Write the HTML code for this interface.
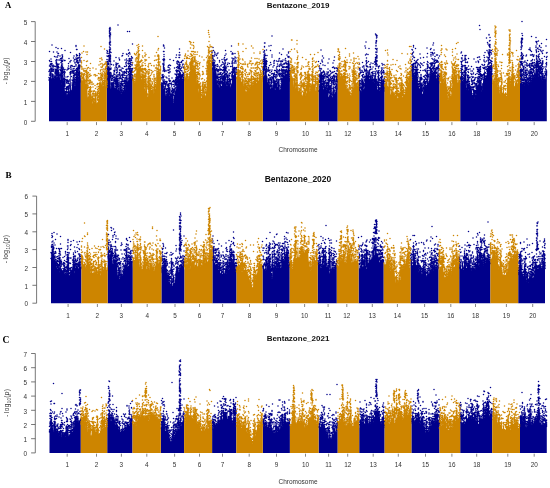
<!DOCTYPE html>
<html><head><meta charset="utf-8"><title>Manhattan plots</title>
<style>
html,body{margin:0;padding:0;background:#fff;}
body{width:550px;height:488px;overflow:hidden;}
svg{display:block;}
.tk{font-family:"Liberation Sans",Arial,sans-serif;font-size:6.4px;fill:#333;}
.yl{font-family:"Liberation Sans",Arial,sans-serif;fill:#333;}
.xl{font-family:"Liberation Sans",Arial,sans-serif;font-size:6.5px;fill:#333;}
.ti{font-family:"Liberation Sans",Arial,sans-serif;font-weight:bold;fill:#111;}
.pl{font-family:"Liberation Serif","Times New Roman",serif;font-weight:bold;fill:#000;}
.d{stroke-width:1.5;stroke-linecap:round;fill:none;}
</style></head><body>
<svg width="550" height="488" viewBox="0 0 550 488">
<rect width="550" height="488" fill="#fff"/>
<g class="dots">
<path fill="#00008B" d="M49 121.3L49 78.9L49.5 78.6L50 77.4L50.5 77.1L51 78.5L51.5 78.1L52 79.7L52.5 79.3L53 77.7L53.5 77.4L54 78.7L54.5 78.9L55 75.9L55.5 76L56 73.7L56.5 73.7L57 78.2L57.5 78.3L58 78.9L58.5 79L59 75.9L59.5 76.7L60 77.8L60.5 78.6L61 80.2L61.5 81L62 84.9L62.5 85.7L63 83.8L63.5 84.9L64 83.7L64.5 84.8L65 92L65.5 93L66 91.5L66.5 91.5L67 95.8L67.5 95.8L68 93.9L68.5 93.9L69 95.6L69.5 94.8L70 73.7L70.5 73.7L71 90.7L71.5 89.9L72 84.5L72.5 83.5L73 82.8L73.5 81.8L74 81.9L74.5 80.9L75 86.8L75.5 85.8L76 73.7L76.5 73.7L77 77.1L77.5 77L78 73.7L78.5 73.7L79 80.9L79.5 80.7L80 77.4L80.5 77.3L80.8 77.2L80.8 121.3ZM106.8 121.3L106.8 73.7L107.3 73.7L107.8 75.9L108.3 75.9L108.8 76L109.3 76L109.8 76.7L110.3 76.7L110.8 88.6L111.3 88.9L111.8 82.6L112.3 83.1L112.8 81.6L113.3 82.1L113.8 81.1L114.3 81.8L114.8 88L115.3 88.8L115.8 80.5L116.3 81.3L116.8 85.5L117.3 86.2L117.8 89.5L118.3 90.1L118.8 73.7L119.3 73.7L119.8 91.1L120.3 91.7L120.8 93.5L121.3 93.7L121.8 84.3L122.3 84.1L122.8 92.1L123.3 91.9L123.8 90L124.3 89.8L124.8 91.9L125.3 90.1L125.8 85.8L126.3 83L126.8 83.1L127.3 81.8L127.8 73.7L128.3 73.7L128.8 80.9L129.3 80.7L129.8 73.7L130.3 73.7L130.8 73.9L131.3 73.7L131.8 78.8L132.3 78.5L132.5 78.4L132.5 121.3ZM160.8 121.3L160.8 84.7L161.3 84.7L161.8 82.6L162.3 82.6L162.8 84.9L163.3 85.7L163.8 88.7L164.3 90L164.8 88.2L165.3 89.5L165.8 95.4L166.3 96.2L166.8 91.1L167.3 91.5L167.8 94.4L168.3 94.8L168.8 91.5L169.3 91.9L169.8 96.4L170.3 96.7L170.8 97.5L171.3 97.7L171.8 94.8L172.3 95L172.8 92.7L173.3 92.9L173.8 102.9L174.3 101.5L174.8 92.6L175.3 90.3L175.8 86.4L176.3 84.5L176.8 88.9L177.3 87.3L177.8 84.1L178.3 82.5L178.8 76.4L179.3 75.8L179.8 80.1L180.3 80.1L180.8 79.6L181.3 79.6L181.8 75.7L182.3 75.7L182.8 80.5L183.3 80.5L183.8 80.2L184.1 80.2L184.1 121.3ZM212.1 121.3L212.1 67.5L212.6 68L213.1 68.5L213.6 69.4L214.1 72.2L214.6 73.1L215.1 70.9L215.6 73.3L216.1 74.7L216.6 77.1L217.1 84L217.6 85L218.1 82.7L218.6 83.7L219.1 87.8L219.6 88.9L220.1 89.7L220.6 89.4L221.1 88.7L221.6 88.4L222.1 82.8L222.6 82.5L223.1 84.8L223.6 84.5L224.1 78.4L224.6 78.1L225.1 77.5L225.6 77.6L226.1 86.5L226.6 86.7L227.1 85.7L227.6 85.9L228.1 81L228.6 81.2L229.1 86.9L229.6 87.1L230.1 89.4L230.6 88.1L231.1 88.6L231.6 87.2L232.1 77.7L232.6 76.4L233.1 75.6L233.6 75.4L234.1 80.3L234.6 80L235.1 73.3L235.6 73.1L236.1 77.5L236.3 77.5L236.3 121.3ZM262.8 121.3L262.8 68.9L263.3 69.2L263.8 67.7L264.3 67.7L264.8 76.1L265.3 76.6L265.8 67.7L266.3 69.2L266.8 76.5L267.3 79.7L267.8 82.6L268.3 84.1L268.8 84.5L269.3 84.9L269.8 85.8L270.3 86.1L270.8 89L271.3 89.4L271.8 85.9L272.3 86.2L272.8 88.1L273.3 88.5L273.8 87.5L274.3 87.8L274.8 89.6L275.3 89.3L275.8 90.3L276.3 89.7L276.8 88.4L277.3 87.8L277.8 85.3L278.3 84.6L278.8 79.4L279.3 78.7L279.8 89.9L280.3 88.9L280.8 85.7L281.3 84.4L281.8 79.6L282.3 78.2L282.8 78.3L283.3 77.8L283.8 78.3L284.3 78.4L284.8 76.1L285.3 76.2L285.8 77.7L286.3 77.9L286.8 73.3L287.3 73.4L287.8 79.1L288.3 79.2L288.8 79.6L289.3 79.7L289.8 80.1L289.9 80.2L289.9 121.3ZM318.6 121.3L318.6 89.7L319.1 89.8L319.6 84.7L320.1 84.9L320.6 82.4L321.1 82.7L321.6 83.5L322.1 83.8L322.6 85.5L323.1 85.7L323.6 89.4L324.1 89.6L324.6 85.4L325.1 85.9L325.6 87.7L326.1 89.3L326.6 89.8L327.1 91.4L327.6 89.3L328.1 90.7L328.6 96.7L329.1 97.5L329.6 95.2L330.1 96L330.6 98.6L331.1 99.4L331.6 82.4L332.1 82.6L332.6 98.2L333.1 96.1L333.6 87.5L334.1 85.4L334.6 94.2L335.1 92.2L335.6 91.1L336.1 89.5L336.6 82.9L337.1 81.4L337.6 81.9L337.7 81.9L337.7 121.3ZM359.2 121.3L359.2 88.6L359.7 88.9L360.2 89.6L360.7 89.9L361.2 91.9L361.7 92.2L362.2 87.9L362.7 88.3L363.2 88.9L363.7 89.2L364.2 88.2L364.7 82.6L365.2 78L365.7 76.9L366.2 74.8L366.7 73.7L367.2 76.3L367.7 75.3L368.2 69.9L368.7 70.7L369.2 78.9L369.7 79.7L370.2 77.3L370.7 78.3L371.2 77L371.7 78.1L372.2 80.9L372.7 82L373.2 80.9L373.7 79.7L374.2 83.6L374.7 82.4L375.2 78.6L375.7 80.2L376.2 81.1L376.7 82.7L377.2 88.3L377.7 89.9L378.2 85L378.7 85.2L379.2 90.6L379.7 90.8L380.2 89.7L380.7 89.8L381.2 91.4L381.7 91.5L382.2 87.2L382.7 87.4L383.2 90.4L383.7 90.5L384.2 86.5L384.6 86.5L384.6 121.3ZM411.4 121.3L411.4 69.7L411.9 69.7L412.4 69.7L412.9 69.7L413.4 73.7L413.9 74L414.4 75.8L414.9 76.1L415.4 71.2L415.9 71.5L416.4 73.6L416.9 73.9L417.4 83.3L417.9 85.7L418.4 85.2L418.9 87.6L419.4 88.4L419.9 88.9L420.4 84.5L420.9 85.1L421.4 86.1L421.9 86.6L422.4 93.7L422.9 94.2L423.4 87.7L423.9 88.2L424.4 86.8L424.9 87.4L425.4 89.9L425.9 89.1L426.4 86.9L426.9 86.2L427.4 76L427.9 75.2L428.4 83.4L428.9 82.6L429.4 76L429.9 73.7L430.4 76.3L430.9 73.9L431.4 74.8L431.9 74.3L432.4 76.9L432.9 76.4L433.4 73.4L433.9 72.9L434.4 75.9L434.9 76.7L435.4 69.7L435.9 69.8L436.4 79.2L436.9 79.9L437.4 71.8L437.9 72.5L438.4 80.5L438.9 81.1L439.4 84L439.5 84L439.5 121.3ZM460.2 121.3L460.2 77.4L460.7 77.4L461.2 69.7L461.7 69.7L462.2 81.4L462.7 81.5L463.2 81.8L463.7 82L464.2 78.2L464.7 78.3L465.2 81.8L465.7 82L466.2 88.2L466.7 89.5L467.2 84.6L467.7 85.9L468.2 86.4L468.7 87.8L469.2 93L469.7 93.2L470.2 85.8L470.7 86.1L471.2 86.7L471.7 86.9L472.2 94.8L472.7 95L473.2 90.9L473.7 91.1L474.2 98.9L474.7 99.2L475.2 94.7L475.7 94.9L476.2 96.2L476.7 96.1L477.2 92.7L477.7 92.5L478.2 91.3L478.7 91.2L479.2 91L479.7 90.8L480.2 92.9L480.7 92.8L481.2 92.7L481.7 92.5L482.2 88.6L482.7 86.4L483.2 79.3L483.7 77.1L484.2 69.7L484.7 69.7L485.2 78L485.7 76.9L486.2 76L486.7 74.9L487.2 71.5L487.7 70.4L488.2 71.9L488.7 72.3L489.2 69.7L489.7 70L490.2 70.9L490.7 71.2L491.2 73.3L491.7 73.7L492.2 78.4L492.2 121.3ZM520 121.3L520 75.4L520.5 76.1L521 78L521.5 78.8L522 83.1L522.5 84L523 81.6L523.5 82.4L524 82.7L524.5 82.9L525 85.8L525.5 86L526 84.5L526.5 84.7L527 85L527.5 85.2L528 85.6L528.5 85L529 82.9L529.5 82.3L530 79.7L530.5 79.1L531 83.2L531.5 82.6L532 76.7L532.5 75.9L533 78.2L533.5 77.4L534 73.7L534.5 73.7L535 77.4L535.5 76.6L536 73.7L536.5 73.7L537 73.7L537.5 73.7L538 73.7L538.5 73.7L539 77.2L539.5 77.4L540 78.1L540.5 78.2L541 73.7L541.5 73.7L542 80.7L542.5 80.8L543 80L543.5 80.2L544 76.1L544.5 76.2L545 80.4L545.5 80.5L546 73.7L546.5 73.7L546.8 73.7L546.8 121.3Z"/>
<path class="d" stroke="#00008B" d="M49 71.5h0m0 6h0m0 2.5h0m.5-28.5h0m0 9h0m0 5.5h0m0 4h0m0 5h0m0 3.5h0m0 .5h0m0 1h0m.5-18.5h0m0 3.5h0m0 4.5h0m0 1.5h0m0 2h0m0 .5h0m0 2h0m.5-11.5h0m0 2.5h0m0 2.5h0m0 2h0m0 1.5h0m0 1.5h0m0 1h0m0 .5h0m0 .5h0m0 1.5h0m0 .5h0m.5-19h0m0 4.5h0m0 3.5h0m0 1h0m0 .5h0m0 2.5h0m0 .5h0m0 1.5h0m0 4h0m.5-15.5h0m0 3.5h0m0 3.5h0m0 1h0m0 2h0m0 2.5h0m0 5.5h0m.5-34.5h0m0 18.5h0m0 5.5h0m0 1.5h0m0 .5h0m0 4.5h0m0 1h0m0 2h0m0 .5h0m0 .5h0m.5-13.5h0m0 3h0m0 2h0m0 3h0m0 .5h0m0 .5h0m0 .5h0m0 .5h0m0 1h0m0 1h0m0 .5h0m0 1h0m0 .5h0m0 .5h0m.5-15.5h0m0 1.5h0m0 1h0m0 2h0m0 2h0m0 3h0m0 1h0m0 1.5h0m0 .5h0m0 .5h0m0 2h0m.5-28h0m0 17.5h0m0 1.5h0m0 7.5h0m.5-12.5h0m0 3h0m0 7h0m.5-19.5h0m0 19.5h0m0 1.5h0m0 .5h0m0 1.5h0m.5-13h0m0 4.5h0m0 1.5h0m0 1h0m0 .5h0m0 3h0m.5-10.5h0m0 3h0m0 1h0m0 2.5h0m.5-25.5h0m0 9.5h0m0 3.5h0m0 .5h0m0 2h0m0 6h0m0 .5h0m0 .5h0m0 .5h0m0 1h0m0 1h0m0 .5h0m0 1h0m0 1.5h0m.5-16h0m0 1.5h0m0 1.5h0m0 1h0m0 1h0m0 .5h0m0 2h0m0 2.5h0m0 1h0m0 1h0m0 .5h0m0 1h0m0 .5h0m0 .5h0m0 .5h0m0 .5h0m.5-23h0m0 11.5h0m0 2.5h0m0 3h0m0 1h0m0 1h0m0 1h0m0 1h0m0 .5h0m0 2h0m0 2.5h0m0 1h0m0 .5h0m.5-22.5h0m0 7.5h0m0 1.5h0m0 1.5h0m0 1h0m0 1.5h0m0 3.5h0m0 1h0m0 1.5h0m0 1.5h0m0 1h0m0 1h0m.5-31h0m0 5h0m0 2h0m0 4.5h0m0 4.5h0m0 1h0m0 .5h0m0 4h0m0 .5h0m0 1h0m0 1h0m0 .5h0m0 1h0m0 1h0m0 .5h0m0 1h0m0 .5h0m0 .5h0m0 1h0m0 .5h0m0 .5h0m0 .5h0m.5-26.5h0m0 13h0m0 1.5h0m0 2h0m0 .5h0m0 1h0m0 1h0m0 1h0m0 .5h0m0 3h0m0 .5h0m0 1h0m0 1h0m0 .5h0m0 .5h0m.5-16.5h0m0 3.5h0m0 5h0m0 1.5h0m0 .5h0m0 .5h0m0 1h0m0 .5h0m0 1.5h0m0 1.5h0m0 .5h0m.5-20h0m0 15.5h0m.5-19.5h0m0 13.5h0m0 4.5h0m.5-15.5h0m0 11.5h0m0 .5h0m0 4h0m0 .5h0m0 .5h0m0 1.5h0m.5-17h0m0 .5h0m0 2h0m0 4.5h0m0 .5h0m0 .5h0m0 2h0m0 1h0m0 1h0m0 .5h0m0 .5h0m0 3h0m0 .5h0m0 1.5h0m0 .5h0m0 2h0m0 .5h0m0 .5h0m0 .5h0m0 .5h0m.5-34h0m0 10h0m0 3.5h0m0 2h0m0 1.5h0m0 2.5h0m0 .5h0m0 2h0m0 2h0m0 .5h0m0 1h0m0 1h0m0 .5h0m0 1.5h0m0 1h0m0 .5h0m0 .5h0m0 .5h0m0 .5h0m0 .5h0m0 .5h0m0 .5h0m0 .5h0m.5-27h0m0 2.5h0m0 .5h0m0 2.5h0m0 5.5h0m0 .5h0m0 1h0m0 .5h0m0 1h0m0 2h0m0 .5h0m0 .5h0m0 1h0m0 1h0m0 .5h0m0 .5h0m0 1h0m0 1.5h0m0 1h0m0 1h0m0 .5h0m0 1h0m0 .5h0m0 .5h0m0 .5h0m0 1h0m0 .5h0m0 .5h0m0 .5h0m0 .5h0m0 .5h0m0 .5h0m0 .5h0m.5-32h0m0 1.5h0m0 1.5h0m0 3.5h0m0 2.5h0m0 2h0m0 1h0m0 3h0m0 .5h0m0 .5h0m0 1.5h0m0 1.5h0m0 1.5h0m0 .5h0m0 .5h0m0 1.5h0m0 2h0m0 1h0m0 1h0m0 .5h0m0 .5h0m0 .5h0m0 .5h0m0 .5h0m0 .5h0m0 .5h0m0 .5h0m0 .5h0m0 .5h0m.5-27h0m0 9h0m0 .5h0m0 2h0m0 1.5h0m0 5h0m0 1.5h0m0 .5h0m0 .5h0m0 1.5h0m0 1h0m0 .5h0m0 .5h0m0 .5h0m0 .5h0m0 .5h0m0 .5h0m0 .5h0m.5-18.5h0m0 4h0m0 6h0m0 1h0m0 2h0m0 3h0m0 .5h0m0 .5h0m0 .5h0m0 .5h0m.5-16h0m0 4.5h0m0 1.5h0m0 2.5h0m0 1h0m0 2h0m0 .5h0m0 .5h0m0 .5h0m0 1h0m0 1h0m0 1h0m.5-25.5h0m0 11h0m0 1.5h0m0 .5h0m0 1.5h0m0 3.5h0m0 .5h0m0 .5h0m0 .5h0m0 1.5h0m0 1.5h0m0 .5h0m0 1h0m0 .5h0m0 1.5h0m.5-36h0m0 10h0m0 9h0m0 2.5h0m0 .5h0m0 4.5h0m0 4h0m0 .5h0m0 1.5h0m0 .5h0m0 1h0m0 .5h0m0 1h0m0 2.5h0m.5-9h0m0 12h0m0 1h0m0 1.5h0m.5-5h0m0 3h0m0 .5h0m.5-12h0m0 .5h0m0 1.5h0m0 4.5h0m0 .5h0m0 .5h0m0 1h0m0 .5h0m0 1.5h0m0 1h0m.5-22h0m0 7h0m0 2.5h0m0 1.5h0m0 1h0m0 1.5h0m0 3.5h0m0 1h0m0 3.5h0m0 1h0m0 2.5h0m.5-8.5h0m0 .5h0m0 8h0m0 1h0m0 .5h0m0 .5h0m.5-29h0m0 1h0m0 7.5h0m0 4h0m0 .5h0m0 1h0m0 5h0m0 1h0m0 1.5h0m0 3h0m0 .5h0m0 1h0m0 1h0m0 .5h0m0 1h0m0 .5h0m0 .5h0m.5-34h0m0 2.5h0m0 3h0m0 13h0m0 1.5h0m0 2.5h0m0 .5h0m0 1h0m0 1.5h0m0 .5h0m0 1.5h0m0 .5h0m0 1h0m0 .5h0m0 .5h0m.5-35h0m0 10h0m0 13h0m0 6.5h0m0 3h0m0 .5h0m0 .5h0m0 .5h0m0 .5h0m0 1.5h0m0 .5h0m0 .5h0m.5-15.5h0m0 4h0m0 1.5h0m0 2.5h0m0 4h0m0 1h0m0 1.5h0m0 .5h0m0 1h0m.5-34.5h0m0 .5h0m0 10.5h0m0 1.5h0m0 12.5h0m0 6.5h0m0 .5h0m0 .5h0m0 1h0m.5-42.5h0m0 14.5h0m0 4.5h0m0 1.5h0m0 1h0m.5-13.5h0m0 5h0m0 .5h0m0 2h0m0 1.5h0m0 2.5h0m0 1.5h0m.5-1.5h0m0 4.5h0m.5-11h0m0 5.5h0m0 9h0m0 3h0m0 2h0m0 5.5h0m0 .5h0m.5-19h0m0 8.5h0m.5-14h0m0 2.5h0m0 1.5h0m0 1h0m0 1.5h0m0 .5h0m0 4.5h0m0 2h0m0 .5h0m0 .5h0m0 .5h0m0 1h0m0 .5h0m.5-25h0m0 13h0m0 2.5h0m0 2h0m0 1.5h0m0 .5h0m0 .5h0m0 1.5h0m0 .5h0m0 1h0m0 1h0m0 .5h0m0 .5h0m.5-27h0m0 5h0m0 7.5h0m0 3h0m0 1h0m0 4h0m0 .5h0m0 1h0m0 .5h0m0 1.5h0m0 1h0m0 1.5h0m0 1h0m.5-24h0m0 7h0m0 4h0m0 4h0m0 .5h0m0 .5h0m0 3.5h0m0 .5h0m0 1.5h0m0 .5h0m0 .5h0m0 .5h0m.5-20h0m0 .5h0m0 10.5h0m0 .5h0m0 1h0m0 .5h0m0 3.5h0m0 2h0m0 .5h0m0 .5h0m0 .5h0m0 2h0m0 2.5h0m.5-17h0m0 7.5h0m0 2.5h0m0 3h0m0 1h0m0 1h0m0 1.5h0m0 .5h0m.5-41.5h0m0 1h0m0 11.5h0m0 1.5h0m0 5h0m0 1h0m0 .5h0m0 4.5h0m0 2h0m0 2h0m0 5h0m0 2.5h0m0 .5h0m0 1h0m0 2.5h0m.5-36.5h0m0 5h0m0 1.5h0m0 5h0m0 1h0m0 6.5h0m0 1.5h0m0 1h0m0 .5h0m0 .5h0m0 .5h0m0 .5h0m0 .5h0m0 .5h0m0 .5h0m0 .5h0m.5-25.5h0m0 9.5h0m0 3h0m0 7h0m0 3.5h0m0 .5h0m0 1h0m0 .5h0m0 1.5h0m0 .5h0m0 .5h0m0 1h0m.5-22.5h0m0 2.5h0m0 2.5h0m0 2h0m0 5.5h0m0 .5h0m0 .5h0m0 1h0m0 1.5h0m0 .5h0m0 2.5h0m0 2h0m0 .5h0m0 .5h0m.5-19.5h0m0 .5h0m0 2.5h0m0 2.5h0m0 3.5h0m0 1h0m0 .5h0m0 1.5h0m0 2h0m0 .5h0m0 1.5h0m0 .5h0m0 1h0m0 2h0m0 .5h0m.5-15.5h0m0 3h0m0 1.5h0m0 .5h0m0 5h0m0 .5h0m.5-15.5h0m0 7h0m0 1h0m0 1.5h0m0 1.5h0m0 .5h0m0 1.5h0m0 .5h0m0 2h0m0 .5h0m0 1h0m0 .5h0m0 .5h0m0 .5h0m0 1.5h0m0 .5h0m0 1h0m0 .5h0m0 .5h0m0 1h0m0 .5h0m0 .5h0m.5-28.5h0m0 .5h0m0 1.5h0m0 .5h0m0 4h0m0 7.5h0m0 .5h0m0 .5h0m0 .5h0m0 2h0m0 .5h0m0 .5h0m0 .5h0m0 .5h0m0 1h0m0 .5h0m0 .5h0m0 .5h0m0 1h0m0 .5h0m0 .5h0m0 .5h0m0 .5h0m0 .5h0m0 .5h0m0 .5h0m0 .5h0m0 .5h0m0 .5h0m0 .5h0m.5-27.5h0m0 3.5h0m0 1h0m0 1.5h0m0 .5h0m0 1h0m0 3.5h0m0 1h0m0 7h0m0 2h0m0 1h0m0 .5h0m0 2.5h0m0 .5h0m0 .5h0m0 .5h0m0 .5h0m0 .5h0m.5-5.5h0m.5 0h0m26-26h0m0 2.5h0m0 3h0m0 3.5h0m0 2h0m0 .5h0m0 2h0m0 1h0m0 1h0m0 2.5h0m0 2h0m0 .5h0m0 .5h0m0 1h0m0 .5h0m0 .5h0m0 .5h0m0 .5h0m0 .5h0m.5-23.5h0m0 14.5h0m0 .5h0m0 1.5h0m0 .5h0m0 1h0m0 1h0m0 .5h0m0 .5h0m0 .5h0m0 1.5h0m0 1h0m0 .5h0m.5-21.5h0m0 3h0m0 5h0m0 1.5h0m0 1h0m0 .5h0m0 2h0m0 5h0m0 .5h0m0 1h0m0 .5h0m0 1.5h0m0 1h0m0 1h0m.5-21.5h0m0 .5h0m0 4h0m0 3h0m0 1.5h0m0 2.5h0m0 1h0m0 1.5h0m0 1h0m0 .5h0m0 .5h0m0 .5h0m0 1h0m0 1h0m0 .5h0m0 .5h0m0 .5h0m.5-17.5h0m0 6h0m0 5h0m0 1.5h0m0 1.5h0m0 1.5h0m0 1h0m0 .5h0m0 2h0m.5-48.5h0m0 1.5h0m0 1h0m0 .5h0m0 1h0m0 1h0m0 2h0m0 1h0m0 6h0m0 1h0m0 .5h0m0 3h0m0 2.5h0m0 .5h0m0 .5h0m0 .5h0m0 .5h0m0 1h0m0 1h0m0 2h0m0 1.5h0m0 .5h0m0 .5h0m0 .5h0m0 .5h0m0 .5h0m0 .5h0m0 .5h0m0 .5h0m0 .5h0m0 6.5h0m0 .5h0m0 .5h0m0 .5h0m0 .5h0m0 2h0m0 .5h0m0 .5h0m0 2.5h0m0 .5h0m.5-48.5h0m0 1h0m0 .5h0m0 1.5h0m0 2.5h0m0 1h0m0 .5h0m0 2h0m0 1h0m0 1h0m0 1.5h0m0 1.5h0m0 .5h0m0 1h0m0 2h0m0 2.5h0m0 1h0m0 1.5h0m0 4.5h0m0 .5h0m0 .5h0m0 .5h0m0 2.5h0m0 .5h0m0 .5h0m0 .5h0m0 .5h0m0 .5h0m0 5h0m0 2.5h0m0 5.5h0m0 .5h0m0 .5h0m0 1h0m.5-47h0m0 4h0m0 1.5h0m0 .5h0m0 7h0m0 3h0m0 4h0m0 3h0m0 3.5h0m0 .5h0m0 .5h0m0 1.5h0m0 1h0m0 2h0m0 .5h0m0 .5h0m0 2h0m0 5.5h0m0 3h0m0 2.5h0m0 .5h0m0 .5h0m0 1h0m0 .5h0m.5-25h0m0 15.5h0m0 1h0m0 4h0m0 .5h0m0 3.5h0m0 .5h0m0 .5h0m0 1h0m0 4h0m0 1h0m0 3h0m0 2h0m0 .5h0m0 1h0m.5-26h0m0 10.5h0m0 4h0m0 1.5h0m0 2.5h0m0 .5h0m0 1.5h0m0 1h0m0 2h0m0 .5h0m0 .5h0m0 .5h0m0 .5h0m0 .5h0m.5-14.5h0m0 4h0m0 .5h0m0 2.5h0m0 1.5h0m0 1h0m0 2.5h0m.5-11.5h0m0 2h0m0 4.5h0m0 1.5h0m.5-9h0m0 2h0m.5-12.5h0m0 15h0m0 3.5h0m.5-22.5h0m0 9.5h0m0 .5h0m0 2h0m0 1h0m0 .5h0m0 2.5h0m0 .5h0m0 2h0m0 1h0m0 1.5h0m.5-11.5h0m0 .5h0m0 .5h0m0 3h0m0 4.5h0m0 1h0m0 1h0m.5-13h0m0 2h0m0 7h0m0 4h0m0 2.5h0m0 5h0m0 .5h0m.5-11h0m0 .5h0m0 1.5h0m0 1h0m0 .5h0m0 1h0m0 1h0m0 3h0m0 2.5h0m0 1h0m.5-32.5h0m0 5.5h0m0 1.5h0m0 1.5h0m0 .5h0m0 8.5h0m0 4h0m0 2.5h0m0 1h0m0 1h0m0 1h0m0 2h0m0 3h0m0 1h0m.5-26.5h0m0 1h0m0 2.5h0m0 2.5h0m0 2.5h0m0 .5h0m0 3h0m0 .5h0m0 1.5h0m0 1h0m0 .5h0m0 1h0m0 .5h0m0 .5h0m0 1h0m.5-18.5h0m0 4h0m0 2.5h0m0 6h0m0 1.5h0m0 3.5h0m0 1.5h0m0 .5h0m0 .5h0m0 1h0m0 .5h0m0 1.5h0m0 .5h0m.5-18.5h0m0 3h0m0 4h0m0 2.5h0m0 1h0m0 1.5h0m0 .5h0m0 .5h0m0 1h0m0 1h0m0 .5h0m0 1h0m0 1.5h0m.5-62h0m0 38.5h0m0 11h0m0 1.5h0m0 4.5h0m0 4h0m0 2h0m0 4h0m.5-23.5h0m0 16h0m0 3.5h0m0 2h0m0 1.5h0m0 1.5h0m.5-33.5h0m0 7.5h0m0 13h0m0 6.5h0m0 1h0m0 5.5h0m.5-32h0m0 .5h0m0 6h0m0 4h0m0 2.5h0m0 1.5h0m0 1h0m.5-8h0m0 3.5h0m0 3.5h0m0 3.5h0m0 5.5h0m0 5h0m0 2h0m0 3h0m0 .5h0m.5-17.5h0m0 1h0m0 1.5h0m0 5h0m0 .5h0m0 1.5h0m0 .5h0m0 .5h0m0 2h0m0 .5h0m0 .5h0m0 .5h0m0 .5h0m0 1h0m0 .5h0m0 1h0m.5-23.5h0m0 12h0m0 2h0m0 1h0m0 3h0m0 2h0m0 1h0m0 1.5h0m0 .5h0m0 2.5h0m.5-24h0m0 4h0m0 4h0m0 3h0m0 1h0m0 .5h0m0 1.5h0m0 2h0m0 1h0m0 3h0m0 1.5h0m0 2h0m.5-38.5h0m0 12h0m0 10h0m0 3h0m0 2.5h0m0 1h0m0 .5h0m0 5h0m0 2.5h0m0 2h0m.5-39h0m0 16.5h0m0 2h0m0 1.5h0m0 1h0m0 .5h0m0 2.5h0m0 1.5h0m0 .5h0m0 2.5h0m0 1.5h0m.5-32h0m0 15h0m0 13h0m0 2.5h0m0 1.5h0m0 5.5h0m.5-19h0m0 3h0m0 2.5h0m0 11h0m0 3h0m0 .5h0m0 1h0m.5-19.5h0m0 1.5h0m0 5.5h0m0 1h0m0 2h0m0 3h0m0 1.5h0m0 2h0m0 .5h0m0 .5h0m0 .5h0m.5-25h0m0 5h0m0 1.5h0m0 8.5h0m0 1.5h0m0 .5h0m0 2h0m0 1h0m0 .5h0m0 .5h0m0 1h0m0 .5h0m0 .5h0m0 .5h0m0 .5h0m0 .5h0m.5-31h0m0 12.5h0m0 3h0m0 2.5h0m0 .5h0m0 1h0m0 .5h0m0 .5h0m0 1.5h0m0 .5h0m0 3.5h0m0 .5h0m0 1h0m0 .5h0m0 .5h0m0 1h0m0 1.5h0m.5-9.5h0m0 2h0m0 .5h0m0 .5h0m0 1h0m0 1h0m0 2.5h0m0 1.5h0m.5-28h0m0 1h0m0 .5h0m0 2.5h0m0 3h0m0 2.5h0m0 .5h0m0 5h0m0 3h0m0 .5h0m0 .5h0m0 1.5h0m0 .5h0m0 2h0m0 1h0m0 .5h0m0 2h0m.5-35h0m0 5h0m0 3h0m0 3.5h0m0 5.5h0m0 1h0m0 1.5h0m0 2.5h0m0 1.5h0m0 .5h0m0 1h0m0 2h0m0 .5h0m0 .5h0m0 .5h0m.5-28h0m0 6h0m0 8.5h0m0 .5h0m0 2h0m0 4h0m0 3h0m0 1h0m0 2h0m0 .5h0m0 1h0m0 .5h0m.5-52h0m0 51h0m.5-19h0m.5-13.5h0m0 3.5h0m0 2.5h0m0 5h0m0 2h0m0 1h0m0 2.5h0m0 .5h0m0 1.5h0m0 3.5h0m0 .5h0m0 2h0m.5-15.5h0m0 2h0m0 7.5h0m0 1h0m0 2h0m0 2.5h0m0 4.5h0m0 2h0m0 .5h0m0 .5h0m.5-50h0m0 21h0m0 6h0m0 1.5h0m0 3.5h0m0 2h0m0 1h0m0 2.5h0m0 1.5h0m0 1h0m0 2h0m0 1.5h0m0 .5h0m0 .5h0m0 1h0m0 .5h0m0 1h0m0 1.5h0m0 1h0m0 .5h0m.5-27.5h0m0 7.5h0m0 5.5h0m0 1.5h0m0 1h0m0 .5h0m0 5h0m0 3h0m0 1.5h0m0 .5h0m0 2h0m.5-22h0m0 3h0m0 1.5h0m0 2h0m0 5h0m0 1h0m0 1.5h0m0 .5h0m.5-16h0m0 1h0m0 3h0m0 6h0m0 2h0m0 2h0m0 1h0m0 1.5h0m.5-18.5h0m0 3.5h0m0 .5h0m0 8.5h0m0 2.5h0m0 3h0m.5-17h0m0 7h0m0 1h0m0 5h0m0 1.5h0m0 .5h0m0 2h0m0 2h0m0 .5h0m0 .5h0m0 .5h0m0 1.5h0m0 .5h0m.5-36h0m0 14h0m0 4.5h0m0 6h0m0 .5h0m0 3h0m0 3.5h0m0 2.5h0m0 .5h0m0 1.5h0m28.5-2h0m0 1h0m0 5.5h0m.5-1.5h0m0 3h0m.5-11h0m0 2.5h0m0 6h0m.5-7.5h0m0 1h0m0 .5h0m0 6.5h0m.5-24.5h0m0 4h0m0 1h0m0 6.5h0m0 3.5h0m0 2h0m0 1.5h0m0 1h0m0 1h0m0 .5h0m0 1.5h0m0 1h0m0 1.5h0m0 1.5h0m0 1h0m.5-42h0m0 1h0m0 5.5h0m0 8.5h0m0 .5h0m0 4.5h0m0 1h0m0 .5h0m0 1h0m0 1h0m0 .5h0m0 8h0m0 .5h0m0 4h0m0 .5h0m0 2h0m0 2h0m0 1h0m.5-41h0m0 5.5h0m0 3h0m0 2h0m0 2h0m0 3.5h0m0 2h0m0 1h0m0 2.5h0m0 1h0m0 .5h0m0 1h0m0 6h0m0 5.5h0m0 1.5h0m0 6h0m0 1h0m.5-42h0m0 11.5h0m0 .5h0m0 9h0m0 1h0m0 1h0m0 .5h0m0 8.5h0m0 2h0m0 .5h0m0 1.5h0m0 4h0m0 1.5h0m0 2.5h0m.5-8.5h0m0 .5h0m0 2.5h0m0 2.5h0m.5-7.5h0m0 3h0m0 .5h0m0 1h0m0 1h0m.5-16.5h0m0 .5h0m0 6h0m0 5h0m0 1.5h0m0 1h0m0 4h0m0 3.5h0m0 3h0m.5-13.5h0m0 8h0m0 2h0m0 1h0m0 2.5h0m0 1.5h0m0 1h0m.5-19.5h0m0 3.5h0m0 1.5h0m0 2h0m0 5.5h0m0 1h0m0 1h0m0 .5h0m0 1.5h0m.5-6h0m.5-21.5h0m0 3h0m0 .5h0m0 14h0m0 1h0m0 .5h0m0 .5h0m0 2.5h0m0 1h0m0 1h0m0 3h0m0 2h0m.5-30.5h0m0 7h0m0 11.5h0m0 3h0m0 1h0m0 1.5h0m0 2.5h0m0 .5h0m0 1.5h0m0 .5h0m0 .5h0m0 1.5h0m.5-29h0m0 2.5h0m0 3h0m0 3h0m0 2.5h0m0 1h0m0 1h0m0 3.5h0m0 1.5h0m0 1.5h0m0 2h0m0 .5h0m0 1.5h0m0 1.5h0m0 1.5h0m0 2h0m.5-31h0m0 15.5h0m0 .5h0m0 .5h0m0 2h0m0 5h0m0 1h0m0 1.5h0m0 .5h0m0 .5h0m0 .5h0m0 1h0m.5-34h0m0 9.5h0m0 2.5h0m0 .5h0m0 8.5h0m0 3h0m0 4.5h0m0 1.5h0m0 1h0m0 1.5h0m0 .5h0m0 .5h0m0 .5h0m0 1h0m0 2h0m.5-31h0m0 15.5h0m0 2.5h0m0 12h0m0 .5h0m0 .5h0m0 .5h0m0 .5h0m0 .5h0m.5-14h0m0 10h0m0 .5h0m0 .5h0m0 1h0m0 1h0m.5-14h0m0 1h0m0 2h0m0 5h0m0 .5h0m0 3h0m0 .5h0m0 1.5h0m0 1.5h0m0 1.5h0m.5-21.5h0m0 6.5h0m0 3.5h0m0 2h0m0 .5h0m0 1.5h0m0 1h0m0 2.5h0m0 .5h0m.5-14.5h0m0 7h0m0 2h0m0 2h0m0 2h0m0 1h0m.5-6.5h0m0 .5h0m0 1.5h0m0 1.5h0m0 .5h0m0 1h0m0 1.5h0m.5-35h0m0 20h0m0 .5h0m0 .5h0m0 3h0m0 6.5h0m0 .5h0m0 1h0m.5-10.5h0m0 4.5h0m0 3h0m0 .5h0m0 2h0m0 3h0m0 4.5h0m0 .5h0m0 1h0m0 .5h0m.5-33.5h0m0 13h0m0 5h0m0 3h0m0 .5h0m0 1h0m0 1h0m0 .5h0m0 3.5h0m0 .5h0m0 1h0m0 .5h0m0 .5h0m0 .5h0m0 .5h0m0 .5h0m0 1h0m0 .5h0m0 .5h0m0 .5h0m.5-28h0m0 8h0m0 1.5h0m0 1h0m0 3.5h0m0 5.5h0m0 3.5h0m0 3h0m0 .5h0m0 1h0m.5-22h0m0 .5h0m0 3h0m0 2h0m0 3h0m.5-30.5h0m0 13h0m0 4h0m0 3h0m0 1h0m0 .5h0m0 .5h0m0 1.5h0m0 .5h0m0 .5h0m0 2h0m0 .5h0m0 3.5h0m.5-33h0m0 12.5h0m0 2.5h0m0 1.5h0m0 3h0m0 .5h0m0 .5h0m0 1.5h0m0 2h0m0 .5h0m0 1.5h0m0 .5h0m0 .5h0m0 .5h0m0 .5h0m0 1h0m0 1h0m.5-23.5h0m0 1h0m0 .5h0m0 .5h0m0 8h0m0 1h0m0 1.5h0m0 2h0m0 1.5h0m0 1.5h0m0 1.5h0m0 .5h0m0 .5h0m0 1h0m0 .5h0m0 .5h0m0 .5h0m0 .5h0m0 .5h0m0 1h0m0 .5h0m0 .5h0m0 .5h0m.5-26.5h0m0 3h0m0 2.5h0m0 .5h0m0 3.5h0m0 .5h0m0 7.5h0m0 3.5h0m0 1h0m0 1.5h0m0 1h0m0 1h0m0 .5h0m0 .5h0m0 .5h0m.5-19.5h0m0 5.5h0m0 2.5h0m0 .5h0m0 .5h0m0 .5h0m0 1.5h0m0 .5h0m0 .5h0m0 .5h0m0 1h0m0 .5h0m0 .5h0m0 5h0m.5-26.5h0m0 1h0m0 2.5h0m0 2.5h0m0 3.5h0m0 3h0m0 .5h0m0 1.5h0m0 .5h0m0 .5h0m0 .5h0m0 1h0m0 1h0m0 1h0m0 .5h0m0 1h0m0 .5h0m.5-27.5h0m0 2.5h0m0 7.5h0m0 1.5h0m0 1.5h0m0 2h0m0 4.5h0m0 1.5h0m0 1h0m0 3h0m0 2h0m0 1h0m.5-34h0m0 3.5h0m0 5h0m0 6.5h0m0 1.5h0m0 .5h0m0 .5h0m0 1.5h0m0 .5h0m0 3h0m0 1h0m0 1h0m0 .5h0m0 1h0m0 .5h0m0 1h0m.5-21.5h0m0 7.5h0m0 2h0m0 .5h0m0 1.5h0m0 2h0m0 4h0m0 4.5h0m0 1h0m0 1.5h0m.5-10.5h0m0 1h0m0 3h0m0 1h0m0 1.5h0m0 1.5h0m0 .5h0m0 1.5h0m0 .5h0m0 .5h0m0 .5h0m0 .5h0m.5-10.5h0m0 5h0m0 1h0m0 1h0m0 .5h0m0 2h0m.5-18.5h0m0 .5h0m0 .5h0m0 5.5h0m0 7h0m0 .5h0m0 1.5h0m0 1h0m0 1h0m0 2h0m.5-14h0m0 4h0m0 4.5h0m0 .5h0m0 1h0m0 2.5h0m0 .5h0m.5-19.5h0m0 4.5h0m0 9.5h0m0 .5h0m.5-14.5h0m0 3.5h0m0 .5h0m0 8h0m0 1.5h0m0 1.5h0m0 1h0m0 3h0m.5-12.5h0m0 6.5h0m0 3.5h0m0 .5h0m0 1h0m0 1h0m0 1h0m.5-12.5h0m0 7h0m0 4.5h0m0 1h0m28-29.5h0m0 1.5h0m0 3h0m0 2.5h0m0 3.5h0m0 1.5h0m0 1.5h0m0 4.5h0m.5-12.5h0m0 .5h0m0 4h0m0 1h0m0 .5h0m0 1.5h0m0 .5h0m0 .5h0m0 .5h0m0 2.5h0m0 .5h0m0 .5h0m.5-21.5h0m0 8h0m0 1h0m0 1.5h0m0 1h0m0 1h0m0 1.5h0m0 2h0m0 1h0m0 .5h0m0 1h0m0 1h0m0 1h0m0 1.5h0m.5-19h0m0 12h0m0 2h0m0 .5h0m0 1h0m0 .5h0m0 1.5h0m0 1h0m0 1h0m.5-10h0m0 3h0m0 1h0m0 1.5h0m0 .5h0m0 1.5h0m0 .5h0m0 .5h0m0 1h0m0 .5h0m0 .5h0m0 2.5h0m0 1h0m0 .5h0m.5-22.5h0m0 4h0m0 6.5h0m0 1.5h0m0 2h0m0 1.5h0m0 1.5h0m0 .5h0m0 .5h0m0 1.5h0m0 1h0m0 .5h0m0 .5h0m0 .5h0m.5-21h0m0 1.5h0m0 6.5h0m0 4.5h0m0 2h0m0 1.5h0m0 1h0m0 .5h0m0 2h0m0 1h0m0 .5h0m.5-4h0m0 .5h0m0 1h0m0 1.5h0m.5-8h0m0 1h0m0 3.5h0m0 2.5h0m0 2h0m0 1.5h0m0 1.5h0m0 .5h0m.5-22h0m0 13h0m0 8.5h0m0 1h0m.5-24h0m0 15h0m0 1.5h0m0 3.5h0m0 2h0m0 .5h0m0 .5h0m0 1.5h0m0 2h0m0 .5h0m0 .5h0m0 .5h0m.5-24h0m0 6.5h0m0 2h0m0 3.5h0m0 1h0m0 5.5h0m0 1h0m0 .5h0m0 3.5h0m0 .5h0m0 1h0m0 2h0m.5-32h0m0 13h0m0 6h0m0 3h0m0 2h0m0 1h0m0 1h0m0 2.5h0m0 1.5h0m0 .5h0m0 2h0m.5-16h0m0 1.5h0m0 3h0m0 .5h0m0 5h0m0 1h0m0 2.5h0m0 .5h0m.5-6.5h0m0 .5h0m0 3.5h0m0 1h0m0 1.5h0m0 .5h0m0 4.5h0m0 1h0m0 .5h0m.5-29.5h0m0 1.5h0m0 5h0m0 3h0m0 4.5h0m0 7h0m0 2.5h0m0 1h0m0 2h0m0 1.5h0m0 .5h0m0 .5h0m0 .5h0m.5-21.5h0m0 4.5h0m0 .5h0m0 4h0m0 2h0m0 1.5h0m0 1h0m0 1h0m0 2h0m0 .5h0m0 .5h0m0 .5h0m0 .5h0m0 .5h0m0 .5h0m0 3h0m.5-21.5h0m0 .5h0m0 3.5h0m0 .5h0m0 2.5h0m0 2h0m0 1.5h0m0 1.5h0m0 1h0m0 1h0m0 .5h0m0 1.5h0m0 1h0m0 .5h0m0 .5h0m0 1h0m0 .5h0m0 .5h0m0 .5h0m0 .5h0m.5-25h0m0 .5h0m0 6.5h0m0 2h0m0 2h0m0 2h0m0 3.5h0m0 1h0m0 3.5h0m0 .5h0m0 1h0m0 .5h0m0 1h0m.5-20h0m0 5.5h0m0 3h0m0 3.5h0m0 1h0m0 4.5h0m0 .5h0m0 1h0m0 .5h0m0 .5h0m.5-30h0m0 5h0m0 5.5h0m0 7h0m0 3h0m0 2.5h0m0 1h0m0 .5h0m0 2.5h0m0 .5h0m.5-25h0m0 8.5h0m0 3h0m0 .5h0m0 2h0m0 2.5h0m0 .5h0m0 .5h0m0 2h0m0 2h0m.5-21h0m0 5h0m0 10h0m0 .5h0m0 2.5h0m0 1h0m0 1h0m0 .5h0m0 1h0m.5-20h0m0 5.5h0m0 3.5h0m0 3h0m0 .5h0m0 .5h0m0 1.5h0m0 1h0m0 .5h0m0 .5h0m0 2h0m0 1h0m0 1.5h0m0 1h0m.5-27h0m0 7.5h0m0 .5h0m0 .5h0m0 1.5h0m0 1.5h0m0 1h0m0 .5h0m0 .5h0m0 3h0m0 .5h0m0 .5h0m0 1.5h0m0 1.5h0m0 1h0m0 3h0m0 1.5h0m.5-27.5h0m0 2.5h0m0 4h0m0 1.5h0m0 2h0m0 .5h0m0 1.5h0m0 1.5h0m0 1h0m0 2.5h0m0 1h0m0 .5h0m0 .5h0m0 .5h0m0 1h0m0 1h0m.5-23.5h0m0 5.5h0m0 1h0m0 1.5h0m0 .5h0m0 3h0m0 .5h0m0 1h0m0 .5h0m0 1h0m0 .5h0m0 .5h0m0 .5h0m0 .5h0m0 1h0m0 3h0m0 .5h0m0 .5h0m0 .5h0m0 .5h0m0 .5h0m0 .5h0m0 .5h0m.5-29h0m0 9.5h0m0 3h0m0 5.5h0m0 .5h0m0 .5h0m0 .5h0m0 .5h0m0 3.5h0m0 .5h0m0 3h0m0 .5h0m0 .5h0m0 .5h0m.5-25h0m0 6h0m0 6h0m0 1h0m0 3h0m0 .5h0m0 3.5h0m0 2h0m0 6h0m.5-22.5h0m0 8.5h0m0 5.5h0m0 8.5h0m0 1h0m0 .5h0m0 1h0m0 .5h0m0 1.5h0m0 1h0m.5-28.5h0m0 12.5h0m0 1.5h0m0 1.5h0m0 .5h0m0 .5h0m0 1h0m0 1h0m0 2h0m0 .5h0m0 .5h0m0 1h0m0 1h0m0 .5h0m0 .5h0m0 1h0m0 1h0m0 1h0m0 .5h0m0 1h0m.5-23.5h0m0 7.5h0m0 3.5h0m0 2h0m0 1.5h0m0 1.5h0m0 2.5h0m0 2h0m0 2h0m.5-24h0m0 3.5h0m0 10h0m0 1h0m0 2h0m0 2h0m0 1.5h0m0 1h0m1-14h0m0 4h0m0 1h0m0 .5h0m0 2.5h0m0 1.5h0m0 .5h0m0 1.5h0m0 2.5h0m0 1.5h0m0 .5h0m0 .5h0m0 1h0m.5-24h0m0 12h0m0 .5h0m0 2.5h0m0 1.5h0m0 .5h0m0 1h0m0 .5h0m0 2h0m0 1h0m0 1h0m0 .5h0m0 .5h0m0 .5h0m0 1h0m.5-15.5h0m0 6h0m0 .5h0m0 2h0m0 1.5h0m0 2h0m.5-18.5h0m0 7h0m0 6h0m0 1h0m0 1h0m0 1.5h0m0 .5h0m0 3.5h0m0 1.5h0m0 1h0m.5-38h0m0 32.5h0m0 4.5h0m0 .5h0m0 .5h0m0 .5h0m.5-44h0m0 26h0m0 4h0m0 3.5h0m0 6h0m0 .5h0m0 .5h0m0 .5h0m0 .5h0m0 1.5h0m.5-35h0m0 4h0m0 4h0m0 1.5h0m0 3h0m0 6h0m0 2h0m0 .5h0m0 1.5h0m0 .5h0m0 1h0m0 6.5h0m.5-31.5h0m0 8h0m0 2h0m0 2h0m0 1h0m0 3h0m0 .5h0m0 .5h0m0 1.5h0m0 .5h0m0 1.5h0m0 .5h0m0 .5h0m0 .5h0m0 .5h0m0 1.5h0m0 .5h0m.5-24h0m0 .5h0m0 5h0m0 1h0m0 3h0m0 4.5h0m0 1.5h0m0 3h0m0 1h0m0 3h0m0 .5h0m0 .5h0m0 .5h0m0 .5h0m.5-8.5h0m0 1.5h0m.5-12.5h0m0 10h0m0 1h0m0 1.5h0m0 1.5h0m0 3h0m0 .5h0m0 1h0m0 .5h0m0 1.5h0m0 1.5h0m0 1h0m.5-18.5h0m0 4.5h0m0 1h0m0 1h0m0 1.5h0m0 .5h0m0 1.5h0m0 1h0m0 .5h0m0 1h0m0 .5h0m0 .5h0m0 .5h0m0 .5h0m0 .5h0m0 .5h0m0 1h0m0 .5h0m0 .5h0m0 .5h0m0 .5h0m.5-28h0m0 3.5h0m0 3h0m0 1.5h0m0 6.5h0m0 .5h0m0 4.5h0m0 1.5h0m0 2h0m0 1h0m0 .5h0m0 1.5h0m0 .5h0m0 .5h0m0 1h0m.5-20.5h0m0 7h0m.5-10h0m0 3h0m0 2h0m0 5.5h0m0 1.5h0m0 1h0m0 1h0m0 1h0m0 1.5h0m0 3.5h0m0 .5h0m.5-11h0m0 2h0m0 3h0m0 1h0m26.5-12.5h0m0 6h0m0 2h0m.5-17h0m0 7.5h0m0 2h0m0 2h0m0 3h0m0 .5h0m0 1h0m0 .5h0m0 1h0m0 .5h0m0 .5h0m.5-15.5h0m0 2h0m0 .5h0m0 .5h0m0 5h0m0 1.5h0m0 .5h0m0 1h0m0 .5h0m0 .5h0m0 .5h0m0 .5h0m0 .5h0m0 .5h0m0 1h0m.5-27h0m0 3.5h0m0 .5h0m0 3.5h0m0 1.5h0m0 2h0m0 2h0m0 .5h0m0 .5h0m0 .5h0m0 1h0m0 .5h0m0 1h0m0 .5h0m0 .5h0m0 1h0m0 .5h0m0 .5h0m0 .5h0m0 1h0m0 .5h0m0 .5h0m0 1.5h0m0 .5h0m0 .5h0m0 .5h0m0 .5h0m.5-26h0m0 11h0m0 5.5h0m0 .5h0m0 .5h0m0 .5h0m0 .5h0m0 .5h0m0 2h0m0 1.5h0m0 .5h0m0 .5h0m0 .5h0m0 .5h0m0 1h0m0 .5h0m0 1h0m0 3h0m0 2.5h0m0 .5h0m0 .5h0m0 .5h0m.5-21.5h0m0 6.5h0m0 1.5h0m0 1.5h0m0 .5h0m0 6h0m0 .5h0m0 .5h0m0 .5h0m0 .5h0m0 1h0m0 .5h0m0 .5h0m0 .5h0m0 .5h0m0 .5h0m0 1h0m.5-19.5h0m0 2.5h0m0 2.5h0m0 1h0m0 1.5h0m0 .5h0m0 3h0m0 .5h0m0 1h0m0 5h0m0 1h0m0 1h0m.5-28h0m0 10.5h0m0 .5h0m0 1h0m0 1.5h0m0 1h0m0 2h0m0 1.5h0m0 .5h0m0 1h0m0 2h0m0 .5h0m.5-16.5h0m0 6h0m0 9.5h0m0 6h0m.5-6h0m.5-1.5h0m0 1.5h0m0 7.5h0m0 1h0m0 1h0m0 2h0m.5-15h0m0 1.5h0m0 1.5h0m0 4h0m0 1h0m0 5h0m0 .5h0m0 .5h0m0 1h0m0 1.5h0m0 1h0m0 .5h0m.5-39.5h0m0 25h0m0 4.5h0m0 4h0m0 3.5h0m0 .5h0m0 1h0m.5-19h0m0 5h0m0 8.5h0m0 .5h0m0 .5h0m0 2h0m0 1h0m0 3h0m.5-16h0m0 2.5h0m0 3h0m0 2h0m0 7.5h0m0 1.5h0m.5-36h0m0 12h0m0 15.5h0m0 1h0m0 1h0m0 5.5h0m0 .5h0m.5-40.5h0m0 19h0m0 17.5h0m0 .5h0m0 .5h0m0 1h0m0 .5h0m0 2h0m0 3h0m0 1h0m.5-19h0m0 2.5h0m0 3h0m0 2.5h0m0 1.5h0m0 1h0m0 .5h0m0 1h0m0 2h0m0 1h0m0 .5h0m0 1.5h0m0 .5h0m0 .5h0m0 1h0m0 .5h0m.5-55h0m0 19h0m0 2h0m0 13h0m0 3.5h0m0 3.5h0m0 1.5h0m0 1h0m0 1.5h0m0 1h0m0 .5h0m0 7h0m0 1h0m.5-12.5h0m.5-11h0m0 6.5h0m0 3.5h0m0 8h0m0 .5h0m0 .5h0m0 .5h0m0 .5h0m0 1h0m0 .5h0m0 1h0m.5-15.5h0m0 1h0m0 .5h0m0 .5h0m0 1.5h0m0 .5h0m0 .5h0m0 .5h0m0 .5h0m0 .5h0m0 .5h0m0 1h0m0 .5h0m0 .5h0m0 .5h0m0 3h0m0 1h0m0 .5h0m0 .5h0m0 1h0m0 .5h0m0 .5h0m.5-29h0m0 1h0m0 1.5h0m0 2h0m0 9h0m0 5.5h0m0 .5h0m0 .5h0m0 .5h0m0 1h0m0 .5h0m0 1h0m0 .5h0m0 1h0m0 1h0m0 .5h0m0 .5h0m0 1.5h0m0 .5h0m0 .5h0m.5-29.5h0m0 10h0m0 2.5h0m0 1.5h0m0 2h0m0 4.5h0m0 1h0m0 .5h0m0 1h0m0 1h0m0 1h0m0 .5h0m0 .5h0m0 .5h0m0 .5h0m0 .5h0m.5-17.5h0m0 6h0m0 4.5h0m0 4h0m0 .5h0m0 1.5h0m0 .5h0m0 .5h0m.5-13h0m0 3h0m0 4h0m0 1.5h0m0 1.5h0m0 1h0m0 1.5h0m0 2.5h0m0 .5h0m.5-20h0m0 6.5h0m0 .5h0m0 3.5h0m0 3.5h0m0 1h0m0 .5h0m0 .5h0m0 .5h0m0 .5h0m0 .5h0m0 .5h0m0 1h0m.5-28.5h0m0 7h0m0 3.5h0m0 1h0m0 2h0m0 5h0m0 1h0m0 1h0m0 2h0m0 .5h0m0 1h0m0 .5h0m0 .5h0m0 .5h0m0 .5h0m0 .5h0m0 .5h0m0 1h0m0 .5h0m0 .5h0m0 .5h0m.5-24h0m0 3h0m0 3h0m0 3h0m0 1h0m0 2.5h0m0 4h0m0 1.5h0m0 1h0m0 1.5h0m0 1h0m0 .5h0m0 .5h0m0 .5h0m.5-25.5h0m0 8h0m0 10h0m0 .5h0m0 5h0m0 1h0m.5-27h0m0 4.5h0m0 4.5h0m0 3h0m0 .5h0m0 6h0m0 .5h0m0 3h0m0 5h0m.5-27.5h0m0 18.5h0m0 2h0m0 1h0m0 1h0m0 .5h0m0 1h0m0 1h0m.5-27h0m0 12h0m0 1h0m0 2.5h0m0 .5h0m0 5h0m0 6h0m.5-33h0m0 5.5h0m0 6.5h0m0 1.5h0m0 3h0m0 .5h0m0 3.5h0m0 2h0m0 1h0m.5-15.5h0m0 9.5h0m0 3.5h0m0 1h0m0 4.5h0m0 6h0m.5-21.5h0m0 15h0m0 8h0m.5-25.5h0m0 .5h0m0 3.5h0m0 7.5h0m0 1h0m0 .5h0m0 2h0m0 1h0m0 1.5h0m0 2h0m0 2.5h0m0 4h0m.5-33h0m0 6.5h0m0 3h0m0 5h0m0 1h0m0 1h0m0 4.5h0m0 3h0m0 1h0m0 2h0m0 .5h0m0 2.5h0m.5-18.5h0m0 3.5h0m0 1h0m0 3h0m0 6.5h0m0 1.5h0m0 .5h0m0 2.5h0m0 .5h0m.5-23.5h0m0 6h0m0 3h0m0 1.5h0m0 2.5h0m0 .5h0m0 .5h0m0 1h0m0 2.5h0m.5-30h0m0 11h0m0 4.5h0m0 2h0m0 .5h0m0 3h0m0 3h0m0 1.5h0m0 1h0m0 .5h0m0 .5h0m0 1h0m0 .5h0m0 .5h0m0 .5h0m.5-12h0m0 .5h0m0 3h0m0 .5h0m0 2.5h0m0 2h0m0 1.5h0m.5-13.5h0m0 6h0m0 3h0m0 1h0m0 2.5h0m0 .5h0m0 .5h0m0 .5h0m0 1.5h0m.5-15.5h0m0 .5h0m0 3h0m0 4h0m0 5.5h0m0 1h0m0 .5h0m0 1h0m.5-19h0m0 7h0m0 3.5h0m0 .5h0m0 2h0m0 1.5h0m0 1h0m0 .5h0m0 .5h0m0 1h0m.5-19h0m0 4.5h0m0 7h0m0 1h0m0 1h0m0 2h0m0 1h0m0 .5h0m0 1h0m0 .5h0m0 .5h0m.5-16.5h0m0 1.5h0m0 .5h0m0 4.5h0m0 4.5h0m0 .5h0m0 4.5h0m0 1h0m.5-14.5h0m0 .5h0m0 2.5h0m0 3h0m0 1.5h0m0 3.5h0m0 1h0m0 1.5h0m.5-22h0m0 8.5h0m0 4h0m0 3h0m0 1h0m0 3h0m0 1.5h0m0 1.5h0m0 1.5h0m.5-12.5h0m0 5.5h0m0 .5h0m0 1h0m.5-17h0m0 .5h0m0 4.5h0m0 2.5h0m0 .5h0m0 1h0m0 .5h0m0 1h0m0 .5h0m0 1.5h0m0 2h0m0 1.5h0m0 1h0m0 .5h0m0 .5h0m0 1h0m0 .5h0m0 .5h0m0 .5h0m0 .5h0m0 1h0m0 .5h0m0 .5h0m0 .5h0m0 .5h0m.5-28.5h0m0 1h0m0 4h0m0 4h0m0 .5h0m0 1h0m0 .5h0m0 2h0m0 1h0m0 .5h0m0 1h0m0 .5h0m0 .5h0m0 .5h0m0 .5h0m0 .5h0m0 .5h0m0 .5h0m0 .5h0m0 .5h0m0 .5h0m0 .5h0m0 .5h0m0 .5h0m0 .5h0m0 .5h0m0 .5h0m0 .5h0m0 .5h0m0 .5h0m0 .5h0m0 .5h0m0 .5h0m0 .5h0m0 .5h0m0 .5h0m0 .5h0m.5-24h0m0 1h0m0 5.5h0m0 1h0m0 2.5h0m0 1.5h0m0 1h0m0 1.5h0m0 .5h0m0 .5h0m0 1h0m0 1h0m0 1.5h0m0 .5h0m0 .5h0m0 1h0m0 .5h0m0 .5h0m0 .5h0m0 .5h0m0 .5h0m0 .5h0m0 .5h0m.5-15.5h0m0 3h0m0 2.5h0m0 2h0m0 2h0m0 1.5h0m0 .5h0m0 2h0m0 .5h0m0 .5h0m0 .5h0m0 .5h0m0 .5h0m.5-12.5h0m0 2h0m0 1.5h0m0 1.5h0m0 3h0m0 2h0m0 2h0m28.5-19h0m0 29.5h0m.5-16h0m0 5h0m0 1.5h0m0 3h0m0 1.5h0m0 2h0m0 3h0m.5-25h0m0 2h0m0 8h0m0 1h0m0 3.5h0m0 1h0m0 1h0m0 7h0m0 1h0m.5-21.5h0m0 1.5h0m0 3.5h0m0 2h0m0 1h0m0 1.5h0m0 1.5h0m0 .5h0m0 1h0m0 4.5h0m0 1h0m.5-23.5h0m0 7.5h0m0 3h0m0 1.5h0m0 1.5h0m0 3.5h0m0 2h0m0 .5h0m0 1h0m0 1h0m0 1.5h0m.5-36.5h0m0 18.5h0m0 4h0m0 1.5h0m0 .5h0m0 .5h0m0 1h0m0 1.5h0m0 .5h0m0 .5h0m0 .5h0m0 1h0m0 .5h0m0 1.5h0m0 .5h0m0 .5h0m0 .5h0m0 .5h0m0 .5h0m0 2h0m.5-17.5h0m0 5h0m0 .5h0m0 1h0m0 1.5h0m0 1h0m0 1.5h0m0 .5h0m0 .5h0m0 1.5h0m0 1.5h0m.5-23.5h0m0 1h0m0 11.5h0m0 .5h0m0 3h0m0 2h0m0 1h0m0 .5h0m0 1h0m0 .5h0m0 .5h0m0 .5h0m0 2.5h0m.5-28.5h0m0 6h0m0 13.5h0m0 1h0m0 7h0m0 .5h0m.5-19h0m0 7h0m0 .5h0m0 3h0m0 1.5h0m0 1h0m0 1h0m0 2h0m0 2.5h0m0 .5h0m0 .5h0m0 2.5h0m.5-29h0m0 13h0m0 5h0m0 2.5h0m0 1h0m0 1h0m0 1h0m0 .5h0m0 1.5h0m0 .5h0m0 .5h0m0 1h0m0 1h0m.5-12h0m0 2.5h0m0 1h0m0 5h0m0 1.5h0m0 .5h0m0 .5h0m0 2h0m0 1.5h0m0 .5h0m0 .5h0m.5-18h0m0 1h0m0 3.5h0m0 1.5h0m0 3.5h0m0 1h0m0 1.5h0m0 3h0m0 1h0m0 1h0m0 .5h0m0 .5h0m0 .5h0m.5-25h0m0 8.5h0m0 1h0m0 8h0m0 3h0m0 1.5h0m0 1.5h0m0 1.5h0m.5-10h0m0 2.5h0m.5-7h0m0 .5h0m0 1.5h0m0 2h0m0 2h0m0 3h0m0 1h0m0 1.5h0m0 .5h0m0 3h0m.5-17h0m0 9h0m0 .5h0m0 1h0m0 .5h0m0 .5h0m0 1h0m0 1h0m0 .5h0m0 .5h0m0 1.5h0m0 1.5h0m0 .5h0m.5-20h0m0 2h0m0 2.5h0m0 7.5h0m0 1.5h0m0 .5h0m0 3h0m0 1.5h0m0 1h0m.5-14h0m0 2.5h0m0 2.5h0m0 .5h0m0 5h0m0 2h0m0 .5h0m0 .5h0m0 .5h0m0 1.5h0m0 .5h0m0 .5h0m.5-31h0m0 6h0m0 4h0m0 2h0m0 1.5h0m0 .5h0m0 5h0m0 1h0m0 1h0m0 1.5h0m0 .5h0m0 1.5h0m0 1h0m0 1h0m0 .5h0m0 .5h0m0 2h0m0 .5h0m0 1h0m.5-22h0m0 6h0m0 1.5h0m0 1h0m0 2h0m0 1.5h0m0 .5h0m0 .5h0m0 1h0m0 1h0m0 1.5h0m0 1.5h0m0 1h0m0 .5h0m0 .5h0m0 .5h0m.5-33.5h0m0 16.5h0m0 3.5h0m0 2h0m0 1h0m0 .5h0m0 1h0m0 1.5h0m0 1.5h0m0 .5h0m0 1h0m0 .5h0m0 1.5h0m0 .5h0m0 .5h0m0 .5h0m0 1h0m.5-12h0m0 11.5h0m0 1h0m0 3h0m0 1h0m0 .5h0m0 2h0m.5-29h0m0 4h0m0 1.5h0m0 3h0m0 2h0m0 5h0m0 1h0m0 1h0m0 .5h0m0 1h0m0 4h0m0 .5h0m0 1h0m0 2h0m0 .5h0m0 1.5h0m.5-27.5h0m0 6h0m0 2.5h0m0 7h0m0 .5h0m0 .5h0m0 2h0m0 1h0m0 .5h0m0 1h0m0 .5h0m0 .5h0m0 .5h0m0 .5h0m0 .5h0m0 .5h0m0 .5h0m0 .5h0m0 .5h0m0 .5h0m0 .5h0m.5-24.5h0m0 10h0m0 2h0m0 1h0m0 .5h0m0 2h0m0 1.5h0m0 .5h0m0 2h0m0 .5h0m0 .5h0m0 2.5h0m0 .5h0m0 .5h0m0 .5h0m0 .5h0m0 1h0m0 2h0m.5-23h0m0 .5h0m0 2h0m0 .5h0m0 1h0m0 2.5h0m0 8h0m0 3.5h0m0 .5h0m0 1.5h0m0 .5h0m0 .5h0m0 1h0m0 .5h0m0 .5h0m.5-29h0m0 4h0m0 4h0m0 .5h0m0 .5h0m0 7h0m0 6h0m0 3h0m0 2h0m0 1.5h0m.5-33.5h0m0 5h0m0 4.5h0m0 .5h0m0 1h0m.5-15.5h0m0 9h0m0 .5h0m0 5.5h0m0 2.5h0m0 2h0m0 1h0m0 .5h0m0 8h0m0 .5h0m0 1h0m0 .5h0m0 1.5h0m.5-28.5h0m0 8.5h0m0 1h0m0 3h0m0 1h0m0 .5h0m0 6h0m0 1.5h0m0 1h0m0 1h0m0 .5h0m0 1.5h0m0 1h0m0 .5h0m0 .5h0m0 1h0m0 .5h0m.5-35.5h0m0 14.5h0m0 1h0m0 3h0m0 .5h0m0 2h0m0 .5h0m0 .5h0m0 .5h0m0 1h0m0 1h0m0 2.5h0m0 2.5h0m0 1.5h0m0 1h0m.5-35.5h0m0 11h0m0 .5h0m0 3h0m0 4.5h0m0 1h0m0 1h0m0 1.5h0m0 .5h0m0 .5h0m0 4h0m.5-7.5h0m0 3h0m0 .5h0m0 .5h0m0 9.5h0m.5-17h0m0 9.5h0m0 3.5h0m0 .5h0m0 .5h0m0 .5h0m.5-20h0m0 8h0m0 5.5h0m0 2.5h0m0 1h0m0 1.5h0m0 2.5h0m.5-21h0m0 5.5h0m0 3h0m0 1h0m0 .5h0m0 .5h0m0 .5h0m0 .5h0m0 1h0m0 3.5h0m0 .5h0m0 .5h0m0 .5h0m0 4h0m.5-19h0m0 .5h0m0 3.5h0m0 4h0m0 3h0m0 .5h0m0 3h0m0 2h0m0 1.5h0m0 .5h0m.5-20.5h0m0 1h0m0 1.5h0m0 4h0m0 .5h0m0 .5h0m0 1h0m0 1h0m0 1.5h0m0 .5h0m0 1.5h0m21.5 8h0m.5-25.5h0m0 4.5h0m0 1.5h0m0 3.5h0m0 1h0m0 .5h0m0 1.5h0m0 4h0m0 .5h0m0 .5h0m0 .5h0m0 1h0m0 1h0m0 .5h0m0 .5h0m0 .5h0m0 1.5h0m0 .5h0m0 .5h0m0 1h0m0 .5h0m0 1h0m.5-22.5h0m0 5h0m0 .5h0m0 7h0m0 3.5h0m0 1.5h0m0 .5h0m0 .5h0m0 1h0m.5-17.5h0m0 2h0m0 11.5h0m0 .5h0m0 3.5h0m0 .5h0m.5-15.5h0m0 8.5h0m0 2h0m0 .5h0m.5-4.5h0m0 2h0m0 3h0m0 3h0m0 1h0m0 1h0m0 .5h0m0 1.5h0m0 1h0m0 1.5h0m.5-23h0m0 1.5h0m0 3.5h0m0 4h0m0 2.5h0m0 2h0m0 1h0m0 1h0m0 .5h0m0 .5h0m0 .5h0m0 .5h0m0 1h0m0 2.5h0m.5-29h0m0 4.5h0m0 5h0m0 3h0m0 .5h0m0 .5h0m0 .5h0m0 3.5h0m0 .5h0m0 .5h0m0 .5h0m0 1h0m0 .5h0m0 .5h0m0 .5h0m0 .5h0m0 .5h0m0 1h0m0 .5h0m0 .5h0m0 .5h0m0 .5h0m0 .5h0m0 .5h0m0 .5h0m.5-12h0m0 .5h0m0 4h0m0 1h0m0 1h0m0 .5h0m0 .5h0m0 .5h0m0 .5h0m0 1h0m.5-21h0m0 6.5h0m0 2h0m0 7.5h0m0 2h0m0 1.5h0m0 1h0m0 1.5h0m0 2.5h0m.5-24.5h0m0 2h0m0 9h0m0 3h0m0 3.5h0m0 .5h0m0 .5h0m0 2h0m.5-17h0m0 1.5h0m0 9h0m0 4h0m0 1.5h0m.5-39.5h0m0 25h0m0 5h0m0 1h0m0 .5h0m0 .5h0m0 1.5h0m0 1h0m0 1h0m0 2.5h0m.5-36h0m0 7h0m0 15.5h0m0 .5h0m0 5.5h0m.5-34.5h0m0 19h0m0 4h0m0 5h0m0 .5h0m0 2.5h0m0 1h0m.5-20h0m0 4h0m0 2.5h0m0 1.5h0m0 1.5h0m0 3h0m0 2.5h0m0 1h0m0 1h0m0 2h0m0 1h0m0 1h0m0 .5h0m.5-13h0m0 3.5h0m0 4.5h0m0 2.5h0m0 .5h0m0 1h0m0 2h0m.5-10h0m0 5.5h0m.5-17.5h0m0 12.5h0m0 8.5h0m.5-14h0m.5-13h0m0 24.5h0m.5-2.5h0m0 1h0m0 1h0m0 1.5h0m0 2.5h0m0 .5h0m0 2.5h0m0 1h0m.5-16h0m0 2h0m0 .5h0m0 2.5h0m0 4.5h0m0 1h0m0 1h0m0 1.5h0m0 1.5h0m0 .5h0m.5-13h0m0 1h0m0 2h0m0 6.5h0m0 .5h0m0 .5h0m0 .5h0m.5-14.5h0m0 14h0m0 .5h0m0 1.5h0m.5-6.5h0m0 3.5h0m.5-7h0m0 4h0m0 2h0m0 5h0m0 .5h0m0 1h0m.5-9h0m0 1h0m0 2h0m0 .5h0m0 1.5h0m0 1h0m0 .5h0m0 1h0m0 .5h0m0 1h0m0 .5h0m.5-18.5h0m0 3.5h0m0 4.5h0m0 3.5h0m0 4h0m0 .5h0m0 .5h0m1-6.5h0m0 2.5h0m0 3.5h0m0 .5h0m0 1h0m.5-19h0m0 14h0m0 2h0m0 1.5h0m0 .5h0m0 .5h0m0 1h0m0 1h0m0 1h0m.5-22h0m0 3h0m0 7h0m0 6h0m0 3.5h0m0 3.5h0m.5-50.5h0m0 14.5h0m0 9h0m0 1.5h0m0 .5h0m0 .5h0m0 3h0m0 5.5h0m0 .5h0m0 4h0m0 2h0m0 1h0m0 .5h0m0 1.5h0m0 1.5h0m0 1h0m.5-46h0m0 .5h0m0 6h0m0 1.5h0m0 1h0m0 2h0m0 .5h0m0 6h0m0 .5h0m0 2h0m0 3.5h0m0 2h0m0 1h0m0 1h0m0 .5h0m0 .5h0m0 1h0m0 2h0m0 8h0m0 5.5h0m0 1.5h0m0 .5h0m.5-45.5h0m0 2h0m0 2.5h0m0 1h0m0 8h0m0 7h0m0 4.5h0m0 2.5h0m0 .5h0m0 2h0m0 5h0m0 8.5h0m0 1h0m0 2.5h0m0 .5h0m.5-48h0m0 1.5h0m0 11.5h0m0 1.5h0m0 2h0m0 3.5h0m0 1h0m0 1h0m0 .5h0m0 2.5h0m0 1h0m0 3h0m0 1h0m0 .5h0m0 15.5h0m0 3h0m0 3h0m.5-15h0m0 10h0m0 1.5h0m0 1.5h0m.5-14.5h0m0 1.5h0m0 1h0m0 3h0m0 1.5h0m0 2h0m0 2h0m0 .5h0m0 2h0m0 1.5h0m.5-19.5h0m0 1.5h0m0 3h0m0 1h0m0 2.5h0m0 .5h0m0 1h0m0 1h0m0 .5h0m0 1h0m0 .5h0m0 .5h0m0 2.5h0m0 1h0m0 .5h0m0 .5h0m0 .5h0m0 .5h0m0 .5h0m0 .5h0m0 .5h0m.5-20h0m0 4h0m0 2h0m0 .5h0m0 2.5h0m0 3h0m0 1h0m0 .5h0m0 .5h0m0 1.5h0m0 .5h0m0 .5h0m0 1.5h0m0 1h0m0 2h0m0 3.5h0m.5-25h0m0 13h0m0 6h0m0 3.5h0m0 .5h0m0 .5h0m0 2h0m0 .5h0m.5-12h0m0 2.5h0m0 5.5h0m0 1h0m.5-11.5h0m0 3h0m0 2.5h0m0 2h0m0 3.5h0m0 2h0m.5-19h0m0 1h0m0 .5h0m0 5h0m0 2.5h0m0 2h0m0 1h0m0 1.5h0m0 .5h0m0 .5h0m0 1h0m0 2.5h0m0 .5h0m0 .5h0m0 1h0m.5-23.5h0m0 2.5h0m0 3h0m0 1h0m0 2h0m0 1h0m0 .5h0m0 1h0m0 1h0m0 .5h0m0 1h0m0 1h0m0 1h0m0 .5h0m0 .5h0m0 .5h0m0 1h0m0 .5h0m0 .5h0m0 1h0m0 1.5h0m0 .5h0m0 .5h0m0 1h0m0 .5h0m0 .5h0m0 .5h0m.5-29.5h0m0 6h0m0 3.5h0m0 3h0m0 .5h0m0 .5h0m0 2h0m0 .5h0m0 .5h0m0 1h0m0 .5h0m0 .5h0m0 1.5h0m0 1h0m0 1h0m0 1h0m0 .5h0m0 .5h0m0 .5h0m0 1.5h0m0 1.5h0m0 1h0m0 .5h0m.5-27.5h0m0 7h0m0 4h0m0 1h0m0 4.5h0m0 2h0m0 .5h0m0 .5h0m0 .5h0m0 .5h0m0 1.5h0m0 .5h0m0 .5h0m.5-20h0m0 13h0m0 1.5h0m0 1h0m0 .5h0m0 .5h0m0 .5h0m0 .5h0m0 1h0m0 1h0m0 .5h0m0 .5h0m0 .5h0m0 .5h0m0 .5h0m.5-19.5h0m0 1.5h0m0 .5h0m0 7.5h0m0 1h0m0 1h0m0 .5h0m0 2h0m0 .5h0m0 .5h0m0 1h0m0 .5h0m0 .5h0m0 .5h0m0 .5h0m0 1h0m0 1h0m0 1h0m.5-27h0m0 7.5h0m0 .5h0m0 1.5h0m0 5h0m0 1h0m0 .5h0m0 1h0m0 .5h0m0 1.5h0m0 1h0m0 .5h0m0 1h0m0 .5h0m0 .5h0m0 .5h0m0 .5h0m0 .5h0m0 1.5h0m0 1h0m.5-14h0m0 1h0m0 3.5h0m0 3.5h0m27-23.5h0m0 3.5h0m0 5h0m0 .5h0m.5-21h0m0 5h0m0 12.5h0m0 .5h0m0 .5h0m0 2h0m0 .5h0m.5-20.5h0m0 3.5h0m0 5.5h0m0 5.5h0m0 1h0m0 .5h0m0 .5h0m0 1h0m0 .5h0m0 1.5h0m.5-17h0m0 3.5h0m0 .5h0m0 7.5h0m0 3h0m0 .5h0m0 .5h0m0 1.5h0m0 1.5h0m.5-25.5h0m0 1.5h0m0 5h0m0 11.5h0m0 1.5h0m0 1.5h0m0 1.5h0m0 1h0m0 4.5h0m0 .5h0m0 .5h0m0 .5h0m.5-17.5h0m0 6.5h0m0 6h0m0 2h0m0 .5h0m0 2.5h0m0 .5h0m.5-18h0m0 3h0m0 3h0m0 6h0m0 4h0m.5-10.5h0m0 .5h0m0 2.5h0m0 1.5h0m0 6h0m0 1.5h0m0 1h0m0 .5h0m.5-28h0m0 15.5h0m0 2h0m0 1h0m0 .5h0m0 2h0m0 1.5h0m0 1.5h0m.5-11h0m0 .5h0m0 1h0m0 4h0m0 .5h0m0 2h0m0 1h0m0 2.5h0m0 .5h0m.5-12.5h0m0 1.5h0m0 5h0m0 2h0m0 .5h0m0 .5h0m0 1h0m0 .5h0m0 .5h0m0 .5h0m0 .5h0m0 .5h0m0 .5h0m.5-12h0m0 5h0m0 1.5h0m0 .5h0m0 .5h0m0 .5h0m0 .5h0m0 2h0m0 1.5h0m0 .5h0m0 2.5h0m0 1h0m0 .5h0m0 5h0m.5-24h0m0 5h0m0 1h0m0 4h0m0 2.5h0m0 .5h0m0 .5h0m0 6h0m0 .5h0m0 .5h0m0 .5h0m0 1h0m0 1.5h0m0 .5h0m0 1h0m.5-25.5h0m0 4h0m0 6h0m0 3h0m0 2.5h0m0 1.5h0m0 1.5h0m0 3.5h0m0 2h0m0 1h0m0 .5h0m0 1h0m.5-4.5h0m0 2.5h0m0 3h0m.5-22.5h0m0 20h0m0 2h0m.5-14h0m0 9h0m0 2h0m0 5.5h0m.5-35h0m0 11.5h0m0 12h0m0 1h0m0 1h0m0 .5h0m0 .5h0m0 .5h0m0 1h0m0 .5h0m0 3h0m0 .5h0m0 1h0m0 3h0m.5-32h0m0 5h0m0 4h0m0 .5h0m0 3h0m0 7h0m0 1h0m0 1h0m0 2.5h0m0 1.5h0m0 1h0m.5-10h0m0 1h0m0 1.5h0m0 2.5h0m0 .5h0m0 4h0m0 1.5h0m0 2h0m.5-23.5h0m0 13.5h0m0 1h0m0 1h0m0 4.5h0m0 .5h0m0 1h0m0 .5h0m0 1h0m.5-23h0m0 14.5h0m0 1h0m0 3.5h0m0 .5h0m0 1h0m0 2h0m0 4.5h0m0 4h0m.5-9.5h0m0 2.5h0m0 1h0m0 1h0m0 .5h0m0 .5h0m.5-25.5h0m0 5h0m0 14.5h0m0 3.5h0m0 2.5h0m.5-33.5h0m0 19h0m0 5h0m0 1h0m0 4.5h0m0 .5h0m0 1.5h0m.5-26.5h0m0 14h0m0 3h0m0 .5h0m0 1h0m0 2.5h0m0 .5h0m0 .5h0m0 3h0m0 .5h0m.5-18h0m0 10h0m0 .5h0m0 2h0m0 1h0m0 2h0m0 1h0m.5-11h0m0 2h0m0 4h0m0 2h0m0 3.5h0m0 1.5h0m.5-18h0m0 1h0m0 3.5h0m0 4h0m0 4h0m0 1h0m0 1h0m0 1.5h0m0 1.5h0m0 .5h0m0 1h0m0 1h0m.5-21.5h0m0 9.5h0m0 3h0m0 2h0m0 3h0m0 .5h0m0 .5h0m0 2h0m0 .5h0m0 1h0m.5-18h0m0 2.5h0m0 .5h0m0 3.5h0m0 2.5h0m0 3.5h0m0 1h0m0 .5h0m0 1h0m.5-40h0m0 9h0m0 7h0m0 7h0m0 1h0m0 .5h0m0 2.5h0m0 .5h0m0 .5h0m0 1h0m0 3h0m0 .5h0m0 1.5h0m0 5.5h0m.5-34h0m0 8h0m0 3h0m0 1.5h0m0 1h0m0 1h0m0 .5h0m0 2h0m0 1.5h0m0 1h0m0 1h0m0 1.5h0m.5-13h0m0 2.5h0m0 1h0m0 .5h0m0 7.5h0m0 .5h0m0 1h0m0 .5h0m0 .5h0m0 1h0m0 1.5h0m0 4h0m.5-6.5h0m0 7h0m.5-16h0m0 3h0m0 4.5h0m0 6.5h0m0 1.5h0m0 1.5h0m.5-16.5h0m.5-4.5h0m0 4h0m0 1h0m0 4.5h0m0 .5h0m0 1h0m0 2.5h0m.5-27.5h0m0 18.5h0m0 1h0m0 .5h0m0 1h0m0 .5h0m0 1h0m0 2h0m0 .5h0m0 1.5h0m0 1h0m.5-28.5h0m0 4h0m0 2h0m0 1.5h0m0 7h0m0 1h0m0 .5h0m0 .5h0m0 1.5h0m0 2h0m0 2h0m0 .5h0m0 .5h0m0 1h0m0 1.5h0m0 1.5h0m.5-12.5h0m0 1h0m0 .5h0m0 5h0m0 .5h0m0 1h0m0 1h0m0 1h0m0 1h0m.5-15.5h0m0 5h0m0 1h0m0 1h0m0 3.5h0m0 1.5h0m0 4h0m0 .5h0m0 .5h0m0 1h0m0 1h0m0 .5h0m.5-25.5h0m0 1h0m0 9.5h0m0 .5h0m0 .5h0m0 4h0m0 .5h0m0 3h0m0 2h0m0 1.5h0m0 .5h0m0 1h0m0 1h0m.5-32.5h0m0 8.5h0m0 .5h0m0 1h0m0 4.5h0m0 3h0m0 .5h0m0 3h0m0 1.5h0m0 5h0m0 2h0m0 .5h0m0 .5h0m0 2h0m0 .5h0m.5-35h0m0 24h0m0 2h0m0 3.5h0m0 .5h0m0 .5h0m0 1h0m.5-24.5h0m0 11h0m0 2.5h0m0 4.5h0m0 2h0m0 .5h0m0 2h0m0 .5h0m0 .5h0m0 .5h0m0 .5h0m0 .5h0m0 1.5h0m0 .5h0m.5-24h0m0 6h0m0 2.5h0m0 2.5h0m0 1.5h0m0 1h0m0 2h0m0 3h0m0 2h0m0 1h0m0 .5h0m0 .5h0m0 .5h0m0 1h0m0 .5h0m.5-21h0m0 4h0m0 2.5h0m0 .5h0m0 8.5h0m0 .5h0m0 3h0m0 .5h0m0 1h0m.5-8h0m0 1h0m0 .5h0m.5-10.5h0m0 2.5h0m0 5.5h0m0 1.5h0m0 1h0m0 .5h0m0 2h0m0 5.5h0m0 2h0m.5-25.5h0m0 6h0m0 6.5h0m0 5h0m0 1h0m0 2.5h0m0 3h0m0 .5h0m0 1h0m.5-18.5h0m0 7h0m0 7.5h0m0 .5h0m0 3.5h0m.5-25.5h0m0 5.5h0m0 1h0m0 6h0m0 1.5h0m.5-7h0m0 4h0m0 5h0m0 1h0m0 3h0m0 1h0m0 1h0m0 2h0m.5-21h0m0 4h0m0 3h0m0 1.5h0m0 1.5h0m0 .5h0m0 7h0m0 2h0m0 .5h0m0 1h0m0 .5h0m0 1h0m0 1h0m.5-13h0m0 1.5h0m0 3.5h0m0 .5h0m0 1.5h0m0 2h0m0 .5h0m0 .5h0m0 1h0m0 .5h0m0 1h0m0 .5h0m0 .5h0m0 1h0m.5-27h0m0 20.5h0m0 3.5h0m21-3h0m0 .5h0m0 1h0m.5-25.5h0m0 8.5h0m0 7h0m0 2h0m0 2h0m.5-20.5h0m0 6h0m0 4.5h0m0 .5h0m0 1.5h0m0 2h0m0 3h0m0 .5h0m0 1h0m.5-13h0m0 1h0m0 2.5h0m0 3.5h0m0 3h0m0 6h0m0 3h0m.5-21.5h0m0 11h0m0 3h0m0 3h0m0 4h0m0 2h0m0 1h0m0 2h0m0 .5h0m.5-21.5h0m0 5h0m0 1h0m0 6.5h0m0 1.5h0m0 3h0m0 .5h0m0 .5h0m0 2h0m0 .5h0m0 1.5h0m.5-7h0m0 4.5h0m.5-9h0m0 1.5h0m0 5.5h0m0 2h0m0 1h0m0 .5h0m.5-21.5h0m0 5.5h0m0 5.5h0m0 4h0m0 1.5h0m0 2.5h0m.5-23.5h0m0 1.5h0m0 1.5h0m0 8h0m0 1h0m0 1h0m0 .5h0m0 2h0m0 1h0m0 1h0m0 1h0m0 1h0m0 .5h0m0 .5h0m0 1h0m0 .5h0m0 1h0m0 .5h0m0 .5h0m0 1.5h0m0 .5h0m0 1.5h0m0 .5h0m.5-25h0m0 1.5h0m0 2h0m0 .5h0m0 3h0m0 2h0m0 3h0m0 1.5h0m0 .5h0m0 .5h0m0 2h0m0 1.5h0m0 .5h0m0 .5h0m0 .5h0m0 .5h0m0 .5h0m0 1h0m0 .5h0m0 .5h0m0 .5h0m0 .5h0m0 .5h0m0 .5h0m.5-27.5h0m0 4h0m0 8.5h0m0 .5h0m0 1h0m0 1h0m0 2h0m0 1h0m0 1h0m0 1h0m0 3.5h0m0 2.5h0m0 1h0m0 .5h0m0 2h0m0 2.5h0m0 3h0m.5-8.5h0m0 6.5h0m0 2h0m.5-28h0m0 5h0m0 .5h0m0 1.5h0m0 11.5h0m0 1h0m0 .5h0m0 1.5h0m0 2h0m0 .5h0m.5-24.5h0m0 .5h0m0 12.5h0m0 1h0m0 1h0m0 .5h0m0 2.5h0m0 1h0m0 .5h0m0 .5h0m0 .5h0m0 2.5h0m0 1.5h0m.5-15h0m0 4h0m0 .5h0m0 .5h0m0 2.5h0m0 .5h0m0 1.5h0m0 .5h0m0 .5h0m0 2h0m0 .5h0m0 1.5h0m0 .5h0m0 2h0m.5-30h0m0 7.5h0m0 3.5h0m0 3h0m0 3h0m0 2.5h0m0 1.5h0m0 1.5h0m0 .5h0m0 2.5h0m0 .5h0m0 1h0m0 1h0m0 .5h0m0 .5h0m0 .5h0m0 .5h0m.5-11h0m0 .5h0m0 4h0m0 2h0m0 3h0m0 .5h0m0 .5h0m0 .5h0m0 2.5h0m0 .5h0m.5-14h0m0 4h0m0 2h0m0 .5h0m0 1.5h0m0 1.5h0m0 1h0m0 1.5h0m0 .5h0m0 .5h0m0 .5h0m0 .5h0m0 1h0m0 .5h0m0 .5h0m0 .5h0m.5-25h0m0 8h0m0 .5h0m0 8.5h0m0 2.5h0m0 2.5h0m0 .5h0m0 1h0m0 1h0m0 .5h0m.5-7h0m.5-16h0m0 2.5h0m.5-7h0m0 8h0m0 4.5h0m0 1h0m0 1h0m0 3.5h0m0 2.5h0m.5-10.5h0m0 4h0m0 1.5h0m0 2.5h0m0 3h0m0 2h0m0 4h0m0 3h0m.5-25.5h0m0 6.5h0m0 5.5h0m0 .5h0m0 1h0m0 2.5h0m0 9.5h0m.5-22.5h0m0 7h0m0 6h0m0 1h0m0 1h0m0 1h0m.5-21h0m0 4h0m0 4h0m0 3.5h0m0 6.5h0m0 2.5h0m0 1h0m0 .5h0m0 .5h0m.5-32.5h0m0 23.5h0m0 1h0m0 3h0m0 1h0m0 4h0m0 .5h0m0 1.5h0m0 1h0m0 1h0m0 .5h0m0 1.5h0m0 1.5h0m0 .5h0m.5-20h0m0 1h0m0 2.5h0m0 7.5h0m0 1.5h0m0 1.5h0m0 1.5h0m0 1h0m0 1h0m0 1h0m0 2h0m.5-22h0m0 1h0m0 5h0m0 2h0m0 4.5h0m0 .5h0m0 3.5h0m0 1.5h0m0 3.5h0m0 .5h0m.5-25.5h0m0 17.5h0m0 1h0m0 2.5h0m.5-33.5h0m0 15.5h0m0 6h0m0 1h0m0 .5h0m0 2h0m0 1h0m0 2.5h0m0 1h0m0 1h0m0 1h0m0 2h0m0 .5h0m0 .5h0m.5-29h0m0 17.5h0m0 .5h0m0 1h0m0 1.5h0m0 1h0m0 1.5h0m0 1h0m0 1h0m0 1h0m0 .5h0m0 1.5h0m0 .5h0m0 .5h0m0 .5h0m0 .5h0m.5-30h0m0 6h0m0 8h0m0 2h0m0 1.5h0m0 1h0m0 .5h0m0 .5h0m0 1h0m0 .5h0m0 .5h0m0 .5h0m0 .5h0m0 .5h0m0 2h0m0 .5h0m0 .5h0m0 1.5h0m0 1h0m0 .5h0m.5-39h0m0 12h0m0 2h0m0 6.5h0m0 2h0m0 .5h0m0 1.5h0m0 4h0m0 .5h0m0 .5h0m0 .5h0m0 2h0m0 .5h0m0 .5h0m0 1h0m0 .5h0m0 .5h0m0 1h0m0 .5h0m.5-33h0m0 6.5h0m0 1.5h0m0 1h0m0 7h0m0 1.5h0m0 3.5h0m0 4.5h0m0 .5h0m0 .5h0m0 .5h0m0 .5h0m0 .5h0m0 2h0m0 .5h0m0 1.5h0m0 .5h0m0 .5h0m.5-32.5h0m0 1h0m0 8h0m0 1.5h0m0 2.5h0m0 6.5h0m0 .5h0m0 .5h0m0 .5h0m0 2.5h0m0 4h0m0 .5h0m0 .5h0m0 2h0m0 .5h0m.5-35.5h0m0 12.5h0m0 2h0m0 2.5h0m0 2.5h0m0 .5h0m0 1.5h0m0 1h0m0 .5h0m0 .5h0m0 1h0m0 1h0m0 .5h0m0 .5h0m0 .5h0m0 .5h0m0 1.5h0m0 .5h0m0 .5h0m0 .5h0m0 1h0m0 .5h0m0 .5h0m0 .5h0m0 .5h0m0 .5h0m0 1h0m.5-66.5h0m0 31.5h0m0 10.5h0m0 .5h0m0 2h0m0 .5h0m0 2h0m0 2h0m0 2.5h0m0 .5h0m0 2.5h0m0 1h0m0 .5h0m0 1h0m0 .5h0m0 1h0m0 .5h0m0 .5h0m0 .5h0m0 .5h0m0 .5h0m0 .5h0m0 .5h0m0 .5h0m0 .5h0m0 .5h0m0 .5h0m0 1h0m0 .5h0m0 .5h0m0 .5h0m0 .5h0m.5-63h0m0 30h0m0 11h0m0 3.5h0m0 2.5h0m0 3.5h0m0 1h0m0 1.5h0m0 .5h0m0 .5h0m0 1.5h0m0 .5h0m0 1h0m0 .5h0m0 1h0m0 1h0m0 .5h0m0 .5h0m0 .5h0m0 .5h0m0 .5h0m0 1h0m0 1h0m.5-27h0m0 1.5h0m0 1.5h0m0 2h0m0 2h0m0 1h0m0 1h0m0 2.5h0m0 3.5h0m0 2h0m0 3h0m0 .5h0m0 .5h0m0 .5h0m0 1h0m0 .5h0m0 .5h0m0 .5h0m0 .5h0m0 .5h0m0 .5h0m0 .5h0m0 1.5h0m.5-15.5h0m0 2h0m0 1.5h0m0 .5h0m0 1h0m0 1h0m0 .5h0m0 1.5h0m0 .5h0m0 .5h0m0 1h0m0 .5h0m0 .5h0m0 .5h0m0 1.5h0m0 .5h0m0 .5h0m0 1h0m0 .5h0m.5-19.5h0m0 1.5h0m0 .5h0m0 2h0m0 1.5h0m0 6.5h0m0 1h0m0 .5h0m0 1h0m0 .5h0m0 1h0m0 .5h0m0 1h0m0 .5h0m0 1h0m.5-29h0m0 11h0m0 1h0m0 2h0m0 1h0m0 7h0m0 6.5h0m.5-28h0m0 10h0m0 .5h0m0 8.5h0m0 2h0m0 1h0m0 1h0m.5-20.5h0m0 10h0m0 6.5h0m0 1h0m.5-16.5h0m0 6h0m0 5h0m.5-24h0m0 4.5h0m0 1h0m0 4.5h0m0 8h0m0 2.5h0m.5-18.5h0m0 7h0m0 3h0m0 .5h0m.5-15.5h0m0 9.5h0m0 7h0m.5-2h0m0 5.5h0m0 3.5h0m0 .5h0m.5-7.5h0m0 4.5h0m.5-35.5h0m0 23h0m0 6h0m0 2.5h0m0 6.5h0m0 .5h0m.5-26h0m0 6.5h0m0 13h0m0 .5h0m0 1h0m.5-29h0m0 23.5h0m0 2.5h0m0 2.5h0m0 .5h0m0 .5h0m.5-28h0m0 8h0m0 6h0m0 2h0m0 4.5h0m0 2h0m0 2h0m0 .5h0m0 1h0m0 1h0m0 .5h0m0 .5h0m0 .5h0m.5-19h0m0 4h0m0 3h0m0 1.5h0m0 1.5h0m0 3h0m0 1h0m0 .5h0m0 3h0m0 .5h0m0 1.5h0m0 .5h0m.5-39h0m0 .5h0m0 10.5h0m0 4.5h0m0 2h0m0 1.5h0m0 .5h0m0 .5h0m0 .5h0m0 2.5h0m0 1h0m0 1h0m0 4h0m0 .5h0m0 2.5h0m0 1h0m0 .5h0m0 .5h0m0 .5h0m0 .5h0m0 1h0m0 .5h0m0 1h0m0 .5h0m0 .5h0m.5-32h0m0 3.5h0m0 2h0m0 3.5h0m0 2h0m0 .5h0m0 .5h0m0 1h0m0 2h0m0 1h0m0 2.5h0m0 3h0m0 .5h0m0 3.5h0m0 .5h0m0 .5h0m0 2h0m0 1.5h0m0 .5h0m.5-34h0m0 3h0m0 4h0m0 1.5h0m0 1.5h0m0 2.5h0m0 .5h0m0 .5h0m0 1h0m0 .5h0m0 2.5h0m0 8h0m0 3h0m0 .5h0m0 1h0m0 1h0m0 1.5h0m0 .5h0m.5-10h0m0 2h0m0 3.5h0m0 1.5h0m0 .5h0m0 .5h0m0 3h0m0 .5h0m.5-19.5h0m0 8h0m0 .5h0m0 4.5h0m0 2h0m0 .5h0m0 .5h0m0 1h0m0 2h0m0 .5h0m0 .5h0m0 .5h0m0 2h0m.5-24.5h0m0 3.5h0m0 7.5h0m0 2h0m0 1h0m0 2h0m0 2.5h0m0 1h0m0 1.5h0m0 1h0m0 .5h0m0 1h0m.5-16h0m0 3.5h0m0 4.5h0m0 1.5h0m0 .5h0m0 1h0m0 2h0m0 2.5h0m0 1h0m28-13h0m0 3.5h0m0 1.5h0m0 4h0m0 .5h0m0 1h0m0 1.5h0m0 .5h0m0 .5h0m0 .5h0m0 1h0m.5-14.5h0m0 1h0m0 2.5h0m0 2.5h0m0 2h0m0 2h0m0 1.5h0m0 1h0m0 .5h0m0 .5h0m0 1h0m0 .5h0m0 1h0m.5-35.5h0m0 5h0m0 2.5h0m0 6h0m0 .5h0m0 3h0m0 3h0m0 1h0m0 1h0m0 6.5h0m0 .5h0m0 1.5h0m0 2h0m0 .5h0m.5-36.5h0m0 1.5h0m0 1h0m0 1h0m0 1h0m0 .5h0m0 1.5h0m0 3h0m0 4.5h0m0 1h0m0 1.5h0m0 .5h0m0 2.5h0m0 1h0m0 2.5h0m0 2h0m0 .5h0m0 .5h0m0 4.5h0m0 2.5h0m0 4.5h0m0 1h0m0 .5h0m0 .5h0m0 1.5h0m0 .5h0m.5-58.5h0m0 12h0m0 4.5h0m0 .5h0m0 .5h0m0 1h0m0 2h0m0 .5h0m0 3h0m0 1h0m0 7.5h0m0 3.5h0m0 .5h0m0 1h0m0 2.5h0m0 1.5h0m0 .5h0m0 1h0m0 .5h0m0 5h0m0 1h0m0 2.5h0m0 1.5h0m0 1h0m0 2h0m0 1.5h0m.5-44h0m0 3h0m0 1h0m0 14.5h0m0 2.5h0m0 .5h0m0 1h0m0 .5h0m0 .5h0m0 4.5h0m0 1.5h0m0 .5h0m0 9.5h0m0 .5h0m0 3.5h0m0 1.5h0m0 2h0m0 3h0m.5-27.5h0m0 9h0m0 2.5h0m0 1h0m0 .5h0m0 9h0m0 .5h0m0 2h0m0 .5h0m0 1.5h0m0 .5h0m.5-29.5h0m0 11h0m0 1.5h0m0 .5h0m0 .5h0m0 .5h0m0 2.5h0m0 .5h0m0 .5h0m0 1.5h0m0 2.5h0m0 2h0m0 .5h0m0 1h0m0 2h0m0 .5h0m0 1h0m.5-22h0m0 .5h0m0 4h0m0 7.5h0m0 2h0m0 1h0m0 2h0m0 3.5h0m0 .5h0m.5-5h0m0 1.5h0m0 3.5h0m0 1h0m.5-23h0m0 4h0m0 3h0m0 2h0m0 1h0m0 1.5h0m0 2.5h0m0 5h0m0 .5h0m0 1h0m0 2h0m0 1h0m0 1.5h0m0 .5h0m.5-19h0m0 6h0m0 2h0m0 2h0m0 2h0m0 3.5h0m0 1h0m0 .5h0m0 1h0m0 .5h0m0 1h0m.5-31h0m0 6.5h0m0 8h0m0 .5h0m0 1.5h0m0 5h0m0 2.5h0m0 .5h0m0 .5h0m0 .5h0m0 2h0m0 .5h0m0 1h0m.5-30h0m0 10h0m0 9.5h0m0 1.5h0m0 .5h0m0 .5h0m0 4h0m0 .5h0m0 1h0m0 1h0m0 .5h0m0 .5h0m0 .5h0m0 1h0m.5-22.5h0m0 2.5h0m0 3h0m0 1h0m0 3h0m0 2h0m0 3.5h0m0 .5h0m0 1.5h0m0 1.5h0m0 .5h0m0 .5h0m0 .5h0m0 .5h0m0 1h0m.5-24.5h0m0 5.5h0m0 8.5h0m0 3.5h0m0 1h0m0 3h0m0 2.5h0m0 1h0m0 .5h0m0 .5h0m.5-21.5h0m0 6h0m0 9h0m0 3h0m0 2h0m.5-12h0m0 5h0m0 1.5h0m0 2h0m0 1h0m0 1.5h0m.5-34.5h0m0 16h0m0 6.5h0m0 1.5h0m0 2h0m0 1h0m0 1h0m0 1.5h0m0 1h0m0 .5h0m0 .5h0m0 2.5h0m0 2h0m.5-21.5h0m0 3h0m0 6h0m0 5.5h0m0 1.5h0m0 3h0m0 .5h0m.5-35.5h0m0 1.5h0m0 14h0m0 .5h0m0 1h0m0 1h0m0 4h0m0 .5h0m0 1h0m0 3h0m0 .5h0m0 2.5h0m0 .5h0m0 2.5h0m0 2h0m0 .5h0m.5-32.5h0m0 4.5h0m0 12.5h0m0 2h0m0 2h0m0 .5h0m0 1h0m0 3h0m0 1h0m0 2h0m0 .5h0m.5-18.5h0m0 7.5h0m0 1h0m0 2.5h0m0 1h0m0 .5h0m0 2.5h0m0 1h0m0 .5h0m0 1.5h0m0 .5h0m0 1h0m0 1h0m0 .5h0m.5-45.5h0m0 15h0m0 3.5h0m0 8.5h0m0 1.5h0m0 .5h0m0 .5h0m0 2.5h0m0 3h0m0 .5h0m0 1h0m0 7.5h0m0 .5h0m0 1h0m0 .5h0m0 .5h0m0 .5h0m.5-23h0m0 3.5h0m0 6h0m0 3.5h0m0 .5h0m0 1.5h0m0 .5h0m0 2.5h0m0 2h0m0 2h0m0 1.5h0m.5-29.5h0m0 5h0m0 3h0m0 1h0m0 2h0m0 .5h0m0 3h0m0 .5h0m0 3h0m0 1.5h0m0 .5h0m0 .5h0m0 .5h0m.5-19.5h0m0 6.5h0m0 6.5h0m0 3.5h0m0 4h0m0 .5h0m0 .5h0m0 .5h0m.5-21.5h0m0 9.5h0m0 .5h0m0 1h0m0 2h0m0 .5h0m0 .5h0m0 .5h0m0 4.5h0m0 1h0m0 .5h0m0 1.5h0m.5-23.5h0m0 9h0m0 2h0m0 .5h0m0 1.5h0m0 2.5h0m0 .5h0m0 .5h0m0 4h0m0 3h0m.5-18.5h0m0 2.5h0m0 5h0m0 5.5h0m0 1h0m.5-9h0m0 3h0m0 6h0m0 1h0m0 .5h0m0 1.5h0m.5-12h0m0 .5h0m0 1.5h0m0 7h0m0 .5h0m0 .5h0m0 .5h0m0 .5h0m0 .5h0m0 .5h0m.5-39.5h0m0 4h0m0 4.5h0m0 1.5h0m0 2.5h0m0 13.5h0m0 1h0m0 .5h0m0 4.5h0m0 .5h0m0 1h0m0 .5h0m0 .5h0m0 .5h0m0 .5h0m0 2h0m.5-32.5h0m0 7.5h0m0 1.5h0m0 1h0m0 3h0m0 1h0m0 1.5h0m0 1h0m0 2.5h0m0 1h0m0 2h0m0 1.5h0m0 1.5h0m0 1h0m0 1h0m0 .5h0m0 2h0m0 .5h0m0 .5h0m0 1h0m0 .5h0m.5-33h0m0 2.5h0m0 15h0m0 1h0m0 1.5h0m0 .5h0m0 1h0m0 1h0m0 .5h0m0 1h0m0 1.5h0m0 2.5h0m0 .5h0m0 1h0m0 1h0m0 1h0m0 .5h0m0 .5h0m0 .5h0m0 .5h0m.5-26.5h0m0 14h0m0 2h0m0 1h0m0 1.5h0m0 2.5h0m0 .5h0m0 4.5h0m0 .5h0m.5-27h0m0 8.5h0m0 4.5h0m0 2.5h0m0 2h0m0 1.5h0m0 .5h0m0 1.5h0m0 1h0m0 1.5h0m0 .5h0m0 1.5h0m0 1h0m.5-33.5h0m0 10.5h0m0 3.5h0m0 2.5h0m0 4h0m0 .5h0m0 2h0m0 1h0m0 .5h0m0 1h0m0 1.5h0m0 1.5h0m0 .5h0m0 .5h0m0 .5h0m0 4h0m.5-25.5h0m0 7h0m0 2.5h0m0 2.5h0m0 4.5h0m0 1h0m0 2h0m0 1h0m0 .5h0m0 1.5h0m0 2h0m0 3h0m0 1h0m0 .5h0m.5-33h0m0 1h0m0 7.5h0m0 5h0m0 2.5h0m0 2h0m0 4h0m0 .5h0m0 1h0m0 .5h0m0 2h0m0 .5h0m0 .5h0m0 1.5h0m0 1h0m0 .5h0m0 .5h0m0 .5h0m0 1.5h0m0 .5h0m.5-18.5h0m0 3.5h0m0 2.5h0m0 4h0m0 2.5h0m0 4.5h0m0 1h0m.5-28h0m0 10.5h0m0 2h0m0 3.5h0m0 1h0m0 1.5h0m0 1h0m0 .5h0m0 .5h0m0 3h0m0 3h0m0 1h0m0 1.5h0m.5-31.5h0m0 3.5h0m0 18h0m0 2.5h0m0 1h0m.5-29h0m0 20.5h0m0 1.5h0m0 2h0m0 1h0m0 4.5h0m0 .5h0m0 .5h0m.5-22h0m0 6.5h0m0 4.5h0m0 2h0m0 .5h0m0 4h0m0 .5h0m0 1.5h0m0 1.5h0m0 1h0m0 2.5h0m0 1.5h0m0 1h0m0 3h0m0 .5h0m.5-29h0m0 7.5h0m0 .5h0m0 .5h0m0 1.5h0m0 1h0m0 2h0m0 3h0m0 1.5h0m0 .5h0m0 4h0m0 1h0m0 .5h0m0 .5h0m0 .5h0m0 1h0m0 .5h0m0 1h0m0 1h0m0 .5h0m.5-31.5h0m0 10.5h0m0 2h0m0 5.5h0m0 5h0m0 .5h0m0 .5h0m0 1h0m0 2.5h0m0 1h0m0 .5h0m0 .5h0m0 .5h0m0 1.5h0m.5-5h0m0 1h0m0 1.5h0m0 1.5h0m.5-14h0m0 10h0m0 3.5h0m0 .5h0m.5-24.5h0m0 19h0m.5-4h0m0 1.5h0m0 4h0m0 .5h0m0 2h0m.5-10.5h0m0 5h0m0 .5h0m0 .5h0m0 4h0m0 1h0m0 .5h0m0 .5h0m.5-35h0m0 17.5h0m0 3h0m0 .5h0m0 2.5h0m0 .5h0m0 3h0m0 1h0m.5-34.5h0m0 13.5h0m0 4.5h0m0 2h0m0 3h0m0 1h0m0 .5h0m0 .5h0m0 .5h0m0 6h0m0 .5h0m0 .5h0m0 .5h0m0 1h0m0 1h0m0 .5h0m.5-22.5h0m0 4h0"/>
<path fill="#CD8500" d="M80.8 121.3L80.8 76.2L81.3 76.3L81.8 80.3L82.3 80.5L82.8 75.8L83.3 76.1L83.8 75.8L84.3 76.9L84.8 79.1L85.3 80.7L85.8 83.5L86.3 84.8L86.8 85.5L87.3 86.6L87.8 97.6L88.3 98.7L88.8 89.2L89.3 90.2L89.8 94.6L90.3 95.7L90.8 95.6L91.3 96.7L91.8 98.9L92.3 99.7L92.8 103.6L93.3 104.2L93.8 102.2L94.3 102.8L94.8 93.5L95.3 94.1L95.8 96.3L96.3 95.9L96.8 103.4L97.3 102.3L97.8 102.1L98.3 101.1L98.8 92.9L99.3 91.2L99.8 80.1L100.3 78L100.8 83L101.3 80.9L101.8 84.8L102.3 83.8L102.8 86.3L103.3 86.1L103.8 80.3L104.3 80L104.8 77.6L105.3 77.4L105.8 86.5L106.3 86.2L106.8 77L106.8 121.3ZM132.5 121.3L132.5 78.8L133 78.8L133.5 80.6L134 80.4L134.5 83.3L135 83L135.5 75.1L136 74.8L136.5 67.9L137 64.7L137.5 68.4L138 68.4L138.5 64.3L139 64.3L139.5 66.9L140 66.9L140.5 70.6L141 76.2L141.5 79.5L142 80.5L142.5 80.6L143 81.6L143.5 82.3L144 83.3L144.5 90.8L145 91.8L145.5 85.1L146 85.9L146.5 87.7L147 88.5L147.5 96.1L148 96.9L148.5 88L149 88.2L149.5 90.3L150 90.5L150.5 89.9L151 90.1L151.5 89.8L152 90L152.5 89.7L153 89.8L153.5 93.6L154 92.8L154.5 90.2L155 89.4L155.5 88.6L156 87.8L156.5 66.9L157 64.9L157.5 75.2L158 73.3L158.5 64L159 64L159.5 79.8L160 79.8L160.5 77.7L160.8 77.7L160.8 121.3ZM184.1 121.3L184.1 72.6L184.6 72.6L185.1 77.8L185.6 78L186.1 75.2L186.6 75.4L187.1 78.9L187.6 79.1L188.1 78.6L188.6 78.8L189.1 76.1L189.6 72.4L190.1 70.8L190.6 67.9L191.1 66.2L191.6 66.2L192.1 66.7L192.6 66.7L193.1 69.8L193.6 69.8L194.1 66.4L194.6 66.4L195.1 70.8L195.6 74.8L196.1 72.6L196.6 76.6L197.1 85.6L197.6 87.2L198.1 86.8L198.6 88.4L199.1 94.7L199.6 96.3L200.1 93.6L200.6 94.4L201.1 97.6L201.6 98.4L202.1 91L202.6 91.8L203.1 97L203.6 95.7L204.1 91.7L204.6 90.4L205.1 96.5L205.6 95.2L206.1 91.3L206.6 85L207.1 76L207.6 72.4L208.1 59.8L208.6 59.8L209.1 59.8L209.6 59.8L210.1 63L210.6 63L211.1 62.2L211.6 66.2L212.1 68.9L212.1 121.3ZM236.3 121.3L236.3 77.3L236.8 77.4L237.3 75.7L237.8 75.7L238.3 78.4L238.8 78.6L239.3 77L239.8 77.2L240.3 78.6L240.8 79.7L241.3 83.8L241.8 84.9L242.3 75.7L242.8 75.7L243.3 84.9L243.8 85.4L244.3 84.5L244.8 85L245.3 91.1L245.8 91.6L246.3 92.1L246.8 92.6L247.3 90.4L247.8 90.9L248.3 92.8L248.8 92.6L249.3 88.2L249.8 88L250.3 88.4L250.8 88.2L251.3 78.9L251.8 78.7L252.3 86L252.8 84L253.3 87.1L253.8 85.1L254.3 78.1L254.8 78.1L255.3 82.9L255.8 82.9L256.3 83.2L256.8 83.2L257.3 80.8L257.8 80.8L258.3 81L258.8 81L259.3 77.9L259.8 77.9L260.3 75.7L260.8 75.7L261.3 79.7L261.8 79.7L262.3 76.6L262.8 76.6L262.8 121.3ZM289.9 121.3L289.9 74L290.4 74.2L290.9 71.7L291.4 71.7L291.9 76L292.4 76.3L292.9 78.6L293.4 80.6L293.9 87L294.4 89.4L294.9 84.3L295.4 85.2L295.9 88.5L296.4 89.1L296.9 71.7L297.4 71.8L297.9 91.3L298.4 91.8L298.9 90.6L299.4 91.1L299.9 91.5L300.4 92.1L300.9 85.6L301.4 86.1L301.9 95.3L302.4 95.4L302.9 96.3L303.4 96.3L303.9 92.5L304.4 92.5L304.9 90.4L305.4 90.4L305.9 95.5L306.4 94.9L306.9 89.9L307.4 89.1L307.9 89.8L308.4 89L308.9 86.7L309.4 85.9L309.9 92.1L310.4 91.3L310.9 84.7L311.4 84.6L311.9 85.6L312.4 85.6L312.9 84.3L313.4 84.3L313.9 86.9L314.4 86.9L314.9 85.2L315.4 85.2L315.9 91L316.4 91L316.9 84.9L317.4 84.9L317.9 80.9L318.4 80.9L318.6 80.9L318.6 121.3ZM337.7 121.3L337.7 78L338.2 78L338.7 75.8L339.2 75.8L339.7 77.1L340.2 77.1L340.7 77.1L341.2 77.1L341.7 76.4L342.2 76.9L342.7 75.7L343.2 75.9L343.7 78.1L344.2 79.4L344.7 80.5L345.2 81.5L345.7 84.9L346.2 85.2L346.7 89L347.2 89.3L347.7 90.8L348.2 91.2L348.7 87.6L349.2 88L349.7 91.7L350.2 92L350.7 95.1L351.2 95.5L351.7 91L352.2 91L352.7 82.9L353.2 82.3L353.7 88.2L354.2 87.6L354.7 86.6L355.2 86L355.7 86.1L356.2 85.4L356.7 83.9L357.2 83.1L357.7 86.7L358.2 85.9L358.7 80.4L359.2 79.9L359.2 121.3ZM384.6 121.3L384.6 85.1L385.1 85.2L385.6 81.8L386.1 82L386.6 79.7L387.1 79.7L387.6 86.1L388.1 86.3L388.6 86.8L389.1 87.2L389.6 81L390.1 82.3L390.6 94L391.1 95.3L391.6 91.3L392.1 92.5L392.6 88L393.1 88.4L393.6 93.1L394.1 93.5L394.6 95.3L395.1 95.7L395.6 94.2L396.1 94.6L396.6 93.1L397.1 93.5L397.6 98.1L398.1 98.4L398.6 96.2L399.1 96.1L399.6 97.4L400.1 97.2L400.6 94.3L401.1 94.2L401.6 94.6L402.1 94.4L402.6 97.2L403.1 97.1L403.6 95.2L404.1 95.1L404.6 94.1L405.1 93.6L405.6 88L406.1 85.9L406.6 87.9L407.1 85.8L407.6 85.9L408.1 84.2L408.6 79.7L409.1 79.7L409.6 79.7L410.1 79.7L410.6 79.7L411.1 79.7L411.4 79.7L411.4 121.3ZM439.5 121.3L439.5 79.7L440 79.9L440.5 83.1L441 83.5L441.5 80.5L442 80.8L442.5 78.9L443 79.3L443.5 82L444 82.4L444.5 79.5L445 80.8L445.5 73.7L446 73.7L446.5 88.6L447 89.9L447.5 100L448 100.2L448.5 94L449 94.2L449.5 89.8L450 90L450.5 96.9L451 97.1L451.5 90.8L452 87.7L452.5 81.3L453 78.1L453.5 76.6L454 76.1L454.5 78.3L455 77.7L455.5 77.6L456 77L456.5 75.2L457 74.6L457.5 82.5L458 83L458.5 76.7L459 77.2L459.5 81L460 81.5L460.2 81.6L460.2 121.3ZM492.2 121.3L492.2 77.7L492.7 77.7L493.2 81.4L493.7 82.4L494.2 82.7L494.7 83.2L495.2 82.4L495.7 83L496.2 86.9L496.7 87.4L497.2 86.3L497.7 87.1L498.2 88.6L498.7 89.4L499.2 92L499.7 92.8L500.2 94.3L500.7 94.3L501.2 83.6L501.7 83.6L502.2 92.8L502.7 92.8L503.2 89.6L503.7 89.6L504.2 93.7L504.7 93.7L505.2 94.5L505.7 93.7L506.2 96.5L506.7 95.7L507.2 79L507.7 77.7L508.2 77.7L508.7 77.7L509.2 78.7L509.7 78.4L510.2 83.5L510.7 83.2L511.2 77.7L511.7 77.7L512.2 78.2L512.7 78.7L513.2 77.7L513.7 77.7L514.2 86L514.7 86.6L515.2 83.4L515.7 83.7L516.2 80L516.7 80.4L517.2 84.5L517.7 84.8L518.2 79.7L518.7 80L519.2 81.4L519.7 81.8L520 81.9L520 121.3Z"/>
<path class="d" stroke="#CD8500" d="M81 65h0m0 2h0m0 5.5h0m0 1.5h0m0 1.5h0m0 1h0m.5-19h0m0 3.5h0m0 1.5h0m0 .5h0m0 3.5h0m0 2.5h0m0 5.5h0m0 1h0m0 .5h0m.5-23h0m0 14h0m0 6h0m0 4h0m0 1.5h0m.5-4.5h0m0 3.5h0m0 .5h0m0 4h0m.5-13.5h0m0 1h0m0 5.5h0m0 3h0m.5-26.5h0m0 18.5h0m0 4h0m0 1h0m0 1h0m0 .5h0m.5-30.5h0m0 14.5h0m0 10.5h0m0 .5h0m0 3h0m0 .5h0m.5-1.5h0m0 1.5h0m.5-6.5h0m0 2h0m0 10.5h0m0 1.5h0m.5-10.5h0m0 8.5h0m0 .5h0m.5-29h0m0 19h0m0 3.5h0m0 2h0m0 .5h0m0 2h0m0 1.5h0m0 5h0m0 .5h0m0 .5h0m.5-25h0m0 4h0m0 5h0m0 2h0m0 1.5h0m0 1.5h0m0 .5h0m0 2h0m0 1h0m0 1.5h0m0 1h0m0 1.5h0m0 1.5h0m0 .5h0m0 .5h0m0 .5h0m0 .5h0m.5-32h0m0 14.5h0m0 2.5h0m0 1h0m0 1.5h0m0 2h0m0 2.5h0m0 .5h0m0 1.5h0m0 .5h0m0 1.5h0m0 .5h0m0 2.5h0m0 .5h0m0 1.5h0m0 .5h0m0 .5h0m.5-36.5h0m0 9h0m0 7h0m0 5h0m0 4h0m0 3h0m0 1h0m0 4h0m0 .5h0m0 .5h0m0 2h0m0 .5h0m.5-14.5h0m0 1.5h0m0 .5h0m0 1.5h0m0 3h0m0 3.5h0m0 1.5h0m0 .5h0m0 .5h0m0 1h0m0 10h0m.5-30h0m0 5h0m0 5.5h0m0 13.5h0m0 2h0m0 1h0m0 2.5h0m0 1.5h0m0 2h0m.5-20.5h0m0 .5h0m0 1.5h0m0 1.5h0m0 4h0m0 4h0m0 6h0m0 3h0m.5-26h0m0 2h0m0 5.5h0m0 5.5h0m0 2h0m0 .5h0m0 2h0m.5-23.5h0m0 2h0m0 3.5h0m0 2h0m0 4h0m0 3h0m0 1h0m0 7h0m0 .5h0m0 .5h0m0 1h0m0 1.5h0m0 .5h0m0 .5h0m0 .5h0m0 .5h0m0 .5h0m.5-33.5h0m0 17h0m0 1.5h0m0 4.5h0m0 .5h0m0 1.5h0m0 .5h0m0 .5h0m0 .5h0m0 2h0m0 .5h0m0 1.5h0m0 .5h0m0 1h0m0 .5h0m0 .5h0m0 .5h0m.5-21.5h0m0 6.5h0m0 5.5h0m0 4h0m0 3.5h0m0 1h0m0 1.5h0m.5-6h0m0 5.5h0m0 .5h0m.5-15.5h0m0 .5h0m0 1.5h0m0 .5h0m0 6.5h0m0 6.5h0m0 .5h0m0 .5h0m0 .5h0m0 1h0m.5-6.5h0m0 .5h0m0 2h0m0 .5h0m0 1.5h0m0 1h0m0 .5h0m0 1h0m0 .5h0m.5-33h0m0 19h0m0 6h0m0 .5h0m0 3h0m0 1.5h0m0 .5h0m0 .5h0m0 .5h0m0 .5h0m0 1h0m0 .5h0m0 .5h0m0 2h0m0 .5h0m0 .5h0m0 .5h0m.5-21.5h0m0 7.5h0m0 2h0m0 1.5h0m0 3.5h0m0 3h0m0 .5h0m0 .5h0m0 .5h0m0 .5h0m0 1h0m0 .5h0m0 .5h0m.5-30.5h0m0 15.5h0m0 9h0m0 1.5h0m0 .5h0m0 2h0m0 1h0m0 1h0m.5-14.5h0m0 5h0m0 3h0m0 1h0m0 2.5h0m.5-28h0m0 11h0m0 8h0m0 .5h0m0 .5h0m0 9h0m.5-28.5h0m0 1h0m0 12.5h0m0 3.5h0m0 1.5h0m0 .5h0m0 1.5h0m.5-26.5h0m0 27h0m.5-1h0m.5-19.5h0m0 9h0m0 2.5h0m0 5h0m0 1.5h0m0 .5h0m0 .5h0m0 4.5h0m.5-15.5h0m0 1h0m0 5h0m0 5h0m0 1h0m0 1.5h0m0 .5h0m0 1.5h0m0 1h0m0 3.5h0m.5-24.5h0m0 12h0m0 1.5h0m0 1h0m0 2.5h0m0 1h0m0 .5h0m0 2.5h0m0 .5h0m.5-27h0m0 4h0m0 9h0m0 2h0m0 3h0m0 8h0m0 .5h0m0 1h0m0 .5h0m.5-36.5h0m0 13.5h0m0 2h0m0 3h0m0 3.5h0m0 2h0m0 1.5h0m0 3h0m0 2h0m0 .5h0m0 1h0m.5-14h0m0 1h0m0 1h0m0 1h0m0 .5h0m0 1h0m0 1h0m0 .5h0m.5-30.5h0m0 3h0m0 12.5h0m0 3.5h0m0 2.5h0m0 4h0m0 2.5h0m0 .5h0m.5-23h0m0 6h0m0 1h0m0 2.5h0m0 3.5h0m0 .5h0m0 .5h0m.5-31.5h0m0 20.5h0m0 6h0m0 2.5h0m0 2h0m0 2h0m.5-21.5h0m0 16.5h0m0 1h0m0 2h0m0 .5h0m0 .5h0m0 .5h0m.5-19.5h0m0 .5h0m0 3.5h0m0 4h0m0 2h0m0 6h0m0 1h0m0 1.5h0m0 1.5h0m0 1h0m0 2.5h0m0 2h0m.5-20h0m0 1.5h0m0 6.5h0m0 2h0m0 1.5h0m0 2.5h0m0 2h0m0 .5h0m0 1h0m0 1.5h0m0 .5h0m.5-13.5h0m0 3h0m0 .5h0m0 1.5h0m0 6.5h0m0 .5h0m0 .5h0m0 1h0m0 .5h0m.5-20h0m0 4h0m0 11.5h0m0 2h0m0 2h0m0 2.5h0m.5-22.5h0m0 7h0m0 6h0m0 .5h0m0 .5h0m0 4.5h0m.5-34h0m0 15.5h0m0 8h0m0 1.5h0m0 1.5h0m0 .5h0m0 2.5h0m0 .5h0m0 2h0m.5-17.5h0m0 5.5h0m0 .5h0m0 .5h0m0 4.5h0m0 .5h0m0 1.5h0m0 4.5h0m.5-19h0m0 5h0m0 1h0m0 5.5h0m0 .5h0m0 2h0m0 .5h0m0 .5h0m0 .5h0m0 .5h0m.5-14h0m0 5h0m0 .5h0m0 2h0m0 .5h0m0 3h0m0 .5h0m0 .5h0m0 1.5h0m0 1h0m0 1h0m0 .5h0m0 .5h0m0 .5h0m0 .5h0m0 .5h0m0 .5h0m0 .5h0m0 .5h0m0 .5h0m0 .5h0m0 .5h0m0 .5h0m0 1h0m0 .5h0m0 .5h0m.5-25h0m0 2h0m0 1h0m0 .5h0m0 .5h0m0 .5h0m0 3.5h0m0 .5h0m0 .5h0m0 .5h0m0 .5h0m0 1h0m0 .5h0m0 1h0m0 1.5h0m0 .5h0m0 .5h0m0 .5h0m0 1h0m0 .5h0m0 .5h0m0 1h0m0 .5h0m0 .5h0m0 .5h0m0 .5h0m0 .5h0m0 .5h0m0 .5h0m0 .5h0m0 .5h0m0 .5h0m0 .5h0m0 .5h0m0 .5h0m.5-21.5h0m0 5h0m0 4.5h0m0 1.5h0m0 4h0m0 1h0m0 .5h0m0 .5h0m0 1.5h0m0 2.5h0m25.5-24h0m0 9h0m.5 4h0m0 3h0m0 1.5h0m.5-8.5h0m0 6h0m0 2h0m.5-12h0m0 8h0m0 3h0m0 1h0m0 1.5h0m0 .5h0m0 2.5h0m.5-31h0m0 17.5h0m0 3.5h0m0 1h0m0 8h0m0 .5h0m.5-29.5h0m0 10.5h0m0 3.5h0m0 5.5h0m0 2.5h0m0 .5h0m0 2.5h0m0 2h0m0 .5h0m0 2h0m0 .5h0m.5-25.5h0m0 2h0m0 6.5h0m0 1h0m0 .5h0m0 1h0m.5-15h0m0 10.5h0m0 .5h0m0 1h0m0 .5h0m0 7h0m0 1.5h0m.5-22.5h0m0 4h0m0 1.5h0m0 5.5h0m0 .5h0m0 3.5h0m0 1h0m.5-24h0m0 6.5h0m0 9h0m0 1h0m0 .5h0m0 1h0m0 1h0m0 2h0m0 1h0m0 .5h0m0 .5h0m0 .5h0m0 .5h0m.5-11.5h0m0 3.5h0m0 2.5h0m0 1.5h0m0 .5h0m0 .5h0m0 3h0m.5-22h0m0 2.5h0m0 2.5h0m0 2.5h0m0 1.5h0m0 2h0m0 .5h0m0 3h0m0 2h0m0 1h0m0 .5h0m0 4.5h0m.5-25.5h0m0 4h0m0 3h0m0 2.5h0m0 1h0m0 3h0m0 1.5h0m0 .5h0m0 1h0m0 1h0m0 .5h0m0 1h0m0 1h0m0 .5h0m.5-18.5h0m0 4h0m0 3.5h0m0 1h0m0 .5h0m0 1h0m0 1.5h0m0 3.5h0m0 1.5h0m0 1h0m0 1.5h0m0 .5h0m.5-11.5h0m0 8h0m0 2.5h0m0 2.5h0m.5-5.5h0m0 6.5h0m0 1.5h0m0 .5h0m.5-9.5h0m0 1h0m0 4.5h0m0 1h0m0 1h0m0 .5h0m0 2h0m.5-2h0m0 1h0m0 1h0m0 6h0m.5-17h0m0 1h0m0 5h0m0 3h0m0 .5h0m0 4.5h0m0 2h0m0 1.5h0m0 2.5h0m.5-19.5h0m0 3.5h0m0 4.5h0m0 2.5h0m0 1h0m0 2.5h0m0 1h0m0 1.5h0m0 .5h0m0 .5h0m0 1.5h0m0 .5h0m0 1h0m.5-35h0m0 4.5h0m0 5.5h0m0 9.5h0m0 .5h0m0 2.5h0m0 1h0m0 5.5h0m0 1h0m0 1h0m0 .5h0m0 .5h0m0 .5h0m0 1h0m0 .5h0m0 .5h0m0 .5h0m0 .5h0m0 .5h0m.5-24.5h0m0 5h0m0 3h0m0 5.5h0m0 .5h0m0 1h0m0 .5h0m0 1h0m0 2.5h0m0 .5h0m0 1h0m0 1.5h0m0 1h0m0 1h0m0 1h0m.5-13.5h0m0 3h0m0 3h0m0 1h0m0 2h0m0 1.5h0m0 1h0m0 1.5h0m0 .5h0m.5-13h0m0 3h0m0 3h0m0 1h0m0 .5h0m0 .5h0m0 2h0m0 2h0m0 .5h0m0 .5h0m0 2h0m0 1.5h0m0 3h0m0 .5h0m0 .5h0m0 .5h0m0 .5h0m0 1h0m.5-23.5h0m0 7h0m0 2h0m0 3.5h0m0 2h0m0 1.5h0m0 .5h0m0 1.5h0m0 3h0m0 .5h0m0 .5h0m0 .5h0m.5-38h0m0 2.5h0m0 1h0m0 3h0m0 1.5h0m0 2.5h0m0 6.5h0m0 3.5h0m0 .5h0m0 1h0m0 .5h0m0 .5h0m0 .5h0m0 1h0m0 .5h0m0 1.5h0m0 .5h0m0 .5h0m0 .5h0m0 .5h0m0 .5h0m0 .5h0m0 .5h0m0 .5h0m0 .5h0m0 2.5h0m0 1h0m0 1.5h0m.5-29h0m0 5.5h0m0 3h0m0 1h0m0 1h0m0 3h0m0 1.5h0m0 1.5h0m0 .5h0m0 2h0m0 2h0m0 .5h0m0 .5h0m0 1h0m0 .5h0m0 .5h0m0 .5h0m0 .5h0m0 .5h0m0 .5h0m0 .5h0m.5-32h0m0 15h0m0 2.5h0m0 3h0m0 1.5h0m0 2.5h0m0 1.5h0m0 .5h0m0 .5h0m0 1h0m0 .5h0m0 .5h0m0 .5h0m0 2h0m0 .5h0m.5-26.5h0m0 11.5h0m0 1.5h0m0 6h0m0 5h0m0 1h0m0 1h0m0 2h0m.5-3.5h0m0 2h0m.5-15.5h0m0 11h0m0 12h0m0 1h0m.5-28.5h0m0 6h0m0 1h0m0 .5h0m0 3h0m0 1.5h0m0 1.5h0m0 1h0m0 .5h0m0 1.5h0m0 2.5h0m0 .5h0m0 1h0m0 .5h0m0 .5h0m0 .5h0m0 .5h0m0 5.5h0m.5-29.5h0m0 2h0m0 2.5h0m0 4h0m0 1h0m0 4.5h0m0 1h0m0 1.5h0m0 1h0m0 .5h0m0 1h0m0 1.5h0m0 .5h0m0 .5h0m0 .5h0m0 1.5h0m0 .5h0m0 .5h0m.5-32h0m0 6h0m0 8h0m0 4.5h0m0 .5h0m0 .5h0m0 1.5h0m0 3h0m0 1h0m0 .5h0m0 .5h0m0 1h0m0 1.5h0m0 1h0m0 1h0m0 1h0m0 1h0m0 1.5h0m.5-22h0m0 3.5h0m0 4h0m0 3.5h0m0 1.5h0m0 1.5h0m0 1h0m0 1.5h0m0 3h0m0 .5h0m0 1.5h0m.5-21h0m0 8.5h0m0 1.5h0m0 4.5h0m0 3h0m0 1h0m0 .5h0m0 .5h0m0 1h0m.5-27h0m0 12h0m0 3h0m0 1.5h0m0 4h0m0 2h0m0 .5h0m0 1.5h0m0 1.5h0m0 1h0m.5-9.5h0m0 .5h0m0 .5h0m0 3.5h0m0 2.5h0m0 .5h0m.5-23h0m0 5h0m0 3.5h0m0 11.5h0m0 1h0m0 4.5h0m.5-18.5h0m0 11.5h0m0 .5h0m0 2h0m0 2h0m.5-9.5h0m0 3h0m0 1.5h0m0 3.5h0m0 3h0m0 .5h0m0 .5h0m.5-19.5h0m0 16h0m0 2.5h0m.5 2h0m0 1h0m.5-27.5h0m0 .5h0m0 8.5h0m0 1.5h0m0 .5h0m0 .5h0m0 2h0m0 1.5h0m0 1h0m0 3.5h0m0 1h0m0 1h0m0 1.5h0m0 .5h0m0 1.5h0m0 .5h0m0 .5h0m.5-31h0m0 18h0m0 2.5h0m0 2h0m0 1h0m0 6.5h0m0 .5h0m.5-35h0m0 14.5h0m0 8.5h0m0 7h0m0 1h0m0 1h0m0 1.5h0m.5-21.5h0m0 11h0m0 3.5h0m0 2h0m0 2.5h0m0 2.5h0m.5-29.5h0m0 8h0m0 10h0m0 2.5h0m0 5h0m0 .5h0m.5-33.5h0m0 7.5h0m0 5h0m.5 3h0m0 6h0m.5-18h0m0 12.5h0m0 1h0m0 2h0m0 1.5h0m.5-36.5h0m0 13.5h0m0 5h0m0 .5h0m0 .5h0m0 3.5h0m0 3h0m0 3h0m0 4h0m0 4h0m.5-25h0m0 6.5h0m0 .5h0m0 1.5h0m0 1.5h0m0 1.5h0m0 1.5h0m0 1h0m0 1.5h0m0 1h0m.5-9h0m0 2h0m0 1h0m0 .5h0m0 2.5h0m0 3h0m0 4.5h0m0 1.5h0m0 1h0m0 .5h0m0 1h0m0 1.5h0m0 .5h0m0 2.5h0m0 .5h0m0 .5h0m0 1h0m0 .5h0m.5-16.5h0m0 9h0m0 .5h0m0 .5h0m0 .5h0m0 .5h0m0 .5h0m0 .5h0m0 1h0m0 .5h0m0 .5h0m0 .5h0m0 1.5h0m0 .5h0m0 .5h0m.5-19h0m0 4h0m0 4h0m0 2.5h0m0 .5h0m0 .5h0m0 1h0m0 1h0m0 1h0m0 .5h0m0 .5h0m0 2.5h0m0 .5h0m.5-14h0m0 1.5h0m0 1.5h0m0 1h0m0 .5h0m0 2h0m0 .5h0m0 3.5h0m0 .5h0m0 .5h0m0 .5h0m0 .5h0m0 .5h0m0 .5h0m23.5-13.5h0m0 2h0m.5-10h0m0 7.5h0m0 2.5h0m0 .5h0m0 1h0m0 1h0m0 1.5h0m.5-17h0m0 1h0m0 8h0m0 3h0m0 .5h0m0 3.5h0m0 5.5h0m.5-23h0m0 1h0m0 8h0m0 6.5h0m0 3h0m0 6.5h0m.5-9.5h0m0 2.5h0m0 2.5h0m0 .5h0m0 2h0m.5-20h0m0 1.5h0m0 2.5h0m0 1h0m0 1.5h0m0 1h0m0 2h0m0 8h0m0 1.5h0m0 .5h0m.5-12h0m0 1h0m0 3.5h0m0 .5h0m0 4h0m0 .5h0m0 .5h0m0 .5h0m0 1h0m0 .5h0m0 1.5h0m0 .5h0m0 2h0m.5-23h0m0 9h0m0 1.5h0m0 3.5h0m0 3h0m0 1h0m0 1.5h0m0 3h0m.5-29h0m0 4.5h0m0 3h0m0 10h0m0 5.5h0m0 .5h0m0 2h0m0 1h0m0 .5h0m0 2.5h0m.5-14.5h0m0 1.5h0m0 3h0m0 6.5h0m0 3h0m.5-10h0m0 9h0m.5-37.5h0m0 17h0m0 5.5h0m0 8.5h0m0 1.5h0m.5-17.5h0m0 6h0m0 1.5h0m0 1h0m0 2h0m0 1.5h0m0 6h0m.5-32.5h0m0 2h0m0 4h0m0 6h0m0 8h0m0 1h0m0 1.5h0m0 .5h0m0 1h0m0 .5h0m0 .5h0m0 2h0m0 .5h0m.5-27h0m0 11.5h0m0 5.5h0m0 1.5h0m0 1h0m0 .5h0m0 1h0m0 .5h0m0 .5h0m0 .5h0m0 .5h0m0 1h0m0 .5h0m0 .5h0m0 1h0m.5-17h0m0 3h0m0 .5h0m0 1h0m0 2.5h0m0 2h0m0 1.5h0m0 2h0m0 1h0m0 .5h0m0 .5h0m.5-21h0m0 15.5h0m0 1.5h0m0 .5h0m0 1.5h0m0 1h0m0 2.5h0m0 .5h0m.5-16.5h0m0 4h0m0 2h0m0 1h0m0 1h0m0 1h0m0 1.5h0m0 .5h0m0 2.5h0m0 1h0m0 .5h0m0 .5h0m.5-6h0m0 2.5h0m0 2.5h0m0 1h0m0 3.5h0m.5-28h0m0 3h0m0 3h0m0 3h0m0 2.5h0m0 3h0m0 4h0m0 1h0m0 4.5h0m0 .5h0m0 1h0m0 .5h0m0 .5h0m0 1h0m0 1h0m.5-24h0m0 12h0m0 1.5h0m0 1.5h0m0 3h0m0 5h0m.5-18h0m0 6h0m0 2h0m0 1h0m0 .5h0m0 5h0m.5-12h0m0 2h0m0 .5h0m0 1h0m0 1h0m0 .5h0m0 7h0m0 1h0m0 2h0m0 6h0m.5-23.5h0m0 10h0m0 1h0m0 2h0m0 1.5h0m0 .5h0m0 1.5h0m0 2h0m0 1h0m0 .5h0m0 .5h0m0 .5h0m0 .5h0m0 .5h0m0 .5h0m0 .5h0m.5-14.5h0m0 1.5h0m0 2h0m0 4.5h0m0 6h0m0 .5h0m.5-12.5h0m0 3h0m0 7h0m0 2.5h0m0 1h0m0 1h0m.5-22.5h0m0 8.5h0m0 2.5h0m0 3.5h0m0 6h0m0 1h0m0 2h0m0 .5h0m0 .5h0m0 .5h0m0 1.5h0m0 1h0m0 1.5h0m0 .5h0m0 .5h0m0 1.5h0m0 1h0m0 .5h0m.5-35.5h0m0 11.5h0m0 1.5h0m0 2h0m0 2h0m0 3h0m0 1h0m0 1.5h0m0 2h0m0 1.5h0m0 .5h0m0 2h0m0 1.5h0m0 1h0m0 .5h0m0 .5h0m0 .5h0m0 .5h0m0 .5h0m0 .5h0m0 .5h0m0 1h0m0 .5h0m0 .5h0m.5-27h0m0 2h0m0 3h0m0 3h0m0 3.5h0m0 .5h0m0 .5h0m0 7.5h0m0 .5h0m0 1h0m0 .5h0m0 .5h0m0 .5h0m0 .5h0m0 2.5h0m0 .5h0m.5-19h0m0 3.5h0m0 2h0m0 7h0m0 3h0m0 1.5h0m0 1h0m0 .5h0m0 .5h0m.5-17h0m0 3h0m0 4h0m0 1.5h0m0 2h0m0 4h0m0 1.5h0m0 .5h0m0 .5h0m0 .5h0m0 3.5h0m0 .5h0m0 .5h0m0 1h0m0 .5h0m0 .5h0m0 .5h0m0 .5h0m0 .5h0m0 .5h0m0 .5h0m.5-41.5h0m0 7.5h0m0 1.5h0m0 3h0m0 5.5h0m0 1h0m0 3.5h0m0 6h0m0 .5h0m0 1.5h0m0 1h0m0 1h0m0 .5h0m0 .5h0m0 .5h0m0 .5h0m0 .5h0m0 .5h0m0 1h0m0 .5h0m0 .5h0m0 .5h0m0 .5h0m0 .5h0m0 .5h0m0 1h0m0 .5h0m0 .5h0m.5-34.5h0m0 12.5h0m0 1h0m0 7.5h0m0 1h0m0 1h0m0 2.5h0m0 .5h0m0 1h0m0 1h0m0 3.5h0m0 .5h0m0 .5h0m0 .5h0m0 1h0m.5-13.5h0m0 3.5h0m0 1h0m0 1h0m0 1h0m0 1.5h0m0 1h0m0 .5h0m0 .5h0m0 1h0m0 .5h0m0 1h0m.5-5h0m0 2.5h0m0 1h0m0 .5h0m0 .5h0m0 .5h0m0 3h0m.5-19.5h0m0 15.5h0m0 1h0m0 .5h0m0 3h0m.5-42h0m0 29h0m0 4h0m0 2.5h0m0 6h0m.5-27h0m0 3h0m0 4h0m0 4.5h0m0 1.5h0m0 .5h0m0 .5h0m0 .5h0m0 1h0m0 1.5h0m0 .5h0m0 .5h0m0 1h0m0 2h0m.5-26h0m0 5.5h0m0 1h0m0 1h0m0 8h0m0 6h0m0 .5h0m0 .5h0m0 .5h0m0 .5h0m0 .5h0m0 1h0m0 .5h0m0 .5h0m0 .5h0m0 3h0m0 .5h0m0 1h0m.5-23.5h0m0 9h0m0 4h0m0 1h0m0 4h0m0 .5h0m0 1.5h0m0 1h0m0 2h0m.5-37h0m0 24.5h0m0 1h0m0 .5h0m0 .5h0m0 1h0m0 .5h0m0 1h0m0 1.5h0m0 1h0m0 .5h0m0 4.5h0m.5-16.5h0m0 2.5h0m0 2.5h0m0 1.5h0m0 .5h0m.5-2h0m0 1.5h0m0 1.5h0m0 5h0m0 3h0m.5-13.5h0m0 2.5h0m0 1.5h0m0 3h0m0 1.5h0m0 1h0m.5-23.5h0m0 15.5h0m0 3h0m0 .5h0m0 5.5h0m.5-35.5h0m0 13.5h0m0 3h0m0 7.5h0m0 6h0m.5-25.5h0m0 .5h0m0 1h0m0 .5h0m0 1.5h0m0 .5h0m0 4h0m0 1.5h0m0 .5h0m0 .5h0m0 2h0m0 3.5h0m0 .5h0m0 2h0m.5-34h0m0 9.5h0m0 5h0m0 2h0m0 2.5h0m0 .5h0m0 .5h0m0 .5h0m0 .5h0m0 .5h0m0 .5h0m0 1.5h0m0 .5h0m0 .5h0m0 1h0m0 1.5h0m0 .5h0m0 .5h0m.5-15.5h0m0 1h0m0 .5h0m0 .5h0m0 1h0m0 9.5h0m.5-41h0m0 2h0m0 15h0m0 2.5h0m0 1h0m0 1.5h0m0 .5h0m0 2h0m0 2h0m0 1h0m0 2.5h0m0 .5h0m.5-26.5h0m0 7h0m0 6.5h0m0 1h0m0 2h0m0 .5h0m0 .5h0m0 1h0m.5-16h0m0 14.5h0m0 1.5h0m0 3.5h0m0 .5h0m0 .5h0m0 1h0m0 .5h0m0 1.5h0m0 .5h0m.5-16h0m0 2h0m0 4h0m0 6.5h0m0 2.5h0m.5-5h0m0 6h0m0 3h0m0 .5h0m.5-18h0m0 5h0m0 3h0m0 2h0m0 1.5h0m0 .5h0m0 2h0m0 1.5h0m0 4h0m.5-15h0m0 3.5h0m0 1h0m0 1.5h0m0 .5h0m0 1h0m0 3.5h0m0 .5h0m0 .5h0m0 1h0m0 .5h0m0 1h0m0 1h0m0 .5h0m.5-20h0m0 3.5h0m0 3h0m0 3.5h0m0 2.5h0m0 2h0m24.5 12h0m0 4.5h0m.5-8h0m0 3h0m0 .5h0m0 1h0m0 2.5h0m.5-12h0m0 7h0m0 1.5h0m.5-22h0m0 6h0m0 2.5h0m0 .5h0m0 1h0m0 3.5h0m0 1.5h0m0 .5h0m0 .5h0m0 2.5h0m0 1.5h0m0 .5h0m0 .5h0m0 .5h0m0 2h0m0 .5h0m0 .5h0m0 .5h0m0 .5h0m0 2h0m0 .5h0m0 .5h0m.5-36.5h0m0 1.5h0m0 8h0m0 .5h0m0 .5h0m0 4.5h0m0 2h0m0 .5h0m0 .5h0m0 1.5h0m0 1h0m0 1h0m0 .5h0m0 1.5h0m0 .5h0m0 2h0m0 1.5h0m0 .5h0m0 1.5h0m0 1h0m0 .5h0m0 .5h0m0 1h0m0 .5h0m0 .5h0m0 .5h0m0 .5h0m0 .5h0m0 .5h0m0 .5h0m0 .5h0m.5-24.5h0m0 1.5h0m0 3h0m0 2.5h0m0 2h0m0 1h0m0 5h0m0 .5h0m0 1.5h0m0 1h0m0 .5h0m0 .5h0m0 .5h0m0 .5h0m0 .5h0m0 .5h0m0 .5h0m0 .5h0m0 1.5h0m0 .5h0m0 .5h0m.5-9h0m0 4h0m0 2.5h0m.5-18.5h0m0 12h0m0 1h0m0 .5h0m0 2.5h0m0 2.5h0m0 .5h0m.5-14.5h0m0 4h0m0 3.5h0m0 3.5h0m0 4h0m0 .5h0m0 .5h0m0 .5h0m.5-11.5h0m0 6h0m0 4.5h0m0 .5h0m0 .5h0m0 3h0m0 1.5h0m0 .5h0m.5-18.5h0m0 6h0m0 1h0m0 3h0m0 .5h0m0 5h0m0 2h0m0 .5h0m0 1h0m.5-21.5h0m0 4.5h0m0 4h0m0 1h0m0 1.5h0m0 1h0m0 1h0m0 6h0m0 .5h0m0 1h0m0 .5h0m.5-26h0m0 8h0m0 4.5h0m0 1h0m0 2h0m0 1h0m0 .5h0m0 1h0m.5-33h0m0 7.5h0m0 8.5h0m0 4.5h0m0 4h0m0 1h0m0 3h0m0 2h0m0 .5h0m0 2h0m0 3h0m.5-16h0m0 16h0m0 2h0m0 2h0m0 2.5h0m.5-6h0m0 .5h0m0 1h0m0 2h0m0 1h0m.5-14h0m0 7h0m.5-16h0m0 2h0m0 .5h0m0 9h0m0 5.5h0m0 3h0m0 1.5h0m0 1h0m0 1h0m0 1h0m0 1h0m0 .5h0m0 1.5h0m0 .5h0m0 1h0m0 .5h0m.5-27.5h0m0 5.5h0m0 1h0m0 .5h0m0 3.5h0m0 1h0m0 4.5h0m0 1h0m0 3.5h0m0 3h0m0 .5h0m0 .5h0m.5-40h0m0 30h0m0 2.5h0m0 .5h0m0 2h0m0 1.5h0m0 1h0m0 1.5h0m0 .5h0m0 .5h0m0 4.5h0m.5-20.5h0m0 4.5h0m0 3.5h0m0 3h0m0 4h0m0 1.5h0m0 .5h0m0 2.5h0m0 .5h0m0 1h0m.5-11.5h0m0 .5h0m0 3.5h0m0 .5h0m0 1h0m0 2.5h0m0 1h0m0 2h0m.5-28.5h0m0 1.5h0m0 8.5h0m0 4.5h0m0 2.5h0m0 .5h0m0 .5h0m0 1h0m0 2h0m0 2h0m0 .5h0m0 1h0m0 .5h0m0 1h0m0 .5h0m0 .5h0m0 .5h0m.5-28h0m0 3h0m0 7.5h0m0 2h0m0 2.5h0m0 2.5h0m0 .5h0m0 1.5h0m0 .5h0m0 .5h0m0 1.5h0m0 2h0m0 .5h0m0 .5h0m0 .5h0m0 .5h0m0 .5h0m0 .5h0m0 .5h0m0 2h0m.5-13h0m0 1h0m0 1.5h0m0 .5h0m0 1h0m0 1h0m0 3h0m0 3h0m0 .5h0m0 .5h0m0 .5h0m0 .5h0m.5-20.5h0m0 5.5h0m0 .5h0m0 1h0m0 7h0m0 .5h0m0 .5h0m0 1h0m0 .5h0m0 .5h0m0 1h0m0 .5h0m.5-28.5h0m0 11.5h0m0 7h0m0 3.5h0m0 .5h0m0 1.5h0m0 2h0m.5-28h0m0 2.5h0m0 6.5h0m0 3h0m0 6.5h0m0 1.5h0m0 2h0m0 3h0m0 .5h0m0 .5h0m0 2.5h0m.5-28h0m0 9.5h0m0 9.5h0m0 4.5h0m0 .5h0m0 2h0m0 1h0m0 .5h0m0 .5h0m.5-28.5h0m0 7h0m0 2.5h0m0 6.5h0m0 1.5h0m0 .5h0m0 1.5h0m0 2h0m0 3.5h0m0 2h0m.5-42h0m0 12h0m0 7h0m0 7h0m0 1h0m0 2h0m0 1h0m0 .5h0m0 .5h0m0 .5h0m0 .5h0m0 1h0m0 .5h0m.5-16h0m0 4.5h0m0 3.5h0m0 5h0m0 2.5h0m0 .5h0m0 .5h0m0 3h0m0 3.5h0m.5-7.5h0m0 4h0m0 .5h0m0 1.5h0m.5-37h0m0 15.5h0m0 13h0m0 2.5h0m0 2.5h0m0 .5h0m0 1.5h0m0 .5h0m0 2.5h0m0 .5h0m.5-19h0m0 9.5h0m0 2h0m0 3.5h0m0 .5h0m0 1.5h0m0 .5h0m0 1.5h0m0 .5h0m.5-34.5h0m0 19.5h0m0 .5h0m0 1.5h0m0 4h0m0 3h0m0 3.5h0m0 1h0m0 1h0m.5-7.5h0m.5-21h0m0 6.5h0m0 3h0m0 2.5h0m0 3.5h0m0 1.5h0m0 2.5h0m0 .5h0m0 1h0m0 .5h0m0 2.5h0m0 1h0m.5-19.5h0m0 4h0m0 3.5h0m0 4h0m0 4.5h0m0 .5h0m0 1h0m0 1.5h0m0 1.5h0m.5-21.5h0m0 1h0m0 4h0m0 3h0m0 2h0m0 3h0m0 2.5h0m0 1h0m0 .5h0m0 1h0m0 .5h0m0 1.5h0m0 .5h0m.5-10.5h0m0 1h0m0 7h0m0 3h0m.5-25.5h0m0 3.5h0m0 1h0m0 4.5h0m0 2h0m0 4.5h0m0 2h0m0 2h0m0 2h0m0 .5h0m0 .5h0m.5-16h0m0 1h0m0 .5h0m0 2.5h0m0 4h0m0 2.5h0m0 2h0m0 1.5h0m0 1h0m0 1h0m0 1h0m.5-19.5h0m0 11h0m0 4.5h0m0 .5h0m0 2h0m0 1.5h0m.5-14.5h0m0 5h0m.5-13.5h0m0 5.5h0m0 10h0m0 1.5h0m0 3h0m.5-16.5h0m0 6h0m0 8.5h0m0 1h0m0 1h0m.5-27h0m0 1.5h0m0 10h0m0 5.5h0m0 1h0m0 4h0m0 1h0m0 3h0m.5-17h0m0 10.5h0m0 1h0m0 2h0m0 .5h0m0 1h0m.5-5.5h0m0 2h0m0 2h0m0 5.5h0m.5-16.5h0m0 3h0m0 10h0m0 1.5h0m0 1h0m.5-19h0m0 3h0m0 1h0m0 2.5h0m0 7h0m0 .5h0m0 .5h0m0 4h0m0 .5h0m0 2h0m.5-19h0m0 5.5h0m0 .5h0m0 3.5h0m0 1.5h0m0 2.5h0m0 1h0m0 .5h0m.5-27.5h0m0 26h0m27-24h0m0 9.5h0m0 8h0m0 3h0m0 1h0m.5-15h0m0 4h0m0 2.5h0m0 7h0m0 2h0m0 1.5h0m0 .5h0m.5-13h0m0 2h0m0 2.5h0m0 1.5h0m0 2h0m0 2h0m.5-32.5h0m0 9.5h0m0 9.5h0m0 1h0m0 2h0m0 6h0m.5-28h0m0 25.5h0m0 1.5h0m0 2.5h0m0 2h0m.5-6h0m0 1.5h0m0 3.5h0m0 2.5h0m.5-5.5h0m0 .5h0m0 4.5h0m0 6h0m.5-9h0m0 1h0m0 2.5h0m0 7h0m.5-13.5h0m0 2.5h0m0 2.5h0m0 1h0m0 3.5h0m0 3h0m0 .5h0m0 1h0m0 1.5h0m0 2h0m0 1.5h0m0 1h0m0 2h0m0 1h0m0 1h0m.5-41.5h0m0 21h0m0 1.5h0m0 4h0m0 .5h0m0 4h0m0 1h0m0 .5h0m0 .5h0m0 1h0m0 .5h0m0 .5h0m0 1h0m0 1h0m0 .5h0m0 .5h0m0 .5h0m0 .5h0m0 1h0m0 .5h0m0 .5h0m0 .5h0m0 .5h0m.5-28h0m0 5h0m0 1h0m0 4.5h0m0 .5h0m0 1h0m0 1.5h0m0 1.5h0m0 1h0m0 1h0m0 1.5h0m0 1h0m0 .5h0m0 1h0m0 1h0m0 1h0m0 .5h0m0 .5h0m0 3h0m0 .5h0m0 .5h0m0 .5h0m.5-8.5h0m0 .5h0m0 .5h0m0 1h0m.5-10h0m0 1.5h0m0 1h0m0 2.5h0m0 3h0m0 1h0m0 5h0m0 .5h0m0 .5h0m0 .5h0m.5-23.5h0m0 3h0m0 4h0m0 1.5h0m0 1.5h0m0 .5h0m0 1h0m0 2.5h0m0 4.5h0m0 1.5h0m0 1h0m0 .5h0m0 .5h0m0 .5h0m0 .5h0m.5-49.5h0m0 3.5h0m0 7h0m0 8.5h0m0 4.5h0m0 2.5h0m0 2h0m0 3h0m0 6.5h0m0 2h0m0 .5h0m0 2h0m0 1h0m0 .5h0m0 1h0m0 2h0m0 .5h0m0 .5h0m0 1h0m0 .5h0m0 .5h0m.5-37.5h0m0 5h0m0 1.5h0m0 3.5h0m0 .5h0m0 3.5h0m0 .5h0m0 .5h0m0 3h0m0 .5h0m0 1h0m0 .5h0m.5-16.5h0m0 8h0m0 2h0m0 1.5h0m0 3.5h0m0 1h0m0 .5h0m0 13h0m0 4h0m0 1.5h0m.5-28.5h0m0 22.5h0m0 3h0m.5-2.5h0m0 6h0m0 1.5h0m0 .5h0m.5-18.5h0m0 10.5h0m0 3h0m0 1.5h0m0 1h0m0 .5h0m0 1h0m.5-18h0m0 9h0m0 1.5h0m.5-11.5h0m0 3.5h0m0 1.5h0m0 1h0m0 2.5h0m0 5h0m0 2.5h0m0 1h0m0 2h0m0 1h0m.5-24h0m0 3h0m0 2h0m0 3.5h0m0 7.5h0m0 1.5h0m0 .5h0m0 .5h0m0 2h0m0 2.5h0m0 .5h0m.5-25h0m0 .5h0m0 4.5h0m0 1.5h0m0 1h0m0 1.5h0m0 4h0m0 1.5h0m0 1.5h0m0 2.5h0m.5-20.5h0m0 10h0m0 7h0m0 1h0m0 1.5h0m0 .5h0m.5-28.5h0m0 34h0m.5-16h0m0 4.5h0m0 4h0m0 1h0m0 1.5h0m0 1h0m0 3.5h0m0 1h0m0 3h0m0 .5h0m0 1h0m.5-29.5h0m0 13h0m0 3h0m0 3h0m0 1.5h0m0 .5h0m0 .5h0m0 4.5h0m0 1h0m0 1h0m0 1h0m0 .5h0m0 1.5h0m.5-16h0m0 .5h0m0 2h0m0 1.5h0m0 1h0m0 2h0m0 3.5h0m0 3h0m0 2.5h0m.5-25.5h0m0 6h0m0 4.5h0m0 1h0m0 2.5h0m0 2h0m0 .5h0m0 .5h0m0 .5h0m0 .5h0m0 1.5h0m0 .5h0m0 1h0m0 .5h0m.5-20h0m0 2.5h0m0 3h0m0 5.5h0m0 4h0m0 1h0m0 1h0m0 .5h0m0 .5h0m0 .5h0m0 .5h0m.5-20.5h0m0 1h0m0 1.5h0m0 2.5h0m0 1h0m0 2.5h0m0 4.5h0m0 3.5h0m0 1h0m0 1h0m0 1h0m.5-32.5h0m0 7h0m0 11h0m0 1.5h0m0 2h0m0 2.5h0m0 2.5h0m0 .5h0m0 1h0m0 1h0m0 1.5h0m0 .5h0m0 1.5h0m0 1.5h0m0 .5h0m0 .5h0m.5-9h0m0 2.5h0m0 1.5h0m0 .5h0m0 4h0m0 .5h0m0 1.5h0m.5-21.5h0m0 .5h0m0 2h0m0 1h0m0 4h0m0 2h0m0 1h0m0 .5h0m0 1.5h0m0 1h0m0 1h0m0 .5h0m0 1h0m0 3.5h0m0 1h0m.5-29h0m0 6h0m0 3.5h0m0 1h0m0 3h0m0 3h0m0 1.5h0m0 .5h0m0 .5h0m0 3h0m0 1h0m0 .5h0m0 .5h0m.5-27h0m0 9.5h0m0 1h0m0 2h0m0 2h0m0 .5h0m0 3h0m0 .5h0m0 .5h0m0 2h0m0 1.5h0m0 .5h0m0 .5h0m0 .5h0m0 .5h0m0 .5h0m0 .5h0m0 .5h0m0 .5h0m0 .5h0m0 .5h0m.5-28.5h0m0 2.5h0m0 6.5h0m0 .5h0m0 3h0m0 1h0m0 1h0m0 1h0m0 .5h0m0 1h0m0 .5h0m0 .5h0m0 1h0m0 .5h0m0 .5h0m0 .5h0m0 .5h0m0 .5h0m0 .5h0m0 .5h0m0 .5h0m0 .5h0m0 .5h0m0 1h0m0 .5h0m0 .5h0m0 .5h0m0 .5h0m0 .5h0m0 .5h0m.5-28h0m0 4.5h0m0 2h0m0 .5h0m0 5h0m0 1h0m0 1h0m0 1h0m0 2.5h0m0 .5h0m0 .5h0m0 1h0m0 .5h0m0 .5h0m0 1h0m0 1h0m0 1.5h0m0 .5h0m0 .5h0m0 .5h0m0 1h0m0 .5h0m0 1h0m.5-21.5h0m0 .5h0m0 6.5h0m0 .5h0m0 1.5h0m0 .5h0m0 2h0m0 1h0m0 .5h0m0 2h0m0 2h0m0 .5h0m0 .5h0m.5-18h0m0 1h0m0 5.5h0m0 3.5h0m0 1.5h0m0 1h0m0 4h0m0 .5h0m0 6h0m.5-37h0m0 29.5h0m0 1h0m0 1.5h0m0 1.5h0m0 1.5h0m0 1.5h0m0 1h0m.5-17h0m0 12h0m0 1.5h0m0 2h0m.5-14.5h0m0 3.5h0m.5-12.5h0m0 4.5h0m0 2.5h0m0 3h0m0 1.5h0m0 1h0m0 .5h0m0 .5h0m0 3.5h0m0 .5h0m0 .5h0m0 .5h0m0 .5h0m0 .5h0m0 .5h0m.5-28.5h0m0 1h0m0 2h0m0 2h0m0 1h0m0 2h0m0 3h0m0 2.5h0m0 .5h0m0 .5h0m0 1.5h0m0 .5h0m0 .5h0m0 .5h0m0 .5h0m0 1h0m0 1.5h0m0 .5h0m0 .5h0m0 .5h0m0 .5h0m0 .5h0m0 .5h0m0 .5h0m0 .5h0m0 .5h0m0 .5h0m0 .5h0m0 .5h0m0 .5h0m0 .5h0m0 .5h0m0 .5h0m.5-29h0m0 7.5h0m0 3h0m0 1.5h0m0 1h0m0 1.5h0m0 2.5h0m0 1h0m0 1.5h0m0 1h0m0 .5h0m0 .5h0m0 .5h0m0 1.5h0m0 2.5h0m0 1h0m0 .5h0m0 1h0m.5-9.5h0m0 3h0m0 5h0m0 .5h0m.5-24.5h0m0 15.5h0m0 2.5h0m0 .5h0m0 5.5h0m0 1.5h0m.5-32h0m0 13h0m0 14h0m0 3.5h0m0 .5h0m.5-10h0m0 2h0m0 4h0m0 2.5h0m0 1h0m0 .5h0m0 1h0m0 .5h0m.5-24.5h0m0 4h0m0 .5h0m0 6.5h0m0 2.5h0m0 1h0m0 2h0m0 1h0m0 .5h0m0 1.5h0m0 .5h0m0 1.5h0m0 .5h0m0 .5h0m.5-23h0m0 10h0m0 5.5h0m0 3.5h0m0 2h0m.5-21.5h0m0 5h0m0 12.5h0m0 8.5h0m0 1h0m0 1.5h0m0 1.5h0m.5-19h0m0 2.5h0m0 6.5h0m0 1h0m0 1h0m0 1h0m0 .5h0m0 5.5h0m0 .5h0m.5-26h0m0 7.5h0m0 5.5h0m0 .5h0m0 1h0m0 2h0m0 1h0m0 2h0m0 .5h0m0 .5h0m.5-33h0m0 12.5h0m0 10h0m0 1h0m0 2.5h0m0 4.5h0m0 1h0m.5-17.5h0m0 4.5h0m0 5.5h0m0 4h0m0 1.5h0m19.5-33h0m0 2.5h0m0 14.5h0m0 1.5h0m0 2.5h0m0 3.5h0m0 .5h0m0 1.5h0m0 .5h0m0 .5h0m0 .5h0m0 .5h0m0 1h0m.5-29.5h0m0 1h0m0 5.5h0m0 2.5h0m0 1.5h0m0 10h0m0 1.5h0m0 .5h0m0 1h0m0 1h0m0 1h0m0 2.5h0m0 .5h0m0 1h0m0 1h0m.5-15.5h0m0 3.5h0m0 .5h0m0 .5h0m0 2h0m0 1h0m0 .5h0m0 2h0m0 .5h0m0 1h0m0 .5h0m0 .5h0m0 .5h0m0 1.5h0m0 .5h0m.5-27h0m0 .5h0m0 2h0m0 2h0m0 2h0m0 1.5h0m0 3.5h0m0 1.5h0m0 1h0m0 4.5h0m0 .5h0m0 1.5h0m0 1.5h0m0 1.5h0m0 .5h0m0 .5h0m0 .5h0m.5-20h0m0 1.5h0m0 4.5h0m0 .5h0m0 2h0m0 1.5h0m0 4.5h0m0 .5h0m0 1.5h0m0 1h0m0 2.5h0m0 1h0m.5-9.5h0m.5-4.5h0m0 10h0m0 1h0m0 1.5h0m0 1.5h0m.5-7h0m0 3h0m0 2h0m0 .5h0m0 .5h0m0 1h0m0 .5h0m.5-17h0m0 5h0m0 .5h0m0 4h0m0 3.5h0m0 .5h0m0 1.5h0m0 1h0m.5 .5h0m.5-1.5h0m.5-11.5h0m0 1.5h0m0 3h0m0 4h0m0 2h0m0 1h0m0 .5h0m.5-15.5h0m0 8.5h0m0 .5h0m0 2.5h0m0 2h0m0 1h0m0 .5h0m0 .5h0m0 .5h0m0 2h0m0 .5h0m0 1h0m0 .5h0m.5-21h0m0 3.5h0m0 1h0m0 2h0m0 3h0m0 3.5h0m0 1.5h0m0 1h0m0 .5h0m0 .5h0m0 .5h0m0 .5h0m0 1.5h0m0 1h0m0 .5h0m.5-18.5h0m0 6.5h0m0 1h0m0 2.5h0m0 5h0m0 1h0m0 .5h0m0 .5h0m0 1.5h0m0 .5h0m0 1h0m.5-34h0m0 9h0m0 4h0m0 1.5h0m0 1.5h0m0 1h0m0 .5h0m0 1.5h0m0 1h0m0 .5h0m0 1h0m0 1h0m0 3h0m0 .5h0m0 2h0m0 1.5h0m0 2h0m0 .5h0m0 .5h0m0 .5h0m0 .5h0m0 .5h0m0 .5h0m.5-20.5h0m0 2.5h0m0 1h0m0 8h0m0 3h0m0 .5h0m0 1h0m0 3h0m0 .5h0m0 .5h0m0 2.5h0m.5-14.5h0m0 1h0m0 11h0m0 4.5h0m.5-27h0m0 2.5h0m0 14h0m0 5h0m0 .5h0m0 1.5h0m0 2h0m0 2.5h0m0 .5h0m0 1.5h0m.5-27.5h0m0 11.5h0m0 3.5h0m0 .5h0m0 3h0m0 .5h0m0 4.5h0m0 3h0m0 .5h0m0 1h0m.5-15h0m0 14h0m0 3h0m.5-2.5h0m.5-23.5h0m0 2.5h0m0 8.5h0m0 2.5h0m0 2h0m0 2.5h0m0 3.5h0m.5-34h0m0 2h0m0 18h0m0 4.5h0m0 .5h0m0 2h0m0 1.5h0m0 2.5h0m0 .5h0m0 1.5h0m0 .5h0m.5-25h0m0 4.5h0m0 1h0m0 8h0m0 4.5h0m0 7h0m0 1h0m0 1h0m0 2.5h0m0 1h0m.5-12.5h0m0 5.5h0m0 2h0m.5-28h0m0 29h0m0 4.5h0m0 2.5h0m0 .5h0m.5-15h0m0 6h0m0 3.5h0m0 2.5h0m0 3h0m.5-26.5h0m0 2h0m0 12h0m0 1h0m0 2h0m0 3.5h0m0 4h0m.5-31.5h0m0 11.5h0m0 2h0m0 11h0m0 1h0m.5-17.5h0m0 1h0m0 .5h0m0 .5h0m0 1h0m0 .5h0m0 .5h0m0 .5h0m0 .5h0m0 .5h0m0 2h0m0 .5h0m0 .5h0m0 1h0m0 .5h0m0 .5h0m0 .5h0m0 1h0m0 7h0m0 .5h0m.5-37.5h0m0 10.5h0m0 2.5h0m0 2h0m0 .5h0m0 2h0m0 .5h0m0 .5h0m0 .5h0m0 1.5h0m0 1.5h0m0 .5h0m0 .5h0m0 .5h0m0 .5h0m0 1h0m0 1h0m0 .5h0m0 1.5h0m0 .5h0m0 .5h0m0 .5h0m0 .5h0m.5-25h0m0 .5h0m0 1.5h0m0 1.5h0m0 4.5h0m0 .5h0m0 1h0m0 2h0m0 1h0m0 1h0m0 1h0m0 1h0m0 .5h0m0 1h0m0 1h0m0 .5h0m0 .5h0m0 .5h0m0 .5h0m0 .5h0m0 1h0m0 .5h0m0 .5h0m0 .5h0m0 .5h0m0 .5h0m0 .5h0m0 .5h0m0 .5h0m0 1h0m0 .5h0m0 1h0m0 .5h0m0 1h0m0 .5h0m.5-23h0m0 4h0m0 2h0m0 3h0m0 .5h0m0 2h0m0 .5h0m0 2.5h0m0 .5h0m0 .5h0m0 1h0m0 .5h0m0 .5h0m0 1h0m0 1h0m0 2.5h0m0 .5h0m0 .5h0m0 .5h0m.5-16.5h0m0 1h0m0 4h0m0 2.5h0m0 .5h0m0 1.5h0m0 1.5h0m0 1h0m0 .5h0m0 .5h0m0 .5h0m0 1.5h0m0 .5h0m0 1h0m.5-25h0m0 7.5h0m0 3.5h0m0 3.5h0m0 2.5h0m0 1.5h0m0 1.5h0m0 1h0m0 1h0m0 .5h0m0 .5h0m0 .5h0m.5-28.5h0m0 9.5h0m0 5.5h0m0 1h0m0 2.5h0m0 .5h0m0 1.5h0m0 5h0m0 .5h0m0 1.5h0m.5-10.5h0m0 8h0m0 .5h0m.5-21.5h0m0 9.5h0m0 6.5h0m0 1.5h0m0 3.5h0m0 1h0m0 .5h0m0 1h0m.5-22.5h0m0 19h0m.5-26h0m0 10.5h0m0 2h0m0 7h0m0 2h0m0 5h0m0 .5h0m0 3h0m.5-12.5h0m0 1h0m0 3h0m0 3h0m0 .5h0m0 3h0m0 .5h0m0 1.5h0m.5-27.5h0m0 3.5h0m0 2h0m0 3h0m0 6h0m0 2h0m0 .5h0m0 1h0m0 .5h0m0 .5h0m25.5-10h0m0 9.5h0m0 7.5h0m.5-19.5h0m0 8.5h0m0 2.5h0m0 3.5h0m0 .5h0m0 5.5h0m.5-35.5h0m0 17h0m0 6h0m0 6.5h0m0 1.5h0m0 2h0m0 .5h0m0 2h0m0 .5h0m.5-10h0m0 3h0m.5-6.5h0m0 1.5h0m0 3h0m0 5h0m0 .5h0m.5-18.5h0m0 2h0m0 .5h0m0 1.5h0m0 2.5h0m0 4h0m0 5.5h0m.5-30.5h0m0 3h0m0 7.5h0m0 .5h0m0 3.5h0m0 7.5h0m0 1.5h0m0 .5h0m0 .5h0m0 1.5h0m0 2h0m0 .5h0m0 .5h0m0 .5h0m0 .5h0m0 1h0m.5-26h0m0 9.5h0m0 4h0m0 5h0m0 2.5h0m0 2h0m0 .5h0m0 .5h0m0 2h0m.5 3h0m0 3.5h0m.5-16h0m0 3.5h0m0 2h0m0 3h0m0 .5h0m0 1h0m0 .5h0m0 .5h0m0 1h0m0 .5h0m0 1.5h0m0 .5h0m0 .5h0m0 1.5h0m0 .5h0m0 .5h0m0 1h0m.5-22.5h0m0 1.5h0m0 .5h0m0 1.5h0m0 1h0m0 1.5h0m0 1.5h0m0 .5h0m0 1h0m0 2.5h0m0 2h0m0 3h0m0 1h0m0 1h0m0 .5h0m0 .5h0m0 1h0m0 .5h0m0 .5h0m0 .5h0m.5-17.5h0m0 6h0m0 .5h0m0 1.5h0m0 1.5h0m0 2h0m0 .5h0m0 .5h0m0 2.5h0m0 2h0m.5-17.5h0m0 1h0m0 1.5h0m0 3.5h0m0 4.5h0m0 .5h0m0 .5h0m0 1h0m0 .5h0m.5-19.5h0m0 13.5h0m0 5h0m0 .5h0m0 3h0m0 .5h0m0 2.5h0m0 5h0m0 .5h0m0 1.5h0m.5-23h0m0 1.5h0m0 8h0m0 7h0m0 1.5h0m0 1.5h0m0 1h0m0 1h0m0 1h0m.5-27h0m0 8h0m0 3h0m0 7.5h0m0 1h0m0 .5h0m0 2h0m0 1h0m0 4h0m0 .5h0m0 .5h0m.5-10h0m0 5h0m.5-33h0m0 5h0m0 17h0m0 3.5h0m0 8h0m.5-12h0m0 .5h0m0 2.5h0m0 2.5h0m0 .5h0m0 1h0m0 .5h0m0 1h0m.5-14h0m0 1.5h0m0 10.5h0m0 5.5h0m.5-9h0m0 9h0m0 1.5h0m0 .5h0m.5-17.5h0m0 1h0m0 1h0m0 6.5h0m0 .5h0m0 1h0m0 .5h0m0 5.5h0m.5-29h0m0 14h0m0 6h0m0 7h0m0 1.5h0m0 .5h0m0 3h0m0 .5h0m.5-22h0m0 3.5h0m0 1.5h0m0 1h0m0 1h0m0 4h0m0 2h0m0 .5h0m0 5h0m0 2h0m.5-25h0m0 7.5h0m0 .5h0m0 1.5h0m0 1h0m0 1.5h0m0 4h0m0 3.5h0m0 1.5h0m0 1h0m0 .5h0m0 1h0m0 1h0m0 .5h0m0 .5h0m0 .5h0m.5-36h0m0 20.5h0m0 1.5h0m0 1h0m0 .5h0m0 1h0m0 1.5h0m0 1h0m0 .5h0m0 1h0m0 1h0m0 .5h0m0 1h0m0 .5h0m0 2h0m0 .5h0m0 1h0m0 .5h0m.5-24.5h0m0 21.5h0m0 .5h0m0 2h0m.5-15h0m0 8h0m0 2h0m0 3h0m0 .5h0m0 1h0m0 4h0m0 .5h0m.5-32.5h0m0 11.5h0m0 5.5h0m0 7h0m0 .5h0m0 2h0m0 1.5h0m0 1.5h0m0 2h0m0 .5h0m0 .5h0m.5-21h0m0 5.5h0m0 4h0m0 5.5h0m0 .5h0m0 2.5h0m0 .5h0m0 1h0m.5-20.5h0m0 8.5h0m0 7.5h0m0 1h0m0 .5h0m0 1h0m0 .5h0m0 .5h0m.5-31h0m0 2.5h0m0 14.5h0m0 2h0m0 .5h0m0 6.5h0m0 1h0m0 .5h0m0 .5h0m0 .5h0m0 .5h0m0 1.5h0m0 .5h0m0 1h0m.5-19.5h0m0 6.5h0m0 .5h0m0 2.5h0m0 1.5h0m0 1h0m0 2.5h0m0 .5h0m0 2.5h0m0 1.5h0m0 .5h0m0 .5h0m.5-29.5h0m0 4.5h0m0 2h0m0 2.5h0m0 2h0m0 3h0m0 2h0m0 1.5h0m0 .5h0m0 .5h0m0 .5h0m0 .5h0m0 1h0m0 .5h0m0 .5h0m0 2h0m0 .5h0m0 .5h0m0 .5h0m0 .5h0m0 .5h0m0 .5h0m0 1h0m.5-22.5h0m0 .5h0m0 3.5h0m0 2h0m0 3.5h0m0 .5h0m0 1h0m0 .5h0m0 1h0m0 .5h0m0 1.5h0m0 1h0m0 .5h0m0 1h0m0 .5h0m0 .5h0m0 .5h0m0 .5h0m0 .5h0m0 .5h0m0 .5h0m0 .5h0m0 .5h0m.5-42h0m0 26.5h0m0 1h0m0 1h0m0 1h0m0 1.5h0m0 2.5h0m0 1h0m0 .5h0m0 2h0m0 .5h0m0 1.5h0m0 .5h0m0 .5h0m0 1h0m0 .5h0m0 .5h0m.5-12h0m0 2.5h0m0 1.5h0m0 1h0m0 2h0m0 1.5h0m0 2.5h0m0 1h0m.5-10h0m0 5.5h0m0 2h0m0 1.5h0m.5-18.5h0m0 8.5h0m0 1h0m0 2.5h0m0 1.5h0m0 .5h0m0 .5h0m0 1h0m0 1.5h0m0 3h0m0 1h0m0 .5h0m0 .5h0m.5-5.5h0m0 2h0m0 1h0m0 1.5h0m0 .5h0m.5-11.5h0m.5-14h0m0 10.5h0m0 7.5h0m0 .5h0m0 .5h0m0 1.5h0m.5-28h0m0 13h0m0 4.5h0m0 5.5h0m.5-19.5h0m0 2.5h0m0 12h0m0 1.5h0m0 4.5h0m0 1.5h0m0 2.5h0m.5-17h0m0 .5h0m0 1.5h0m0 2h0m0 1h0m0 .5h0m0 .5h0m0 .5h0m0 2h0m0 .5h0m0 .5h0m0 .5h0m.5-13.5h0m0 2h0m0 1h0m0 3h0m0 .5h0m0 2h0m0 1h0m0 1h0m0 1.5h0m0 .5h0m0 .5h0m0 .5h0m.5-31.5h0m0 15.5h0m0 7.5h0m0 1.5h0m0 3h0m0 1h0m0 .5h0m0 .5h0m0 .5h0m.5-15h0m0 3.5h0m0 2h0m0 4.5h0m0 1h0m0 .5h0m0 1h0m0 1.5h0m0 2.5h0m.5-23.5h0m0 1h0m0 10.5h0m0 4.5h0m0 1.5h0m0 3.5h0m0 .5h0m0 1h0m0 .5h0m.5-11.5h0m0 3h0m0 1h0m0 .5h0m0 .5h0m0 1h0m0 4h0m0 1.5h0m.5-38.5h0m0 21.5h0m0 3.5h0m0 1h0m0 2h0m0 2.5h0m0 1h0m0 1h0m0 .5h0m0 .5h0m0 1h0m.5-22h0m0 1.5h0m0 3h0m0 8h0m0 1h0m0 2.5h0m0 1.5h0m0 .5h0m0 1.5h0m0 2.5h0m.5-17.5h0m0 3h0m0 7.5h0m0 3.5h0m0 .5h0m0 1.5h0m0 1.5h0m.5-34.5h0m0 7h0m0 3.5h0m0 3h0m0 2h0m0 4h0m0 2.5h0m0 1.5h0m0 1h0m0 1.5h0m0 .5h0m0 1h0m0 .5h0m0 1h0m0 1.5h0m0 .5h0m0 1.5h0m0 .5h0m0 .5h0m0 1h0m.5-14.5h0m0 11h0m0 2h0m28-16h0m0 5.5h0m0 5h0m0 3.5h0m0 2.5h0m.5-15.5h0m0 1h0m0 4.5h0m0 5.5h0m0 2.5h0m0 1h0m0 .5h0m0 1h0m.5-7h0m0 .5h0m0 2.5h0m0 7.5h0m0 .5h0m.5-34h0m0 4h0m0 8h0m0 3.5h0m0 .5h0m0 1h0m0 2.5h0m0 .5h0m0 1h0m0 .5h0m0 .5h0m0 .5h0m0 2h0m0 1h0m0 .5h0m0 .5h0m0 .5h0m0 .5h0m0 .5h0m0 .5h0m0 1h0m0 .5h0m0 .5h0m0 .5h0m0 2h0m.5-38h0m0 3.5h0m0 3.5h0m0 9h0m0 3h0m0 3.5h0m0 3h0m0 1h0m0 .5h0m0 .5h0m0 .5h0m0 .5h0m0 .5h0m0 .5h0m0 .5h0m0 1h0m0 .5h0m0 .5h0m0 .5h0m0 .5h0m0 .5h0m0 .5h0m0 .5h0m0 .5h0m0 .5h0m0 .5h0m0 .5h0m.5-33h0m0 13h0m0 3h0m0 1.5h0m0 1h0m0 4.5h0m0 2h0m0 1.5h0m0 1.5h0m0 .5h0m0 .5h0m0 .5h0m0 .5h0m0 .5h0m0 .5h0m0 1h0m0 .5h0m.5-17h0m0 4h0m0 3.5h0m0 7h0m0 1h0m.5-11h0m0 8h0m0 3h0m0 1h0m.5-11.5h0m0 5h0m0 2h0m0 3h0m0 4h0m.5-11.5h0m0 1h0m0 5.5h0m0 1h0m0 .5h0m0 1.5h0m.5-26.5h0m0 8h0m0 10h0m0 2.5h0m0 1h0m0 2h0m0 1.5h0m.5-13h0m0 .5h0m0 4.5h0m0 2h0m0 3h0m.5-20.5h0m0 8h0m0 3.5h0m0 4.5h0m0 .5h0m0 1h0m0 .5h0m.5-25.5h0m0 14h0m0 4h0m0 2.5h0m0 4h0m0 1.5h0m0 12h0m0 1.5h0m.5-27.5h0m0 12h0m0 1h0m0 11h0m0 2h0m0 1.5h0m0 1h0m.5-39.5h0m0 13h0m0 15.5h0m0 9h0m0 .5h0m0 1.5h0m0 .5h0m0 3h0m0 .5h0m0 2.5h0m0 2h0m0 .5h0m0 1h0m.5-36h0m0 19.5h0m0 7.5h0m0 1.5h0m0 1h0m0 .5h0m0 .5h0m0 2h0m0 1h0m0 1h0m0 .5h0m0 1.5h0m0 1h0m0 .5h0m.5-21.5h0m0 6.5h0m0 6.5h0m0 .5h0m0 .5h0m0 1.5h0m0 3h0m0 2h0m.5-22.5h0m0 .5h0m0 10h0m0 1h0m0 2.5h0m0 .5h0m0 2h0m0 .5h0m0 .5h0m.5-8h0m0 .5h0m0 4h0m0 1h0m.5-2.5h0m.5-13.5h0m0 4.5h0m0 5h0m0 .5h0m0 1.5h0m0 .5h0m0 1h0m0 .5h0m0 3.5h0m0 2.5h0m0 1.5h0m.5-17h0m0 1.5h0m0 1h0m0 1.5h0m0 2.5h0m0 .5h0m0 8.5h0m0 .5h0m0 .5h0m0 .5h0m.5-13.5h0m0 1.5h0m0 2h0m0 .5h0m0 .5h0m0 .5h0m0 .5h0m0 1h0m0 1h0m0 3h0m0 1h0m0 .5h0m.5-34.5h0m0 16.5h0m0 7.5h0m0 2.5h0m0 1.5h0m.5-26.5h0m0 3.5h0m0 8h0m0 1h0m0 .5h0m0 1h0m0 3h0m0 1h0m0 2h0m0 8h0m.5-42h0m0 2.5h0m0 3.5h0m0 9.5h0m0 2h0m0 1.5h0m0 .5h0m0 2h0m0 1h0m0 2.5h0m0 1h0m0 .5h0m0 1h0m0 .5h0m0 .5h0m0 .5h0m0 .5h0m0 .5h0m0 1h0m0 .5h0m0 .5h0m0 .5h0m0 .5h0m.5-18.5h0m0 4.5h0m0 1.5h0m0 .5h0m0 .5h0m0 2h0m0 1h0m0 3.5h0m0 1h0m0 2.5h0m0 .5h0m.5-21.5h0m0 5.5h0m0 4h0m0 3h0m0 1h0m0 3.5h0m.5-19h0m0 6h0m0 .5h0m0 6h0m0 1.5h0m0 3h0m0 .5h0m0 1h0m0 1.5h0m0 .5h0m0 1h0m.5-16h0m0 1h0m0 3h0m0 3.5h0m0 2h0m0 1h0m0 .5h0m0 4h0m0 .5h0m0 .5h0m.5-17h0m0 .5h0m0 2.5h0m0 1.5h0m0 .5h0m0 2h0m0 1h0m0 2h0m0 1h0m0 2h0m0 .5h0m0 .5h0m0 .5h0m0 1.5h0m0 .5h0m.5-30.5h0m0 8.5h0m0 4.5h0m0 6.5h0m0 1h0m0 1.5h0m0 2h0m0 2.5h0m0 1.5h0m0 1.5h0m.5-19h0m0 12.5h0m0 .5h0m0 .5h0m0 3h0m0 .5h0m0 .5h0m0 .5h0m0 2h0m.5-35.5h0m0 22h0m0 1h0m0 2h0m0 2.5h0m0 .5h0m0 1.5h0m0 3h0m.5-22h0m0 10.5h0m0 2h0m0 8h0m0 6h0m0 1.5h0m0 1h0m1-40.5h0m0 17h0m0 6h0m0 3h0m0 .5h0m0 2h0m0 3.5h0m0 .5h0m0 .5h0m0 1h0m0 1h0m0 .5h0m0 6h0m.5-24.5h0m0 5.5h0m0 .5h0m0 3h0m0 2.5h0m0 .5h0m0 1h0m0 2h0m0 .5h0m0 1.5h0m0 .5h0m0 .5h0m.5-4.5h0m0 1h0m0 1h0m0 .5h0m0 .5h0m0 1h0m0 .5h0m0 1h0m.5-7h0m0 5h0m0 1h0m0 .5h0m0 2.5h0m0 1h0m0 .5h0m.5-11.5h0m0 6h0m0 4h0m0 1.5h0m32-23.5h0m.5-9h0m0 17.5h0m0 9.5h0m0 .5h0m.5-25.5h0m0 24h0m0 8h0m.5-18.5h0m0 1.5h0m0 9.5h0m0 4h0m0 1.5h0m0 .5h0m0 1.5h0m.5-15h0m0 5.5h0m0 4h0m0 2.5h0m0 .5h0m0 1h0m0 1.5h0m.5-37.5h0m0 7h0m0 1h0m0 25.5h0m0 3h0m.5-56.5h0m0 3h0m0 2h0m0 1.5h0m0 3.5h0m0 .5h0m0 7.5h0m0 5h0m0 .5h0m0 1h0m0 3.5h0m0 1h0m0 1.5h0m0 2h0m0 1h0m0 .5h0m0 1h0m0 .5h0m0 1h0m0 1h0m0 .5h0m0 1h0m0 1h0m0 2h0m0 .5h0m0 .5h0m0 2.5h0m0 2h0m0 2h0m0 .5h0m0 2h0m0 3.5h0m0 .5h0m0 2h0m.5-56.5h0m0 4h0m0 1h0m0 1h0m0 .5h0m0 1h0m0 2h0m0 4.5h0m0 1.5h0m0 4h0m0 .5h0m0 .5h0m0 .5h0m0 1.5h0m0 1.5h0m0 2h0m0 1.5h0m0 .5h0m0 4h0m0 .5h0m0 1h0m0 1h0m0 .5h0m0 .5h0m0 .5h0m0 2h0m0 .5h0m0 .5h0m0 .5h0m0 4h0m0 .5h0m0 .5h0m0 .5h0m0 3h0m0 1h0m0 .5h0m0 .5h0m0 .5h0m0 1h0m0 .5h0m0 .5h0m0 2h0m.5-55h0m0 4h0m0 2h0m0 .5h0m0 6h0m0 3h0m0 1.5h0m0 4h0m0 6h0m0 4h0m0 1.5h0m0 2h0m0 2h0m0 1h0m0 1h0m0 .5h0m0 2.5h0m0 .5h0m0 .5h0m0 1h0m0 .5h0m0 2h0m0 .5h0m0 .5h0m0 .5h0m0 .5h0m0 .5h0m0 1.5h0m0 1h0m0 2h0m0 .5h0m0 .5h0m0 .5h0m0 .5h0m0 .5h0m0 .5h0m0 .5h0m0 .5h0m0 1h0m0 1.5h0m0 1h0m0 .5h0m0 .5h0m.5-26h0m0 2h0m0 2h0m0 1h0m0 1h0m0 1.5h0m0 4h0m0 1.5h0m0 .5h0m0 .5h0m0 .5h0m0 .5h0m0 .5h0m0 .5h0m0 .5h0m0 .5h0m0 1h0m0 .5h0m0 .5h0m0 .5h0m0 .5h0m0 .5h0m0 .5h0m0 .5h0m0 .5h0m0 .5h0m0 .5h0m0 .5h0m0 .5h0m0 .5h0m0 .5h0m0 .5h0m0 .5h0m.5-39.5h0m0 3h0m0 1.5h0m0 1.5h0m0 .5h0m0 13h0m0 .5h0m0 1h0m0 2h0m0 2.5h0m0 2h0m0 .5h0m0 2h0m0 1h0m0 .5h0m0 .5h0m0 .5h0m0 .5h0m0 .5h0m0 1h0m0 1.5h0m0 .5h0m0 2h0m0 .5h0m0 .5h0m.5-18h0m0 1h0m0 1h0m0 2h0m0 1h0m0 1h0m0 3h0m0 .5h0m0 .5h0m0 1h0m0 .5h0m0 2h0m0 1h0m.5-34.5h0m0 14.5h0m0 13.5h0m0 .5h0m0 .5h0m0 1h0m0 1h0m0 2h0m0 1h0m0 2h0m0 .5h0m0 .5h0m0 1h0m0 1h0m.5-23h0m0 11.5h0m0 2h0m0 .5h0m0 2h0m0 .5h0m0 1h0m0 1.5h0m0 1h0m0 .5h0m0 2.5h0m0 .5h0m0 .5h0m.5-19.5h0m0 8h0m0 8h0m0 .5h0m0 .5h0m0 .5h0m0 1.5h0m.5-12h0m0 2.5h0m0 1h0m0 10.5h0m.5-30h0m0 11.5h0m0 6.5h0m0 10h0m0 1h0m0 3h0m.5-23h0m0 6.5h0m0 8.5h0m0 1h0m0 1h0m0 .5h0m0 1h0m0 3h0m0 1h0m0 2h0m.5-21h0m0 .5h0m0 2.5h0m0 1.5h0m0 2.5h0m0 8h0m0 1.5h0m0 .5h0m0 1h0m0 2.5h0m.5-32.5h0m0 3h0m0 3h0m0 4.5h0m0 3h0m0 1.5h0m0 1.5h0m0 3h0m0 .5h0m0 1.5h0m0 1h0m.5-22.5h0m0 16.5h0m0 1h0m0 1h0m0 1.5h0m0 1h0m0 .5h0m.5-29.5h0m.5 33h0m0 1.5h0m0 .5h0m.5-16.5h0m0 14h0m0 1.5h0m0 2.5h0m.5-9h0m0 3.5h0m0 3h0m.5-2h0m0 8h0m.5-18.5h0m0 6h0m0 7h0m0 5h0m.5-13.5h0m0 5h0m0 4.5h0m0 3h0m0 1.5h0m.5-8.5h0m0 2.5h0m0 5h0m.5-20h0m0 10h0m0 11h0m0 2h0m.5-22h0m0 1h0m0 3.5h0m.5-25h0m0 1h0m0 11.5h0m0 7h0m0 .5h0m0 5h0m.5-9h0m0 1.5h0m0 3.5h0m.5-1.5h0m0 4h0m.5-47.5h0m0 15.5h0m0 3h0m0 .5h0m0 .5h0m0 3h0m0 1.5h0m0 .5h0m0 1h0m0 2h0m0 2h0m0 .5h0m0 .5h0m0 2h0m0 1h0m0 2h0m0 4.5h0m0 6h0m0 2.5h0m.5-43.5h0m0 .5h0m0 1.5h0m0 2h0m0 1.5h0m0 2.5h0m0 2h0m0 3.5h0m0 .5h0m0 4h0m0 1.5h0m0 2h0m0 .5h0m0 .5h0m0 .5h0m0 .5h0m0 .5h0m0 .5h0m0 1h0m0 1h0m0 .5h0m0 1h0m0 10h0m0 1h0m0 3h0m0 1.5h0m0 .5h0m0 .5h0m.5-49.5h0m0 1h0m0 .5h0m0 2.5h0m0 .5h0m0 3h0m0 1h0m0 .5h0m0 1.5h0m0 2h0m0 .5h0m0 .5h0m0 1h0m0 1.5h0m0 2h0m0 1.5h0m0 1.5h0m0 .5h0m0 2h0m0 .5h0m0 1.5h0m0 .5h0m0 .5h0m0 .5h0m0 3h0m0 .5h0m0 .5h0m0 1h0m0 .5h0m0 5h0m0 .5h0m0 2.5h0m0 6.5h0m0 2.5h0m0 2h0m0 2h0m.5-42.5h0m0 21.5h0m0 8h0m0 6.5h0m0 5h0m0 .5h0m0 2.5h0m.5-14h0m0 7.5h0m0 .5h0m0 .5h0m0 .5h0m0 1h0m.5-28.5h0m0 22.5h0m0 3h0m.5-25.5h0m0 8h0m0 6.5h0m0 2h0m0 3.5h0m0 1.5h0m0 1h0m0 .5h0m0 .5h0m0 .5h0m0 .5h0m0 2h0m0 .5h0m.5-25.5h0m0 8.5h0m0 1.5h0m0 1h0m0 1.5h0m0 1.5h0m0 1h0m0 .5h0m0 1.5h0m0 2h0m0 .5h0m0 1.5h0m0 1h0m0 1h0m0 .5h0m0 .5h0m0 .5h0m0 .5h0m0 .5h0m0 .5h0m.5-27h0m0 3h0m0 9h0m0 2.5h0m0 2.5h0m0 .5h0m0 .5h0m0 .5h0m0 3h0m0 1h0m0 .5h0m0 .5h0m0 1h0m0 1.5h0m.5-11.5h0m0 7h0m0 3.5h0m0 .5h0m.5-5h0m0 2.5h0m0 1.5h0m0 .5h0m0 1h0m0 2.5h0m0 1h0m.5-5.5h0m0 1h0m.5-2.5h0m0 1h0m0 1.5h0m0 9h0m.5-17h0m0 9.5h0m0 1.5h0m0 2.5h0m0 .5h0m0 .5h0m0 .5h0m.5-19h0m0 16.5h0m0 .5h0m.5-32.5h0m0 23.5h0m0 3.5h0m.5-18h0m0 12.5h0m0 2.5h0m0 1h0m0 5h0m0 1h0m0 1.5h0m.5-12h0m0 4.5h0m0 1.5h0m0 3h0m0 4h0m0 1h0m0 .5h0m.5-29h0m0 3.5h0m0 4.5h0m0 4h0m0 1h0m0 2h0m0 1.5h0m0 2h0m0 1.5h0m0 .5h0m0 2.5h0m0 .5h0m0 1h0m.5-17h0m0 2h0m0 2h0m0 2.5h0m0 2h0m0 3.5h0m0 .5h0m0 1h0m0 1h0m0 .5h0m0 .5h0m0 1h0m.5-17.5h0m0 4h0m0 2h0m0 2.5h0m0 .5h0m0 1.5h0m0 .5h0m0 1h0m0 .5h0m0 2h0m0 .5h0m0 1h0m0 .5h0m0 .5h0m0 .5h0m0 2h0m.5-22.5h0m0 5h0m0 8h0m0 1h0m0 3.5h0m0 1.5h0m0 .5h0m0 1h0m0 1h0m0 .5h0m0 1h0m.5-24.5h0m0 9h0m0 10h0m0 3h0m0 2h0"/>
<path fill="#00008B" d="M51 303.2L51 258.5L51.5 258.3L52 257L52.5 257L53 258.7L53.5 258.5L54 261L54.5 260.8L55 258L55.5 259.1L56 263.1L56.5 264.2L57 267.9L57.5 269.1L58 264.3L58.5 264.8L59 269L59.5 269.5L60 272.7L60.5 273.2L61 268.2L61.5 268.7L62 270.3L62.5 270.8L63 270.8L63.5 271.3L64 270.2L64.5 270.7L65 274.4L65.5 274.9L66 273.8L66.5 273.8L67 273.2L67.5 273.2L68 272.3L68.5 272.3L69 275.3L69.5 275.3L70 276.3L70.5 275.8L71 270.7L71.5 270.1L72 267.3L72.5 266.8L73 270.5L73.5 269.9L74 269.5L74.5 269.1L75 273.8L75.5 273.3L76 265L76.5 264.5L77 266.6L77.5 266.2L78 268.3L78.5 268.2L79 264.7L79.5 264.6L80 267.3L80.5 267.2L81 266.4L81.4 266.4L81.4 303.2ZM107.7 303.2L107.7 258.8L108.2 258.8L108.7 258.9L109.2 258.7L109.7 256.2L110.2 256L110.7 255.4L111.2 255.3L111.7 255.3L112.2 255.3L112.7 263.2L113.2 263.7L113.7 261.1L114.2 261.6L114.7 260.5L115.2 261.6L115.7 262.1L116.2 264.3L116.7 264.3L117.2 266L117.7 275L118.2 275.9L118.7 271.3L119.2 272.3L119.7 279L120.2 279.6L120.7 264.2L121.2 264.2L121.7 273.7L122.2 273.7L122.7 275.4L123.2 274.8L123.7 274.6L124.2 273.1L124.7 270.9L125.2 269.4L125.7 258L126.2 257L126.7 265.2L127.2 264.8L127.7 266.7L128.2 266.4L128.7 266L129.2 264.2L129.7 263.9L130.2 259.7L130.7 260.2L131.2 261L131.7 261.5L132.2 260.3L132.7 260.8L132.8 268.2L132.8 303.2ZM161.4 303.2L161.4 267.5L161.9 267.7L162.4 271.6L162.9 271.9L163.4 266L163.9 266.3L164.4 269.9L164.9 271.1L165.4 267.7L165.9 268.9L166.4 276.6L166.9 277.8L167.4 275L167.9 275.9L168.4 281.1L168.9 282L169.4 281.8L169.9 282.8L170.4 285.7L170.9 286L171.4 272.4L171.9 272.6L172.4 285.7L172.9 285.9L173.4 281L173.9 279.9L174.4 283.2L174.9 282L175.4 274.2L175.9 273L176.4 274.5L176.9 273L177.4 273.3L177.9 271.9L178.4 272.9L178.9 272.4L179.4 270.1L179.9 269.6L180.4 264.2L180.9 264.2L181.4 264.2L181.9 264.2L182.4 265.6L182.9 265.9L183.4 264.2L183.9 264.2L184.4 269.7L184.5 269.7L184.5 303.2ZM212.4 303.2L212.4 259.6L212.9 259.7L213.4 258.8L213.9 258.8L214.4 263.9L214.9 264.1L215.4 265.7L215.9 265.9L216.4 268.9L216.9 269.1L217.4 260.9L217.9 261.8L218.4 270.2L218.9 271.2L219.4 267L219.9 268L220.4 272.9L220.9 273.2L221.4 269.1L221.9 269.4L222.4 274.5L222.9 274.7L223.4 268.1L223.9 268.4L224.4 274.4L224.9 274.6L225.4 270.5L225.9 270.3L226.4 274.1L226.9 273.9L227.4 272.8L227.9 272.6L228.4 270.9L228.9 270.8L229.4 266.2L229.9 265.2L230.4 262.6L230.9 261.7L231.4 263.3L231.9 262.3L232.4 262.9L232.9 261.5L233.4 258.8L233.9 258.8L234.4 262.2L234.9 264.1L235.4 269.4L235.9 270L236.4 266L236.5 266L236.5 303.2ZM262.5 303.2L262.5 265.5L263 265.6L263.5 267.6L264 267.7L264.5 269.4L265 269.6L265.5 270.4L266 270.5L266.5 264.3L267 264.5L267.5 266.9L268 267L268.5 266.8L269 267.1L269.5 266L270 266.4L270.5 268.8L271 269.1L271.5 279.3L272 279.7L272.5 268.5L273 268.5L273.5 269.4L274 269.4L274.5 255.7L275 255.7L275.5 270.3L276 270.3L276.5 263.5L277 263.5L277.5 268.3L278 268.3L278.5 271.4L279 270.7L279.5 270.4L280 269.7L280.5 269L281 268.3L281.5 261.7L282 260.9L282.5 261.4L283 260.5L283.5 261.9L284 261L284.5 257.2L285 256.3L285.5 255.5L286 255.3L286.5 258.3L287 258.9L287.5 259.8L288 260.4L288.5 264.3L289 264.9L289.5 261.9L289.7 262L289.7 303.2ZM317.7 303.2L317.7 263.2L318.2 263.1L318.7 260.6L319.2 260.6L319.7 264.8L320.2 264.7L320.7 267.5L321.2 267.3L321.7 267.5L322.2 267.5L322.7 260.6L323.2 260.8L323.7 264.7L324.2 265L324.7 263.4L325.2 263.8L325.7 266.2L326.2 266.9L326.7 267L327.2 268.2L327.7 267L328.2 268.2L328.7 264.5L329.2 265.3L329.7 273.4L330.2 273.7L330.7 260.6L331.2 260.6L331.7 270.3L332.2 269.8L332.7 265.2L333.2 263.4L333.7 270.2L334.2 268.9L334.7 266.7L335.2 266.2L335.7 266.9L336.2 266.4L336.7 264.5L336.8 264.5L336.8 303.2ZM358.6 303.2L358.6 263L359.1 263.1L359.6 268.4L360.1 268.6L360.6 261.3L361.1 261.5L361.6 263.4L362.1 263.5L362.6 266.4L363.1 266.5L363.6 262.5L364.1 262.6L364.6 261.1L365.1 260.9L365.6 265.8L366.1 265.6L366.6 269L367.1 268.8L367.6 263L368.1 262.7L368.6 263.1L369.1 262.4L369.6 258.2L370.1 257.5L370.6 260L371.1 259.3L371.6 256.7L372.1 256L372.6 258.2L373.1 257.5L373.6 251.9L374.1 251L374.6 255.4L375.1 253.5L375.6 248.1L376.1 248.1L376.6 252.7L377.1 253.4L377.6 252.4L378.1 254.8L378.6 257.1L379.1 259L379.6 262.3L380.1 262.5L380.6 260.9L381.1 261.1L381.6 259.4L382.1 259.6L382.6 261.1L383.1 261.3L383.6 262L383.7 262L383.7 303.2ZM410.5 303.2L410.5 258.8L411 258.8L411.5 262.2L412 262L412.5 265.4L413 265.1L413.5 258.8L414 258.8L414.5 263.8L415 264.7L415.5 264.2L416 265.2L416.5 264.6L417 265.6L417.5 266.8L418 267.7L418.5 271.8L419 272.7L419.5 265.6L420 266.5L420.5 272.9L421 273.8L421.5 274.2L422 274.3L422.5 272.1L423 272.2L423.5 269.1L424 269.2L424.5 271.9L425 272.1L425.5 271.2L426 271.4L426.5 276.4L427 275.7L427.5 270L428 269.3L428.5 275.5L429 274.8L429.5 269.4L430 268.7L430.5 273.5L431 272.8L431.5 266.5L432 265.8L432.5 271.1L433 271.1L433.5 268.4L434 268.4L434.5 269L435 269L435.5 265.3L436 265.3L436.5 269.2L437 269.5L437.5 266.5L438 266.8L438.5 266.9L438.6 266.9L438.6 303.2ZM459.2 303.2L459.2 267L459.7 267L460.2 264.6L460.7 264.6L461.2 268.7L461.7 268.7L462.2 265L462.7 265L463.2 270.8L463.7 270.8L464.2 261.8L464.7 262.4L465.2 262.4L465.7 262.9L466.2 268.9L466.7 269.5L467.2 264.8L467.7 265.3L468.2 268.1L468.7 268.1L469.2 264.1L469.7 264.1L470.2 267L470.7 267L471.2 270.7L471.7 270.7L472.2 267.9L472.7 267.9L473.2 268.9L473.7 268.5L474.2 271L474.7 270.6L475.2 269L475.7 268.6L476.2 265L476.7 264.6L477.2 260.5L477.7 259.9L478.2 263.7L478.7 263.1L479.2 268.6L479.7 268L480.2 257L480.7 257L481.2 261.1L481.7 260.9L482.2 257.8L482.7 257.6L483.2 265.4L483.7 265.2L484.2 261.6L484.7 261.4L485.2 263.7L485.7 263.5L486.2 259.8L486.7 259.5L487.2 259.1L487.7 258.8L488.2 258.2L488.7 258.8L489.2 261.1L489.7 261.8L490.2 262.6L490.4 262.7L490.4 303.2ZM518.2 303.2L518.2 272.8L518.7 273.1L519.2 267.8L519.7 268.2L520.2 269.9L520.7 270.3L521.2 271L521.7 271.4L522.2 272.9L522.7 274.1L523.2 275.4L523.7 276.6L524.2 272.8L524.7 274L525.2 271.9L525.7 272.4L526.2 281.4L526.7 282L527.2 278.6L527.7 279.2L528.2 282.6L528.7 283.2L529.2 272.8L529.7 273.3L530.2 281.4L530.7 280.7L531.2 275.6L531.7 274.9L532.2 279.8L532.7 279.1L533.2 279.1L533.7 278.3L534.2 273.5L534.7 271L535.2 268.9L535.7 266.4L536.2 266.2L536.7 266.2L537.2 269.1L537.7 269.1L538.2 268.7L538.7 268.7L539.2 266L539.7 266L540.2 266L540.7 266L541.2 267.7L541.7 267.9L542.2 268.6L542.7 268.8L543.2 266.9L543.7 267.1L544.2 267.7L544.7 267.9L545 267.9L545 303.2Z"/>
<path class="d" stroke="#00008B" d="M51 252.5h0m0 6h0m.5-12.5h0m0 .5h0m0 1h0m0 5h0m0 1h0m0 1.5h0m0 2h0m0 2h0m.5-25.5h0m0 2h0m0 2h0m0 4.5h0m0 2.5h0m0 5.5h0m0 4h0m0 1h0m0 1h0m0 1h0m0 .5h0m0 1h0m.5-22h0m0 8h0m0 2h0m0 2.5h0m0 1.5h0m0 .5h0m0 .5h0m0 1h0m0 1h0m0 1h0m0 .5h0m0 .5h0m0 .5h0m0 .5h0m0 .5h0m0 .5h0m0 1h0m.5-17.5h0m0 4h0m0 1h0m0 1.5h0m0 .5h0m0 1.5h0m0 1h0m0 .5h0m0 1h0m0 2h0m0 2h0m0 .5h0m0 .5h0m0 1h0m0 .5h0m0 1h0m.5-12.5h0m0 1.5h0m0 1h0m0 2.5h0m0 3h0m0 .5h0m0 1.5h0m0 .5h0m0 .5h0m0 .5h0m0 .5h0m0 1h0m.5-27.5h0m0 10.5h0m0 5h0m0 4h0m0 1.5h0m0 .5h0m0 2h0m0 1h0m0 .5h0m0 .5h0m0 .5h0m0 1h0m0 .5h0m0 .5h0m0 .5h0m0 1.5h0m.5-5.5h0m0 1h0m0 2h0m0 .5h0m0 .5h0m.5-16h0m0 8.5h0m0 2.5h0m0 1h0m0 .5h0m0 4h0m.5-22h0m0 12h0m0 .5h0m0 7.5h0m.5-6.5h0m0 6.5h0m0 3h0m0 2.5h0m.5-16.5h0m0 8.5h0m0 4h0m0 1.5h0m0 .5h0m0 .5h0m0 1.5h0m0 .5h0m.5-31.5h0m0 30h0m0 .5h0m0 .5h0m0 4.5h0m0 .5h0m.5-13.5h0m0 2h0m0 2h0m0 .5h0m0 .5h0m0 2h0m0 .5h0m0 2h0m0 .5h0m0 .5h0m0 .5h0m0 2h0m0 .5h0m.5-8.5h0m0 3h0m0 1.5h0m0 4h0m.5-21.5h0m0 10h0m0 3h0m0 4.5h0m.5-12.5h0m0 2h0m0 1.5h0m0 1.5h0m0 .5h0m0 1h0m0 4.5h0m0 .5h0m0 2.5h0m0 1h0m0 .5h0m0 .5h0m0 .5h0m.5-20.5h0m0 .5h0m0 1h0m0 .5h0m0 6h0m0 1.5h0m0 .5h0m0 2h0m0 1h0m0 .5h0m0 .5h0m0 1h0m0 .5h0m0 .5h0m0 .5h0m0 2h0m0 .5h0m0 1.5h0m0 .5h0m.5-22h0m0 3h0m0 1.5h0m0 1h0m0 3.5h0m0 1h0m0 1.5h0m0 .5h0m0 .5h0m0 1h0m0 1.5h0m0 2.5h0m0 2h0m0 .5h0m0 .5h0m0 .5h0m0 1h0m0 .5h0m0 .5h0m0 .5h0m0 2h0m.5-37.5h0m0 7.5h0m0 11h0m0 5.5h0m0 5.5h0m0 .5h0m0 .5h0m0 1h0m0 .5h0m0 .5h0m0 1h0m0 .5h0m0 .5h0m0 .5h0m0 1h0m0 .5h0m0 .5h0m0 .5h0m0 .5h0m.5-14.5h0m0 1.5h0m0 1h0m0 1.5h0m0 .5h0m0 1.5h0m0 3h0m0 .5h0m0 1h0m0 1.5h0m0 .5h0m0 1h0m0 .5h0m0 .5h0m.5-26h0m0 13h0m0 1h0m0 1.5h0m0 2h0m1-2h0m0 7h0m.5-13.5h0m0 11h0m.5-6h0m0 1h0m0 1.5h0m0 4h0m0 1.5h0m0 2h0m.5-9.5h0m0 .5h0m0 2.5h0m0 .5h0m0 2.5h0m0 .5h0m0 1h0m0 1.5h0m.5-15.5h0m0 4h0m0 2.5h0m0 2.5h0m0 1h0m0 1.5h0m0 .5h0m0 1h0m0 .5h0m0 .5h0m0 .5h0m.5-7h0m0 3.5h0m0 1.5h0m0 .5h0m0 1.5h0m0 .5h0m0 4.5h0m.5-24.5h0m0 1.5h0m0 16.5h0m0 2h0m0 2h0m0 1h0m0 .5h0m0 1h0m.5-21h0m0 6.5h0m0 5.5h0m0 .5h0m0 3h0m0 1h0m0 1h0m0 2h0m0 1h0m.5-2.5h0m.5-15h0m0 1.5h0m0 2h0m0 .5h0m0 .5h0m0 2.5h0m0 1.5h0m0 .5h0m0 .5h0m0 1h0m0 1.5h0m0 1h0m0 .5h0m0 2h0m0 1h0m.5-28.5h0m0 3.5h0m0 3h0m0 2h0m0 1.5h0m0 1h0m0 1.5h0m0 .5h0m0 3.5h0m0 .5h0m0 2.5h0m0 1h0m0 1h0m0 .5h0m0 .5h0m0 .5h0m0 .5h0m0 .5h0m0 1h0m0 .5h0m0 1.5h0m0 .5h0m0 .5h0m0 .5h0m.5-35h0m0 1h0m0 2h0m0 3.5h0m0 2h0m0 8.5h0m0 2.5h0m0 1h0m0 .5h0m0 1h0m0 .5h0m0 2.5h0m0 .5h0m0 .5h0m0 1h0m0 1h0m0 .5h0m0 .5h0m0 1h0m0 .5h0m0 .5h0m0 .5h0m0 .5h0m0 .5h0m0 .5h0m0 .5h0m0 .5h0m0 .5h0m0 .5h0m.5-19.5h0m0 2.5h0m0 1h0m0 .5h0m0 1h0m0 .5h0m0 1.5h0m0 .5h0m0 .5h0m0 1h0m0 .5h0m0 .5h0m0 .5h0m0 1h0m0 .5h0m0 .5h0m0 1.5h0m0 1h0m0 .5h0m0 .5h0m0 .5h0m0 1h0m0 1h0m.5-21h0m0 1h0m0 9.5h0m0 5h0m0 1h0m0 .5h0m0 3.5h0m0 .5h0m0 2h0m1-17.5h0m0 5h0m0 5.5h0m0 2h0m0 2h0m0 .5h0m0 1h0m0 3h0m.5-31.5h0m0 4h0m0 14h0m0 4.5h0m0 .5h0m0 .5h0m0 1h0m0 2h0m0 1h0m0 1h0m0 .5h0m0 .5h0m0 .5h0m0 .5h0m0 1h0m.5-35.5h0m0 3h0m0 13.5h0m0 12.5h0m0 .5h0m0 .5h0m0 1h0m0 3h0m0 .5h0m0 .5h0m.5-9h0m0 4h0m.5-.5h0m.5-11h0m.5 .5h0m0 1.5h0m0 .5h0m0 2h0m0 1.5h0m0 1h0m0 1.5h0m0 1h0m0 .5h0m0 .5h0m.5-30h0m0 12.5h0m0 1.5h0m0 2h0m0 1h0m0 .5h0m0 1h0m0 1h0m0 1h0m0 1h0m0 .5h0m0 1h0m0 1h0m0 1h0m0 .5h0m0 .5h0m0 .5h0m0 .5h0m0 1h0m0 .5h0m0 .5h0m0 .5h0m0 .5h0m0 .5h0m.5-12.5h0m0 2.5h0m0 .5h0m0 2.5h0m0 1h0m0 .5h0m0 .5h0m0 1.5h0m0 1h0m0 .5h0m0 1h0m0 .5h0m.5-23.5h0m0 9h0m0 6h0m0 4.5h0m0 1.5h0m0 1h0m0 .5h0m0 .5h0m.5-19h0m0 6h0m0 3h0m0 3h0m0 1h0m0 1h0m0 .5h0m0 .5h0m0 1h0m0 .5h0m0 2h0m0 1.5h0m0 2.5h0m0 .5h0m0 .5h0m.5-22h0m0 3.5h0m0 3h0m0 .5h0m0 1.5h0m0 2h0m0 2h0m0 1h0m0 2.5h0m0 .5h0m0 1.5h0m0 1.5h0m0 .5h0m0 1h0m0 .5h0m0 .5h0m.5-14.5h0m0 3.5h0m0 .5h0m0 4.5h0m0 .5h0m0 1.5h0m0 .5h0m0 .5h0m0 1.5h0m0 .5h0m0 .5h0m.5-12.5h0m0 2h0m.5-21.5h0m0 5.5h0m0 16.5h0m0 1h0m0 2h0m.5-15.5h0m0 7.5h0m0 1.5h0m0 7h0m.5-23h0m0 13.5h0m0 5h0m0 .5h0m0 .5h0m0 .5h0m0 1.5h0m.5-12h0m0 10h0m0 2h0m0 .5h0m.5-18h0m0 13.5h0m0 .5h0m0 1.5h0m0 1.5h0m0 .5h0m.5-24.5h0m0 8h0m0 4.5h0m0 1.5h0m0 1.5h0m0 2h0m0 .5h0m0 .5h0m0 2h0m0 1h0m0 1h0m0 1.5h0m0 .5h0m.5-11.5h0m0 2h0m0 2.5h0m0 1h0m0 1.5h0m0 .5h0m0 2.5h0m0 1h0m0 2h0m0 .5h0m.5-6h0m0 .5h0m0 5h0m0 .5h0m.5-12h0m0 .5h0m0 2h0m0 4h0m0 1.5h0m0 2h0m0 1.5h0m0 1h0m27-34h0m0 9h0m0 .5h0m0 5h0m0 4h0m0 1.5h0m0 1.5h0m0 .5h0m0 .5h0m0 1h0m.5-23.5h0m0 8h0m0 4.5h0m0 1h0m0 .5h0m0 1h0m0 .5h0m0 1.5h0m0 .5h0m0 .5h0m0 .5h0m0 .5h0m0 .5h0m0 .5h0m0 .5h0m0 1h0m0 .5h0m0 .5h0m0 2h0m.5-19h0m0 .5h0m0 2h0m0 2h0m0 .5h0m0 5.5h0m0 2h0m0 2h0m0 1.5h0m0 1.5h0m0 1h0m0 1h0m0 .5h0m.5-9.5h0m0 1.5h0m0 .5h0m0 3.5h0m0 3.5h0m.5-4h0m0 .5h0m0 .5h0m0 2h0m.5-16.5h0m0 4h0m0 2h0m0 1.5h0m0 2h0m0 2.5h0m0 1h0m0 1h0m0 .5h0m0 .5h0m.5-29.5h0m0 17h0m0 .5h0m0 .5h0m0 1h0m0 2h0m0 2.5h0m0 .5h0m0 1h0m0 2h0m0 1.5h0m.5-28h0m0 2.5h0m0 15.5h0m0 .5h0m0 4.5h0m0 .5h0m0 1h0m0 1h0m0 1.5h0m.5-8.5h0m0 2h0m0 3h0m0 1h0m0 .5h0m0 1.5h0m0 .5h0m.5-15.5h0m0 9.5h0m0 1h0m0 2h0m0 1h0m0 .5h0m0 2h0m0 .5h0m.5-20.5h0m0 1.5h0m0 17h0m0 3h0m0 1.5h0m0 2.5h0m0 1h0m.5-33h0m0 24.5h0m0 6.5h0m.5-13.5h0m0 9h0m0 2h0m0 2h0m0 1.5h0m0 1.5h0m0 .5h0m.5-30.5h0m0 2h0m0 17.5h0m0 3h0m0 1.5h0m0 3.5h0m0 .5h0m0 1h0m0 1.5h0m.5-31h0m0 17.5h0m0 1h0m0 5h0m0 .5h0m0 .5h0m0 1.5h0m0 3.5h0m0 .5h0m0 1h0m0 .5h0m0 .5h0m.5-22.5h0m0 1h0m0 4h0m0 3.5h0m0 2h0m0 1.5h0m0 1h0m0 1.5h0m0 1h0m0 .5h0m0 .5h0m0 2h0m0 1h0m0 2h0m0 .5h0m0 .5h0m0 .5h0m.5-28.5h0m0 2.5h0m0 9.5h0m0 6h0m0 .5h0m0 1h0m0 .5h0m0 2.5h0m0 1h0m0 2h0m0 .5h0m0 2.5h0m0 .5h0m0 .5h0m.5-15.5h0m0 10h0m0 .5h0m0 .5h0m0 .5h0m0 1.5h0m0 .5h0m0 .5h0m0 1.5h0m0 .5h0m.5-10h0m0 1h0m0 1h0m0 3h0m0 5.5h0m0 .5h0m.5-17h0m0 6.5h0m0 3h0m0 1h0m0 2.5h0m0 1.5h0m.5-25.5h0m0 16h0m0 .5h0m0 7.5h0m0 2.5h0m0 .5h0m0 .5h0m0 4h0m0 2h0m0 .5h0m0 2h0m.5-19.5h0m0 2.5h0m0 4.5h0m0 1h0m0 3.5h0m0 1.5h0m0 1h0m0 .5h0m0 5h0m0 .5h0m0 2h0m.5-18h0m0 .5h0m0 7.5h0m0 1.5h0m0 1.5h0m0 1.5h0m0 2h0m0 1.5h0m0 2h0m.5-19h0m0 1.5h0m0 2.5h0m0 1.5h0m0 .5h0m0 5.5h0m0 .5h0m0 .5h0m0 .5h0m0 1.5h0m0 .5h0m0 1h0m.5-9.5h0m0 3.5h0m0 2h0m0 2h0m0 1h0m0 .5h0m0 2h0m0 3.5h0m.5-17.5h0m0 1.5h0m0 4h0m0 3.5h0m0 3.5h0m0 2.5h0m0 1h0m0 .5h0m0 .5h0m0 .5h0m0 1h0m.5-35h0m0 4.5h0m0 11.5h0m0 13.5h0m0 2.5h0m0 1h0m.5-35.5h0m.5 1.5h0m0 9.5h0m0 5h0m0 16h0m.5-11h0m0 7h0m.5-13.5h0m0 6h0m0 3h0m0 1.5h0m0 3h0m0 .5h0m0 .5h0m0 1h0m0 1.5h0m.5-9.5h0m0 4.5h0m0 2h0m0 1.5h0m0 .5h0m0 1.5h0m.5-25h0m0 9h0m0 2.5h0m0 4h0m0 4h0m0 .5h0m0 1.5h0m0 1h0m0 .5h0m.5-19h0m0 4.5h0m0 2h0m0 6h0m0 1h0m0 1h0m0 1h0m0 .5h0m0 1h0m0 1.5h0m0 .5h0m0 .5h0m.5-24h0m0 1h0m0 14.5h0m0 2h0m0 1h0m0 .5h0m0 .5h0m0 .5h0m0 1.5h0m0 .5h0m0 .5h0m0 1h0m.5-17.5h0m0 5h0m0 2.5h0m0 .5h0m0 2h0m0 1.5h0m0 .5h0m0 .5h0m0 1h0m0 .5h0m.5-23h0m0 3.5h0m0 2h0m0 5h0m0 .5h0m0 1.5h0m0 2.5h0m0 4h0m0 2.5h0m0 1.5h0m0 .5h0m.5-31.5h0m0 1h0m0 4.5h0m0 .5h0m0 4h0m0 2.5h0m0 1h0m0 1h0m0 .5h0m0 .5h0m0 .5h0m0 .5h0m0 1h0m0 .5h0m0 .5h0m.5-8h0m0 2h0m0 5h0m0 .5h0m0 .5h0m0 1h0m0 2h0m0 4.5h0m0 1.5h0m.5-25.5h0m0 17.5h0m0 2h0m0 1.5h0m0 .5h0m0 1h0m0 .5h0m0 1h0m0 .5h0m.5-20.5h0m0 1h0m0 2h0m0 5h0m0 2.5h0m0 2.5h0m0 1.5h0m0 .5h0m0 2h0m0 1h0m0 2h0m0 3h0m.5-18.5h0m0 3.5h0m0 4h0m0 4.5h0m0 .5h0m0 2h0m0 3h0m0 1h0m.5-15h0m0 3h0m0 6h0m0 2h0m0 3.5h0m0 .5h0m.5-30h0m0 11.5h0m0 8.5h0m0 2h0m0 1.5h0m0 1.5h0m0 3h0m.5-12h0m0 2.5h0m0 .5h0m0 1.5h0m0 .5h0m0 1h0m0 .5h0m0 .5h0m0 .5h0m0 2.5h0m0 1h0m.5-23h0m0 10h0m0 .5h0m0 2h0m0 3h0m0 .5h0m0 1h0m0 3h0m.5-11h0m0 1.5h0m0 1.5h0m0 4h0m0 .5h0m0 .5h0m0 .5h0m0 .5h0m0 2h0m0 1h0m.5-6.5h0m0 3.5h0m0 2h0m.5-5.5h0m0 6h0m.5-11.5h0m0 7h0m.5-6.5h0m28.5 17h0m0 .5h0m.5-15.5h0m0 4h0m0 1.5h0m0 1h0m0 .5h0m0 .5h0m0 .5h0m0 5h0m0 1h0m0 .5h0m0 1.5h0m0 1h0m0 .5h0m0 .5h0m0 .5h0m0 1h0m.5-24h0m0 1h0m0 2.5h0m0 3h0m0 5.5h0m0 3h0m0 3.5h0m0 1h0m0 1.5h0m0 .5h0m0 .5h0m0 1h0m0 .5h0m0 .5h0m.5-29h0m0 5h0m0 8h0m0 2.5h0m0 3.5h0m0 .5h0m0 1h0m0 1.5h0m0 2h0m0 .5h0m0 2h0m0 .5h0m.5-25.5h0m0 1.5h0m0 12.5h0m0 2.5h0m0 4h0m0 1.5h0m.5-11h0m0 3h0m0 .5h0m0 1h0m0 1h0m0 1h0m0 4h0m0 .5h0m0 .5h0m0 .5h0m0 .5h0m0 1h0m0 .5h0m0 .5h0m0 .5h0m0 .5h0m.5-13h0m0 5h0m0 .5h0m0 .5h0m0 .5h0m0 1h0m0 .5h0m0 .5h0m0 .5h0m0 .5h0m0 .5h0m0 .5h0m0 .5h0m0 .5h0m0 .5h0m0 .5h0m0 .5h0m.5-18h0m0 3h0m0 2.5h0m0 1h0m0 1.5h0m0 .5h0m0 4h0m0 .5h0m0 1h0m0 .5h0m0 .5h0m0 .5h0m0 1h0m0 .5h0m0 1h0m.5-23.5h0m0 13h0m0 2.5h0m0 1.5h0m0 3h0m0 1h0m.5-8.5h0m0 1.5h0m0 3h0m0 1h0m0 .5h0m0 1h0m0 .5h0m0 .5h0m0 3h0m0 2.5h0m0 .5h0m0 .5h0m0 1h0m0 1h0m.5-23.5h0m0 3.5h0m0 2.5h0m0 5.5h0m0 1h0m0 3.5h0m0 .5h0m0 1h0m0 2h0m0 .5h0m0 .5h0m0 .5h0m0 .5h0m0 1h0m0 .5h0m0 .5h0m0 1h0m.5-25.5h0m0 9h0m0 .5h0m0 1.5h0m0 6.5h0m0 .5h0m0 1.5h0m0 .5h0m0 1.5h0m0 1h0m0 1h0m0 .5h0m0 .5h0m0 .5h0m0 .5h0m.5-14.5h0m0 1.5h0m0 5.5h0m0 4.5h0m0 1h0m.5-2.5h0m0 2h0m0 .5h0m0 1.5h0m0 2h0m0 1.5h0m0 1.5h0m.5-7h0m0 .5h0m0 .5h0m0 1h0m0 1h0m0 .5h0m0 1.5h0m0 .5h0m.5-14h0m0 4.5h0m0 1.5h0m0 1.5h0m0 2h0m0 .5h0m0 1.5h0m0 .5h0m.5-16h0m0 11.5h0m0 2.5h0m0 1h0m0 1h0m0 1.5h0m0 2.5h0m.5-28h0m0 15.5h0m0 6h0m0 1h0m0 3.5h0m0 .5h0m0 .5h0m0 1h0m.5-10h0m0 3.5h0m0 1.5h0m0 .5h0m0 2.5h0m0 3.5h0m0 1h0m0 .5h0m0 .5h0m.5-34h0m0 9h0m0 1.5h0m0 5h0m0 1h0m0 .5h0m0 1h0m0 1h0m0 .5h0m0 .5h0m0 .5h0m0 .5h0m0 5h0m0 6h0m.5-29.5h0m0 3.5h0m0 1.5h0m0 3.5h0m0 .5h0m0 .5h0m0 .5h0m0 .5h0m0 .5h0m0 .5h0m0 1h0m0 1.5h0m0 1h0m0 1h0m0 .5h0m0 1h0m0 .5h0m0 .5h0m.5-19h0m0 7.5h0m0 1h0m0 .5h0m0 2.5h0m0 1.5h0m0 3h0m0 .5h0m0 2h0m0 1.5h0m.5-4.5h0m0 2h0m0 7h0m0 2h0m0 .5h0m0 1h0m.5-29h0m0 9h0m0 .5h0m0 1.5h0m0 5h0m0 2h0m0 2.5h0m0 1.5h0m0 .5h0m0 2.5h0m0 1h0m0 .5h0m0 5h0m.5-55h0m0 46h0m0 1h0m0 .5h0m0 .5h0m0 1.5h0m0 .5h0m0 1h0m0 .5h0m.5-16h0m0 1h0m0 2.5h0m0 8.5h0m0 1.5h0m0 1.5h0m0 1h0m0 2.5h0m1-9h0m.5-17h0m0 6h0m.5-18.5h0m0 5.5h0m0 10.5h0m0 1.5h0m0 4.5h0m0 4.5h0m0 1.5h0m0 .5h0m0 1h0m.5-26h0m0 10h0m0 8h0m0 .5h0m0 1.5h0m0 1h0m0 1h0m0 1h0m0 .5h0m0 .5h0m0 .5h0m0 1.5h0m.5-16.5h0m0 2h0m0 2.5h0m0 5h0m0 .5h0m0 1.5h0m0 1h0m0 1h0m0 .5h0m0 .5h0m0 .5h0m0 .5h0m.5-11.5h0m0 4h0m0 .5h0m0 .5h0m0 2h0m0 .5h0m0 2h0m0 .5h0m0 .5h0m0 1h0m0 .5h0m.5-17.5h0m0 .5h0m0 5.5h0m0 1.5h0m0 3.5h0m0 1h0m0 1h0m0 .5h0m0 .5h0m0 1h0m0 .5h0m.5-11h0m0 6.5h0m0 4h0m0 1h0m0 1h0m.5-25h0m0 19.5h0m.5-52h0m0 3.5h0m0 3h0m0 3h0m0 1h0m0 2h0m0 5h0m0 .5h0m0 3h0m0 1.5h0m0 1h0m0 5h0m0 .5h0m0 2.5h0m0 1h0m0 .5h0m0 .5h0m0 1h0m0 2h0m0 5.5h0m0 7h0m0 1h0m0 1.5h0m0 1h0m0 1.5h0m.5-53h0m0 1.5h0m0 .5h0m0 1h0m0 3h0m0 2h0m0 .5h0m0 3.5h0m0 3.5h0m0 1h0m0 2h0m0 1.5h0m0 .5h0m0 .5h0m0 .5h0m0 .5h0m0 1h0m0 .5h0m0 1h0m0 1.5h0m0 .5h0m0 2h0m0 1h0m0 .5h0m0 1h0m0 .5h0m0 .5h0m0 4.5h0m0 7h0m0 4.5h0m0 4h0m.5-56.5h0m0 1.5h0m0 8h0m0 1h0m0 3h0m0 2h0m0 .5h0m0 1h0m0 1.5h0m0 2.5h0m0 1.5h0m0 .5h0m0 .5h0m0 .5h0m0 2h0m0 6h0m0 1h0m0 .5h0m0 .5h0m0 1.5h0m0 .5h0m0 .5h0m0 .5h0m0 6h0m0 .5h0m0 .5h0m0 .5h0m0 3.5h0m0 .5h0m0 4h0m.5-49.5h0m0 4.5h0m0 6.5h0m0 9h0m0 2.5h0m0 3.5h0m0 1h0m0 2h0m0 4.5h0m0 1.5h0m0 7h0m0 3h0m0 3.5h0m.5-22h0m0 2h0m0 12.5h0m0 5h0m.5-21.5h0m0 20h0m0 2.5h0m0 4h0m.5-3h0m0 2.5h0m.5-11h0m0 1h0m0 1.5h0m0 1.5h0m0 1h0m0 .5h0m0 1h0m0 3.5h0m0 1h0m0 .5h0m.5-5h0m0 1h0m0 1h0m0 1h0m.5-29h0m0 10h0m0 5h0m0 8h0m0 2.5h0m0 3h0m.5-8h0m0 5h0m0 1h0m0 2h0m0 .5h0m28-26h0m0 3.5h0m0 5h0m0 8.5h0m0 1.5h0m0 1.5h0m0 1h0m.5-24h0m0 5h0m0 8.5h0m0 1h0m0 1h0m0 1.5h0m0 1h0m0 1h0m0 .5h0m0 .5h0m0 .5h0m0 1.5h0m0 .5h0m0 .5h0m0 .5h0m0 .5h0m.5-13h0m0 1.5h0m0 1h0m0 1h0m0 1.5h0m0 1h0m0 2h0m0 2h0m0 2h0m0 .5h0m0 .5h0m0 .5h0m.5-17h0m0 3h0m0 .5h0m0 3.5h0m0 1.5h0m0 1h0m0 2.5h0m0 .5h0m0 .5h0m0 1.5h0m0 .5h0m0 1h0m0 .5h0m0 3h0m0 1h0m.5-4.5h0m0 4.5h0m0 .5h0m.5-15.5h0m0 1h0m0 7.5h0m0 .5h0m0 3h0m0 2h0m0 2h0m0 .5h0m0 .5h0m0 1h0m.5-16.5h0m0 2h0m0 1h0m0 2.5h0m0 2h0m0 2h0m0 2.5h0m0 2.5h0m0 1.5h0m.5-17.5h0m0 1h0m0 10.5h0m0 1h0m0 .5h0m0 .5h0m0 2.5h0m0 1h0m0 .5h0m0 .5h0m0 .5h0m0 1h0m0 .5h0m0 .5h0m.5-17.5h0m0 3h0m0 3.5h0m0 1h0m0 1h0m0 2h0m0 2h0m0 2h0m0 1h0m0 .5h0m0 1h0m0 .5h0m0 .5h0m0 .5h0m.5-20.5h0m0 5h0m0 .5h0m0 5.5h0m0 .5h0m0 1h0m0 2h0m0 1h0m0 1h0m0 2h0m0 1.5h0m0 .5h0m.5-30h0m0 8.5h0m0 7h0m0 2h0m0 2.5h0m0 .5h0m0 1h0m0 .5h0m.5-13.5h0m0 6h0m0 .5h0m0 7h0m0 2.5h0m0 .5h0m0 4.5h0m0 .5h0m.5-22h0m0 4h0m0 3.5h0m0 3.5h0m0 4h0m0 1h0m0 2h0m0 1h0m0 .5h0m0 .5h0m0 2h0m0 1h0m.5-27.5h0m0 7h0m0 3h0m0 1.5h0m0 1h0m0 6.5h0m0 1.5h0m0 3.5h0m0 .5h0m0 2h0m.5-17.5h0m0 5h0m0 4.5h0m0 .5h0m0 2h0m0 .5h0m0 1.5h0m0 .5h0m.5-7.5h0m0 2.5h0m0 1.5h0m0 1.5h0m0 1.5h0m0 .5h0m0 1h0m.5-8h0m0 4h0m0 4h0m0 1.5h0m0 .5h0m.5-15.5h0m0 2h0m0 6h0m0 4.5h0m.5-21.5h0m0 10h0m0 7h0m0 4.5h0m.5-1.5h0m0 3h0m0 1h0m0 .5h0m0 4.5h0m.5-9h0m0 5.5h0m0 1h0m0 2h0m.5-22.5h0m0 3h0m0 3.5h0m0 2.5h0m0 1.5h0m0 1h0m0 .5h0m0 3h0m0 .5h0m0 1.5h0m.5-13.5h0m0 6h0m0 2h0m0 .5h0m0 2h0m0 .5h0m0 2h0m0 1h0m.5-13h0m0 12h0m0 .5h0m0 .5h0m0 6.5h0m.5-18.5h0m0 8h0m0 8.5h0m0 .5h0m0 1h0m.5-16.5h0m0 .5h0m0 3h0m0 1h0m0 1.5h0m0 4h0m0 3h0m0 1.5h0m0 .5h0m.5-15h0m0 5.5h0m0 5.5h0m0 1h0m.5-28h0m0 5.5h0m0 6h0m0 .5h0m0 1.5h0m0 7.5h0m0 2.5h0m0 1h0m0 1h0m0 .5h0m0 2h0m0 1h0m0 1h0m0 1h0m0 .5h0m.5-27h0m0 3.5h0m0 8h0m0 3.5h0m0 6h0m0 .5h0m0 .5h0m0 1h0m0 .5h0m0 .5h0m0 .5h0m0 .5h0m0 1.5h0m0 .5h0m0 .5h0m.5-25.5h0m0 14h0m0 1h0m0 1h0m0 1.5h0m0 1.5h0m0 .5h0m0 1h0m0 .5h0m0 1h0m0 1h0m0 1.5h0m.5-22.5h0m0 8.5h0m0 1h0m0 .5h0m0 .5h0m0 2.5h0m0 1h0m0 1.5h0m0 1h0m0 2h0m0 1h0m0 .5h0m0 1h0m0 .5h0m0 .5h0m0 .5h0m.5-18.5h0m0 1.5h0m0 6h0m0 4h0m0 2.5h0m0 1.5h0m0 2h0m0 1h0m.5-8.5h0m0 .5h0m0 .5h0m0 2h0m0 1.5h0m0 .5h0m0 .5h0m0 .5h0m.5-31h0m0 17h0m0 .5h0m0 1.5h0m0 1h0m0 .5h0m0 1.5h0m0 1.5h0m0 1.5h0m0 1h0m0 .5h0m0 .5h0m0 3.5h0m0 .5h0m.5-20h0m0 8h0m0 .5h0m0 2.5h0m0 1.5h0m0 1h0m0 1h0m0 1h0m.5-20.5h0m0 .5h0m0 2h0m0 1.5h0m0 2.5h0m0 1.5h0m0 1.5h0m0 1h0m0 2.5h0m0 1h0m0 2h0m0 1h0m0 .5h0m0 2h0m0 .5h0m0 .5h0m.5-21h0m0 4h0m0 2.5h0m0 2.5h0m0 .5h0m0 1h0m0 1h0m0 .5h0m0 1h0m0 1.5h0m0 3h0m0 .5h0m.5-19.5h0m0 4.5h0m0 5.5h0m0 .5h0m0 1.5h0m0 1.5h0m0 .5h0m0 .5h0m0 1h0m0 .5h0m0 .5h0m0 .5h0m0 1.5h0m0 .5h0m0 .5h0m0 .5h0m.5-23h0m0 7.5h0m0 .5h0m0 1.5h0m0 1.5h0m0 .5h0m0 .5h0m0 3h0m0 2h0m0 1h0m0 .5h0m0 1h0m0 .5h0m0 1.5h0m0 .5h0m0 .5h0m.5-10h0m0 1h0m0 4.5h0m0 .5h0m0 2.5h0m0 .5h0m0 .5h0m0 .5h0m.5-11.5h0m0 7.5h0m0 1h0m0 1.5h0m0 .5h0m.5-19.5h0m0 7.5h0m0 3.5h0m0 1h0m0 .5h0m0 1h0m0 4.5h0m.5-29.5h0m0 5.5h0m0 5h0m0 1h0m0 .5h0m0 8h0m0 2.5h0m0 .5h0m0 1h0m0 2h0m0 1h0m.5-20.5h0m0 13.5h0m0 .5h0m0 2.5h0m0 .5h0m0 3.5h0m0 1h0m0 1h0m.5-15.5h0m0 11.5h0m0 2h0m0 .5h0m0 4.5h0m.5-4.5h0m0 3.5h0m0 6h0m0 .5h0m.5-6h0m0 2h0m0 .5h0m.5-3.5h0m0 .5h0m0 2.5h0m0 1h0m0 .5h0m0 .5h0m0 1.5h0m0 .5h0m0 .5h0m.5-10.5h0m0 4h0m0 2h0m0 1h0m0 1.5h0m0 .5h0m0 .5h0m0 1h0m0 1h0m26-29.5h0m0 25h0m.5-18.5h0m0 2.5h0m0 5.5h0m0 3.5h0m0 6h0m0 1.5h0m0 1h0m.5-11h0m0 2h0m0 6h0m0 1.5h0m0 1.5h0m.5-20h0m0 11.5h0m0 4.5h0m.5-11h0m0 10h0m0 2h0m.5-.5h0m0 5h0m.5-9h0m0 4.5h0m0 .5h0m0 1h0m0 1.5h0m0 1h0m0 .5h0m0 1.5h0m.5-25h0m0 4.5h0m0 2h0m0 7h0m0 2h0m0 .5h0m0 .5h0m0 .5h0m0 .5h0m0 .5h0m0 1h0m0 .5h0m.5-27h0m0 6h0m0 .5h0m0 3.5h0m0 4h0m0 5h0m0 1h0m0 1.5h0m0 1h0m0 .5h0m0 .5h0m0 .5h0m0 .5h0m0 1h0m0 1h0m0 .5h0m.5-12.5h0m0 1h0m0 4.5h0m0 3h0m0 .5h0m0 .5h0m0 1h0m0 1.5h0m.5-6.5h0m0 1h0m0 4.5h0m0 1h0m0 1.5h0m.5-19.5h0m0 4h0m0 6h0m0 .5h0m0 2.5h0m0 3.5h0m0 .5h0m0 .5h0m0 1h0m0 .5h0m0 1h0m0 .5h0m0 .5h0m.5-20h0m0 2h0m0 2h0m0 1h0m0 .5h0m0 3h0m0 1.5h0m0 2.5h0m0 1h0m0 .5h0m0 1.5h0m0 .5h0m0 2.5h0m0 .5h0m0 .5h0m0 .5h0m.5-22.5h0m0 1.5h0m0 10h0m0 1h0m0 .5h0m0 1h0m0 1.5h0m0 .5h0m0 .5h0m0 .5h0m0 .5h0m0 .5h0m0 2h0m0 .5h0m0 .5h0m0 .5h0m0 .5h0m0 .5h0m.5-25h0m0 2.5h0m0 3h0m0 .5h0m0 .5h0m0 1h0m0 4h0m0 1.5h0m0 2.5h0m0 .5h0m0 .5h0m0 1.5h0m0 .5h0m0 .5h0m0 .5h0m0 .5h0m0 .5h0m0 1h0m0 1h0m0 .5h0m0 .5h0m0 .5h0m0 .5h0m.5-35h0m0 12h0m0 2.5h0m0 8h0m0 1h0m0 2.5h0m0 1.5h0m0 1.5h0m0 .5h0m0 2h0m0 .5h0m0 .5h0m0 1.5h0m0 .5h0m0 .5h0m0 1h0m.5-24.5h0m0 10.5h0m0 3.5h0m0 .5h0m0 3h0m0 .5h0m0 4.5h0m0 1h0m0 2.5h0m.5-21.5h0m0 10.5h0m0 10.5h0m0 1h0m0 3h0m0 1h0m0 1.5h0m0 .5h0m0 2h0m0 1.5h0m0 .5h0m.5-15.5h0m0 3.5h0m0 2.5h0m0 2.5h0m0 .5h0m0 .5h0m0 1h0m0 1.5h0m0 .5h0m0 1.5h0m0 1.5h0m.5-27.5h0m0 4h0m0 6h0m0 1.5h0m0 .5h0m0 .5h0m0 1h0m0 1h0m0 1h0m0 1h0m0 .5h0m0 1h0m0 .5h0m0 2.5h0m0 1.5h0m0 2h0m0 2h0m0 .5h0m0 .5h0m.5-36.5h0m0 3.5h0m0 4h0m0 3h0m0 1h0m0 2.5h0m0 2.5h0m0 1h0m0 .5h0m0 2.5h0m0 .5h0m0 .5h0m0 1h0m0 .5h0m0 .5h0m0 .5h0m0 .5h0m0 .5h0m0 .5h0m.5-28.5h0m0 7.5h0m0 8h0m0 1h0m0 2h0m0 1h0m0 3.5h0m0 1h0m0 .5h0m0 .5h0m0 .5h0m0 .5h0m0 .5h0m0 1h0m0 .5h0m0 .5h0m0 .5h0m.5-7.5h0m0 6h0m0 1h0m.5-27.5h0m0 6h0m0 2.5h0m0 1h0m0 1.5h0m0 1.5h0m0 11h0m0 2.5h0m.5-31h0m0 6.5h0m0 2.5h0m0 .5h0m0 1.5h0m0 2.5h0m0 3h0m0 1h0m0 1.5h0m.5-8.5h0m0 7h0m0 2.5h0m0 5h0m0 1.5h0m0 2.5h0m0 2h0m.5-23.5h0m0 1h0m0 13.5h0m0 8h0m0 .5h0m0 .5h0m0 .5h0m0 1h0m0 1h0m0 .5h0m.5-17h0m0 3.5h0m0 2h0m0 2h0m0 1.5h0m0 1h0m0 2h0m0 2h0m0 .5h0m0 1h0m0 2h0m.5-37h0m0 10h0m0 7.5h0m0 6h0m0 3h0m0 1.5h0m0 .5h0m0 1h0m0 .5h0m.5-30.5h0m0 23h0m0 .5h0m0 1h0m0 2.5h0m0 4h0m0 1h0m0 2h0m0 1.5h0m.5-25h0m0 .5h0m0 5h0m0 1.5h0m0 .5h0m0 6.5h0m0 .5h0m0 .5h0m0 1h0m0 .5h0m0 .5h0m0 2h0m0 .5h0m0 .5h0m0 .5h0m0 .5h0m0 1h0m0 1h0m0 .5h0m0 .5h0m0 .5h0m0 .5h0m.5-17.5h0m0 .5h0m0 1.5h0m0 1.5h0m0 4.5h0m0 .5h0m0 2.5h0m0 2h0m0 1h0m0 .5h0m0 .5h0m0 1.5h0m0 .5h0m0 1h0m0 .5h0m0 .5h0m0 .5h0m0 .5h0m0 .5h0m.5-29.5h0m0 3h0m0 2h0m0 11h0m0 1h0m0 2h0m0 1h0m0 1h0m0 .5h0m0 .5h0m0 1.5h0m0 2h0m0 .5h0m0 .5h0m0 .5h0m0 1h0m0 .5h0m0 .5h0m0 .5h0m.5-24.5h0m0 2.5h0m0 3.5h0m0 .5h0m0 1.5h0m0 .5h0m0 .5h0m0 1h0m0 .5h0m0 1h0m0 3.5h0m0 .5h0m0 .5h0m0 1h0m0 1h0m0 .5h0m0 .5h0m0 .5h0m0 2h0m0 .5h0m0 .5h0m0 .5h0m0 .5h0m0 1h0m0 .5h0m.5-28h0m0 4h0m0 3.5h0m0 7.5h0m0 2.5h0m0 1h0m0 .5h0m0 1.5h0m0 1.5h0m0 .5h0m0 1h0m0 1h0m0 .5h0m0 .5h0m0 1.5h0m.5-29h0m0 4h0m0 10h0m0 3.5h0m0 5h0m0 1h0m0 .5h0m0 .5h0m0 1h0m0 .5h0m0 1h0m0 .5h0m0 1h0m.5-9h0m0 3.5h0m0 3.5h0m0 .5h0m.5-24h0m0 3.5h0m0 4.5h0m0 1h0m0 .5h0m0 3.5h0m0 1.5h0m0 1.5h0m0 .5h0m0 .5h0m0 2h0m0 .5h0m0 3h0m.5-18.5h0m0 2.5h0m0 3.5h0m0 2h0m0 1h0m0 2.5h0m.5-15.5h0m0 3h0m0 1h0m0 6h0m0 .5h0m0 .5h0m0 1h0m0 1h0m0 1.5h0m0 .5h0m0 1h0m0 .5h0m.5-19h0m0 2.5h0m0 .5h0m0 4.5h0m0 3h0m0 .5h0m0 2.5h0m0 .5h0m0 1h0m0 2.5h0m0 .5h0m0 .5h0m0 .5h0m.5-12.5h0m0 3.5h0m0 6h0m0 1h0m0 1.5h0m0 .5h0m.5-19h0m0 4h0m0 1h0m0 5h0m0 6h0m0 1h0m0 .5h0m0 2h0m.5-9.5h0m0 3h0m0 .5h0m0 4h0m0 1.5h0m.5-26h0m0 2.5h0m0 4h0m0 6h0m0 1.5h0m0 1h0m0 1.5h0m0 1h0m0 .5h0m0 1h0m0 2h0m0 .5h0m0 .5h0m.5-17h0m0 3.5h0m0 1.5h0m0 1.5h0m0 4.5h0m0 1.5h0m0 1.5h0m1-17.5h0m0 4h0m0 12.5h0m0 3h0m0 1h0m0 .5h0m0 .5h0m.5-27h0m0 15h0m0 .5h0m0 2h0m0 2h0m0 .5h0m0 .5h0m0 2h0m0 .5h0m0 1h0m0 1h0m0 .5h0m0 .5h0m0 1h0m.5-20h0m0 10.5h0m0 1.5h0m0 1h0m0 1.5h0m0 .5h0m0 .5h0m0 1h0m0 .5h0m0 .5h0m0 1h0m0 1.5h0m0 .5h0m0 1h0m.5-18.5h0m0 6.5h0m0 .5h0m0 3h0m0 1h0m0 1h0m0 .5h0m0 .5h0m0 1h0m0 1h0m0 .5h0m0 .5h0m0 .5h0m0 .5h0m0 .5h0m0 .5h0m0 .5h0m.5-28h0m0 11.5h0m0 2.5h0m0 3.5h0m0 2.5h0m0 1h0m0 1h0m0 .5h0m0 1h0m0 1.5h0m0 1.5h0m0 .5h0m0 1h0m0 1h0m0 .5h0m0 3h0m.5-18.5h0m0 4h0m0 1.5h0m0 1h0m0 4h0m0 .5h0m0 2.5h0m0 2h0m0 .5h0m0 2h0m0 .5h0m0 .5h0m.5-8.5h0m0 1h0m0 .5h0m0 2h0m0 6h0m.5-26h0m0 22h0m0 1.5h0m0 .5h0m0 1h0m28.5-20.5h0m0 13h0m0 2h0m0 1.5h0m0 2h0m.5-14h0m0 3h0m.5-8.5h0m0 2.5h0m0 2h0m0 4h0m0 4h0m0 .5h0m0 4.5h0m0 2.5h0m.5-12.5h0m0 1h0m0 .5h0m0 2h0m0 1.5h0m0 1h0m0 .5h0m0 1h0m0 1h0m.5-12h0m0 10h0m0 1h0m0 .5h0m0 2.5h0m0 1h0m0 1.5h0m0 1h0m.5-9h0m0 .5h0m0 2h0m0 .5h0m0 .5h0m0 1.5h0m0 .5h0m0 2.5h0m.5-28.5h0m0 9.5h0m0 1.5h0m0 6.5h0m0 2h0m0 5h0m0 3.5h0m0 1.5h0m0 2.5h0m.5-25h0m0 13h0m0 8.5h0m0 1.5h0m.5-14.5h0m0 .5h0m0 11.5h0m0 .5h0m0 3.5h0m0 .5h0m0 .5h0m.5-20.5h0m0 2h0m0 6h0m0 3h0m0 .5h0m0 1.5h0m0 .5h0m0 .5h0m0 .5h0m0 .5h0m0 1.5h0m0 1.5h0m0 .5h0m0 .5h0m0 .5h0m0 .5h0m0 .5h0m.5-31h0m0 2.5h0m0 10h0m0 1h0m0 1h0m0 1h0m0 2.5h0m0 1h0m0 1h0m0 1.5h0m0 .5h0m0 .5h0m0 .5h0m0 .5h0m0 .5h0m0 .5h0m0 2.5h0m0 .5h0m0 1.5h0m0 .5h0m0 1h0m0 .5h0m.5-19.5h0m0 .5h0m0 .5h0m0 2h0m0 1.5h0m0 .5h0m0 .5h0m0 .5h0m0 .5h0m0 1h0m0 .5h0m0 .5h0m0 .5h0m0 .5h0m0 .5h0m0 1h0m0 .5h0m0 .5h0m0 .5h0m0 .5h0m.5-14h0m0 6h0m0 .5h0m0 .5h0m0 .5h0m0 .5h0m0 .5h0m0 1h0m0 3h0m0 .5h0m.5-19h0m0 9h0m0 11.5h0m0 1h0m0 1.5h0m0 .5h0m.5-22.5h0m0 7h0m0 1.5h0m0 4h0m0 .5h0m0 .5h0m0 .5h0m0 1.5h0m0 .5h0m0 .5h0m0 1.5h0m0 .5h0m0 .5h0m0 .5h0m0 1h0m0 1h0m0 .5h0m0 1h0m.5-27h0m0 7.5h0m0 1h0m0 .5h0m0 2.5h0m0 3h0m0 1h0m0 .5h0m0 1h0m0 .5h0m0 1h0m0 .5h0m0 .5h0m0 .5h0m0 .5h0m0 .5h0m0 .5h0m0 .5h0m0 .5h0m0 .5h0m0 .5h0m0 .5h0m0 .5h0m0 .5h0m0 .5h0m0 .5h0m.5-40h0m0 21h0m0 10h0m0 1h0m0 .5h0m0 1.5h0m0 .5h0m0 .5h0m0 .5h0m0 .5h0m0 .5h0m0 1h0m0 1h0m0 .5h0m0 .5h0m0 .5h0m0 1h0m0 1h0m.5-15h0m0 7.5h0m0 3.5h0m0 4h0m0 .5h0m.5-4.5h0m0 1.5h0m0 2h0m0 1.5h0m0 1h0m0 .5h0m.5-3h0m0 .5h0m0 2h0m.5-7.5h0m0 4h0m0 1.5h0m0 3h0m.5-32h0m0 15h0m0 6h0m0 2h0m0 2h0m0 2h0m0 .5h0m0 2.5h0m0 .5h0m0 .5h0m0 .5h0m.5-21.5h0m0 1.5h0m0 .5h0m0 1.5h0m0 .5h0m0 4.5h0m0 2h0m0 1h0m0 1h0m0 .5h0m0 .5h0m0 2.5h0m0 .5h0m0 .5h0m0 1h0m0 .5h0m0 3h0m.5-29.5h0m0 5.5h0m0 3h0m0 5h0m0 .5h0m0 1.5h0m0 1.5h0m0 1.5h0m0 1h0m0 .5h0m0 .5h0m0 .5h0m0 1.5h0m0 1h0m0 .5h0m0 1h0m0 .5h0m0 .5h0m0 .5h0m.5-24h0m0 6.5h0m0 2.5h0m0 1h0m0 2.5h0m0 1.5h0m0 1h0m0 1h0m0 1h0m0 1h0m0 .5h0m0 .5h0m0 .5h0m0 1h0m0 1h0m0 .5h0m0 1h0m0 .5h0m0 .5h0m0 .5h0m0 1h0m0 1h0m0 1h0m0 2.5h0m0 .5h0m0 .5h0m0 1h0m.5-23h0m0 18h0m0 .5h0m0 1h0m0 1.5h0m0 1h0m0 .5h0m0 .5h0m.5-35h0m0 15.5h0m0 6h0m0 8h0m0 3h0m0 .5h0m0 1h0m0 .5h0m.5-31.5h0m0 4.5h0m0 3h0m0 2.5h0m0 1.5h0m0 1.5h0m.5-8h0m0 5.5h0m0 4.5h0m0 1.5h0m0 2.5h0m0 1h0m0 .5h0m0 1.5h0m0 4h0m.5-5h0m0 1.5h0m0 2.5h0m0 .5h0m0 .5h0m0 .5h0m.5-11.5h0m0 2h0m0 .5h0m0 2h0m0 2h0m0 1h0m0 2h0m0 1h0m0 .5h0m0 .5h0m.5-16h0m0 2h0m0 2.5h0m0 4h0m0 .5h0m0 .5h0m0 .5h0m.5-15h0m0 2.5h0m0 8h0m0 4h0m0 2.5h0m0 3.5h0m0 .5h0m0 .5h0m.5-15.5h0m0 2.5h0m0 4.5h0m0 1h0m0 .5h0m0 2.5h0m0 2h0m0 2.5h0m.5-18.5h0m0 5h0m0 6.5h0m0 2.5h0m0 1h0m0 2.5h0m0 .5h0m.5-17.5h0m.5 4.5h0m0 7.5h0m0 1h0m0 1h0m0 .5h0m.5-25.5h0m0 13h0m0 6h0m0 1.5h0m0 2h0m0 .5h0m0 .5h0m0 .5h0m0 1h0m0 1.5h0m.5-6h0m21.5-24h0m.5 11.5h0m0 .5h0m0 3.5h0m0 3.5h0m0 .5h0m0 1h0m0 .5h0m0 2h0m.5-13.5h0m0 7.5h0m0 1h0m0 1.5h0m0 .5h0m0 3h0m0 .5h0m0 2.5h0m0 .5h0m0 .5h0m.5-19h0m0 17.5h0m0 6h0m.5-2.5h0m0 .5h0m.5-18.5h0m0 3h0m0 4.5h0m0 3.5h0m0 1h0m0 2.5h0m.5-26.5h0m0 9.5h0m0 3.5h0m0 2.5h0m0 3h0m0 3.5h0m0 2.5h0m0 1h0m0 1h0m.5-17.5h0m0 5h0m0 4h0m0 1.5h0m0 1h0m0 1.5h0m0 2h0m0 2h0m0 .5h0m0 .5h0m0 .5h0m0 .5h0m.5-20h0m0 10h0m0 .5h0m0 2h0m0 1h0m0 1h0m0 1h0m0 1h0m0 1h0m0 1.5h0m.5-20.5h0m0 9h0m0 3.5h0m0 2h0m0 2h0m0 .5h0m0 1.5h0m0 1h0m0 1h0m0 .5h0m0 .5h0m.5-3h0m0 3h0m.5-14.5h0m0 2h0m0 4.5h0m0 4h0m0 1h0m0 .5h0m0 1h0m0 .5h0m.5-13.5h0m0 4.5h0m0 1h0m0 1.5h0m0 .5h0m0 1.5h0m0 1h0m0 1.5h0m0 1.5h0m0 1h0m.5-19h0m0 .5h0m0 5h0m0 3.5h0m0 1.5h0m0 2h0m0 .5h0m0 .5h0m0 2.5h0m0 .5h0m.5-11h0m0 3.5h0m.5-12h0m0 3.5h0m0 3.5h0m0 .5h0m0 .5h0m0 4h0m0 1h0m0 1.5h0m0 2h0m0 1h0m0 .5h0m0 1h0m0 1.5h0m0 .5h0m0 .5h0m0 .5h0m0 .5h0m0 1.5h0m0 .5h0m0 .5h0m.5-26h0m0 5.5h0m0 3.5h0m0 .5h0m0 1h0m0 .5h0m0 .5h0m0 .5h0m0 1h0m0 .5h0m0 .5h0m0 .5h0m0 1h0m0 .5h0m0 .5h0m0 .5h0m0 .5h0m0 1h0m0 1h0m0 .5h0m0 .5h0m0 .5h0m0 .5h0m0 .5h0m0 .5h0m0 .5h0m0 .5h0m0 .5h0m0 .5h0m0 .5h0m0 .5h0m0 .5h0m.5-27h0m0 6h0m0 4.5h0m0 1h0m0 1h0m0 .5h0m0 1.5h0m0 1h0m0 1.5h0m0 2h0m0 .5h0m0 .5h0m0 1h0m0 .5h0m0 .5h0m0 1.5h0m0 .5h0m0 .5h0m0 .5h0m0 .5h0m0 .5h0m0 .5h0m0 .5h0m0 2h0m0 .5h0m.5-17h0m0 5.5h0m0 .5h0m0 3.5h0m0 1h0m0 1h0m0 1h0m0 2h0m0 1.5h0m0 1h0m.5-19h0m0 3h0m0 .5h0m0 6.5h0m0 4h0m0 1h0m0 1.5h0m0 1h0m0 1.5h0m1-17.5h0m0 2.5h0m0 .5h0m0 4h0m0 3h0m.5-20h0m0 9.5h0m0 .5h0m0 2h0m0 .5h0m0 4h0m0 .5h0m0 2h0m0 2h0m.5-11h0m0 4.5h0m0 .5h0m0 3.5h0m0 1h0m0 .5h0m.5-22h0m0 16h0m.5-1h0m.5-3h0m.5-9.5h0m0 5.5h0m0 5h0m.5-14.5h0m0 1h0m0 4h0m0 7.5h0m0 .5h0m0 1h0m0 .5h0m0 2h0m0 2h0m.5-15h0m0 4h0m0 6.5h0m0 1h0m0 .5h0m0 1h0m0 .5h0m0 1.5h0m0 1h0m0 .5h0m.5-26h0m0 6h0m0 1.5h0m0 3.5h0m0 5.5h0m0 1h0m0 .5h0m0 .5h0m0 .5h0m0 1.5h0m0 1h0m0 .5h0m0 1h0m0 .5h0m0 1h0m0 .5h0m0 .5h0m.5-29.5h0m0 7.5h0m0 4h0m0 .5h0m0 2h0m0 1.5h0m0 3.5h0m0 .5h0m0 .5h0m0 .5h0m0 4h0m0 3.5h0m0 1h0m0 .5h0m.5-33.5h0m0 2.5h0m0 .5h0m0 5.5h0m0 6h0m0 1.5h0m0 1h0m0 4.5h0m0 1h0m0 .5h0m0 .5h0m0 1.5h0m0 .5h0m.5-18h0m0 6h0m0 2h0m0 4.5h0m0 1h0m0 1h0m0 .5h0m0 1h0m0 1h0m0 1h0m0 .5h0m0 .5h0m.5-30.5h0m0 .5h0m0 6h0m0 1h0m0 .5h0m0 .5h0m0 2h0m0 2.5h0m0 4.5h0m0 .5h0m0 1.5h0m0 2h0m0 2.5h0m0 5h0m0 1h0m0 1.5h0m0 .5h0m0 .5h0m.5-33h0m0 1.5h0m0 .5h0m0 2.5h0m0 2.5h0m0 1h0m0 1.5h0m0 .5h0m0 .5h0m0 .5h0m0 .5h0m0 .5h0m0 .5h0m0 .5h0m0 5h0m0 .5h0m0 3.5h0m0 3h0m0 2h0m0 .5h0m0 1.5h0m0 .5h0m0 .5h0m0 1h0m.5-31h0m0 .5h0m0 1h0m0 .5h0m0 .5h0m0 .5h0m0 .5h0m0 1.5h0m0 .5h0m0 1h0m0 3h0m0 .5h0m0 1h0m0 1h0m0 .5h0m0 .5h0m0 .5h0m0 6.5h0m0 7h0m0 .5h0m0 2h0m.5-28h0m0 2.5h0m0 3h0m0 3h0m0 3.5h0m.5 6h0m0 3.5h0m0 6.5h0m0 .5h0m0 .5h0m.5-4h0m0 4h0m0 .5h0m0 4h0m.5-17.5h0m0 1h0m0 2h0m0 3.5h0m0 7h0m0 3h0m.5-23h0m0 18.5h0m0 1h0m0 2h0m0 1.5h0m0 .5h0m0 3h0m0 1.5h0m.5-21h0m0 15.5h0m0 6h0m0 .5h0m.5-14h0m0 4.5h0m0 3.5h0m0 .5h0m0 .5h0m0 2h0m0 1.5h0m0 .5h0m0 1h0m0 3h0m0 1h0m.5-19h0m0 1.5h0m0 .5h0m0 4h0m0 .5h0m0 2.5h0m0 3.5h0m0 .5h0m0 2.5h0m0 .5h0m0 .5h0m0 1h0m0 .5h0m0 .5h0m0 .5h0m.5-14h0m0 .5h0m0 2h0m0 4h0m0 1h0m0 1h0m0 2h0m0 .5h0m0 1h0m0 .5h0m0 .5h0m0 .5h0m0 .5h0m.5-22.5h0m0 5h0m0 1h0m0 3h0m0 2.5h0m0 1.5h0m0 2.5h0m0 3.5h0m0 1.5h0m.5-5h0m.5-14h0m0 6h0m0 3.5h0m0 .5h0m0 .5h0m0 1.5h0m0 1h0m0 3.5h0m0 .5h0m0 .5h0m.5-13.5h0m0 3h0m0 7h0m0 3h0m0 2.5h0m.5-5h0m0 2.5h0m0 .5h0m0 1h0m0 .5h0m27-22.5h0m0 16h0m0 3.5h0m.5-10h0m0 4.5h0m0 1.5h0m0 3h0m0 1h0m0 1h0m.5-3h0m0 4.5h0m0 1.5h0m0 .5h0m.5-9h0m0 5.5h0m0 3h0m.5-11h0m0 3h0m0 5h0m0 3h0m.5-27.5h0m0 11h0m0 3.5h0m0 .5h0m0 3.5h0m0 2.5h0m0 1h0m0 .5h0m0 .5h0m0 1.5h0m0 3h0m0 3h0m.5-23h0m0 2.5h0m0 2.5h0m0 3.5h0m0 .5h0m0 1.5h0m0 1h0m0 1h0m0 1h0m0 .5h0m0 1.5h0m0 .5h0m0 .5h0m.5-13h0m0 3h0m0 7h0m0 .5h0m0 .5h0m0 .5h0m0 1h0m0 1.5h0m0 1h0m0 1h0m0 .5h0m0 1.5h0m.5-29h0m0 14.5h0m0 4h0m0 2h0m0 1.5h0m0 2.5h0m0 1.5h0m0 1h0m0 1h0m0 1h0m0 .5h0m.5-15.5h0m0 4.5h0m0 1.5h0m0 3h0m0 2h0m0 1h0m0 1h0m0 1h0m0 1.5h0m.5-23.5h0m0 10h0m0 4h0m0 .5h0m0 2.5h0m0 2.5h0m0 1.5h0m0 1h0m0 1h0m0 .5h0m0 .5h0m.5-21h0m0 .5h0m0 7h0m0 1.5h0m0 4.5h0m.5-14.5h0m.5 5.5h0m0 11h0m0 1h0m0 .5h0m0 .5h0m0 4h0m.5-15h0m0 1.5h0m0 .5h0m0 .5h0m0 1.5h0m0 4.5h0m0 2h0m0 1.5h0m0 .5h0m0 1.5h0m0 2h0m0 .5h0m.5-9.5h0m0 1.5h0m0 1.5h0m0 1.5h0m0 3h0m0 .5h0m0 1.5h0m0 5.5h0m.5-24h0m0 7.5h0m0 1h0m0 3h0m0 3h0m0 1.5h0m0 2.5h0m0 .5h0m0 1h0m0 .5h0m0 .5h0m0 .5h0m0 1h0m0 1.5h0m0 .5h0m.5-30.5h0m0 21h0m0 1.5h0m0 .5h0m0 2.5h0m.5-3h0m0 1h0m.5-14.5h0m0 5h0m0 8.5h0m0 .5h0m0 2h0m0 .5h0m0 3h0m0 1.5h0m0 .5h0m.5-7h0m0 3h0m0 .5h0m0 .5h0m0 .5h0m0 1h0m0 .5h0m0 .5h0m0 .5h0m0 .5h0m.5-13.5h0m0 7h0m0 .5h0m0 1h0m0 3.5h0m0 .5h0m0 2h0m.5-32.5h0m0 19.5h0m0 9.5h0m0 3.5h0m0 .5h0m.5-14h0m0 7h0m0 .5h0m0 .5h0m0 .5h0m0 4h0m.5-18.5h0m0 5h0m0 10h0m0 1.5h0m.5-16h0m0 2.5h0m0 2.5h0m0 5.5h0m0 1.5h0m0 .5h0m0 .5h0m0 1.5h0m0 1.5h0m0 .5h0m.5-29.5h0m0 7.5h0m0 1h0m0 9.5h0m0 2h0m0 2h0m0 .5h0m0 1.5h0m0 .5h0m0 .5h0m0 .5h0m0 .5h0m0 .5h0m0 .5h0m0 .5h0m.5-26h0m0 11.5h0m0 4.5h0m0 .5h0m0 1h0m0 .5h0m0 2h0m0 .5h0m0 4.5h0m0 .5h0m0 .5h0m0 2.5h0m.5-18.5h0m0 12.5h0m0 2.5h0m0 1.5h0m0 .5h0m0 .5h0m0 1h0m.5-25h0m0 14h0m0 2h0m0 2.5h0m0 .5h0m0 1h0m0 .5h0m0 3.5h0m0 1h0m.5-19.5h0m0 4.5h0m0 2.5h0m0 2h0m0 2.5h0m0 4.5h0m.5-14.5h0m0 8h0m0 1.5h0m0 6h0m0 .5h0m0 1.5h0m.5-31.5h0m0 24.5h0m0 7.5h0m0 4.5h0m.5-37.5h0m0 28.5h0m0 4h0m0 1h0m0 2h0m0 1h0m0 .5h0m.5-24h0m0 6h0m0 10h0m0 2.5h0m.5-7.5h0m0 2.5h0m0 4.5h0m0 1.5h0m0 3h0m.5-27.5h0m0 13h0m0 7.5h0m0 2h0m0 3.5h0m0 .5h0m0 1h0m0 .5h0m.5-11h0m0 2.5h0m0 2h0m0 4.5h0m0 2.5h0m.5-19h0m0 7h0m.5-12.5h0m0 5h0m0 6.5h0m0 1h0m0 4h0m0 2h0m0 1.5h0m0 2h0m0 .5h0m.5-33.5h0m0 19h0m0 .5h0m0 4h0m0 1.5h0m0 .5h0m0 3.5h0m0 .5h0m0 .5h0m0 .5h0m0 .5h0m0 .5h0m0 1h0m0 1h0m0 .5h0m.5-38h0m0 18h0m0 2h0m0 3.5h0m0 2h0m0 3h0m0 1.5h0m0 .5h0m0 2.5h0m0 2h0m0 1.5h0m0 1h0m.5-26h0m0 2h0m0 3h0m0 4.5h0m0 1.5h0m0 .5h0m0 1h0m0 1h0m0 .5h0m0 .5h0m0 .5h0m0 2h0m0 1.5h0m0 .5h0m.5-41h0m0 26h0m0 1h0m0 .5h0m0 3.5h0m0 .5h0m0 1.5h0m0 2.5h0m0 .5h0m0 1h0m0 1.5h0m0 1h0m0 1.5h0m0 2h0m0 1h0m0 .5h0m0 1.5h0m.5-34h0m0 24h0m0 .5h0m0 3h0m0 2h0m0 .5h0m0 .5h0m0 .5h0m0 .5h0m0 .5h0m0 .5h0m0 1h0m.5-16.5h0m0 3.5h0m0 2h0m0 1h0m0 .5h0m0 2.5h0m0 .5h0m0 1.5h0m0 1h0m0 .5h0m0 1h0m0 .5h0m0 1.5h0m0 .5h0m.5-21.5h0m0 8.5h0m0 4h0m0 1h0m0 3h0m0 1.5h0m.5-11h0m0 4h0m0 4.5h0m0 .5h0m0 .5h0m0 1h0m0 1h0m.5-24h0m0 5h0m0 .5h0m0 1.5h0m0 4h0m0 3.5h0m0 1.5h0m0 1h0m0 .5h0m0 .5h0m0 2h0m0 1.5h0m0 .5h0m0 .5h0m0 .5h0m0 .5h0m0 1h0m0 .5h0m.5-21.5h0m0 3h0m0 3.5h0m0 3.5h0m0 3.5h0m0 3h0m0 2h0m0 3h0m.5-26h0m0 7.5h0m0 4.5h0m0 4.5h0m0 1.5h0m.5-5h0m0 .5h0m0 3.5h0m0 1h0m0 3.5h0m0 2h0m0 2.5h0m0 .5h0m.5-34h0m0 17h0m0 5h0m0 .5h0m0 1.5h0m0 2.5h0m0 .5h0m0 1h0m0 3h0m0 .5h0m0 1h0m0 .5h0m0 .5h0m.5-21.5h0m0 1h0m0 4h0m0 9h0m0 2.5h0m0 .5h0m0 .5h0m0 .5h0m0 .5h0m0 1.5h0m.5-13h0m0 4.5h0m0 3h0m0 4h0m.5-22.5h0m0 1.5h0m0 3.5h0m0 5h0m0 5.5h0m0 1h0m0 2.5h0m0 3h0m0 .5h0m.5-13.5h0m0 3h0m0 3.5h0m0 .5h0m0 .5h0m0 4h0m0 1h0m0 1.5h0m0 .5h0m21-22h0m0 11.5h0m0 1h0m0 1h0m0 1.5h0m0 .5h0m0 2h0m0 1.5h0m0 2h0m0 .5h0m.5-18h0m0 6.5h0m0 5h0m0 2h0m0 1.5h0m0 1h0m0 .5h0m0 1.5h0m0 1h0m.5-16h0m0 10h0m0 .5h0m.5-11h0m0 7.5h0m.5 1.5h0m.5-13.5h0m0 8.5h0m0 7h0m0 2h0m0 .5h0m0 1h0m.5-4.5h0m0 1.5h0m0 .5h0m0 .5h0m0 .5h0m.5 1h0m0 1h0m0 5h0m.5-15h0m0 .5h0m0 1h0m0 10h0m0 .5h0m0 1.5h0m0 .5h0m.5-12.5h0m0 1h0m0 2h0m0 1h0m0 5h0m.5-16.5h0m0 1h0m0 1.5h0m0 .5h0m0 1.5h0m0 1h0m0 1h0m0 .5h0m0 3h0m0 2h0m0 .5h0m.5-18.5h0m0 4h0m0 7.5h0m0 1h0m0 .5h0m0 2h0m0 .5h0m0 2h0m0 1.5h0m.5-2h0m0 1.5h0m.5-8.5h0m0 1.5h0m0 1h0m0 1.5h0m0 .5h0m0 1.5h0m0 2h0m0 3h0m0 2.5h0m0 .5h0m0 1.5h0m.5-20h0m0 3h0m0 1h0m0 3h0m0 1h0m0 1h0m0 3.5h0m0 1h0m0 .5h0m0 1.5h0m0 2.5h0m0 1h0m0 .5h0m0 .5h0m.5-24.5h0m0 9.5h0m0 2.5h0m0 1h0m0 3h0m0 1.5h0m0 .5h0m0 .5h0m0 1h0m0 4h0m0 .5h0m.5-27.5h0m0 11.5h0m0 5.5h0m0 4h0m0 1.5h0m0 .5h0m0 .5h0m.5-11h0m0 3.5h0m0 5h0m0 1.5h0m0 1h0m0 .5h0m0 2.5h0m.5-37.5h0m0 14h0m0 5h0m0 6.5h0m0 2h0m0 1h0m0 1.5h0m0 1.5h0m0 .5h0m0 .5h0m0 1h0m0 1.5h0m0 .5h0m0 .5h0m0 .5h0m0 .5h0m0 .5h0m.5-24.5h0m0 6.5h0m0 1h0m0 8h0m0 .5h0m0 .5h0m0 2h0m0 .5h0m0 2.5h0m0 3h0m.5-23.5h0m0 2h0m0 13.5h0m0 1h0m0 .5h0m0 1h0m0 1.5h0m.5-14h0m0 4h0m0 6h0m0 .5h0m0 5h0m.5-21h0m0 13.5h0m0 .5h0m0 1h0m0 1.5h0m0 3.5h0m0 3h0m.5-12.5h0m0 2h0m0 1h0m0 3.5h0m0 1h0m0 2h0m0 6h0m.5-16.5h0m0 3h0m0 3h0m0 7.5h0m0 .5h0m0 1h0m0 1h0m0 1h0m.5-14h0m0 9h0m0 1.5h0m0 .5h0m0 3h0m.5-20h0m0 1h0m0 10h0m0 1.5h0m0 3.5h0m.5-30h0m0 20h0m0 8.5h0m0 3h0m.5-13.5h0m0 1h0m0 3h0m0 1.5h0m0 2.5h0m0 4h0m0 1.5h0m0 .5h0m.5-25.5h0m0 17h0m0 1h0m0 2.5h0m0 3h0m0 1.5h0m0 .5h0m0 1.5h0m.5-7.5h0m0 2.5h0m0 3.5h0m.5-11h0m0 4.5h0m0 3h0m0 2.5h0m0 1.5h0m0 .5h0m.5-12h0m0 .5h0m0 1h0m0 2.5h0m0 .5h0m0 1.5h0m0 .5h0m0 2.5h0m.5-20h0m0 1h0m0 8h0m0 8h0m0 2h0m0 1h0m.5-31h0m0 8.5h0m0 2h0m0 11.5h0m0 3.5h0m0 2h0m0 .5h0m0 .5h0m.5-14.5h0m0 .5h0m0 .5h0m0 1h0m0 5h0m0 .5h0m0 1h0m0 .5h0m0 1h0m0 4h0m0 .5h0m.5-32h0m0 8h0m0 1.5h0m0 4.5h0m0 1.5h0m0 .5h0m0 4.5h0m0 .5h0m0 .5h0m0 .5h0m0 .5h0m0 .5h0m0 .5h0m0 1h0m0 .5h0m0 .5h0m0 1h0m0 .5h0m0 1h0m.5-26.5h0m0 10h0m0 6.5h0m0 6h0m0 .5h0m0 1.5h0m0 1h0m0 1h0m.5-14h0m0 3h0m0 2h0m0 7h0m0 1.5h0m0 .5h0m0 1h0m.5-10h0m0 3h0m0 1h0m0 7h0m0 2.5h0m0 1.5h0m0 1.5h0m0 .5h0m.5-37h0m0 16.5h0m0 4h0m0 1h0m0 .5h0m0 .5h0m0 3h0m0 1h0m0 .5h0m0 .5h0m0 1.5h0m0 1.5h0m0 2h0m0 .5h0m0 1h0m0 .5h0m0 .5h0m0 .5h0m0 .5h0m0 .5h0m0 .5h0m.5-21.5h0m0 3h0m0 1h0m0 .5h0m0 1h0m0 1.5h0m0 1h0m0 .5h0m0 .5h0m0 .5h0m0 3h0m0 .5h0m0 1.5h0m0 2h0m0 2.5h0m0 .5h0m0 2h0m.5-31.5h0m0 1.5h0m0 1.5h0m0 1h0m0 5.5h0m0 2h0m0 1h0m0 2h0m0 .5h0m0 1.5h0m0 .5h0m0 1h0m0 1.5h0m0 .5h0m0 .5h0m.5-12h0m0 3h0m0 4.5h0m0 .5h0m0 .5h0m0 1h0m0 .5h0m0 2.5h0m0 1.5h0m0 .5h0m.5-20h0m0 .5h0m0 1.5h0m0 2h0m0 2.5h0m0 6h0m0 2h0m0 .5h0m0 .5h0m0 1h0m0 2.5h0m0 2.5h0m.5-23.5h0m0 1.5h0m0 2.5h0m0 4.5h0m0 2h0m0 4.5h0m0 3.5h0m0 3h0m0 2h0m.5-7h0m0 2h0m0 .5h0m.5-18h0m0 16h0m0 4h0m0 2.5h0m.5-21h0m0 12.5h0m0 1h0m0 2h0m0 2.5h0m0 1.5h0m0 3h0m0 .5h0m0 .5h0m0 1.5h0m.5-28.5h0m0 .5h0m0 3h0m0 1h0m0 6.5h0m0 4h0m0 1.5h0m0 2h0m0 1h0m0 .5h0m0 .5h0m0 .5h0m0 .5h0m0 1h0m0 .5h0m0 .5h0m0 .5h0m0 .5h0m0 .5h0m0 2.5h0m.5-30.5h0m0 7h0m0 1.5h0m0 1.5h0m0 4h0m0 2.5h0m0 1h0m0 1.5h0m0 .5h0m0 .5h0m0 1h0m0 1h0m0 1h0m0 .5h0m0 .5h0m0 1h0m0 .5h0m0 1h0m0 .5h0m0 .5h0m.5-22h0m0 5h0m0 3.5h0m0 .5h0m0 .5h0m0 1h0m0 1h0m0 4h0m0 1h0m0 1h0m0 .5h0m0 .5h0m0 2.5h0m0 .5h0m0 1h0m0 1h0m.5-15.5h0m0 9.5h0m0 1.5h0m0 2h0m0 1.5h0m0 1h0m0 1h0m.5-18.5h0m0 4.5h0m0 8h0m0 1.5h0m0 3h0m0 1h0m.5-17.5h0m0 3.5h0m0 2.5h0m0 5h0m0 3h0m.5-13.5h0m0 1.5h0m0 2h0m0 5h0m0 2.5h0m0 1h0m0 .5h0m.5-10h0m0 1h0m0 2h0m0 2.5h0m0 3h0m0 2h0m.5-38.5h0m0 25h0m0 7h0m0 1h0m0 1.5h0m0 .5h0m0 3h0m.5-5.5h0m0 3.5h0m.5-13.5h0m0 2.5h0m0 9h0m0 1h0m0 1h0m0 3.5h0m.5-2h0m0 1.5h0m.5-6h0m0 2.5h0m0 2h0m0 .5h0m0 .5h0m0 1h0m0 .5h0m0 .5h0m0 1h0m.5 0h0m27.5 5h0m.5-12h0m0 6.5h0m0 4.5h0m0 3h0m0 2h0m0 1h0m0 1h0m.5-20h0m0 4h0m0 3h0m0 4h0m0 2.5h0m0 .5h0m0 .5h0m0 .5h0m0 2h0m.5-17h0m0 .5h0m0 1h0m0 1.5h0m0 3h0m0 2.5h0m0 2.5h0m0 1h0m0 1h0m0 2h0m.5-13h0m0 3.5h0m0 .5h0m0 .5h0m0 .5h0m0 2.5h0m0 .5h0m0 2h0m0 .5h0m0 .5h0m0 2h0m0 .5h0m0 .5h0m0 .5h0m0 .5h0m.5-29h0m0 1h0m0 8.5h0m0 1h0m0 1h0m0 1h0m0 .5h0m0 1.5h0m0 1h0m0 2.5h0m0 .5h0m0 1h0m0 1h0m0 1h0m0 1h0m0 .5h0m0 .5h0m0 1h0m0 .5h0m0 .5h0m0 .5h0m0 .5h0m0 .5h0m0 .5h0m0 .5h0m0 1h0m.5-16.5h0m0 2h0m0 1.5h0m0 .5h0m0 .5h0m0 .5h0m0 2h0m0 1.5h0m0 1.5h0m0 .5h0m0 .5h0m0 .5h0m0 1h0m0 .5h0m0 .5h0m0 .5h0m0 .5h0m0 1h0m0 .5h0m0 .5h0m.5-20h0m0 7.5h0m0 9.5h0m0 1h0m.5-21h0m0 2.5h0m0 5h0m0 5h0m0 4h0m0 2h0m0 5.5h0m0 1.5h0m0 .5h0m.5-5h0m.5-9.5h0m0 3.5h0m0 8.5h0m0 2.5h0m0 2h0m0 1h0m.5-28.5h0m0 22.5h0m0 1h0m0 4.5h0m.5-35h0m0 8h0m0 8.5h0m0 11.5h0m0 2.5h0m0 2h0m0 .5h0m.5-26.5h0m0 13.5h0m0 3h0m0 1.5h0m0 .5h0m0 .5h0m0 .5h0m0 .5h0m0 .5h0m0 .5h0m0 .5h0m0 1h0m0 .5h0m0 .5h0m0 .5h0m0 1h0m0 1h0m.5-15.5h0m0 .5h0m0 1.5h0m0 2h0m0 3h0m0 .5h0m0 2h0m0 1h0m0 .5h0m0 1h0m0 1h0m0 .5h0m0 .5h0m0 1h0m.5-21.5h0m0 4h0m0 2h0m0 .5h0m0 5.5h0m0 1.5h0m0 .5h0m0 4h0m0 1h0m0 2h0m.5-16h0m0 1h0m0 5.5h0m0 2h0m0 3.5h0m0 2h0m0 1.5h0m0 3h0m0 1h0m0 .5h0m0 2.5h0m0 2h0m0 .5h0m.5-24h0m0 16h0m0 1.5h0m0 .5h0m0 1h0m0 .5h0m0 2h0m0 .5h0m0 1h0m0 1h0m.5-43.5h0m0 8.5h0m0 25h0m0 3.5h0m0 1.5h0m0 1h0m0 1h0m0 .5h0m0 .5h0m0 1h0m.5-36.5h0m0 22.5h0m0 6h0m0 .5h0m0 1h0m0 .5h0m0 1.5h0m0 .5h0m0 1h0m0 1.5h0m.5-25.5h0m0 12h0m0 7.5h0m0 1.5h0m0 1h0m0 2.5h0m0 .5h0m0 .5h0m0 1h0m.5-11h0m0 2h0m0 .5h0m0 6.5h0m0 1.5h0m0 .5h0m0 .5h0m0 .5h0m0 1h0m.5-14.5h0m0 11.5h0m0 1.5h0m0 2.5h0m.5-39h0m0 9h0m0 3h0m0 9h0m0 3h0m0 4.5h0m.5-11.5h0m0 6.5h0m0 .5h0m0 2.5h0m0 1.5h0m0 5h0m0 2h0m0 1h0m.5-15.5h0m0 1h0m0 2.5h0m0 2.5h0m0 2.5h0m0 .5h0m0 1.5h0m0 1h0m0 .5h0m0 .5h0m0 .5h0m0 .5h0m0 .5h0m0 1.5h0m0 .5h0m0 .5h0m0 .5h0m.5-11h0m0 5h0m0 1h0m0 1h0m0 .5h0m0 1.5h0m.5-16h0m0 5h0m0 2.5h0m0 .5h0m0 1.5h0m0 1h0m.5-22.5h0m0 5.5h0m0 12h0m0 .5h0m0 1h0m0 1.5h0m0 .5h0m0 .5h0m0 1h0m0 .5h0m0 .5h0m0 .5h0m0 1h0m0 .5h0m0 1.5h0m0 1h0m.5-37h0m0 16.5h0m0 .5h0m0 2.5h0m0 1.5h0m0 1.5h0m0 1.5h0m0 1.5h0m0 .5h0m0 .5h0m0 2.5h0m0 .5h0m0 .5h0m0 .5h0m0 .5h0m0 .5h0m0 .5h0m0 .5h0m0 2h0m0 .5h0m0 .5h0m0 .5h0m0 .5h0m0 .5h0m.5-23.5h0m0 5h0m0 1.5h0m0 1h0m0 1h0m0 2.5h0m0 2h0m0 4h0m0 .5h0m0 .5h0m0 4h0m0 .5h0m0 1h0m.5-23h0m0 1h0m0 3.5h0m0 8.5h0m0 3h0m0 1h0m0 .5h0m0 3h0m0 .5h0m0 1h0m0 .5h0m.5-23.5h0m0 3h0m0 3h0m0 5h0m0 1h0m0 1h0m0 1h0m0 1.5h0m0 2.5h0m0 1h0m0 1.5h0m0 2h0m0 1h0m.5-24h0m0 4.5h0m0 6h0m.5-4h0m0 1.5h0m0 1h0m0 .5h0m0 1h0m0 .5h0m0 .5h0m0 .5h0m0 3.5h0m0 .5h0m.5-12.5h0m0 .5h0m0 2h0m0 1h0m0 3h0m0 .5h0m.5-17h0m0 13h0m0 .5h0m0 1.5h0m0 1.5h0m0 .5h0m0 .5h0m0 1.5h0m.5-35h0m0 4.5h0m0 2.5h0m0 8.5h0m0 .5h0m0 1h0m0 3.5h0m0 8.5h0m0 3h0m0 1h0m.5-43.5h0m0 2.5h0m0 .5h0m0 3.5h0m0 1.5h0m0 .5h0m0 3h0m0 3.5h0m0 1h0m0 3h0m0 .5h0m0 .5h0m0 .5h0m0 1.5h0m0 1h0m0 .5h0m0 .5h0m0 1h0m0 .5h0m0 .5h0m0 8h0m0 5.5h0m0 3h0m0 4.5h0m.5-46.5h0m0 6h0m0 3.5h0m0 .5h0m0 1.5h0m0 1h0m0 6h0m0 2h0m0 1h0m0 .5h0m0 1h0m0 1.5h0m0 1h0m0 .5h0m0 10h0m0 1h0m0 6.5h0m0 .5h0m0 .5h0m0 2h0m.5-48h0m0 22.5h0m0 4h0m0 .5h0m0 .5h0m0 17h0m.5-18h0m0 8h0m0 9h0m0 1h0m0 1.5h0m.5-9.5h0m0 1.5h0m.5-8h0m0 10h0m0 3h0m0 .5h0m0 1h0m0 .5h0m.5-26h0m0 13h0m0 2.5h0m0 7.5h0m0 .5h0m0 1.5h0m0 1h0m.5-2h0m.5-12h0m0 5.5h0m0 .5h0m0 3.5h0m0 1h0m0 3h0m0 1h0m.5-6.5h0m0 8h0m.5-14h0m0 1h0m0 .5h0m0 8h0m0 4h0m.5-21.5h0m0 4h0m0 7.5h0m0 1h0m0 .5h0m0 .5h0m0 .5h0m0 1.5h0m0 1h0m0 3h0m0 .5h0m0 1h0m0 .5h0m0 .5h0m0 1h0m.5-15h0m0 1.5h0m0 4.5h0m0 .5h0m0 .5h0m0 .5h0m0 3h0m0 .5h0m0 .5h0m0 1h0m0 .5h0m.5-26h0m0 9h0m0 1h0m0 1.5h0m0 .5h0m0 5h0m0 3h0m0 1h0m0 .5h0m0 1h0m0 .5h0m0 .5h0m0 1.5h0m0 1h0m.5-16.5h0m0 2h0m0 1.5h0m0 2h0m0 .5h0m0 1.5h0m0 2h0m0 1h0m0 .5h0m0 1.5h0m0 1.5h0m0 .5h0m0 2h0m0 .5h0m0 .5h0m0 .5h0m.5-30.5h0m0 1.5h0m0 1h0m0 4h0m0 2h0m0 6.5h0m0 1h0m0 .5h0m0 1.5h0m0 .5h0m0 .5h0m0 1.5h0m0 1h0m0 1.5h0m0 1h0m0 1h0m0 .5h0m0 1h0m0 1h0m0 .5h0m0 .5h0m0 .5h0m0 .5h0m.5-25h0m0 .5h0m0 4h0m0 7h0m0 3.5h0m0 4h0m0 .5h0m0 2h0m0 .5h0m0 .5h0m0 2h0m0 .5h0"/>
<path fill="#CD8500" d="M81.4 303.2L81.4 262.4L81.9 262.4L82.4 262.9L82.9 263.1L83.4 264.3L83.9 264.5L84.4 265.8L84.9 266L85.4 267.4L85.9 267.5L86.4 268.1L86.9 269L87.4 266.5L87.9 267.4L88.4 270.7L88.9 271L89.4 267.3L89.9 267.5L90.4 272.8L90.9 273.1L91.4 268.3L91.9 268.5L92.4 273.6L92.9 273.9L93.4 274.5L93.9 274.7L94.4 273.6L94.9 273.9L95.4 268L95.9 267.9L96.4 269.3L96.9 269.2L97.4 273.3L97.9 273.2L98.4 267.7L98.9 267.6L99.4 272.2L99.9 272L100.4 275.5L100.9 275L101.4 264.7L101.9 264.2L102.4 266.4L102.9 265.8L103.4 269.8L103.9 269.3L104.4 264.2L104.9 264.2L105.4 263.7L105.9 263.7L106.4 270.9L106.9 270.9L107.4 264.8L107.7 264.8L107.7 303.2ZM132.8 303.2L132.8 258.3L133.3 258.5L133.8 260.5L134.3 260.9L134.8 259.8L135.3 260.2L135.8 258.9L136.3 259.3L136.8 258.1L137.3 258.8L137.8 259.7L138.3 260.7L138.8 258.3L139.3 259.3L139.8 266.8L140.3 267.3L140.8 266L141.3 266.1L141.8 269.2L142.3 269.3L142.8 264.8L143.3 264.9L143.8 265.7L144.3 265.8L144.8 265.8L145.3 265.9L145.8 264.1L146.3 264.2L146.8 269.2L147.3 269.2L147.8 267.5L148.3 267.5L148.8 260.7L149.3 260.7L149.8 269.8L150.3 269.8L150.8 268.5L151.3 268.5L151.8 260.7L152.3 260.6L152.8 268.4L153.3 268.2L153.8 270.9L154.3 270.7L154.8 265.9L155.3 265.8L155.8 266.4L156.3 265.7L156.8 266.7L157.3 265.6L157.8 264.1L158.3 263.8L158.8 259.5L159.3 259.7L159.8 262.4L160.3 262.6L160.8 259L161.3 259.2L161.4 259.2L161.4 303.2ZM184.5 303.2L184.5 265.8L185 265.9L185.5 266L186 266.1L186.5 260.4L187 260.6L187.5 270.7L188 270.9L188.5 264.1L189 264.3L189.5 268.8L190 268.9L190.5 264.2L191 264.1L191.5 262.7L192 262.6L192.5 266.9L193 266.7L193.5 267.7L194 267.6L194.5 261.3L195 261.2L195.5 265.5L196 265.3L196.5 254.1L197 254.1L197.5 266.3L198 266.3L198.5 259.7L199 259.7L199.5 262.6L200 262.6L200.5 266.9L201 266.8L201.5 266.3L202 266.1L202.5 259.9L203 259.7L203.5 261.3L204 261.1L204.5 263.3L205 263L205.5 260.5L206 260.2L206.5 255.8L207 254.4L207.5 263.3L208 261.4L208.5 256.8L209 254.9L209.5 252L210 252L210.5 251.2L211 253.1L211.5 254.5L212 256.5L212.4 257.7L212.4 303.2ZM236.5 303.2L236.5 272.1L237 272.2L237.5 268.3L238 268.4L238.5 270.6L239 270.8L239.5 270.6L240 270.8L240.5 269.1L241 269.3L241.5 271.7L242 272.2L242.5 268.9L243 269.4L243.5 269.6L244 270.1L244.5 270L245 270.6L245.5 273.8L246 274.3L246.5 274.5L247 275L247.5 276.7L248 277.2L248.5 276.1L249 277L249.5 280.9L250 281.9L250.5 276.8L251 277.7L251.5 287.2L252 287.7L252.5 286.8L253 287.3L253.5 280.1L254 280.6L254.5 284L255 282.2L255.5 280.2L256 278.4L256.5 276L257 273.5L257.5 270.5L258 268L258.5 266L259 266L259.5 266L260 266L260.5 266.1L261 266L261.5 266.4L262 266.3L262.5 269.4L262.5 303.2ZM289.7 303.2L289.7 265.5L290.2 265.6L290.7 265L291.2 265.2L291.7 267.6L292.2 267.8L292.7 268.9L293.2 268.5L293.7 267.5L294.2 266.3L294.7 257.2L295.2 256L295.7 258.4L296.2 257.5L296.7 258.2L297.2 257.7L297.7 246.3L298.2 246.3L298.7 257.8L299.2 257.3L299.7 255.6L300.2 254.9L300.7 257.9L301.2 257L301.7 253.7L302.2 252.8L302.7 252.8L303.2 252L303.7 246.8L304.2 246.4L304.7 252.7L305.2 252.3L305.7 251.2L306.2 251.6L306.7 248.7L307.2 250.5L307.7 249.3L308.2 251.5L308.7 260.5L309.2 263.4L309.7 266.4L310.2 268.1L310.7 270.6L311.2 270.3L311.7 264.8L312.2 264.5L312.7 265.6L313.2 264.2L313.7 257.2L314.2 253.8L314.7 258.1L315.2 260.9L315.7 260L316.2 261.9L316.7 263.3L317.2 263.8L317.7 259.4L317.7 303.2ZM336.8 303.2L336.8 266L337.3 265.8L337.8 266.6L338.3 266.1L338.8 263.8L339.3 263.3L339.8 258.7L340.3 257.9L340.8 262L341.3 260.9L341.8 258L342.3 258L342.8 260.3L343.3 261L343.8 262.8L344.3 263L344.8 253.5L345.3 253.5L345.8 263.4L346.3 263.2L346.8 258.7L347.3 258L347.8 257.4L348.3 256.3L348.8 253.5L349.3 253.5L349.8 253.5L350.3 253.9L350.8 258.9L351.3 259.5L351.8 262.6L352.3 262.8L352.8 254.4L353.3 254.6L353.8 262.1L354.3 261.7L354.8 259.6L355.3 258.9L355.8 260.5L356.3 260.7L356.8 259.7L357.3 260.5L357.8 261.6L358.3 262.5L358.6 262.8L358.6 303.2ZM383.7 303.2L383.7 263.1L384.2 262.8L384.7 264.5L385.2 264L385.7 264.6L386.2 264.1L386.7 261.6L387.2 261.6L387.7 262.1L388.2 262.9L388.7 264.2L389.2 264.9L389.7 267.4L390.2 268.2L390.7 270.7L391.2 271.6L391.7 270.7L392.2 271.7L392.7 272.8L393.2 273.8L393.7 266L394.2 267.2L394.7 276.1L395.2 277.2L395.7 282.1L396.2 283L396.7 282.1L397.2 282.5L397.7 281L398.2 281.4L398.7 276.3L399.2 275.8L399.7 277.7L400.2 275.9L400.7 279.9L401.2 278.3L401.7 271.6L402.2 270.2L402.7 269.3L403.2 267.8L403.7 268.3L404.2 267.3L404.7 264.7L405.2 264.3L405.7 261.2L406.2 260.8L406.7 260.6L407.2 260.6L407.7 262.8L408.2 262.6L408.7 265.1L409.2 264.9L409.7 267.4L410.2 267.2L410.5 267.1L410.5 303.2ZM438.6 303.2L438.6 260.7L439.1 260.9L439.6 269.4L440.1 269.7L440.6 266.9L441.1 267.3L441.6 266.1L442.1 266.4L442.6 264L443.1 264.4L443.6 271.8L444.1 272.8L444.6 276.7L445.1 277.7L445.6 276.6L446.1 277.4L446.6 272.5L447.1 272.9L447.6 275.7L448.1 276.1L448.6 273.9L449.1 274.2L449.6 275.8L450.1 275.8L450.6 276.3L451.1 274.9L451.6 270.4L452.1 268.9L452.6 267.1L453.1 265.5L453.6 267.3L454.1 265.7L454.6 267.2L455.1 265.8L455.6 258.8L456.1 258.8L456.6 258.8L457.1 258.8L457.6 261.8L458.1 262.4L458.6 258.8L459.1 258.8L459.2 258.8L459.2 303.2ZM490.4 303.2L490.4 251.9L490.9 251.2L491.4 260.2L491.9 259L492.4 252.2L492.9 251L493.4 251.8L493.9 251.5L494.4 255.1L494.9 254.8L495.4 255.2L495.9 257.3L496.4 258.6L496.9 260.8L497.4 260.8L497.9 262.5L498.4 268.2L498.9 269.9L499.4 267.1L499.9 268.7L500.4 268.1L500.9 268.7L501.4 270.1L501.9 270.7L502.4 273.9L502.9 274.5L503.4 275.3L503.9 275.9L504.4 275.8L504.9 275.3L505.4 275.2L505.9 274.7L506.4 270.7L506.9 270.2L507.4 273.7L507.9 271.6L508.4 262.4L508.9 260.3L509.4 260.7L509.9 259.2L510.4 258.4L510.9 257L511.4 258.6L511.9 259.1L512.4 260L512.9 260.5L513.4 256.9L513.9 257.4L514.4 259.6L514.9 260.7L515.4 263L515.9 264.1L516.4 259.2L516.9 259.5L517.4 267.7L517.9 268L518.2 268.2L518.2 303.2Z"/>
<path class="d" stroke="#CD8500" d="M81.5 246h0m0 1h0m0 3h0m0 2.5h0m0 2.5h0m0 .5h0m0 1h0m0 1h0m0 2h0m0 1.5h0m0 .5h0m0 .5h0m0 .5h0m.5-21h0m0 14h0m0 2h0m0 .5h0m0 1h0m0 .5h0m0 .5h0m0 1.5h0m0 .5h0m0 1h0m0 .5h0m0 .5h0m.5-25.5h0m0 13.5h0m0 4.5h0m0 1h0m0 3.5h0m0 3h0m.5-6h0m0 1h0m0 .5h0m0 2.5h0m1 3h0m0 1h0m.5-43h0m0 13h0m0 11h0m0 6h0m0 9.5h0m0 1.5h0m0 1.5h0m0 1h0m.5-30h0m0 16h0m0 2.5h0m0 4.5h0m0 5h0m0 4h0m.5-12h0m0 3.5h0m0 4h0m0 4h0m.5-10.5h0m0 3.5h0m0 .5h0m0 3.5h0m0 1.5h0m0 .5h0m0 .5h0m.5-13.5h0m0 2h0m0 10h0m0 1.5h0m0 1.5h0m.5-21h0m0 2.5h0m0 1.5h0m0 1.5h0m0 2h0m0 1h0m0 2h0m0 1h0m0 .5h0m0 .5h0m0 1.5h0m0 .5h0m0 1h0m0 2h0m0 .5h0m0 1h0m0 1h0m0 .5h0m0 1h0m.5-36.5h0m0 1.5h0m0 8.5h0m0 2h0m0 5h0m0 1.5h0m0 2h0m0 1h0m0 .5h0m0 2.5h0m0 .5h0m0 .5h0m0 .5h0m0 .5h0m0 .5h0m0 1.5h0m0 1h0m0 2h0m0 .5h0m0 .5h0m0 .5h0m0 .5h0m0 .5h0m0 .5h0m0 .5h0m.5-22h0m0 1.5h0m0 .5h0m0 5.5h0m0 1.5h0m0 .5h0m0 1h0m0 1h0m0 1.5h0m0 .5h0m0 .5h0m0 .5h0m0 .5h0m0 .5h0m0 1h0m0 1h0m0 .5h0m0 .5h0m0 1.5h0m0 .5h0m0 3.5h0m0 2h0m.5-16.5h0m0 .5h0m0 3h0m0 1h0m0 2.5h0m0 2.5h0m0 .5h0m0 .5h0m0 .5h0m0 .5h0m0 1h0m0 .5h0m0 .5h0m0 1.5h0m0 .5h0m0 .5h0m.5-12h0m0 3h0m0 .5h0m0 1.5h0m0 .5h0m0 .5h0m0 1h0m0 1h0m0 1h0m0 1.5h0m0 1h0m0 .5h0m.5-22h0m0 3h0m0 3h0m0 2.5h0m0 1h0m0 .5h0m0 2.5h0m0 .5h0m0 3h0m0 .5h0m0 .5h0m0 2h0m.5-11.5h0m0 4h0m0 1.5h0m0 2h0m0 .5h0m0 .5h0m0 1.5h0m0 1h0m0 1h0m0 .5h0m0 1h0m0 .5h0m.5-17h0m0 2.5h0m0 2.5h0m0 3h0m0 1h0m0 .5h0m0 .5h0m0 .5h0m0 2.5h0m0 2h0m0 .5h0m0 .5h0m0 .5h0m0 1.5h0m0 1.5h0m0 .5h0m.5-10h0m0 5.5h0m.5-10h0m0 1h0m0 3h0m0 1h0m0 2h0m0 1h0m0 1h0m.5-20h0m0 11h0m0 4h0m0 3h0m0 1.5h0m0 1.5h0m0 1h0m.5-4.5h0m0 4.5h0m0 3h0m.5-17h0m0 8.5h0m0 1h0m0 1h0m0 2.5h0m0 .5h0m0 1h0m0 4h0m0 .5h0m0 .5h0m.5-20.5h0m0 1.5h0m0 4.5h0m0 1h0m0 1h0m0 .5h0m0 1h0m0 4h0m0 1.5h0m0 2.5h0m0 .5h0m0 1h0m0 .5h0m.5-22.5h0m0 3h0m0 2h0m0 8.5h0m0 3h0m0 .5h0m0 3.5h0m0 .5h0m0 1h0m0 .5h0m.5-29h0m0 9h0m0 6.5h0m0 6.5h0m0 1h0m0 1.5h0m0 .5h0m0 1h0m0 3h0m.5-8.5h0m0 .5h0m0 2h0m0 4.5h0m0 1h0m.5-26.5h0m0 6.5h0m0 .5h0m0 5.5h0m0 4h0m0 3h0m0 .5h0m.5-15.5h0m0 4h0m0 5.5h0m0 2h0m0 4.5h0m0 .5h0m0 .5h0m0 .5h0m.5-7.5h0m0 .5h0m0 5.5h0m0 1.5h0m.5-21.5h0m0 6h0m0 10.5h0m0 2.5h0m0 3.5h0m0 .5h0m0 3.5h0m.5-17h0m0 9.5h0m0 1h0m0 4h0m.5-13h0m0 7.5h0m0 1.5h0m0 2.5h0m0 3.5h0m.5-28h0m0 5.5h0m0 .5h0m0 4.5h0m0 1.5h0m0 2h0m0 .5h0m0 .5h0m0 .5h0m0 .5h0m0 1.5h0m0 .5h0m0 1h0m0 1h0m0 .5h0m0 .5h0m0 1h0m.5-19h0m0 8h0m0 7h0m0 .5h0m0 .5h0m0 .5h0m0 1.5h0m0 .5h0m0 .5h0m0 4h0m0 1h0m.5-4h0m0 1.5h0m0 .5h0m0 1h0m.5-22.5h0m0 15h0m0 2h0m0 3h0m0 2.5h0m0 3h0m.5-26h0m0 17h0m0 2.5h0m0 .5h0m0 2h0m0 2.5h0m0 3h0m.5-30h0m0 6h0m0 2.5h0m0 1h0m0 .5h0m0 6h0m0 1.5h0m0 4.5h0m0 .5h0m0 3h0m0 4h0m.5-23.5h0m0 2h0m0 .5h0m0 5h0m0 1h0m0 .5h0m0 1.5h0m0 2h0m0 .5h0m.5-10h0m0 .5h0m0 2.5h0m0 3h0m0 1.5h0m0 .5h0m0 1h0m.5-25.5h0m0 16h0m0 6h0m.5-15h0m0 8.5h0m0 12.5h0m0 1.5h0m0 1.5h0m.5-8.5h0m.5-14.5h0m0 12.5h0m0 7.5h0m.5-14h0m0 2h0m0 5.5h0m0 1h0m0 2h0m0 .5h0m.5-9h0m0 1h0m0 4.5h0m0 1h0m0 2.5h0m0 1h0m.5-20h0m0 16h0m0 2.5h0m.5-.5h0m0 1.5h0m.5-39.5h0m0 2.5h0m0 5h0m0 1.5h0m0 .5h0m0 2h0m0 2h0m0 1h0m0 .5h0m0 .5h0m0 3h0m0 3.5h0m0 1.5h0m0 5.5h0m0 16h0m.5-49.5h0m0 .5h0m0 1.5h0m0 2h0m0 3h0m0 1.5h0m0 4h0m0 5.5h0m0 1.5h0m0 2.5h0m0 .5h0m0 1h0m0 .5h0m0 1.5h0m0 2h0m0 .5h0m0 .5h0m0 .5h0m0 11.5h0m0 6.5h0m0 1h0m0 1.5h0m.5-50h0m0 1h0m0 1.5h0m0 .5h0m0 2h0m0 1.5h0m0 1.5h0m0 1.5h0m0 .5h0m0 4.5h0m0 1.5h0m0 2h0m0 .5h0m0 1h0m0 1.5h0m0 1.5h0m0 .5h0m0 2.5h0m0 2.5h0m0 .5h0m0 .5h0m0 2.5h0m25.5-12.5h0m0 8.5h0m0 2h0m0 3.5h0m0 4h0m0 .5h0m.5-27.5h0m0 11.5h0m0 2h0m0 2h0m0 5h0m0 1.5h0m0 1h0m0 5h0m0 1h0m0 .5h0m.5-23.5h0m0 7.5h0m0 3h0m0 13.5h0m0 .5h0m0 1h0m.5-16h0m0 .5h0m0 2.5h0m0 12h0m0 1.5h0m.5-27.5h0m0 10.5h0m0 5h0m0 2h0m0 .5h0m0 1.5h0m0 .5h0m0 2h0m0 .5h0m0 .5h0m0 .5h0m0 2h0m0 .5h0m.5-23.5h0m0 10.5h0m0 2.5h0m0 .5h0m0 .5h0m0 3.5h0m0 .5h0m0 .5h0m0 .5h0m0 .5h0m0 2h0m0 .5h0m0 1h0m0 1.5h0m.5-29h0m0 13.5h0m0 6h0m0 5h0m0 .5h0m0 3h0m.5-11h0m0 8.5h0m.5-24h0m0 4.5h0m0 2.5h0m0 6h0m0 .5h0m0 .5h0m0 1.5h0m0 2h0m0 .5h0m0 2.5h0m0 .5h0m0 .5h0m0 .5h0m0 .5h0m0 .5h0m0 1h0m0 .5h0m0 .5h0m0 .5h0m0 .5h0m.5-28h0m0 9h0m0 2.5h0m0 1h0m0 2h0m0 1.5h0m0 .5h0m0 .5h0m0 .5h0m0 2h0m0 1h0m0 .5h0m0 .5h0m0 1h0m0 .5h0m0 .5h0m0 .5h0m0 .5h0m0 .5h0m0 1h0m0 .5h0m0 1h0m0 .5h0m.5-25.5h0m0 9.5h0m0 1.5h0m0 1.5h0m0 .5h0m0 1h0m0 1.5h0m0 3h0m0 2h0m0 .5h0m0 1.5h0m0 .5h0m0 1.5h0m0 .5h0m0 .5h0m.5-12h0m0 6.5h0m0 7h0m.5-22.5h0m0 10h0m0 10.5h0m.5-12h0m0 5h0m0 1.5h0m0 2.5h0m.5-18h0m0 2h0m0 4.5h0m0 2h0m0 6h0m0 .5h0m0 1.5h0m0 3.5h0m0 .5h0m0 .5h0m0 .5h0m0 1h0m0 1h0m0 2.5h0m0 .5h0m0 .5h0m0 1h0m0 .5h0m0 .5h0m0 .5h0m.5-31.5h0m0 2.5h0m0 4h0m0 1h0m0 2.5h0m0 2.5h0m0 2.5h0m0 .5h0m0 3.5h0m0 1.5h0m0 .5h0m0 2h0m0 .5h0m0 .5h0m0 .5h0m0 .5h0m0 1h0m0 .5h0m0 .5h0m0 1h0m0 .5h0m0 .5h0m0 .5h0m0 .5h0m0 .5h0m0 1h0m.5-20h0m0 1.5h0m0 8h0m0 1.5h0m0 1h0m0 2.5h0m0 1h0m0 .5h0m0 1h0m0 1h0m0 .5h0m0 .5h0m0 1h0m.5-21.5h0m0 20h0m.5-3h0m0 3h0m0 3h0m.5-8h0m0 8.5h0m.5-20h0m0 15h0m0 4.5h0m0 1h0m.5-20h0m0 1h0m0 1h0m0 4h0m0 2.5h0m0 3.5h0m0 2h0m0 .5h0m0 .5h0m.5-14h0m0 2h0m0 3h0m0 .5h0m0 1h0m0 1h0m0 .5h0m0 .5h0m0 1.5h0m0 1h0m0 .5h0m0 1h0m0 1.5h0m0 .5h0m0 1h0m.5-25.5h0m0 3h0m0 1.5h0m0 4.5h0m0 .5h0m0 1.5h0m0 2.5h0m0 .5h0m0 .5h0m0 .5h0m0 .5h0m0 1h0m0 1.5h0m0 .5h0m0 1h0m0 .5h0m0 .5h0m0 .5h0m0 .5h0m0 .5h0m0 .5h0m0 .5h0m0 .5h0m0 .5h0m0 .5h0m0 .5h0m0 .5h0m.5-25.5h0m0 5.5h0m0 1h0m0 1h0m0 4h0m0 1h0m0 4.5h0m0 1.5h0m0 2h0m0 .5h0m0 1h0m0 1h0m0 .5h0m0 .5h0m0 .5h0m0 1h0m.5-20.5h0m0 3h0m0 2h0m0 2h0m0 .5h0m0 .5h0m0 .5h0m0 2.5h0m0 1.5h0m0 2.5h0m0 .5h0m0 1.5h0m0 .5h0m0 1h0m0 1.5h0m.5-19.5h0m0 2h0m0 4h0m0 2h0m0 3.5h0m0 2h0m0 1.5h0m0 1.5h0m0 .5h0m0 .5h0m0 .5h0m0 .5h0m.5-18h0m0 9.5h0m0 2h0m0 3h0m0 .5h0m0 1h0m0 .5h0m0 1h0m.5-9.5h0m0 4h0m0 4h0m0 1.5h0m0 4h0m0 .5h0m.5-24h0m0 7h0m0 5.5h0m0 .5h0m0 1.5h0m0 .5h0m0 1h0m0 .5h0m0 1h0m0 1h0m0 1.5h0m0 1.5h0m0 1h0m0 .5h0m0 .5h0m.5-25h0m0 14.5h0m0 4h0m0 2h0m0 4.5h0m.5-25.5h0m0 17.5h0m0 1.5h0m0 2h0m0 1.5h0m.5-10h0m0 1h0m0 6h0m.5-20h0m0 5.5h0m0 4h0m0 3.5h0m0 1h0m0 2.5h0m0 .5h0m.5-17.5h0m0 4h0m0 .5h0m0 5.5h0m0 3.5h0m0 1h0m0 2.5h0m0 .5h0m0 3h0m0 1.5h0m0 1.5h0m0 1h0m0 .5h0m0 .5h0m0 .5h0m0 .5h0m0 .5h0m0 .5h0m.5-26.5h0m0 9.5h0m0 7.5h0m0 2.5h0m0 1h0m0 .5h0m0 .5h0m0 .5h0m0 .5h0m0 1.5h0m0 1h0m.5-14h0m0 .5h0m0 4h0m0 2h0m0 1.5h0m0 3.5h0m0 .5h0m0 1h0m0 1.5h0m0 1.5h0m.5-13h0m0 6h0m0 1.5h0m0 2.5h0m0 1h0m0 .5h0m0 .5h0m.5-24.5h0m0 3.5h0m0 7h0m0 1h0m0 10h0m0 1.5h0m.5-41.5h0m0 1.5h0m0 26.5h0m0 2.5h0m0 1.5h0m0 .5h0m0 .5h0m.5-17h0m0 10.5h0m0 2h0m0 3h0m0 .5h0m0 5h0m0 4h0m0 1h0m.5-19h0m0 5h0m0 4.5h0m0 2h0m0 4.5h0m0 1.5h0m0 1h0m0 .5h0m0 .5h0m.5-15h0m0 8.5h0m0 2.5h0m0 2.5h0m0 1h0m0 .5h0m0 1h0m.5-6h0m0 .5h0m0 6.5h0m.5-12.5h0m0 8h0m0 4.5h0m.5-27h0m0 18h0m.5-17h0m0 5h0m0 5.5h0m0 6h0m0 1h0m0 .5h0m0 1.5h0m0 .5h0m0 1h0m.5-30.5h0m0 10h0m0 4.5h0m0 1h0m0 1h0m0 1.5h0m0 3.5h0m0 1h0m0 1h0m0 2.5h0m0 .5h0m0 1.5h0m0 .5h0m0 1.5h0m0 .5h0m.5-36h0m0 9.5h0m0 9h0m0 2h0m0 4h0m0 1.5h0m0 1.5h0m0 .5h0m0 1.5h0m0 .5h0m0 1h0m0 1h0m0 1h0m0 1h0m0 1h0m0 .5h0m0 .5h0m.5-14.5h0m0 1h0m0 5.5h0m0 1h0m0 1.5h0m0 .5h0m0 1h0m0 .5h0m0 1.5h0m0 .5h0m0 1.5h0m.5-23h0m0 5.5h0m0 11h0m0 3h0m0 1h0m0 1h0m0 1h0m.5-1.5h0m.5-7h0m0 3.5h0m.5-10.5h0m0 1h0m0 5h0m0 4h0m.5-21.5h0m0 1.5h0m0 5.5h0m0 5h0m0 1h0m0 1.5h0m0 4h0m0 1h0m0 2h0m0 2.5h0m0 .5h0m.5-23h0m0 11.5h0m0 2.5h0m0 4.5h0m0 1h0m0 1h0m0 1.5h0m0 .5h0m0 .5h0m0 .5h0m.5-12h0m0 1.5h0m0 2.5h0m0 1.5h0m0 1h0m0 .5h0m0 .5h0m0 .5h0m0 .5h0m0 .5h0m0 .5h0m.5-13.5h0m0 10.5h0m0 2h0m23-15h0m0 14h0m0 .5h0m0 2h0m0 2h0m0 .5h0m0 1.5h0m0 .5h0m.5-22h0m0 13h0m0 2.5h0m0 1.5h0m0 .5h0m0 1.5h0m0 .5h0m0 1h0m0 1h0m0 .5h0m0 .5h0m.5-14.5h0m0 2.5h0m0 .5h0m0 3.5h0m0 8h0m.5-28.5h0m0 4.5h0m0 1.5h0m0 3.5h0m0 2.5h0m0 1h0m0 3.5h0m0 3.5h0m0 2.5h0m0 .5h0m0 1h0m0 2.5h0m0 1h0m0 .5h0m.5-21h0m0 2.5h0m0 2h0m0 1.5h0m0 1h0m0 .5h0m0 2h0m0 3.5h0m0 2.5h0m0 .5h0m.5-13h0m0 1.5h0m0 2.5h0m0 2h0m0 1.5h0m0 2h0m0 .5h0m0 .5h0m0 1h0m0 .5h0m0 1h0m0 4h0m0 1h0m0 .5h0m0 1.5h0m0 1.5h0m0 1h0m0 .5h0m0 .5h0m.5-31h0m0 9.5h0m0 8.5h0m0 5h0m0 1.5h0m0 .5h0m0 .5h0m0 .5h0m0 1.5h0m0 .5h0m0 1h0m0 .5h0m0 .5h0m0 .5h0m0 .5h0m.5-24.5h0m0 1.5h0m0 4.5h0m0 2.5h0m0 4.5h0m0 1.5h0m0 1h0m0 1.5h0m0 .5h0m0 1h0m0 1h0m0 1.5h0m0 .5h0m0 1h0m0 1h0m0 1h0m.5-27.5h0m0 12h0m0 .5h0m0 1h0m0 1.5h0m0 .5h0m0 4.5h0m0 .5h0m0 .5h0m.5-20.5h0m0 5h0m0 4.5h0m0 1.5h0m0 .5h0m0 2h0m0 .5h0m0 1.5h0m0 .5h0m0 .5h0m0 1h0m0 .5h0m0 .5h0m0 .5h0m0 .5h0m0 1h0m0 1h0m0 .5h0m0 .5h0m0 2.5h0m.5-24h0m0 9h0m0 4.5h0m0 2.5h0m0 1h0m0 1h0m0 .5h0m0 1h0m0 .5h0m0 2h0m0 1h0m0 .5h0m0 .5h0m.5-19h0m0 1.5h0m0 4h0m0 3.5h0m0 1.5h0m0 1h0m0 1.5h0m0 .5h0m0 .5h0m0 1h0m0 1h0m.5-18h0m0 1.5h0m0 1.5h0m0 1h0m0 .5h0m0 1h0m0 1.5h0m0 2h0m0 .5h0m0 3h0m0 .5h0m0 .5h0m0 .5h0m0 1.5h0m0 1h0m.5-14h0m0 6h0m0 2h0m0 .5h0m0 .5h0m0 1h0m0 1.5h0m0 .5h0m0 .5h0m0 .5h0m.5-16h0m0 3.5h0m0 8h0m0 3h0m.5-19h0m0 5.5h0m0 4h0m0 3h0m0 5.5h0m0 .5h0m0 1.5h0m0 .5h0m0 1.5h0m0 1h0m.5-19.5h0m0 7.5h0m0 3.5h0m0 3.5h0m0 1.5h0m0 1.5h0m0 .5h0m0 .5h0m0 1.5h0m0 .5h0m.5-17h0m0 5h0m0 1.5h0m0 .5h0m0 1.5h0m0 2h0m0 .5h0m0 1h0m0 .5h0m0 .5h0m0 .5h0m0 .5h0m0 1h0m0 .5h0m0 .5h0m0 1h0m0 .5h0m0 .5h0m.5-20h0m0 6h0m0 2.5h0m0 1.5h0m0 4h0m0 .5h0m0 .5h0m0 .5h0m0 .5h0m0 1h0m0 1.5h0m0 1h0m0 .5h0m.5-26h0m0 10h0m0 2.5h0m0 1h0m0 1h0m0 4.5h0m0 1h0m0 2h0m0 2h0m0 1h0m0 .5h0m.5-26h0m0 2.5h0m0 4.5h0m0 .5h0m0 8h0m0 1h0m0 1.5h0m0 .5h0m0 .5h0m0 .5h0m0 .5h0m.5-24.5h0m0 5.5h0m0 .5h0m0 1h0m0 2.5h0m0 4h0m0 .5h0m0 8h0m0 .5h0m0 1h0m0 1h0m.5-20.5h0m0 14.5h0m0 1.5h0m0 1.5h0m0 1h0m0 5h0m0 1h0m.5-32.5h0m0 13.5h0m0 3h0m0 2h0m0 1h0m0 1h0m0 4h0m0 1.5h0m0 1h0m.5-30h0m0 15h0m0 1.5h0m0 1h0m0 1h0m0 .5h0m0 .5h0m0 .5h0m0 3h0m0 .5h0m.5-13.5h0m0 8h0m0 4h0m0 1h0m0 1h0m0 .5h0m0 5.5h0m.5-6.5h0m0 6h0m0 2h0m.5-2.5h0m0 .5h0m0 .5h0m.5-5.5h0m0 4h0m.5-8h0m0 .5h0m0 .5h0m0 .5h0m0 1h0m0 .5h0m0 8.5h0m0 1h0m.5-14.5h0m0 10h0m0 .5h0m0 .5h0m0 .5h0m0 .5h0m.5-5.5h0m0 1h0m0 2h0m0 1.5h0m0 .5h0m0 1.5h0m0 2h0m0 1h0m0 .5h0m0 1.5h0m.5-7.5h0m0 1.5h0m0 .5h0m0 1.5h0m0 .5h0m0 2h0m.5-20.5h0m0 4.5h0m0 .5h0m0 .5h0m0 2.5h0m0 1.5h0m0 2h0m0 5h0m0 .5h0m0 2h0m0 1h0m0 .5h0m0 1.5h0m.5-18h0m0 11h0m0 1h0m0 .5h0m0 3.5h0m0 .5h0m.5-10.5h0m0 7.5h0m0 4h0m.5-20.5h0m.5 4h0m0 .5h0m0 1h0m0 .5h0m0 3h0m0 .5h0m0 2h0m0 2h0m0 .5h0m0 1h0m0 .5h0m0 .5h0m0 .5h0m.5-21h0m0 3h0m0 1.5h0m0 1h0m0 2h0m0 1.5h0m0 1h0m0 .5h0m0 1h0m0 .5h0m0 1.5h0m0 .5h0m0 .5h0m0 2h0m0 1.5h0m0 .5h0m0 .5h0m0 .5h0m0 .5h0m0 .5h0m.5-20h0m0 3h0m0 2.5h0m0 1h0m0 1.5h0m0 2.5h0m0 1h0m0 1h0m0 .5h0m0 .5h0m0 1.5h0m0 1h0m0 .5h0m0 .5h0m0 1h0m0 1h0m0 1h0m.5-18h0m0 1.5h0m0 4h0m0 1.5h0m0 1h0m0 6h0m0 1.5h0m0 1.5h0m0 .5h0m0 1h0m0 .5h0m0 .5h0m.5-14h0m0 3.5h0m0 2.5h0m0 3h0m0 2h0m.5-21h0m0 13h0m0 1h0m0 2h0m0 1h0m0 1h0m0 .5h0m0 1.5h0m0 1h0m.5-26.5h0m0 12.5h0m0 6.5h0m0 .5h0m0 .5h0m0 3h0m0 .5h0m0 1h0m.5-16h0m0 5h0m0 5h0m.5-12h0m0 4h0m0 5h0m0 .5h0m0 2.5h0m0 3h0m0 6h0m0 .5h0m0 1.5h0m0 .5h0m.5-22h0m0 7h0m0 5.5h0m0 3h0m0 1h0m0 5h0m.5-33.5h0m0 7.5h0m0 15.5h0m0 1.5h0m0 7.5h0m0 .5h0m.5-54.5h0m0 3h0m0 .5h0m0 2h0m0 5.5h0m0 5h0m0 1h0m0 3h0m0 .5h0m0 1.5h0m0 3.5h0m0 .5h0m0 4.5h0m0 17.5h0m0 2h0m.5-48.5h0m0 .5h0m0 1h0m0 5h0m0 1.5h0m0 1h0m0 .5h0m0 2h0m0 1.5h0m0 .5h0m0 2h0m0 .5h0m0 .5h0m0 4.5h0m0 1h0m0 1h0m0 .5h0m0 6h0m0 2h0m0 .5h0m0 2.5h0m0 .5h0m0 1h0m0 2.5h0m0 5h0m0 2.5h0m0 1h0m.5-48.5h0m0 5.5h0m0 1.5h0m0 1h0m0 1h0m0 1h0m0 2h0m0 .5h0m0 2h0m0 2.5h0m0 1.5h0m0 .5h0m0 1h0m0 .5h0m0 1h0m0 .5h0m0 1h0m0 .5h0m0 .5h0m0 .5h0m0 .5h0m0 4h0m0 1.5h0m0 1.5h0m0 8.5h0m0 1.5h0m0 .5h0m0 1h0m0 1h0m.5-45.5h0m0 11h0m0 .5h0m0 1h0m0 .5h0m0 1.5h0m0 3.5h0m0 .5h0m0 1h0m0 1.5h0m0 .5h0m0 3h0m0 .5h0m0 .5h0m0 1h0m0 3.5h0m0 1.5h0m0 2h0m0 2h0m0 1h0m0 1h0m0 2h0m0 .5h0m0 2.5h0m0 1h0m0 .5h0m.5-20h0m0 3h0m0 1.5h0m0 5.5h0m0 6h0m0 3h0m0 .5h0m.5-11h0m0 1.5h0m0 4h0m0 .5h0m0 1h0m0 2.5h0m0 2h0m0 1h0m0 1h0m0 2h0m.5-24.5h0m0 15h0m0 1h0m0 3.5h0m0 .5h0m0 .5h0m0 .5h0m0 2h0m0 .5h0m0 .5h0m0 .5h0m.5-17h0m0 2h0m0 2h0m0 .5h0m0 3h0m0 1h0m0 1h0m0 1h0m0 2h0m0 2.5h0m0 .5h0m0 .5h0m0 2h0m0 .5h0m0 1h0m.5-10h0m0 .5h0m0 4.5h0m0 2.5h0m0 3h0m24-4h0m0 13.5h0m0 .5h0m0 .5h0m0 1h0m0 1.5h0m.5-24.5h0m0 9h0m0 5h0m0 6h0m0 1.5h0m0 2h0m0 1h0m0 .5h0m0 .5h0m.5-28.5h0m0 13h0m0 1.5h0m0 4.5h0m0 3.5h0m0 1.5h0m0 .5h0m0 1h0m.5-17h0m0 4h0m0 6h0m0 1h0m0 2.5h0m0 .5h0m0 1.5h0m0 .5h0m0 1h0m.5-21.5h0m0 12h0m0 4.5h0m0 .5h0m0 1h0m0 2.5h0m0 .5h0m0 1h0m0 .5h0m0 1h0m0 .5h0m.5-15.5h0m0 5h0m0 .5h0m0 5.5h0m0 .5h0m0 2h0m0 .5h0m0 .5h0m0 .5h0m0 .5h0m.5-14.5h0m0 5h0m0 3h0m0 1h0m0 .5h0m0 .5h0m0 1h0m0 1.5h0m0 1h0m0 .5h0m.5-27h0m0 3.5h0m0 4h0m0 2h0m0 1h0m0 .5h0m0 10.5h0m0 .5h0m0 .5h0m0 1h0m0 .5h0m0 .5h0m0 .5h0m0 .5h0m0 .5h0m0 1.5h0m.5-19.5h0m0 1.5h0m0 3h0m0 .5h0m0 1.5h0m0 1h0m0 .5h0m0 3h0m0 .5h0m0 .5h0m0 .5h0m0 .5h0m0 .5h0m0 1h0m0 .5h0m0 .5h0m0 .5h0m0 .5h0m0 .5h0m0 .5h0m0 .5h0m.5-16h0m0 3.5h0m0 2.5h0m0 2.5h0m0 1h0m0 .5h0m0 1h0m0 .5h0m0 .5h0m0 1h0m0 .5h0m0 .5h0m0 1h0m0 .5h0m0 2h0m0 1h0m.5-16.5h0m0 2h0m0 4h0m0 3h0m0 5.5h0m0 2h0m.5-29.5h0m0 3h0m0 5h0m0 2h0m0 .5h0m0 5h0m0 1h0m0 .5h0m0 .5h0m0 2.5h0m0 1h0m0 1h0m0 1h0m0 1.5h0m0 1h0m0 .5h0m0 .5h0m0 .5h0m0 2.5h0m.5-28.5h0m0 6.5h0m0 4h0m0 1.5h0m0 3h0m0 1h0m0 1h0m0 .5h0m0 .5h0m0 .5h0m0 .5h0m0 .5h0m0 .5h0m0 1h0m0 .5h0m0 .5h0m0 .5h0m0 .5h0m0 .5h0m0 .5h0m0 .5h0m0 .5h0m0 .5h0m.5-20.5h0m0 1h0m0 7.5h0m0 1h0m0 4.5h0m0 .5h0m0 .5h0m0 2h0m0 .5h0m0 .5h0m0 1h0m0 .5h0m0 .5h0m0 .5h0m0 .5h0m.5-4.5h0m0 .5h0m0 2h0m0 1.5h0m.5-18.5h0m0 5h0m0 6.5h0m0 1.5h0m0 1.5h0m0 5h0m.5-15.5h0m0 7.5h0m0 1.5h0m0 2h0m0 1h0m0 3h0m.5-6h0m0 1h0m0 2h0m0 2.5h0m0 .5h0m0 .5h0m0 1h0m0 1.5h0m0 1h0m.5-34h0m0 14.5h0m0 3h0m0 3.5h0m0 6h0m0 1.5h0m0 3h0m0 .5h0m0 2.5h0m.5-27h0m0 8h0m0 1.5h0m0 1h0m0 5h0m0 2h0m0 1.5h0m0 1h0m0 2.5h0m0 .5h0m0 2.5h0m0 1h0m.5-27.5h0m0 19h0m0 4.5h0m0 1h0m0 1h0m0 .5h0m0 1h0m0 .5h0m.5-17.5h0m0 18h0m0 1h0m0 1.5h0m0 .5h0m.5-20h0m0 1.5h0m0 10.5h0m0 2.5h0m0 .5h0m0 2h0m0 .5h0m0 1h0m0 1h0m.5-15.5h0m0 .5h0m0 1h0m0 4h0m0 2h0m0 1.5h0m0 3.5h0m0 1.5h0m0 1h0m0 .5h0m.5-8h0m0 2h0m0 5.5h0m.5-11h0m0 4.5h0m0 .5h0m0 6.5h0m0 4h0m.5-23.5h0m0 6h0m0 2.5h0m0 4h0m0 2.5h0m0 3h0m0 4h0m0 1h0m0 .5h0m.5-17.5h0m0 .5h0m0 5.5h0m0 1.5h0m0 1h0m0 3.5h0m0 1h0m0 .5h0m0 .5h0m0 2h0m.5-35h0m0 15.5h0m0 1.5h0m0 5h0m0 1h0m0 1.5h0m0 3h0m0 1h0m0 .5h0m0 1.5h0m0 .5h0m0 .5h0m0 .5h0m.5-8h0m0 4h0m0 5h0m0 .5h0m0 7h0m0 1h0m0 .5h0m0 1h0m.5-24h0m0 6.5h0m0 12h0m0 .5h0m0 2h0m0 .5h0m0 .5h0m0 .5h0m0 .5h0m0 .5h0m.5-13h0m0 5.5h0m0 .5h0m0 4h0m0 1h0m.5-4h0m.5-14h0m0 7h0m0 3.5h0m0 2h0m0 1h0m0 .5h0m.5-36.5h0m0 6.5h0m0 17.5h0m0 3h0m0 2h0m0 1h0m0 .5h0m0 .5h0m0 1.5h0m0 .5h0m0 2h0m.5-16.5h0m0 7.5h0m0 3.5h0m0 1h0m0 1h0m0 1.5h0m0 .5h0m0 .5h0m0 .5h0m0 .5h0m0 .5h0m0 .5h0m0 .5h0m0 1h0m0 .5h0m0 .5h0m0 .5h0m0 1h0m.5-21.5h0m0 2h0m0 2h0m0 1.5h0m0 .5h0m0 .5h0m0 .5h0m0 1.5h0m0 .5h0m0 4h0m0 .5h0m0 1.5h0m0 .5h0m0 1.5h0m0 2h0m0 .5h0m0 .5h0m0 1h0m0 .5h0m0 .5h0m.5-11h0m0 1.5h0m0 .5h0m0 2.5h0m0 1h0m0 .5h0m0 .5h0m0 .5h0m0 .5h0m0 .5h0m0 1.5h0m.5-12.5h0m0 1.5h0m0 2h0m0 1h0m0 .5h0m0 .5h0m0 .5h0m0 .5h0m0 2.5h0m0 .5h0m.5-21.5h0m0 11h0m0 2.5h0m0 3.5h0m0 .5h0m0 1h0m0 1h0m0 2.5h0m.5-14.5h0m0 3.5h0m0 4.5h0m0 1.5h0m0 .5h0m.5-20h0m0 .5h0m0 3h0m0 5h0m0 4h0m0 1h0m0 4h0m0 1h0m.5-33.5h0m0 10h0m0 6h0m0 .5h0m0 3h0m0 2h0m0 .5h0m0 1h0m0 .5h0m0 1h0m0 3h0m.5-22.5h0m0 9h0m0 3.5h0m0 1.5h0m0 2.5h0m0 1.5h0m0 .5h0m.5-27h0m0 6h0m0 11h0m0 11.5h0m.5-18.5h0m0 8.5h0m0 2h0m0 3h0m0 2h0m0 3h0m0 .5h0m.5-20h0m0 1h0m0 2h0m0 5h0m0 1h0m0 2.5h0m0 3h0m0 1h0m0 1h0m0 1h0m0 .5h0m0 .5h0m0 .5h0m.5-14.5h0m0 3h0m0 1h0m0 2.5h0m0 .5h0m0 .5h0m0 2h0m0 1.5h0m0 1h0m0 .5h0m0 .5h0m0 1h0m0 1h0m0 .5h0m.5-15h0m0 7.5h0m0 1h0m0 .5h0m0 .5h0m0 2.5h0m0 1h0m0 .5h0m.5-6h0m0 1h0m0 5.5h0m.5-19.5h0m0 7.5h0m0 1h0m0 5h0m0 4h0m0 1.5h0m0 .5h0m.5-21.5h0m0 15h0m0 3h0m0 2.5h0m28-11.5h0m0 1.5h0m0 .5h0m0 .5h0m0 .5h0m0 1h0m0 .5h0m0 1h0m0 2h0m0 .5h0m0 .5h0m0 1h0m0 1.5h0m0 1.5h0m.5-22h0m0 5h0m0 1.5h0m0 2.5h0m0 4h0m0 1h0m0 .5h0m0 2h0m0 .5h0m0 .5h0m0 1h0m0 .5h0m0 .5h0m0 1.5h0m.5-20.5h0m0 5h0m0 .5h0m0 .5h0m0 1h0m0 .5h0m0 2h0m0 2h0m0 1.5h0m0 .5h0m0 2.5h0m0 2h0m0 1h0m0 .5h0m0 1h0m0 .5h0m0 .5h0m.5-27h0m0 9h0m0 4.5h0m0 3h0m0 1.5h0m0 3h0m0 1h0m0 .5h0m0 .5h0m0 .5h0m0 .5h0m0 1h0m0 1h0m.5-17h0m0 7.5h0m0 8h0m0 .5h0m0 1.5h0m0 1h0m.5-15h0m0 15.5h0m.5-15h0m0 10h0m0 2.5h0m0 3h0m0 1h0m.5-20h0m0 11h0m0 1h0m0 2h0m0 1h0m0 1.5h0m0 .5h0m0 .5h0m0 .5h0m0 1h0m0 .5h0m0 .5h0m.5-24h0m0 .5h0m0 5h0m0 5h0m0 3h0m0 .5h0m0 3.5h0m0 1h0m0 .5h0m0 .5h0m0 .5h0m0 1h0m0 .5h0m0 .5h0m0 1h0m0 .5h0m0 1h0m.5-41.5h0m0 6h0m0 12.5h0m0 4h0m0 2h0m0 3.5h0m0 1.5h0m0 1h0m0 .5h0m0 .5h0m0 1.5h0m0 .5h0m0 1.5h0m0 1h0m0 1h0m0 .5h0m0 1h0m.5-39.5h0m0 3.5h0m0 1h0m0 4.5h0m0 5.5h0m0 2h0m0 .5h0m0 3.5h0m0 1h0m0 .5h0m0 1h0m0 .5h0m0 1h0m0 1h0m0 .5h0m0 .5h0m0 .5h0m0 .5h0m0 .5h0m0 .5h0m0 .5h0m0 .5h0m0 .5h0m0 .5h0m0 .5h0m0 1.5h0m0 1.5h0m0 .5h0m0 1h0m0 .5h0m0 1h0m0 1.5h0m0 .5h0m0 .5h0m0 .5h0m.5-38h0m0 6.5h0m0 1.5h0m0 .5h0m0 3h0m0 1h0m0 1.5h0m0 .5h0m0 1.5h0m0 .5h0m0 1.5h0m0 .5h0m0 .5h0m0 .5h0m0 .5h0m0 .5h0m0 1h0m0 .5h0m0 .5h0m0 .5h0m0 .5h0m0 .5h0m0 .5h0m0 .5h0m0 .5h0m0 .5h0m0 .5h0m0 .5h0m0 .5h0m.5-29.5h0m0 5h0m0 4h0m0 1.5h0m0 4.5h0m0 1.5h0m0 1.5h0m0 2h0m0 1h0m0 .5h0m0 1.5h0m0 .5h0m0 .5h0m0 1h0m0 .5h0m0 1h0m0 .5h0m0 .5h0m0 .5h0m0 .5h0m0 .5h0m0 .5h0m.5-20h0m0 4.5h0m0 1.5h0m0 9h0m0 2.5h0m.5-13.5h0m0 12h0m0 5.5h0m.5-9.5h0m0 9.5h0m.5-17h0m0 3h0m0 13.5h0m.5-21.5h0m.5-5h0m.5 17.5h0m0 2.5h0m0 .5h0m0 1h0m0 1h0m.5 0h0m0 2h0m0 1.5h0m.5-23h0m0 8.5h0m0 5.5h0m0 1.5h0m0 2h0m0 1h0m0 1h0m0 2h0m0 .5h0m.5-24h0m0 6.5h0m0 2.5h0m0 3h0m0 3h0m0 1.5h0m0 1h0m0 1h0m0 .5h0m0 .5h0m0 .5h0m0 .5h0m0 .5h0m0 1.5h0m0 .5h0m0 .5h0m0 1.5h0m0 .5h0m.5-35h0m0 4.5h0m0 3.5h0m0 5h0m0 1h0m0 2.5h0m0 1.5h0m0 1h0m0 5.5h0m0 1h0m0 1.5h0m0 .5h0m0 1h0m0 1h0m0 1.5h0m0 1h0m0 .5h0m0 .5h0m0 1h0m0 .5h0m0 .5h0m.5-34.5h0m0 14h0m0 9.5h0m0 2h0m0 .5h0m0 1h0m0 1.5h0m0 2h0m0 1h0m0 1h0m0 .5h0m0 .5h0m.5-15.5h0m0 3.5h0m0 3h0m0 5.5h0m.5-12h0m0 6.5h0m0 2h0m0 1.5h0m0 .5h0m0 .5h0m.5-22h0m0 15h0m0 7h0m.5-16.5h0m0 2h0m0 5.5h0m0 .5h0m0 2h0m.5-10h0m0 1h0m0 1.5h0m0 .5h0m0 1h0m0 .5h0m0 .5h0m0 1h0m0 1.5h0m.5-15h0m0 3h0m0 9h0m0 1h0m0 5h0m0 .5h0m0 4h0m.5-14h0m0 9.5h0m0 5h0m0 .5h0m0 .5h0m0 .5h0m0 1h0m.5-10.5h0m0 3h0m0 .5h0m0 4.5h0m0 .5h0m.5-7.5h0m0 6h0m0 2.5h0m0 1h0m.5-10.5h0m0 1.5h0m0 2.5h0m0 2.5h0m.5 0h0m0 .5h0m.5-8.5h0m0 7h0m0 2.5h0m0 .5h0m.5-15h0m0 7.5h0m0 4.5h0m0 2h0m0 .5h0m0 1.5h0m.5-15.5h0m0 2h0m0 2h0m0 1.5h0m0 1h0m0 .5h0m0 6h0m0 16h0m.5-8.5h0m0 5h0m0 1.5h0m.5-3h0m0 .5h0m0 7.5h0m.5-16h0m0 4.5h0m0 .5h0m0 .5h0m0 3h0m0 1h0m0 1h0m0 1.5h0m0 2h0m0 .5h0m0 .5h0m0 1.5h0m.5-14h0m0 3.5h0m0 .5h0m0 5h0m0 .5h0m0 1h0m0 1.5h0m0 1.5h0m0 2h0m.5-12h0m0 5h0m0 3h0m0 1.5h0m0 1.5h0m0 .5h0m0 1h0m.5-19h0m0 4.5h0m0 2.5h0m0 2.5h0m0 .5h0m0 1.5h0m0 4h0m.5-28.5h0m0 6.5h0m0 2h0m0 2.5h0m0 6h0m0 3h0m0 .5h0m0 1h0m0 1h0m0 1h0m0 .5h0m0 1h0m0 1h0m.5-29.5h0m0 4.5h0m0 5h0m0 1.5h0m0 .5h0m0 8h0m0 1.5h0m0 1.5h0m0 1h0m0 1.5h0m0 .5h0m0 1h0m.5-29h0m0 1.5h0m0 4.5h0m0 .5h0m0 2h0m0 1h0m0 .5h0m0 1h0m0 1h0m0 2h0m0 4.5h0m0 1h0m0 4.5h0m0 1.5h0m0 .5h0m0 3h0m.5-30h0m0 1.5h0m0 .5h0m0 .5h0m0 1h0m0 3.5h0m0 1h0m0 .5h0m0 2h0m0 .5h0m0 .5h0m0 5.5h0m0 2h0m0 1.5h0m0 5.5h0m0 1h0m0 3h0m0 1h0m.5-27h0m0 7h0m.5 12.5h0m.5-3h0m0 8h0m.5-23.5h0m0 14h0m0 .5h0m0 2h0m0 .5h0m0 1.5h0m0 .5h0m0 1.5h0m0 3h0m0 1.5h0m.5-19h0m0 6h0m0 4h0m0 1h0m0 1.5h0m0 .5h0m0 1.5h0m0 .5h0m0 .5h0m0 1h0m0 .5h0m0 1h0m0 1h0m0 .5h0m.5-16.5h0m0 3.5h0m0 .5h0m0 2.5h0m0 1.5h0m0 .5h0m0 2h0m0 1h0m0 .5h0m0 1.5h0m0 2.5h0m0 1h0m.5-12.5h0m0 3.5h0m0 4h0m0 4h0m0 2h0m19.5-3.5h0m0 2h0m0 2h0m0 1h0m0 1h0m.5-5h0m0 .5h0m0 3h0m.5-7h0m0 2h0m0 6.5h0m.5-3.5h0m.5-14h0m0 .5h0m0 1.5h0m0 2.5h0m0 3h0m0 .5h0m0 2h0m0 .5h0m0 1h0m0 1h0m0 .5h0m0 .5h0m0 1h0m.5-21.5h0m0 3h0m0 6h0m0 2.5h0m0 1h0m0 .5h0m0 .5h0m0 .5h0m0 .5h0m0 .5h0m0 1h0m0 .5h0m0 .5h0m0 1h0m0 .5h0m0 .5h0m0 1.5h0m0 .5h0m0 .5h0m0 .5h0m.5-25h0m0 14h0m0 3.5h0m0 .5h0m0 .5h0m0 1h0m0 1.5h0m0 .5h0m0 1h0m0 .5h0m0 .5h0m0 .5h0m0 .5h0m.5-32.5h0m0 4.5h0m0 2.5h0m0 4.5h0m0 6.5h0m0 1.5h0m0 4.5h0m.5-18.5h0m0 .5h0m0 1h0m0 .5h0m0 2.5h0m0 .5h0m0 .5h0m0 .5h0m0 .5h0m0 1.5h0m0 .5h0m0 1h0m0 1.5h0m0 .5h0m0 1.5h0m0 2h0m0 1h0m0 3h0m0 1h0m0 .5h0m0 .5h0m0 1h0m0 2h0m.5-30h0m0 1.5h0m0 3h0m0 .5h0m0 1h0m0 1h0m0 .5h0m0 .5h0m0 2.5h0m0 .5h0m0 5.5h0m0 4.5h0m0 3.5h0m0 .5h0m0 .5h0m0 2h0m0 .5h0m0 2.5h0m0 .5h0m.5-15h0m0 3.5h0m0 4h0m0 1h0m0 1h0m0 3.5h0m0 1.5h0m1-16.5h0m0 1h0m0 10h0m0 .5h0m0 1.5h0m0 1h0m0 .5h0m0 1h0m0 .5h0m0 .5h0m.5-24.5h0m0 9h0m0 .5h0m0 .5h0m0 3.5h0m0 .5h0m0 1h0m0 .5h0m0 1.5h0m0 .5h0m0 1.5h0m0 .5h0m0 1h0m0 .5h0m0 .5h0m0 1h0m0 .5h0m0 .5h0m0 .5h0m0 .5h0m0 1h0m.5-18h0m0 1.5h0m0 8.5h0m0 3.5h0m0 .5h0m0 2.5h0m0 1.5h0m.5-10.5h0m0 3.5h0m0 .5h0m0 .5h0m0 1.5h0m.5-16.5h0m0 3.5h0m0 .5h0m0 .5h0m0 1h0m0 2h0m0 .5h0m0 3h0m0 1h0m0 1h0m0 .5h0m0 5h0m0 3h0m0 .5h0m.5-26h0m0 7.5h0m0 2h0m0 .5h0m0 3.5h0m0 2h0m0 .5h0m.5-11.5h0m0 3.5h0m0 .5h0m0 1h0m0 1.5h0m0 9h0m0 5h0m.5-14h0m0 11.5h0m0 .5h0m0 1h0m0 2h0m.5-36h0m0 2h0m0 .5h0m0 3.5h0m0 8h0m0 2.5h0m0 1.5h0m0 3.5h0m0 1.5h0m0 1h0m0 .5h0m0 2h0m0 2.5h0m0 2h0m0 5.5h0m.5-38h0m0 4.5h0m0 .5h0m0 .5h0m0 .5h0m0 2h0m0 3.5h0m0 .5h0m0 .5h0m0 .5h0m0 1h0m0 1h0m0 1h0m0 9.5h0m0 2h0m0 1h0m0 .5h0m0 2.5h0m0 1h0m0 .5h0m.5-29.5h0m0 1h0m0 1h0m0 5h0m0 1h0m0 .5h0m0 1.5h0m0 .5h0m0 1h0m0 5.5h0m0 .5h0m0 .5h0m0 6h0m0 2.5h0m0 .5h0m0 .5h0m0 .5h0m0 1h0m.5-17h0m0 .5h0m0 4h0m0 3h0m0 .5h0m0 1h0m0 1.5h0m0 .5h0m0 .5h0m0 2h0m0 1h0m0 1h0m0 .5h0m.5-15.5h0m0 6h0m0 1.5h0m0 .5h0m0 .5h0m0 .5h0m0 .5h0m0 3.5h0m0 .5h0m.5-12h0m0 1h0m0 5h0m0 3h0m0 2h0m.5-3.5h0m0 2h0m0 1h0m.5-10.5h0m0 .5h0m0 2h0m0 1.5h0m0 4h0m0 3.5h0m.5-24.5h0m0 13.5h0m0 3.5h0m0 1h0m0 1h0m0 .5h0m0 .5h0m0 2h0m0 2h0m0 2h0m0 .5h0m0 1.5h0m0 1h0m.5-21.5h0m0 7.5h0m0 1h0m0 2h0m0 2h0m0 .5h0m0 4.5h0m0 .5h0m0 2h0m0 .5h0m0 .5h0m0 .5h0m0 .5h0m0 .5h0m.5-13.5h0m0 .5h0m0 7h0m0 1h0m0 1h0m0 3.5h0m0 .5h0m0 .5h0m0 2h0m.5-23h0m0 5h0m0 3h0m0 5.5h0m0 .5h0m0 1h0m0 8.5h0m.5-33.5h0m0 1.5h0m0 6h0m0 .5h0m0 1h0m0 4.5h0m0 7h0m0 .5h0m0 2h0m0 2h0m0 7.5h0m.5-29.5h0m0 1h0m0 4h0m0 1h0m0 1h0m0 1h0m0 1.5h0m0 .5h0m0 .5h0m0 .5h0m0 4.5h0m0 1.5h0m0 6h0m.5-20.5h0m0 8h0m0 .5h0m0 .5h0m0 1.5h0m0 9h0m0 1h0m0 1.5h0m0 5h0m.5-19.5h0m0 15h0m0 2h0m0 1.5h0m0 1.5h0m.5-15h0m0 3.5h0m0 2.5h0m0 .5h0m.5-13h0m0 6h0m0 4h0m0 .5h0m0 2.5h0m0 2.5h0m0 2.5h0m.5-10h0m0 1.5h0m0 1h0m0 4h0m1-5.5h0m0 3.5h0m0 5h0m0 3.5h0m.5-12h0m0 2h0m0 4h0m0 4h0m0 1.5h0m0 .5h0m.5-11.5h0m0 6.5h0m0 2.5h0m0 1h0m.5-16h0m0 1.5h0m0 10h0m0 .5h0m0 .5h0m0 .5h0m25.5-10.5h0m0 15.5h0m.5-23h0m0 1h0m0 5.5h0m0 10.5h0m0 .5h0m.5-11.5h0m0 7.5h0m0 4.5h0m.5-5.5h0m0 7.5h0m.5-17h0m0 19h0m0 2h0m.5-24h0m0 3.5h0m.5 6.5h0m0 .5h0m0 1.5h0m0 3h0m0 .5h0m0 1.5h0m0 3h0m0 .5h0m0 1h0m0 .5h0m0 .5h0m0 .5h0m0 2h0m.5-31.5h0m0 11h0m0 2h0m0 3h0m0 5h0m0 1h0m0 .5h0m0 .5h0m0 1h0m0 1.5h0m0 .5h0m0 1h0m0 .5h0m0 .5h0m0 1h0m0 .5h0m.5-15h0m0 .5h0m0 3h0m0 2h0m0 .5h0m0 5.5h0m0 .5h0m0 .5h0m0 .5h0m0 1.5h0m0 .5h0m0 .5h0m.5-9h0m0 4h0m0 .5h0m0 1.5h0m0 2h0m0 .5h0m0 1.5h0m.5-15h0m0 4.5h0m0 .5h0m0 2.5h0m0 4h0m0 .5h0m0 .5h0m0 .5h0m0 1.5h0m0 2.5h0m.5-17.5h0m0 6.5h0m0 2.5h0m0 .5h0m0 3.5h0m0 .5h0m0 .5h0m0 .5h0m0 .5h0m0 2h0m0 .5h0m.5-28h0m0 12h0m0 1h0m0 3h0m0 1.5h0m0 4h0m0 .5h0m0 .5h0m0 .5h0m0 2h0m0 .5h0m0 .5h0m0 .5h0m0 2h0m0 1h0m0 1.5h0m.5-8.5h0m0 .5h0m0 5.5h0m0 .5h0m0 .5h0m.5-11h0m0 1h0m0 2h0m0 2h0m0 .5h0m0 1.5h0m0 .5h0m0 .5h0m0 .5h0m0 1h0m0 .5h0m0 1.5h0m0 1h0m0 .5h0m0 1h0m0 .5h0m0 2h0m.5-26h0m0 .5h0m0 10h0m0 5h0m0 1h0m0 1h0m0 1.5h0m0 1h0m0 .5h0m0 .5h0m0 .5h0m0 .5h0m0 1.5h0m0 1h0m0 .5h0m0 1h0m.5-14.5h0m0 .5h0m0 1h0m0 3h0m0 1.5h0m0 1.5h0m0 .5h0m0 2.5h0m0 1h0m0 .5h0m0 1h0m0 .5h0m0 1h0m.5-9h0m0 2.5h0m0 4.5h0m0 .5h0m.5-24h0m0 5.5h0m0 4h0m0 3.5h0m0 .5h0m0 1h0m0 2h0m0 4h0m0 1h0m0 .5h0m0 1h0m0 1h0m0 .5h0m0 .5h0m0 1h0m0 .5h0m.5-29h0m0 16.5h0m0 3.5h0m0 4.5h0m0 1h0m0 1h0m0 .5h0m0 .5h0m0 1.5h0m0 .5h0m.5-27.5h0m0 .5h0m0 2.5h0m0 1h0m0 7.5h0m0 1.5h0m0 .5h0m0 .5h0m0 1.5h0m0 .5h0m0 2.5h0m0 1h0m0 1.5h0m0 .5h0m0 2.5h0m0 1.5h0m0 .5h0m0 .5h0m0 1.5h0m.5-21h0m0 1h0m0 5.5h0m0 1h0m0 1.5h0m0 1.5h0m0 1h0m0 .5h0m0 .5h0m0 2h0m0 .5h0m.5-16h0m0 1.5h0m0 2.5h0m0 4.5h0m0 1.5h0m0 2.5h0m0 .5h0m0 2h0m0 10.5h0m.5-7.5h0m0 .5h0m0 5h0m0 .5h0m0 1h0m0 .5h0m.5-11.5h0m0 1.5h0m0 2h0m0 .5h0m0 5.5h0m0 3.5h0m0 .5h0m0 .5h0m0 .5h0m0 2.5h0m.5-22.5h0m0 5h0m0 4h0m0 2.5h0m0 2.5h0m0 2h0m0 .5h0m0 .5h0m0 .5h0m0 2h0m0 .5h0m0 .5h0m0 1h0m.5-18.5h0m0 1.5h0m0 6h0m0 3h0m0 2h0m0 2.5h0m0 .5h0m0 .5h0m0 .5h0m0 1h0m0 .5h0m0 .5h0m.5-8.5h0m0 5h0m0 3.5h0m.5-5.5h0m0 2.5h0m0 1h0m0 2h0m.5-10.5h0m.5-10.5h0m0 1.5h0m0 10h0m0 2h0m.5-8h0m0 4h0m0 3.5h0m.5-23h0m0 3.5h0m0 1h0m0 2h0m0 2h0m0 .5h0m0 .5h0m0 2h0m0 1h0m0 2.5h0m0 3h0m0 .5h0m0 1.5h0m0 .5h0m0 1.5h0m0 .5h0m0 .5h0m0 .5h0m.5-17.5h0m0 1h0m0 3h0m0 5h0m0 .5h0m0 .5h0m0 .5h0m0 2h0m0 .5h0m0 .5h0m0 1h0m0 .5h0m0 .5h0m0 .5h0m0 .5h0m0 .5h0m.5-28.5h0m0 1.5h0m0 3.5h0m0 2h0m0 2h0m0 2h0m0 .5h0m0 2h0m0 4h0m0 1.5h0m0 1.5h0m0 .5h0m0 .5h0m0 .5h0m0 .5h0m0 .5h0m0 1h0m0 1h0m0 1h0m0 1h0m0 1h0m0 1h0m0 .5h0m0 1h0m0 .5h0m0 .5h0m.5-35.5h0m0 6h0m0 9h0m0 1h0m0 6.5h0m0 1h0m0 .5h0m0 .5h0m0 .5h0m0 3h0m0 1h0m0 .5h0m0 .5h0m0 .5h0m0 .5h0m0 .5h0m0 .5h0m0 .5h0m0 .5h0m0 .5h0m0 .5h0m0 .5h0m0 .5h0m0 .5h0m0 .5h0m.5-30h0m0 1.5h0m0 6h0m0 1.5h0m0 7.5h0m0 2h0m0 .5h0m0 1.5h0m0 .5h0m0 2h0m0 2.5h0m0 .5h0m0 .5h0m0 .5h0m0 .5h0m0 1h0m0 1h0m.5-29.5h0m0 4h0m0 3h0m0 2h0m0 .5h0m0 2h0m0 5h0m0 1.5h0m0 1h0m0 1h0m0 .5h0m0 1h0m.5-22.5h0m0 1.5h0m0 10.5h0m0 5.5h0m0 .5h0m0 .5h0m0 .5h0m0 .5h0m.5-19.5h0m0 4.5h0m0 7.5h0m0 .5h0m0 1h0m0 3h0m0 1.5h0m0 .5h0m0 .5h0m0 .5h0m.5-14.5h0m0 3.5h0m0 1.5h0m0 3.5h0m0 .5h0m0 2h0m0 3h0m.5-13h0m0 6h0m0 .5h0m0 2h0m0 1.5h0m0 .5h0m0 1.5h0m0 .5h0m0 1h0m0 1h0m.5-21h0m0 4.5h0m0 2.5h0m0 5.5h0m0 1.5h0m0 1.5h0m0 2.5h0m.5-14h0m0 4.5h0m.5 8.5h0m.5-16h0m0 11h0m0 1h0m0 .5h0m.5-24.5h0m0 5h0m0 10h0m0 3.5h0m0 .5h0m0 1.5h0m0 .5h0m0 .5h0m0 .5h0m0 .5h0m0 .5h0m0 .5h0m0 .5h0m0 1h0m0 .5h0m.5-23h0m0 11h0m0 .5h0m0 3.5h0m0 2h0m0 1h0m0 2h0m0 .5h0m0 .5h0m0 .5h0m0 .5h0m0 .5h0m.5-20.5h0m0 .5h0m0 2.5h0m0 5h0m0 1h0m0 .5h0m0 .5h0m0 .5h0m0 .5h0m0 1.5h0m0 .5h0m0 2.5h0m0 .5h0m0 .5h0m0 .5h0m0 .5h0m0 .5h0m0 1.5h0m0 .5h0m0 2h0m0 1h0m.5-21h0m0 2h0m0 1h0m0 1h0m0 1h0m0 5.5h0m0 1.5h0m0 1h0m0 .5h0m0 1.5h0m0 .5h0m0 .5h0m0 .5h0m0 .5h0m0 1h0m0 .5h0m0 .5h0m0 .5h0m0 .5h0m0 .5h0m0 .5h0m.5-19.5h0m0 2h0m0 6h0m0 .5h0m0 1h0m0 3h0m0 1h0m0 1h0m0 .5h0m0 .5h0m0 1h0m0 .5h0m0 .5h0m0 .5h0m0 .5h0m0 .5h0m.5-14.5h0m0 3h0m0 1.5h0m0 .5h0m0 2h0m0 1h0m0 2.5h0m0 3h0m0 .5h0m0 .5h0m0 2h0m0 .5h0m.5-25.5h0m0 7h0m0 1h0m0 1h0m0 3h0m0 1h0m0 6h0m0 1h0m0 2.5h0m0 2h0m0 .5h0m.5-17.5h0m0 2.5h0m0 9.5h0m0 1h0m28.5-19h0m0 8h0m0 2.5h0m0 .5h0m0 .5h0m0 .5h0m0 2.5h0m0 2h0m0 1h0m0 .5h0m0 1h0m0 .5h0m0 1h0m.5-16.5h0m0 4h0m0 1h0m0 4h0m0 .5h0m0 .5h0m0 1h0m0 1.5h0m0 .5h0m0 1h0m0 2h0m.5-22.5h0m0 10.5h0m0 1h0m0 1h0m0 1h0m0 3h0m0 .5h0m0 .5h0m0 1.5h0m0 .5h0m0 .5h0m0 .5h0m0 1h0m0 .5h0m0 .5h0m0 .5h0m0 .5h0m0 1h0m0 3.5h0m0 1h0m0 1.5h0m0 1.5h0m.5-29h0m0 3h0m0 16h0m0 1h0m0 5h0m0 1.5h0m0 1h0m0 .5h0m.5-17h0m0 5h0m0 2.5h0m0 .5h0m0 1.5h0m0 1.5h0m0 2.5h0m0 1.5h0m0 1h0m0 2h0m.5-24h0m0 2h0m0 3h0m0 4h0m0 .5h0m0 1.5h0m0 2h0m0 1h0m0 .5h0m0 1h0m0 1h0m0 .5h0m0 3h0m0 .5h0m0 1h0m.5-21.5h0m0 5h0m0 3.5h0m0 3.5h0m0 1.5h0m0 .5h0m0 1h0m0 1h0m0 .5h0m0 1h0m0 1h0m0 .5h0m.5-13.5h0m0 4h0m0 .5h0m0 1.5h0m0 .5h0m0 3h0m0 1h0m0 .5h0m0 1h0m0 1h0m0 1h0m0 .5h0m.5-19h0m0 3h0m0 .5h0m0 2.5h0m0 4h0m0 .5h0m0 .5h0m0 1h0m0 1.5h0m0 2.5h0m0 .5h0m0 1h0m0 1h0m.5-16.5h0m0 4h0m0 2h0m0 1h0m0 1.5h0m0 1h0m0 .5h0m0 4h0m0 1.5h0m0 .5h0m.5-10.5h0m0 1h0m0 4.5h0m0 1h0m0 2.5h0m0 2.5h0m0 5h0m0 1h0m0 1h0m.5-16h0m0 8.5h0m0 .5h0m0 1.5h0m0 1h0m0 2h0m0 .5h0m0 .5h0m0 1h0m0 .5h0m.5-6h0m0 .5h0m0 .5h0m0 3h0m0 .5h0m0 1.5h0m0 5h0m.5-21h0m0 13h0m0 4h0m0 2.5h0m0 .5h0m.5-24.5h0m0 17h0m0 3.5h0m0 2.5h0m0 1h0m0 1h0m.5-31h0m0 7.5h0m0 11.5h0m0 2h0m0 1h0m0 .5h0m0 1h0m0 .5h0m0 1.5h0m0 .5h0m0 2h0m0 .5h0m0 .5h0m0 .5h0m0 1.5h0m.5-22.5h0m0 10h0m0 5h0m0 .5h0m0 5h0m.5-14.5h0m0 3.5h0m0 6h0m0 2.5h0m.5-14h0m0 5.5h0m0 1.5h0m0 .5h0m0 2h0m0 2h0m0 1.5h0m0 2.5h0m0 .5h0m.5-16.5h0m0 9.5h0m0 .5h0m0 .5h0m0 2h0m0 1h0m0 .5h0m0 .5h0m0 1h0m0 1h0m0 1h0m.5-15.5h0m0 2.5h0m0 2h0m0 4h0m0 3.5h0m0 1h0m0 1h0m.5-17h0m0 7h0m0 5.5h0m0 1h0m0 1h0m0 1h0m.5-26.5h0m0 1.5h0m0 18h0m0 .5h0m0 1.5h0m0 .5h0m0 1h0m0 1h0m0 1h0m0 .5h0m0 .5h0m0 1h0m0 .5h0m.5-19.5h0m0 11h0m0 .5h0m0 1.5h0m0 3h0m0 .5h0m0 .5h0m0 1.5h0m0 1.5h0m.5-19.5h0m0 .5h0m0 5h0m0 1h0m0 1h0m0 .5h0m0 .5h0m0 2.5h0m0 2h0m0 .5h0m0 1.5h0m0 1h0m0 1h0m0 .5h0m0 1h0m.5-9.5h0m0 2h0m0 5.5h0m0 1h0m0 1h0m.5-34h0m0 7h0m0 1.5h0m0 2h0m0 1h0m0 6.5h0m0 1h0m0 .5h0m0 3h0m0 1h0m0 .5h0m0 .5h0m0 .5h0m0 1h0m0 .5h0m0 1.5h0m0 2.5h0m.5-20.5h0m0 8h0m0 2h0m0 1h0m0 1.5h0m0 .5h0m0 .5h0m0 .5h0m0 .5h0m0 1h0m0 1.5h0m0 .5h0m.5-22h0m0 7h0m0 1.5h0m0 1.5h0m0 .5h0m0 1h0m0 4h0m0 .5h0m0 .5h0m0 .5h0m0 .5h0m0 1.5h0m0 .5h0m0 2h0m.5-32.5h0m0 6h0m0 4h0m0 .5h0m0 9.5h0m0 .5h0m0 2h0m0 .5h0m0 2h0m0 .5h0m0 1h0m0 .5h0m0 1h0m0 .5h0m0 1h0m0 .5h0m.5-20.5h0m0 6.5h0m0 5.5h0m0 .5h0m0 1.5h0m0 1h0m0 .5h0m0 1h0m0 1.5h0m0 1h0m0 .5h0m.5-14h0m0 5h0m0 .5h0m0 4h0m0 1.5h0m0 1.5h0m.5-.5h0m0 1.5h0m.5-9h0m0 4h0m0 1h0m0 1h0m0 1h0m0 2.5h0m0 1h0m0 1.5h0m.5-25h0m0 2.5h0m0 4h0m0 1h0m0 1h0m0 1.5h0m0 1.5h0m0 .5h0m0 1h0m0 .5h0m0 1h0m0 3h0m0 .5h0m0 3.5h0m0 1h0m0 .5h0m0 .5h0m.5-20.5h0m0 .5h0m0 .5h0m0 4.5h0m0 2h0m0 1.5h0m0 .5h0m0 2h0m0 .5h0m0 .5h0m0 1.5h0m0 .5h0m0 .5h0m.5-16h0m0 8.5h0m0 1h0m0 1h0m0 .5h0m0 3h0m0 1h0m0 .5h0m0 .5h0m0 .5h0m.5-25h0m0 19.5h0m0 3h0m0 1h0m0 .5h0m.5-8.5h0m0 5.5h0m0 1.5h0m0 2h0m0 .5h0m0 1.5h0m0 1h0m0 .5h0m0 .5h0m.5-20.5h0m0 3h0m0 11.5h0m0 .5h0m0 1.5h0m0 .5h0m0 2h0m0 1h0m0 1h0m.5-13h0m0 2.5h0m0 1h0m0 2h0m0 1h0m0 2.5h0m0 2h0m0 1h0m31.5-27h0m0 6.5h0m0 .5h0m0 .5h0m0 1.5h0m0 1h0m0 .5h0m0 .5h0m0 1h0m0 1h0m0 1h0m0 1h0m0 1h0m.5-19h0m0 .5h0m0 2h0m0 7h0m0 1.5h0m0 4h0m0 1h0m0 .5h0m0 2.5h0m0 .5h0m0 8h0m.5-30h0m0 23h0m0 5.5h0m0 .5h0m0 .5h0m.5-30.5h0m0 9.5h0m0 7.5h0m0 5h0m0 .5h0m0 .5h0m0 6h0m0 .5h0m0 1.5h0m.5-28.5h0m0 2h0m0 2.5h0m0 7.5h0m0 2.5h0m0 1.5h0m0 2h0m0 2h0m0 .5h0m.5-2h0m.5-15.5h0m0 16.5h0m0 .5h0m.5-12h0m0 4.5h0m0 .5h0m0 2.5h0m0 2.5h0m0 .5h0m0 1.5h0m0 .5h0m0 1h0m0 .5h0m0 1.5h0m0 .5h0m.5-15h0m0 4.5h0m0 1.5h0m0 3.5h0m0 .5h0m0 1h0m0 1.5h0m0 1.5h0m0 .5h0m.5-15h0m0 6.5h0m0 1h0m0 3h0m0 .5h0m0 1h0m0 .5h0m0 .5h0m0 1.5h0m.5-8h0m0 8.5h0m.5-5.5h0m0 2.5h0m0 1h0m0 2h0m0 1h0m0 1.5h0m0 1h0m.5-11h0m0 .5h0m0 1.5h0m0 2h0m0 1h0m0 .5h0m0 .5h0m0 3h0m0 2h0m0 1h0m.5-17.5h0m0 5.5h0m0 .5h0m0 2.5h0m0 1.5h0m0 .5h0m0 1h0m0 .5h0m0 .5h0m0 .5h0m0 .5h0m0 .5h0m0 1.5h0m0 .5h0m0 .5h0m0 .5h0m0 .5h0m0 1h0m0 1h0m.5-23h0m0 7.5h0m0 2h0m0 2.5h0m0 .5h0m0 .5h0m0 2.5h0m0 1h0m0 .5h0m0 .5h0m0 2.5h0m0 1.5h0m0 1.5h0m.5-21h0m0 7.5h0m0 2h0m0 1h0m0 4.5h0m0 1.5h0m0 3.5h0m0 5h0m0 .5h0m0 1h0m0 1.5h0m.5-21h0m0 6h0m0 4.5h0m0 .5h0m0 5.5h0m0 1h0m.5-23h0m0 17h0m0 7h0m0 2h0m.5-26.5h0m0 10.5h0m0 4.5h0m0 3h0m0 7.5h0m.5-18h0m0 .5h0m0 6.5h0m0 2.5h0m0 .5h0m0 .5h0m0 1.5h0m0 .5h0m0 1.5h0m0 2h0m0 1h0m0 .5h0m0 .5h0m0 .5h0m.5-23.5h0m0 1.5h0m0 7.5h0m0 1h0m0 2.5h0m0 .5h0m0 .5h0m0 1h0m0 .5h0m0 .5h0m0 .5h0m0 1.5h0m0 .5h0m0 .5h0m0 1.5h0m0 .5h0m0 .5h0m0 .5h0m0 .5h0m0 .5h0m0 .5h0m0 .5h0m0 .5h0m0 .5h0m.5-25h0m0 6.5h0m0 .5h0m0 1.5h0m0 2h0m0 2h0m0 6.5h0m0 .5h0m0 .5h0m0 .5h0m0 .5h0m0 .5h0m0 1h0m0 .5h0m0 .5h0m0 .5h0m0 .5h0m0 1.5h0m0 1h0m.5-15.5h0m0 6h0m0 2h0m0 .5h0m0 2h0m0 2h0m0 .5h0m0 1.5h0m0 .5h0m0 .5h0m.5-22.5h0m0 13.5h0m0 .5h0m0 2.5h0m0 1h0m.5 6.5h0m.5-8.5h0m0 1h0m0 1h0m0 3.5h0m0 2h0m0 3h0m0 .5h0m0 .5h0m.5-15.5h0m0 3h0m0 .5h0m0 4h0m0 4h0m0 5h0m.5-10.5h0m0 3h0m0 .5h0m0 5h0m0 1.5h0m0 .5h0m.5-9h0m0 3h0m0 1.5h0m0 1h0m.5-11.5h0m0 4h0m0 6h0m0 3.5h0m0 .5h0m.5-18.5h0m0 7h0m0 3.5h0m0 .5h0m0 2h0m0 1h0m0 4h0m.5-33h0m0 17.5h0m0 7h0m0 2.5h0m0 1h0m0 1.5h0m.5-18h0m0 2.5h0m0 4.5h0m0 4h0m0 .5h0m0 .5h0m0 4h0m.5-22.5h0m0 9h0m0 3h0m0 1h0m0 3h0m0 3h0m0 1.5h0m0 1h0m0 4.5h0m0 .5h0m.5-12h0m0 3h0m0 4.5h0m0 1h0m0 1h0m0 .5h0m0 .5h0m0 2h0m.5-33h0m0 13.5h0m0 3h0m0 7h0m0 8h0m0 1.5h0m.5-31h0m0 9.5h0m0 .5h0m0 2h0m0 2h0m0 1h0m0 5h0m.5-20.5h0m0 4h0m0 6h0m0 1h0m0 7.5h0m0 .5h0m0 .5h0m.5-13h0m0 3h0m0 1h0m0 .5h0m0 .5h0m0 .5h0m.5-20h0m0 16.5h0m0 .5h0m0 .5h0m0 2.5h0m0 1h0m0 2.5h0m0 .5h0m0 .5h0m.5-20h0m0 14h0m0 2.5h0m.5-21h0m0 12h0m0 6.5h0m0 1h0m0 2.5h0m0 2h0m.5-17h0m0 .5h0m0 6h0m0 .5h0m0 .5h0m0 8.5h0m0 .5h0m0 .5h0m.5-13h0m0 8.5h0m0 1h0m0 .5h0m0 .5h0m0 2.5h0m.5-24h0m0 2h0m0 2.5h0m0 .5h0m0 1h0m0 5h0m0 1h0m0 2.5h0m0 .5h0m0 2h0m0 4.5h0m0 2.5h0m0 .5h0m0 .5h0m0 .5h0m0 .5h0m0 .5h0m.5-19h0m0 3.5h0m0 1h0m0 3h0m0 .5h0m0 1h0m0 5h0m0 .5h0m0 1h0m0 1.5h0m0 1.5h0m0 .5h0m.5-22.5h0m0 1h0m0 3h0m0 1.5h0m0 2.5h0m0 1h0m0 1h0m0 .5h0m0 2h0m0 3.5h0m0 .5h0m0 2h0m0 .5h0m0 .5h0m.5-20h0m0 1.5h0m0 2h0m0 4h0m0 2.5h0m0 6h0m0 1.5h0m0 .5h0m0 1.5h0m.5-18h0m0 1h0m0 6h0m0 4h0m0 1.5h0m0 1.5h0m0 5.5h0m0 1h0m0 .5h0m.5-17.5h0m0 4h0m0 4.5h0m0 .5h0m0 1.5h0m0 1.5h0m0 1h0m0 1h0m0 .5h0m0 .5h0m0 1h0m0 1h0m0 2.5h0m0 1.5h0m.5-20h0m0 3h0m0 1.5h0m0 2.5h0m0 1h0m0 2.5h0m0 2h0m0 .5h0m0 1h0m0 .5h0m0 .5h0m0 .5h0m0 .5h0m0 .5h0m0 .5h0m0 .5h0m0 .5h0m0 1h0m0 1h0m.5-20h0m0 6.5h0m0 .5h0m0 .5h0m0 .5h0m0 3h0m0 1h0m0 1h0m0 1h0m0 1h0m0 .5h0m0 .5h0m0 2h0m0 1h0m.5-28h0m0 17.5h0m0 1.5h0m0 2h0m0 1h0m0 1h0m0 1.5h0m.5-16h0m0 9h0m0 1h0m0 2h0m0 1.5h0m0 .5h0m0 .5h0m0 1h0m0 1h0m0 1h0m0 .5h0m0 .5h0m0 3h0m0 2h0m0 .5h0m.5-18h0m0 1.5h0m0 2h0m0 1h0m0 1h0m0 .5h0m0 1.5h0m0 3h0m0 .5h0m0 1h0m0 .5h0m0 1h0m0 .5h0m0 .5h0m0 1h0m0 1.5h0m0 .5h0m.5-15h0m0 1h0m0 3h0m0 2.5h0m0 1.5h0m0 .5h0m0 4h0m0 .5h0m0 1h0m0 1h0m0 .5h0m0 .5h0m0 .5h0"/>
<path fill="#00008B" d="M49.5 452.9L49.5 430.8L50 430.9L50.5 424L51 424.2L51.5 428.3L52 428.4L52.5 425L53 425.1L53.5 431L54 431.8L54.5 429.6L55 430.3L55.5 428.9L56 429.7L56.5 432L57 432.3L57.5 435L58 435.3L58.5 436L59 436.3L59.5 432.9L60 433.2L60.5 437.3L61 437.5L61.5 432.5L62 432.6L62.5 431.9L63 432L63.5 435.1L64 435.2L64.5 437.8L65 437.5L65.5 435.5L66 435.2L66.5 432.4L67 432.1L67.5 435.2L68 434.9L68.5 436.5L69 436.2L69.5 434.8L70 434.6L70.5 430.6L71 430.3L71.5 431.7L72 431.4L72.5 432L73 431.1L73.5 429L74 428L74.5 421.9L75 420.9L75.5 422.9L76 422.3L76.5 419.7L77 419.7L77.5 421.8L78 421.3L78.5 422.2L79 422L79.5 421.9L80 421.7L80.5 419.7L80.8 419.7L80.8 452.9ZM107.2 452.9L107.2 421.3L107.7 420.9L108.2 417L108.7 416.4L109.2 416.2L109.7 415.6L110.2 417.9L110.7 418.8L111.2 423.1L111.7 424L112.2 421.9L112.7 422.9L113.2 423.6L113.7 424.2L114.2 424.2L114.7 424.7L115.2 426.8L115.7 427.4L116.2 426.9L116.7 427.5L117.2 425.5L117.7 426.1L118.2 427.7L118.7 428.3L119.2 431.8L119.7 432.4L120.2 431.4L120.7 431.6L121.2 431.7L121.7 431.8L122.2 428.1L122.7 428.3L123.2 431.2L123.7 431.3L124.2 433.1L124.7 432.1L125.2 430.8L125.7 429.9L126.2 429.3L126.7 428.3L127.2 426.1L127.7 425.5L128.2 425L128.7 426.5L129.2 425.9L129.7 419.9L130.2 419.6L130.7 422.5L131.2 422.5L131.7 420.3L132.2 420.3L132.5 422.6L132.5 452.9ZM160.8 452.9L160.8 427.5L161.3 427.7L161.8 423.6L162.3 423.9L162.8 421.2L163.3 421.2L163.8 426.1L164.3 426.9L164.8 429.4L165.3 430.5L165.8 432.4L166.3 433.5L166.8 431.7L167.3 432.6L167.8 432.9L168.3 433.7L168.8 434.2L169.3 434.9L169.8 438.3L170.3 438.7L170.8 441.4L171.3 441.6L171.8 440.5L172.3 440.7L172.8 434.8L173.3 434.4L173.8 436.8L174.3 436.1L174.8 435.4L175.3 434.7L175.8 430.4L176.3 429.3L176.8 431.2L177.3 429.8L177.8 425.5L178.3 424.5L178.8 430.2L179.3 429.5L179.8 424L180.3 423.3L180.8 426.2L181.3 425.5L181.8 422.6L182.3 422.3L182.8 421.2L183.3 421.2L183.8 421.2L184.1 421.2L184.1 452.9ZM212.1 452.9L212.1 424.8L212.6 424.9L213.1 428.2L213.6 428.4L214.1 423.2L214.6 423.3L215.1 425.6L215.6 425.7L216.1 426.5L216.6 426.3L217.1 424.7L217.6 424.5L218.1 421.4L218.6 421.2L219.1 422.6L219.6 421.2L220.1 420.9L220.6 419.5L221.1 419.9L221.6 419.1L222.1 419.8L222.6 419.1L223.1 414.7L223.6 413.9L224.1 415.7L224.6 415.9L225.1 412.8L225.6 413L226.1 412.6L226.6 412.7L227.1 418L227.6 419.2L228.1 417.1L228.6 418.3L229.1 420L229.6 420.2L230.1 422.6L230.6 422.8L231.1 417.2L231.6 417.3L232.1 422.6L232.6 422.8L233.1 412.6L233.6 412.6L234.1 423.5L234.6 423.7L235.1 414.9L235.6 415L236.1 420.2L236.3 420.2L236.3 452.9ZM262.8 452.9L262.8 422.9L263.3 423L263.8 426.6L264.3 426.7L264.8 422.8L265.3 422.9L265.8 426L266.3 426.1L266.8 425L267.3 425.1L267.8 426.9L268.3 427.2L268.8 423.7L269.3 424.1L269.8 428.1L270.3 428.6L270.8 419.7L271.3 419.7L271.8 428L272.3 428.2L272.8 430.9L273.3 431L273.8 432.7L274.3 432.8L274.8 433.1L275.3 433.2L275.8 431.1L276.3 431.1L276.8 431.8L277.3 431.9L277.8 430.2L278.3 429.9L278.8 426.1L279.3 425.5L279.8 429.7L280.3 429.1L280.8 419.7L281.3 419.7L281.8 425.9L282.3 425.2L282.8 426.9L283.3 426.1L283.8 423.7L284.3 422.9L284.8 421.9L285.3 421.7L285.8 422.1L286.3 422.4L286.8 423.4L287.3 423.6L287.8 422.7L288.3 423L288.8 422.8L289.3 423.1L289.8 423.9L289.9 423.9L289.9 452.9ZM318.6 452.9L318.6 426L319.1 425.9L319.6 426.7L320.1 426.5L320.6 428.1L321.1 427.9L321.6 425.8L322.1 425.8L322.6 427.7L323.1 428.3L323.6 426.3L324.1 426.9L324.6 427.9L325.1 428.5L325.6 430.3L326.1 431.3L326.6 433.6L327.1 434.6L327.6 429.6L328.1 430.5L328.6 438.2L329.1 438.8L329.6 438.3L330.1 438.9L330.6 436.4L331.1 436.7L331.6 439L332.1 438.2L332.6 434.9L333.1 433.9L333.6 434.4L334.1 432.7L334.6 428.2L335.1 426.8L335.6 432.5L336.1 432.1L336.6 426.9L337.1 426.4L337.6 427.2L337.7 427.2L337.7 452.9ZM359.2 452.9L359.2 427.3L359.7 427.2L360.2 422.1L360.7 422L361.2 420.1L361.7 420L362.2 423.7L362.7 423.5L363.2 425.4L363.7 425.2L364.2 424.8L364.7 424.4L365.2 423.5L365.7 423.1L366.2 420.3L366.7 419.9L367.2 416.7L367.7 417.3L368.2 423.8L368.7 424.3L369.2 421.5L369.7 422.1L370.2 425.4L370.7 425.1L371.2 424.7L371.7 424.4L372.2 427.3L372.7 426.9L373.2 420.5L373.7 418.5L374.2 419.3L374.7 417.3L375.2 413L375.7 412.7L376.2 412.6L376.7 412.3L377.2 416.9L377.7 419.6L378.2 418L378.7 419.7L379.2 413L379.7 413.4L380.2 423.3L380.7 423.7L381.2 423.7L381.7 424L382.2 422.5L382.7 422.9L383.2 411.2L383.7 411.2L384.2 427.4L384.6 427.6L384.6 452.9ZM411.4 452.9L411.4 422.2L411.9 422.3L412.4 420L412.9 420.2L413.4 425.3L413.9 425.5L414.4 421.6L414.9 421.8L415.4 421L415.9 419.3L416.4 419.3L416.9 417.6L417.4 418.4L417.9 418.7L418.4 415.5L418.9 415.5L419.4 422.4L419.9 424.3L420.4 422.5L420.9 424.5L421.4 424.1L421.9 424.7L422.4 427.6L422.9 428.2L423.4 424.4L423.9 425L424.4 427.3L424.9 427.8L425.4 432.5L425.9 432.4L426.4 430.3L426.9 430.1L427.4 429.9L427.9 429.8L428.4 432.4L428.9 432.3L429.4 427.1L429.9 425.9L430.4 427.7L430.9 426.5L431.4 424L431.9 422.9L432.4 420.6L432.9 420L433.4 423.4L433.9 422.8L434.4 423.5L434.9 422.9L435.4 417.3L435.9 417.7L436.4 420.2L436.9 420.6L437.4 418.2L437.9 418.6L438.4 423.6L438.9 424L439.4 422L439.5 422L439.5 452.9ZM460.2 452.9L460.2 421L460.7 421.1L461.2 422.3L461.7 422.5L462.2 425L462.7 425.1L463.2 421.8L463.7 422L464.2 423.9L464.7 424L465.2 421.9L465.7 421.7L466.2 414.4L466.7 414.2L467.2 420.3L467.7 420.1L468.2 420.1L468.7 419.9L469.2 418L469.7 417.8L470.2 421.4L470.7 421.3L471.2 422.9L471.7 422.8L472.2 421.8L472.7 421.7L473.2 420L473.7 419.9L474.2 415.6L474.7 415.5L475.2 420.3L475.7 420.2L476.2 423.7L476.7 423.6L477.2 415.4L477.7 415.3L478.2 425.1L478.7 425L479.2 419.2L479.7 419.1L480.2 419.8L480.7 419.6L481.2 419.9L481.7 419.5L482.2 419.4L482.7 419L483.2 418.5L483.7 418.2L484.2 418L484.7 417.2L485.2 413.9L485.7 413.2L486.2 413.2L486.7 412.4L487.2 411.2L487.7 411.2L488.2 411.2L488.7 411.2L489.2 416.3L489.7 416.7L490.2 413.6L490.7 414.4L491.2 416.8L491.7 417.6L492.2 416.7L492.2 452.9ZM520 452.9L520 420.3L520.5 419.9L521 415.5L521.5 415.5L522 416.8L522.5 417.9L523 421.7L523.5 422.9L524 422.9L524.5 423.2L525 421.8L525.5 422.1L526 427.5L526.5 427.8L527 425.9L527.5 426.2L528 422.2L528.5 422.1L529 423.6L529.5 423.5L530 415.5L530.5 415.5L531 425.1L531.5 425L532 426.1L532.5 425.6L533 423.5L533.5 422.9L534 418.7L534.5 418.1L535 421.9L535.5 421.4L536 422.6L536.5 422.1L537 417.6L537.5 417L538 416.7L538.5 417.9L539 416.8L539.5 417.9L540 423.7L540.5 423.9L541 424.7L541.5 425L542 419.1L542.5 419.4L543 425.5L543.5 425.7L544 423.9L544.5 424.2L545 424.2L545.5 424.4L546 424.9L546.5 425.1L546.8 425.2L546.8 452.9Z"/>
<path class="d" stroke="#00008B" d="M49.5 426.5h0m0 3.5h0m0 1.5h0m0 .5h0m.5-18.5h0m0 2h0m0 .5h0m0 2.5h0m0 3.5h0m0 1h0m0 .5h0m0 1.5h0m0 4.5h0m0 2h0m.5-30h0m0 8h0m0 3.5h0m0 3.5h0m0 4.5h0m0 1h0m0 .5h0m0 2h0m0 1h0m.5-21.5h0m0 6.5h0m0 5h0m0 .5h0m0 3h0m0 .5h0m0 .5h0m0 1h0m0 2h0m0 .5h0m0 .5h0m0 .5h0m0 .5h0m0 .5h0m0 3h0m0 .5h0m0 .5h0m.5-28.5h0m0 12.5h0m0 4h0m0 2h0m0 1h0m0 1h0m0 .5h0m0 2h0m0 .5h0m0 2h0m0 .5h0m0 .5h0m0 .5h0m0 1.5h0m.5-12h0m0 6h0m0 2.5h0m0 2.5h0m0 .5h0m.5-17h0m0 11h0m0 .5h0m0 2h0m0 .5h0m.5 0h0m.5-42.5h0m0 41.5h0m0 6h0m.5-27.5h0m0 10h0m0 8h0m0 2.5h0m0 .5h0m0 .5h0m0 2h0m0 .5h0m0 .5h0m0 .5h0m0 .5h0m0 .5h0m0 .5h0m0 .5h0m0 .5h0m.5-27.5h0m0 8.5h0m0 5h0m0 1.5h0m0 .5h0m0 2.5h0m0 1h0m0 .5h0m0 .5h0m0 .5h0m0 .5h0m0 .5h0m0 .5h0m0 .5h0m0 1h0m0 1h0m0 1h0m0 .5h0m0 .5h0m0 .5h0m0 .5h0m.5-12h0m0 .5h0m0 2h0m0 .5h0m0 .5h0m0 2h0m0 .5h0m0 1.5h0m0 .5h0m0 .5h0m0 .5h0m0 .5h0m0 .5h0m0 .5h0m0 .5h0m0 .5h0m0 .5h0m.5-15h0m0 3h0m0 4h0m0 3.5h0m0 .5h0m0 .5h0m0 1.5h0m.5-2.5h0m0 2.5h0m0 .5h0m0 .5h0m.5-11.5h0m0 13h0m0 .5h0m0 1h0m.5-18h0m0 1.5h0m0 8.5h0m0 .5h0m0 3.5h0m0 .5h0m0 1.5h0m0 1.5h0m0 .5h0m0 .5h0m0 .5h0m0 2h0m0 .5h0m.5-11h0m0 .5h0m0 4h0m0 .5h0m0 .5h0m0 1h0m0 1h0m0 .5h0m0 .5h0m0 .5h0m0 .5h0m.5-11h0m0 3h0m0 2h0m0 3h0m0 1.5h0m0 .5h0m0 .5h0m0 1.5h0m0 1h0m.5-9h0m0 6h0m0 1.5h0m0 .5h0m.5-19h0m0 14.5h0m0 .5h0m0 1.5h0m0 1h0m.5-6h0m0 3.5h0m0 1.5h0m0 .5h0m.5-20h0m0 12.5h0m0 1.5h0m0 3.5h0m0 .5h0m0 2h0m0 .5h0m0 1.5h0m0 1.5h0m0 .5h0m0 .5h0m.5-26.5h0m0 12.5h0m0 .5h0m0 1.5h0m0 1.5h0m0 2.5h0m0 1h0m0 .5h0m0 .5h0m0 .5h0m0 .5h0m0 .5h0m0 .5h0m0 .5h0m0 .5h0m0 .5h0m0 .5h0m0 .5h0m0 .5h0m0 .5h0m0 .5h0m.5-27h0m0 6.5h0m0 8h0m0 1h0m0 1.5h0m0 2.5h0m0 1h0m0 1h0m0 1h0m0 1h0m0 .5h0m0 2.5h0m0 .5h0m0 .5h0m.5-18.5h0m0 2h0m0 2h0m0 2h0m0 4.5h0m0 .5h0m0 1h0m.5-39h0m0 15h0m0 12h0m0 4.5h0m0 6h0m.5-17.5h0m0 9.5h0m0 1h0m0 3h0m0 3.5h0m.5-14.5h0m0 8h0m0 .5h0m0 6h0m0 2h0m0 3h0m.5-7h0m0 5.5h0m0 2.5h0m.5-3.5h0m0 1.5h0m0 1.5h0m0 2h0m.5-15.5h0m0 2.5h0m0 8h0m0 .5h0m0 2h0m0 .5h0m0 .5h0m0 .5h0m0 .5h0m0 1h0m0 .5h0m.5-5.5h0m0 1.5h0m0 .5h0m0 1h0m0 .5h0m.5-4.5h0m0 1h0m0 2h0m.5-23.5h0m0 15h0m0 1h0m0 .5h0m0 .5h0m0 2h0m0 .5h0m0 1.5h0m0 .5h0m0 1h0m.5-17h0m0 4h0m0 4.5h0m0 .5h0m0 .5h0m0 1h0m0 1h0m0 1.5h0m0 1h0m0 .5h0m0 .5h0m.5-23.5h0m0 1h0m0 8.5h0m0 1.5h0m0 8.5h0m0 .5h0m0 1h0m0 .5h0m0 1.5h0m0 .5h0m0 .5h0m0 .5h0m0 .5h0m0 .5h0m0 .5h0m.5-16h0m0 1h0m0 1.5h0m0 3h0m0 2.5h0m0 .5h0m0 2.5h0m0 1h0m0 .5h0m0 1h0m0 .5h0m0 .5h0m0 .5h0m0 .5h0m0 1h0m0 .5h0m.5-9.5h0m0 2.5h0m0 2h0m0 1.5h0m0 1h0m0 .5h0m0 .5h0m0 1h0m.5-10h0m0 5h0m0 6.5h0m0 .5h0m.5-11h0m0 1.5h0m0 2.5h0m0 5.5h0m.5-10.5h0m0 2.5h0m0 4.5h0m0 2.5h0m.5-16h0m0 9h0m0 2.5h0m.5-11h0m0 2h0m0 5h0m0 4h0m0 1h0m0 .5h0m.5-23.5h0m0 7.5h0m0 8.5h0m0 3.5h0m0 2h0m0 .5h0m0 .5h0m0 .5h0m0 1h0m.5-15.5h0m0 4h0m0 1.5h0m0 1.5h0m0 2h0m0 2h0m0 2h0m0 1h0m0 1.5h0m.5-14h0m0 7h0m0 1h0m0 .5h0m0 .5h0m0 3h0m0 2.5h0m.5-9h0m0 5.5h0m0 4h0m.5-18.5h0m0 7.5h0m0 1h0m0 .5h0m0 5.5h0m0 1.5h0m.5-17.5h0m0 1.5h0m0 8h0m0 .5h0m0 1.5h0m0 2h0m0 1h0m0 .5h0m.5-13h0m0 6h0m0 2h0m0 2.5h0m0 1.5h0m0 1h0m0 1h0m.5-17h0m0 5h0m.5-6h0m0 1h0m0 .5h0m0 4h0m0 2h0m0 1.5h0m0 1h0m0 1.5h0m0 1.5h0m.5-19.5h0m0 4h0m0 8.5h0m0 1h0m0 1h0m0 1h0m0 1.5h0m0 1h0m0 .5h0m0 .5h0m.5-19.5h0m0 9.5h0m0 2.5h0m0 .5h0m0 .5h0m0 1h0m0 1.5h0m0 .5h0m0 1.5h0m0 2h0m0 .5h0m.5-12.5h0m0 6h0m0 1.5h0m.5-14h0m0 .5h0m0 5.5h0m0 .5h0m0 4h0m0 1h0m0 1.5h0m0 3h0m0 1h0m.5-8.5h0m0 5.5h0m0 1.5h0m0 .5h0m.5-11.5h0m0 7h0m0 1.5h0m0 .5h0m0 1h0m0 .5h0m.5-7.5h0m0 8h0m.5-7.5h0m0 8h0m0 .5h0m0 1h0m.5-32h0m0 1h0m0 .5h0m0 2.5h0m0 2.5h0m0 2.5h0m0 3.5h0m0 .5h0m0 1h0m0 18.5h0m.5-33.5h0m0 .5h0m0 2h0m0 1h0m0 6.5h0m0 2.5h0m0 2h0m0 7h0m0 9h0m0 .5h0m0 1.5h0m.5-32.5h0m0 8h0m0 1.5h0m0 .5h0m0 1.5h0m0 2h0m0 11h0m0 4.5h0m0 .5h0m0 .5h0m.5 1.5h0m26.5-14h0m0 11h0m0 2h0m.5-17.5h0m0 11.5h0m0 4.5h0m0 1h0m0 1h0m.5-34.5h0m0 2h0m0 13h0m0 1h0m0 .5h0m0 7h0m0 4h0m0 2h0m.5-35h0m0 7h0m0 5h0m0 3.5h0m0 2h0m0 1h0m0 6h0m0 1h0m0 3.5h0m0 1h0m0 2.5h0m0 2h0m0 .5h0m.5-34.5h0m0 9h0m0 .5h0m0 2h0m0 1.5h0m0 .5h0m0 1h0m0 .5h0m0 2.5h0m0 .5h0m0 1.5h0m0 9.5h0m0 1h0m0 .5h0m0 1.5h0m0 2h0m0 .5h0m0 1h0m.5-23h0m0 2h0m0 4h0m0 .5h0m0 4h0m0 3h0m0 4h0m0 3h0m0 1h0m0 .5h0m0 .5h0m0 1h0m.5-2.5h0m0 2.5h0m0 .5h0m0 1h0m.5-10h0m0 9h0m0 1h0m0 4h0m0 1h0m0 .5h0m0 .5h0m.5-12h0m0 2h0m0 .5h0m0 1h0m0 .5h0m0 4h0m0 .5h0m0 .5h0m0 2h0m.5-14.5h0m0 5h0m0 2.5h0m0 .5h0m0 .5h0m0 1h0m0 .5h0m0 .5h0m0 2h0m0 1h0m0 .5h0m.5-27.5h0m0 17.5h0m0 3.5h0m0 .5h0m0 2h0m0 1h0m0 .5h0m0 1.5h0m.5-18h0m0 7h0m0 4h0m0 1h0m0 .5h0m0 .5h0m0 1h0m0 1h0m0 1h0m0 1h0m0 .5h0m0 .5h0m0 .5h0m0 .5h0m0 .5h0m0 .5h0m0 .5h0m.5-7h0m0 .5h0m0 .5h0m0 2h0m0 1h0m0 .5h0m0 .5h0m0 .5h0m0 .5h0m0 .5h0m0 .5h0m0 .5h0m.5-16h0m0 8.5h0m0 2.5h0m0 1.5h0m0 .5h0m0 1h0m0 .5h0m.5-10h0m0 6h0m0 1.5h0m0 1h0m0 .5h0m0 1h0m0 .5h0m0 1h0m0 .5h0m.5-3.5h0m0 3.5h0m.5-7h0m0 2h0m0 4h0m0 1h0m0 .5h0m0 1h0m0 1h0m.5-11.5h0m0 3.5h0m0 2h0m0 1h0m0 1h0m0 1h0m0 .5h0m0 .5h0m0 .5h0m0 .5h0m0 .5h0m0 .5h0m.5-21h0m0 3h0m0 1h0m0 3h0m0 2h0m0 2.5h0m0 1.5h0m0 2.5h0m0 1h0m0 1.5h0m0 .5h0m0 .5h0m0 .5h0m0 .5h0m0 .5h0m0 .5h0m.5-9h0m0 3h0m0 2h0m0 .5h0m0 1.5h0m0 .5h0m0 .5h0m0 .5h0m0 .5h0m.5-12.5h0m0 3.5h0m0 1.5h0m0 1.5h0m0 3h0m.5-9h0m0 1.5h0m0 2h0m0 6.5h0m0 .5h0m.5-4h0m0 4.5h0m.5-6h0m0 1h0m0 7h0m0 1h0m0 1.5h0m0 1h0m.5-11.5h0m0 1h0m0 1h0m0 1h0m0 2.5h0m0 1h0m0 .5h0m0 2h0m0 1h0m0 .5h0m0 1h0m.5-11.5h0m0 2h0m0 6.5h0m0 .5h0m0 2h0m.5-7h0m1-9h0m0 13h0m0 .5h0m0 1.5h0m0 .5h0m.5-13h0m0 4h0m0 10h0m.5-10h0m0 3h0m0 2h0m.5-8h0m0 1.5h0m0 2h0m0 8h0m.5-17.5h0m0 15.5h0m0 2.5h0m.5-8h0m0 .5h0m0 4h0m0 .5h0m0 .5h0m0 .5h0m0 .5h0m0 .5h0m0 1.5h0m.5-17.5h0m0 1.5h0m0 7.5h0m0 4h0m0 3.5h0m0 .5h0m0 1h0m0 1h0m.5-12h0m0 1h0m0 2.5h0m0 .5h0m0 .5h0m0 1h0m0 1h0m0 2h0m0 1h0m0 1h0m0 .5h0m.5-19h0m0 8.5h0m0 3h0m0 2.5h0m0 .5h0m0 .5h0m0 .5h0m0 1h0m0 .5h0m0 .5h0m.5-14h0m0 4.5h0m0 5.5h0m0 .5h0m0 .5h0m0 .5h0m0 .5h0m0 1h0m0 .5h0m.5-8h0m0 .5h0m0 3.5h0m0 1h0m0 2h0m.5-24.5h0m0 .5h0m0 17h0m0 2h0m0 .5h0m0 1h0m0 2h0m.5-9.5h0m0 3.5h0m0 1.5h0m0 .5h0m0 .5h0m0 .5h0m.5-7.5h0m0 .5h0m0 7h0m0 1.5h0m.5-4.5h0m0 3h0m0 1.5h0m.5-21h0m0 2h0m0 3h0m0 3h0m0 3h0m0 1.5h0m0 6h0m0 2h0m.5-16.5h0m0 2h0m0 1h0m0 1.5h0m0 4h0m0 2.5h0m.5-2.5h0m0 .5h0m.5-15.5h0m0 16.5h0m0 2h0m.5-7.5h0m0 5h0m0 1h0m0 1h0m0 1.5h0m.5-15.5h0m0 .5h0m0 8h0m0 2h0m0 1.5h0m0 .5h0m0 1h0m.5-19.5h0m0 15h0m0 2h0m0 .5h0m0 .5h0m0 1.5h0m0 2h0m.5-2h0m28.5-7.5h0m0 1.5h0m0 6.5h0m0 3h0m0 3.5h0m0 .5h0m.5-28h0m0 18.5h0m0 3.5h0m0 1.5h0m0 3h0m0 1h0m0 1h0m.5-25.5h0m0 15.5h0m0 2.5h0m0 2.5h0m0 1.5h0m0 3.5h0m.5-30.5h0m0 3.5h0m0 14h0m0 5.5h0m0 .5h0m0 2h0m0 .5h0m0 1h0m.5-20.5h0m0 8.5h0m0 5h0m0 .5h0m0 1h0m0 .5h0m0 .5h0m0 .5h0m0 .5h0m0 1h0m0 1.5h0m0 .5h0m.5-23h0m0 9h0m0 .5h0m0 4.5h0m0 .5h0m0 .5h0m0 1h0m0 1.5h0m0 1h0m0 .5h0m0 .5h0m0 .5h0m.5-20.5h0m0 3h0m0 4h0m0 6.5h0m0 3.5h0m0 2h0m0 .5h0m0 2h0m0 1.5h0m0 1h0m0 .5h0m0 .5h0m0 .5h0m0 1h0m0 .5h0m.5-22.5h0m0 14h0m0 1h0m0 2h0m0 1h0m0 .5h0m0 .5h0m0 1h0m0 1.5h0m0 .5h0m0 .5h0m0 .5h0m.5-12.5h0m0 .5h0m0 2.5h0m0 3h0m0 1.5h0m0 2h0m0 6h0m.5-14h0m0 8.5h0m0 .5h0m0 2h0m0 2.5h0m0 .5h0m0 .5h0m.5-12.5h0m0 4.5h0m0 3h0m0 1h0m0 .5h0m0 2h0m0 .5h0m0 2.5h0m0 .5h0m0 .5h0m.5-23.5h0m0 2.5h0m0 12.5h0m0 .5h0m0 .5h0m0 2h0m0 1.5h0m0 .5h0m0 1h0m0 1h0m0 1h0m0 .5h0m.5-21h0m0 6h0m0 5h0m0 1h0m0 .5h0m0 .5h0m0 1.5h0m0 1h0m0 1h0m0 1h0m0 .5h0m0 1.5h0m0 1.5h0m.5-19h0m0 3.5h0m0 4h0m0 2h0m0 .5h0m0 2h0m0 2.5h0m0 1h0m0 1h0m0 .5h0m0 1h0m0 .5h0m.5-16.5h0m0 4h0m0 5h0m0 3h0m0 .5h0m0 1h0m0 .5h0m0 .5h0m0 1h0m0 1h0m.5-16.5h0m0 10h0m0 5.5h0m0 1.5h0m.5-9.5h0m0 5h0m0 4h0m0 .5h0m.5-2.5h0m0 3.5h0m.5-6h0m0 1h0m0 .5h0m0 4h0m.5-13.5h0m0 9h0m0 6.5h0m.5-4h0m0 5.5h0m0 .5h0m0 2.5h0m.5-14.5h0m0 2.5h0m0 9.5h0m0 2.5h0m0 .5h0m.5-60h0m0 52h0m0 2h0m0 .5h0m0 1.5h0m0 1h0m0 .5h0m0 .5h0m0 1h0m0 1.5h0m.5-9h0m0 1.5h0m0 1h0m0 1h0m0 1.5h0m0 2.5h0m.5-29h0m0 10.5h0m0 4h0m0 2.5h0m0 .5h0m0 1.5h0m0 .5h0m0 .5h0m0 1.5h0m0 2.5h0m0 3.5h0m.5-21.5h0m0 7h0m0 1h0m0 3h0m0 2.5h0m0 .5h0m0 .5h0m0 .5h0m0 .5h0m0 1h0m0 .5h0m.5-13.5h0m0 2.5h0m0 3h0m0 1h0m0 2h0m0 1h0m0 .5h0m0 1h0m0 .5h0m0 .5h0m0 1.5h0m1-11.5h0m0 .5h0m0 1h0m0 .5h0m0 4.5h0m0 2h0m0 .5h0m0 .5h0m0 2h0m.5-16.5h0m0 2h0m0 6h0m0 2.5h0m0 1.5h0m0 .5h0m0 2.5h0m0 .5h0m0 .5h0m0 .5h0m.5-11h0m0 .5h0m0 2.5h0m0 1.5h0m0 .5h0m0 6h0m.5-19h0m0 2h0m0 6.5h0m0 1.5h0m0 3.5h0m.5-21.5h0m0 7.5h0m0 3.5h0m0 4h0m0 2.5h0m.5-3.5h0m0 .5h0m0 4.5h0m.5-9h0m0 1h0m0 1.5h0m0 .5h0m0 1h0m0 1h0m0 .5h0m0 .5h0m0 .5h0m0 .5h0m0 2h0m0 1.5h0m0 .5h0m.5-20.5h0m0 1.5h0m0 5.5h0m0 2h0m0 .5h0m0 1h0m0 .5h0m0 1h0m0 .5h0m0 .5h0m0 .5h0m0 .5h0m0 .5h0m0 .5h0m0 .5h0m0 .5h0m0 .5h0m.5-54.5h0m0 4h0m0 27h0m0 8h0m0 4h0m0 2h0m0 2h0m0 4h0m0 .5h0m0 .5h0m0 .5h0m0 .5h0m0 .5h0m0 2.5h0m0 2.5h0m0 .5h0m0 .5h0m.5-69.5h0m0 5h0m0 .5h0m0 1h0m0 1.5h0m0 2.5h0m0 1h0m0 2h0m0 5.5h0m0 1h0m0 1h0m0 2h0m0 2h0m0 1h0m0 .5h0m0 .5h0m0 .5h0m0 .5h0m0 1.5h0m0 1h0m0 3.5h0m0 .5h0m0 .5h0m0 3.5h0m0 .5h0m0 2h0m0 1h0m0 2.5h0m0 1.5h0m0 1h0m0 .5h0m0 1h0m0 1h0m0 4.5h0m0 7h0m0 2.5h0m0 .5h0m0 .5h0m0 3.5h0m.5-68h0m0 4h0m0 3.5h0m0 4h0m0 6h0m0 2h0m0 3.5h0m0 1h0m0 3h0m0 3.5h0m0 4h0m0 3.5h0m0 1h0m0 .5h0m0 1.5h0m0 .5h0m0 1h0m0 1h0m0 1h0m0 1h0m0 2.5h0m0 .5h0m0 .5h0m0 2h0m0 1h0m0 7.5h0m0 2h0m0 .5h0m0 2h0m0 .5h0m0 1.5h0m0 .5h0m.5-67.5h0m0 1.5h0m0 3.5h0m0 5h0m0 3.5h0m0 1h0m0 .5h0m0 .5h0m0 8.5h0m0 5h0m0 1.5h0m0 1h0m0 1.5h0m0 3h0m0 4h0m0 1h0m0 2.5h0m0 2h0m0 2h0m0 1h0m0 5h0m0 .5h0m0 1h0m0 3.5h0m0 1h0m0 .5h0m0 2h0m0 .5h0m0 .5h0m0 1.5h0m.5-25h0m0 8.5h0m0 2.5h0m0 6.5h0m0 1h0m0 1.5h0m0 1h0m0 2h0m0 4h0m.5-3h0m.5-18.5h0m0 11h0m0 7h0m0 1h0m0 1h0m0 1.5h0m.5-10.5h0m0 7.5h0m.5-9.5h0m0 2.5h0m0 1h0m0 .5h0m0 3h0m0 1.5h0m.5-10.5h0m0 2.5h0m0 2.5h0m0 1h0m0 .5h0m0 1h0m0 2.5h0m.5-23h0m0 14.5h0m0 .5h0m0 1h0m0 3.5h0m0 1h0m0 1h0m0 1h0m28 1.5h0m.5-4h0m0 2h0m0 1h0m0 .5h0m0 .5h0m0 2.5h0m.5-9h0m0 .5h0m0 2.5h0m0 1h0m0 1h0m0 1.5h0m0 1h0m0 .5h0m0 5h0m.5-10h0m0 2h0m0 1h0m0 2.5h0m0 1h0m0 .5h0m0 1h0m0 1.5h0m.5-13.5h0m0 6.5h0m0 .5h0m0 1h0m0 .5h0m.5-18h0m0 10h0m0 4h0m0 2.5h0m0 .5h0m0 1.5h0m.5-10h0m0 3h0m0 2h0m0 6.5h0m.5-9.5h0m0 1h0m0 3h0m0 4.5h0m0 1h0m0 1h0m.5-5.5h0m0 2h0m0 2.5h0m0 1h0m.5-2.5h0m0 1h0m.5-7.5h0m0 5.5h0m0 1.5h0m0 .5h0m0 .5h0m.5-23h0m0 19h0m0 1h0m0 1.5h0m.5-17.5h0m0 8.5h0m0 2.5h0m0 1h0m0 1.5h0m0 2h0m0 3.5h0m.5-15.5h0m0 3.5h0m0 3.5h0m0 .5h0m0 2.5h0m0 1h0m0 .5h0m0 .5h0m.5-10h0m0 8h0m0 .5h0m.5 .5h0m.5-20.5h0m0 10.5h0m0 5h0m0 3.5h0m.5-6h0m0 4h0m0 2.5h0m.5-19h0m0 3.5h0m0 .5h0m0 8.5h0m0 3h0m0 1h0m0 .5h0m0 1h0m0 1h0m.5-15.5h0m0 2.5h0m0 .5h0m0 2.5h0m0 2h0m0 .5h0m0 .5h0m0 1h0m0 1.5h0m0 .5h0m0 .5h0m0 .5h0m0 .5h0m0 .5h0m0 .5h0m0 .5h0m0 .5h0m0 .5h0m.5-13.5h0m0 .5h0m0 1h0m0 3h0m0 4h0m0 .5h0m0 3h0m0 1.5h0m.5-22h0m0 8h0m.5 4h0m0 2h0m0 .5h0m0 .5h0m0 2.5h0m0 4.5h0m.5-24h0m0 7.5h0m0 4.5h0m0 2h0m0 1h0m0 1.5h0m0 1h0m0 .5h0m0 .5h0m.5-16h0m0 5h0m0 1.5h0m0 9h0m0 1h0m0 .5h0m0 .5h0m0 1h0m.5-18.5h0m0 13.5h0m0 .5h0m0 2.5h0m0 2h0m.5-19h0m0 3h0m0 7.5h0m0 4.5h0m0 1h0m0 .5h0m0 1.5h0m.5-17h0m0 1h0m0 4h0m0 .5h0m0 4h0m0 1.5h0m0 2h0m0 1h0m0 1h0m.5-15.5h0m0 3.5h0m0 10.5h0m.5-3.5h0m0 .5h0m0 3h0m.5-7h0m0 6.5h0m0 .5h0m0 1h0m0 2h0m.5 3.5h0m.5-14h0m0 5.5h0m0 .5h0m0 6h0m0 1.5h0m.5-2.5h0m.5-5.5h0m0 6.5h0m0 1.5h0m0 .5h0m0 .5h0m0 .5h0m.5-14h0m0 2.5h0m0 2.5h0m0 5h0m0 .5h0m0 2.5h0m0 1h0m0 .5h0m0 .5h0m.5-21h0m0 9h0m0 1h0m0 2h0m0 .5h0m0 .5h0m0 .5h0m0 .5h0m0 .5h0m0 .5h0m0 1.5h0m0 1h0m0 .5h0m0 .5h0m0 2.5h0m0 .5h0m0 .5h0m0 1h0m0 .5h0m.5-24.5h0m0 7h0m0 3.5h0m0 1.5h0m0 .5h0m0 1h0m0 4h0m0 1h0m0 .5h0m0 .5h0m0 .5h0m0 1h0m0 1h0m0 .5h0m0 .5h0m0 .5h0m0 .5h0m0 .5h0m.5-21h0m0 10h0m0 .5h0m0 1.5h0m0 1.5h0m0 .5h0m0 1h0m0 .5h0m0 .5h0m0 1h0m0 .5h0m0 .5h0m0 .5h0m0 .5h0m0 .5h0m0 1h0m0 .5h0m.5-14.5h0m0 1h0m0 2h0m0 1h0m0 1h0m0 .5h0m0 3.5h0m.5-5h0m0 1.5h0m0 3.5h0m0 3h0m.5-.5h0m0 1h0m0 1.5h0m.5-19.5h0m0 6h0m0 1.5h0m0 1.5h0m0 9h0m.5-22.5h0m0 1.5h0m0 .5h0m0 2h0m0 1h0m0 3h0m0 1h0m0 .5h0m0 1h0m0 1.5h0m.5-6h0m0 1h0m0 2h0m0 3h0m0 .5h0m0 .5h0m0 1h0m0 4h0m0 2h0m0 1h0m0 .5h0m0 1h0m0 .5h0m0 .5h0m0 .5h0m0 1h0m.5-20h0m0 1h0m0 .5h0m0 4.5h0m0 2h0m0 2h0m0 1h0m0 2h0m0 1h0m0 1h0m0 .5h0m0 .5h0m0 .5h0m0 .5h0m0 .5h0m0 .5h0m0 .5h0m0 .5h0m0 .5h0m0 .5h0m0 .5h0m.5-18h0m0 1h0m0 .5h0m0 .5h0m0 1h0m0 2h0m0 1h0m0 1h0m0 1h0m0 .5h0m0 2h0m0 .5h0m0 .5h0m0 .5h0m0 1.5h0m0 1.5h0m0 .5h0m0 .5h0m0 .5h0m0 .5h0m0 .5h0m.5-21.5h0m0 1h0m0 2.5h0m0 1.5h0m0 .5h0m0 1h0m0 .5h0m0 1.5h0m0 1.5h0m0 1h0m0 .5h0m.5-17h0m0 12.5h0m0 .5h0m0 1.5h0m0 .5h0m0 .5h0m0 .5h0m27-3h0m0 .5h0m0 8h0m0 1h0m0 1.5h0m0 .5h0m0 1h0m0 1.5h0m.5-16h0m0 1.5h0m0 9.5h0m0 1h0m0 .5h0m0 1h0m0 .5h0m0 1h0m0 .5h0m.5-8h0m0 .5h0m0 3h0m0 1h0m0 1h0m0 .5h0m0 .5h0m0 2.5h0m0 .5h0m0 1h0m0 .5h0m.5-8.5h0m0 5h0m0 .5h0m0 1.5h0m0 1.5h0m0 1h0m.5-14h0m0 1.5h0m0 1h0m0 .5h0m0 7h0m0 .5h0m0 3.5h0m.5-12h0m0 1.5h0m0 .5h0m0 2.5h0m0 2h0m0 .5h0m0 .5h0m.5-11.5h0m0 3h0m0 7h0m0 1h0m0 .5h0m0 .5h0m0 .5h0m0 2h0m.5-21.5h0m0 12h0m0 1h0m0 4h0m0 1.5h0m0 2h0m.5-.5h0m1-9h0m0 6.5h0m0 .5h0m0 5h0m.5-10.5h0m0 2h0m0 5.5h0m0 .5h0m0 .5h0m0 1h0m0 1h0m0 .5h0m.5-22h0m0 7h0m0 4h0m0 6h0m0 1h0m0 2h0m.5-12h0m0 2h0m0 1.5h0m0 1.5h0m0 3h0m0 2h0m0 1h0m.5-4.5h0m0 2.5h0m0 1h0m0 4h0m0 .5h0m0 1h0m.5-16.5h0m0 6.5h0m0 2.5h0m0 .5h0m0 2h0m0 .5h0m0 1h0m0 3.5h0m.5-15.5h0m0 1h0m0 4h0m0 .5h0m0 2h0m0 .5h0m0 3h0m0 2h0m0 .5h0m0 1.5h0m0 .5h0m.5-16h0m0 5h0m0 2h0m.5-10.5h0m0 1h0m0 2.5h0m0 1h0m0 4.5h0m0 9h0m.5-24.5h0m0 18.5h0m.5-.5h0m0 2h0m0 6h0m0 1.5h0m.5-4.5h0m0 1h0m0 3.5h0m.5-13.5h0m0 4h0m0 4h0m0 5h0m0 2h0m0 1h0m.5-15h0m0 11.5h0m0 1h0m0 2h0m.5-9.5h0m0 2.5h0m0 6.5h0m0 1h0m.5-11.5h0m0 3.5h0m0 2h0m0 1h0m0 1h0m0 1h0m0 2.5h0m0 1h0m.5-14h0m0 5h0m0 1.5h0m0 3h0m0 1h0m0 1.5h0m0 1.5h0m0 .5h0m.5-10.5h0m0 2h0m0 1h0m0 1.5h0m0 .5h0m0 1h0m0 1.5h0m0 .5h0m0 .5h0m.5-14h0m0 3h0m0 1.5h0m0 1h0m0 4.5h0m0 1.5h0m0 3h0m.5-18h0m0 12h0m0 .5h0m0 .5h0m0 2.5h0m0 2.5h0m.5-27h0m0 6.5h0m0 17h0m0 .5h0m0 .5h0m0 .5h0m.5-8.5h0m0 4.5h0m0 1.5h0m0 .5h0m0 1h0m0 .5h0m.5-30.5h0m0 12h0m0 5h0m0 7.5h0m0 1.5h0m0 4.5h0m.5-13h0m0 3h0m0 2.5h0m0 2.5h0m0 .5h0m.5-26h0m0 12.5h0m0 6.5h0m0 7h0m0 .5h0m.5-10.5h0m0 6h0m0 .5h0m0 1h0m0 1h0m0 1.5h0m0 2h0m0 1.5h0m.5-11h0m0 .5h0m0 1.5h0m0 1.5h0m0 7.5h0m.5-21h0m0 7h0m0 .5h0m0 2h0m0 1h0m0 1h0m.5-10h0m0 4.5h0m0 3.5h0m0 .5h0m0 1h0m0 .5h0m0 .5h0m0 1.5h0m0 .5h0m0 .5h0m0 .5h0m0 1h0m.5-22.5h0m0 3h0m0 9.5h0m0 1.5h0m0 .5h0m0 1.5h0m0 1.5h0m0 1.5h0m0 1h0m0 .5h0m0 .5h0m0 .5h0m0 1h0m0 .5h0m0 .5h0m0 .5h0m.5-19h0m0 8h0m0 2h0m0 .5h0m0 3h0m0 .5h0m0 1.5h0m0 .5h0m0 1.5h0m0 .5h0m0 1h0m0 .5h0m.5-.5h0m0 .5h0m0 1h0m.5-17h0m0 8.5h0m0 .5h0m0 2.5h0m0 .5h0m0 .5h0m0 .5h0m0 .5h0m0 .5h0m0 .5h0m0 1.5h0m.5-25h0m0 1.5h0m0 4h0m0 1h0m0 2h0m0 4h0m0 .5h0m0 1.5h0m0 1.5h0m0 1h0m0 1.5h0m0 .5h0m0 .5h0m0 .5h0m0 .5h0m0 1h0m0 .5h0m0 .5h0m.5-21h0m0 7h0m0 3.5h0m0 .5h0m0 1h0m0 .5h0m0 3.5h0m0 .5h0m0 1h0m0 1h0m0 1h0m0 .5h0m0 .5h0m0 .5h0m.5-10.5h0m0 1.5h0m0 1h0m0 1.5h0m0 1h0m0 2.5h0m0 .5h0m0 1.5h0m.5-10h0m0 6h0m0 3h0m.5 1h0m0 .5h0m.5-10.5h0m0 10.5h0m.5-15h0m0 3.5h0m0 2h0m0 5h0m0 .5h0m0 3h0m0 .5h0m0 2h0m.5-6h0m0 1.5h0m0 1.5h0m0 1h0m0 1.5h0m.5-2h0m0 .5h0m0 1h0m.5-24h0m0 24.5h0m.5-14.5h0m0 2h0m0 1.5h0m0 5.5h0m0 1h0m0 .5h0m0 1h0m0 .5h0m0 1h0m0 .5h0m.5-4h0m28.5 7.5h0m.5-11h0m0 8h0m0 .5h0m0 1.5h0m0 .5h0m0 1h0m.5-4h0m0 .5h0m0 .5h0m0 1.5h0m0 .5h0m.5-7.5h0m0 .5h0m0 2h0m0 1h0m0 .5h0m0 1h0m0 3h0m.5-9.5h0m0 2.5h0m0 7.5h0m.5-12.5h0m0 2.5h0m0 .5h0m0 1.5h0m0 2.5h0m0 3h0m.5-12.5h0m0 3.5h0m0 2h0m0 6.5h0m0 .5h0m0 1h0m0 1h0m0 .5h0m0 .5h0m0 .5h0m.5-23h0m0 7.5h0m0 3h0m0 2.5h0m0 4h0m0 .5h0m0 1h0m0 .5h0m0 1h0m0 .5h0m0 .5h0m0 .5h0m0 .5h0m0 .5h0m0 .5h0m0 .5h0m.5-14.5h0m0 2h0m0 .5h0m0 2h0m0 3.5h0m0 1h0m0 .5h0m0 .5h0m0 .5h0m0 .5h0m0 .5h0m0 1h0m0 .5h0m.5-20.5h0m0 11h0m0 2.5h0m0 2h0m0 1.5h0m0 3h0m0 .5h0m0 2h0m.5-18.5h0m0 14h0m0 .5h0m0 1.5h0m0 2h0m.5-21h0m0 1.5h0m0 5.5h0m0 7.5h0m0 4h0m0 1h0m0 .5h0m.5-21h0m0 6h0m0 1h0m0 6.5h0m0 1.5h0m0 .5h0m0 2h0m0 1.5h0m0 .5h0m0 1h0m0 .5h0m0 .5h0m.5-9.5h0m0 2h0m0 7.5h0m.5 .5h0m0 1h0m.5-8.5h0m0 3h0m0 4h0m0 .5h0m0 1h0m.5-5h0m0 6h0m0 1.5h0m0 .5h0m.5-38.5h0m0 29h0m0 5h0m0 4h0m0 1h0m0 1h0m0 2h0m.5-20.5h0m0 11.5h0m0 .5h0m0 5.5h0m0 2h0m0 1h0m.5-20.5h0m0 7h0m0 5.5h0m0 1.5h0m0 1h0m0 2h0m.5-19.5h0m0 4.5h0m0 6.5h0m0 4h0m0 1h0m0 .5h0m0 1h0m.5-22.5h0m0 18h0m0 1h0m0 1h0m0 3h0m0 .5h0m0 .5h0m0 2.5h0m0 1h0m0 1h0m0 1h0m0 .5h0m0 .5h0m0 1h0m.5-17.5h0m0 2h0m0 3.5h0m0 .5h0m0 2h0m0 1h0m0 .5h0m0 3h0m0 1h0m0 1.5h0m0 .5h0m0 1h0m0 1.5h0m.5-46h0m0 16h0m0 7h0m0 4h0m0 .5h0m0 10h0m0 1.5h0m0 1.5h0m0 .5h0m0 .5h0m0 2h0m0 .5h0m0 1h0m0 .5h0m0 .5h0m.5-5h0m0 3.5h0m0 1h0m.5-15h0m0 14h0m0 1.5h0m.5-8h0m0 1h0m.5-18h0m0 6.5h0m0 5.5h0m0 8.5h0m0 1.5h0m0 1h0m.5-20h0m0 7.5h0m0 1h0m0 2h0m0 3.5h0m0 2h0m0 .5h0m0 1.5h0m0 .5h0m.5-22.5h0m0 5h0m0 3h0m0 .5h0m0 1h0m0 4.5h0m0 2.5h0m0 2h0m0 .5h0m0 .5h0m0 .5h0m0 1h0m0 2.5h0m0 .5h0m.5-16h0m0 3h0m0 .5h0m0 2h0m0 1.5h0m0 .5h0m0 2h0m.5-17h0m0 5.5h0m0 2h0m0 2.5h0m0 1.5h0m0 2.5h0m0 2.5h0m.5-8.5h0m0 .5h0m0 6h0m0 .5h0m0 .5h0m0 .5h0m0 1h0m0 .5h0m.5-13h0m0 6.5h0m0 2h0m0 3.5h0m0 .5h0m.5-10.5h0m0 4h0m.5-13.5h0m0 1h0m0 5h0m0 6h0m0 .5h0m0 1h0m0 1.5h0m0 5.5h0m.5-13.5h0m0 8.5h0m0 .5h0m0 1.5h0m0 .5h0m0 .5h0m.5-46h0m0 34.5h0m0 1.5h0m0 2.5h0m0 3.5h0m0 3h0m.5-7h0m0 .5h0m0 1h0m0 1.5h0m0 1h0m0 .5h0m21.5-5h0m.5 2.5h0m.5-22.5h0m0 7h0m0 2h0m0 3h0m0 6.5h0m0 1.5h0m0 3.5h0m0 1h0m.5-18.5h0m0 6.5h0m0 5.5h0m0 .5h0m0 2h0m0 1h0m.5-11.5h0m0 2.5h0m0 2h0m0 .5h0m0 3h0m0 1h0m0 1.5h0m.5-13.5h0m0 6.5h0m0 2h0m0 1h0m0 1h0m.5-7.5h0m0 7.5h0m0 3.5h0m.5-8.5h0m0 .5h0m0 1h0m0 2h0m0 2.5h0m0 .5h0m0 1.5h0m0 .5h0m0 .5h0m.5-14h0m0 6.5h0m0 1h0m0 1.5h0m0 1h0m0 .5h0m0 1.5h0m0 1.5h0m0 1h0m0 .5h0m0 1h0m0 1h0m.5-15.5h0m0 2.5h0m0 2h0m0 3.5h0m0 2h0m0 1.5h0m0 1h0m0 .5h0m0 2h0m0 .5h0m.5-17.5h0m0 6h0m0 2h0m0 2.5h0m0 4h0m0 1.5h0m0 1h0m0 .5h0m0 .5h0m.5-2.5h0m.5-24h0m0 11.5h0m0 4h0m0 4.5h0m0 1h0m0 4.5h0m.5-13.5h0m0 6h0m0 .5h0m0 3h0m0 .5h0m0 1.5h0m.5-9h0m0 3.5h0m0 1h0m0 1h0m0 1h0m0 1.5h0m0 1h0m.5-20h0m0 1h0m0 2.5h0m0 3h0m0 6.5h0m0 2.5h0m0 1h0m0 .5h0m.5-9.5h0m0 4h0m0 1.5h0m0 .5h0m0 .5h0m0 3h0m.5-4h0m.5 6h0m.5-6.5h0m0 3h0m0 4.5h0m0 1.5h0m.5-20.5h0m0 12h0m0 2.5h0m0 .5h0m0 1.5h0m.5-19h0m0 14h0m0 1h0m0 .5h0m0 2h0m0 2h0m0 .5h0m0 .5h0m.5-9h0m0 2.5h0m0 .5h0m0 7.5h0m0 1h0m0 1h0m.5-23.5h0m0 19.5h0m0 1.5h0m0 .5h0m0 1h0m.5-28h0m0 7h0m0 7.5h0m0 1h0m0 4.5h0m0 2h0m0 1h0m0 1h0m0 2h0m0 .5h0m0 1h0m0 .5h0m.5-15h0m0 3.5h0m0 1h0m0 2h0m0 .5h0m0 1.5h0m0 1h0m0 1h0m0 .5h0m0 .5h0m0 .5h0m0 .5h0m0 1h0m0 1h0m0 .5h0m0 .5h0m.5-12.5h0m0 3.5h0m0 .5h0m0 3h0m0 3.5h0m0 1h0m0 .5h0m0 .5h0m0 .5h0m0 1.5h0m.5-8.5h0m0 1.5h0m0 .5h0m0 1h0m0 1h0m0 1h0m0 .5h0m0 .5h0m0 .5h0m0 .5h0m0 .5h0m0 1h0m0 .5h0m.5-17.5h0m0 4.5h0m0 .5h0m0 1h0m0 2.5h0m0 3h0m0 1.5h0m0 1h0m0 .5h0m0 1.5h0m0 .5h0m.5-11.5h0m0 .5h0m0 .5h0m0 1.5h0m0 2h0m.5-22h0m0 13.5h0m0 6h0m0 1.5h0m.5-7.5h0m0 1.5h0m0 1h0m0 3h0m.5-16.5h0m0 5h0m0 4h0m0 1h0m0 1h0m0 1.5h0m0 .5h0m0 5h0m.5-32.5h0m0 14.5h0m0 4h0m0 .5h0m0 1h0m0 3h0m0 3h0m0 1.5h0m.5-34.5h0m0 2h0m0 2.5h0m0 1h0m0 1.5h0m0 2h0m0 2h0m0 .5h0m0 1h0m0 .5h0m0 3h0m0 .5h0m0 .5h0m0 9.5h0m0 1h0m0 4.5h0m0 1h0m0 .5h0m0 .5h0m.5-33.5h0m0 1h0m0 .5h0m0 3.5h0m0 .5h0m0 1h0m0 .5h0m0 .5h0m0 1h0m0 1.5h0m0 1h0m0 .5h0m0 2.5h0m0 .5h0m0 1h0m0 .5h0m0 .5h0m0 11h0m0 1h0m0 3h0m.5-32h0m0 2.5h0m0 11h0m0 1.5h0m0 .5h0m0 .5h0m0 .5h0m0 7.5h0m0 4.5h0m0 1h0m0 1.5h0m0 2h0m0 1.5h0m0 1.5h0m0 4h0m.5-21h0m0 8h0m0 3h0m0 1.5h0m0 5.5h0m0 1h0m0 .5h0m0 .5h0m0 .5h0m.5-18.5h0m0 10.5h0m0 .5h0m0 1h0m0 .5h0m0 .5h0m0 .5h0m0 .5h0m0 1h0m0 3.5h0m0 .5h0m0 .5h0m.5-11h0m0 2.5h0m0 2h0m0 1.5h0m0 1h0m0 1h0m0 .5h0m0 .5h0m0 .5h0m0 1h0m0 .5h0m0 .5h0m.5-7.5h0m0 .5h0m0 1h0m0 1h0m0 2h0m0 2h0m0 1h0m.5-13h0m0 4h0m0 .5h0m1 2.5h0m0 1.5h0m0 6h0m0 .5h0m0 1h0m.5-4h0m.5-8h0m0 10h0m0 1.5h0m0 1.5h0m0 .5h0m.5-7h0m0 3h0m0 .5h0m0 1h0m0 1h0m0 .5h0m.5-17.5h0m0 6.5h0m0 1h0m0 3.5h0m0 .5h0m0 .5h0m0 .5h0m0 .5h0m0 1.5h0m0 1.5h0m0 1h0m.5-18.5h0m0 5.5h0m0 6.5h0m0 2h0m0 2.5h0m0 1.5h0m0 1h0m.5-21h0m0 4.5h0m0 2.5h0m0 .5h0m.5-3.5h0m0 5.5h0m0 6h0m0 3h0m0 3.5h0m0 2.5h0m.5-15h0m0 9h0m0 .5h0m0 2h0m0 1h0m0 1h0m27-7h0m0 2h0m0 .5h0m.5-15.5h0m0 3h0m0 4h0m0 5.5h0m0 1.5h0m0 1h0m0 2h0m.5-8h0m0 1.5h0m0 .5h0m0 1.5h0m0 1h0m0 1.5h0m0 .5h0m.5-9.5h0m0 1h0m0 3.5h0m0 .5h0m0 .5h0m0 1h0m0 .5h0m0 .5h0m0 .5h0m0 .5h0m0 .5h0m0 .5h0m0 1h0m0 1h0m0 .5h0m0 1h0m0 .5h0m0 1h0m0 .5h0m.5-25.5h0m0 8.5h0m0 3h0m0 3.5h0m0 2h0m0 1h0m0 .5h0m0 .5h0m0 .5h0m0 .5h0m0 .5h0m0 .5h0m0 .5h0m0 .5h0m0 .5h0m0 .5h0m0 .5h0m0 .5h0m0 .5h0m0 .5h0m0 .5h0m.5-22h0m0 14h0m0 2h0m0 1.5h0m0 .5h0m0 .5h0m0 .5h0m0 1.5h0m0 1h0m.5-8.5h0m0 3h0m0 1.5h0m.5-13.5h0m0 4.5h0m0 7.5h0m0 1h0m0 1h0m.5-20h0m0 3h0m0 4.5h0m0 3.5h0m0 1.5h0m0 .5h0m0 .5h0m0 .5h0m0 3.5h0m0 .5h0m0 1h0m.5-15.5h0m0 7h0m0 3.5h0m0 1h0m0 1.5h0m0 2.5h0m.5-6.5h0m0 2.5h0m.5-4h0m0 1h0m0 1h0m0 3h0m.5-28h0m0 2.5h0m0 2h0m0 2.5h0m0 .5h0m0 15.5h0m0 1h0m0 3h0m0 2h0m.5-29.5h0m0 2.5h0m0 1h0m0 .5h0m0 1h0m0 .5h0m0 1.5h0m0 .5h0m0 2h0m0 9h0m0 4.5h0m0 2.5h0m0 .5h0m0 2h0m.5-29h0m0 .5h0m0 4h0m0 6.5h0m0 .5h0m0 .5h0m0 6.5h0m0 1h0m0 3.5h0m0 2h0m0 1h0m0 1.5h0m.5-14h0m0 11h0m0 .5h0m0 .5h0m0 .5h0m0 .5h0m0 1.5h0m0 4.5h0m0 .5h0m.5-4h0m0 1h0m0 .5h0m0 .5h0m0 .5h0m0 .5h0m0 2h0m.5-26.5h0m0 20.5h0m0 4h0m0 2.5h0m.5-18.5h0m0 5h0m0 6.5h0m0 5.5h0m.5-9h0m0 5.5h0m0 1.5h0m0 1.5h0m0 .5h0m0 1.5h0m0 1.5h0m.5-13.5h0m0 1.5h0m0 1.5h0m0 3.5h0m0 .5h0m0 .5h0m0 1h0m0 1.5h0m0 2h0m0 .5h0m.5-12.5h0m0 5h0m0 .5h0m0 .5h0m0 .5h0m0 .5h0m0 1h0m0 2h0m0 1h0m0 .5h0m0 1h0m0 1h0m0 .5h0m0 .5h0m0 .5h0m0 .5h0m0 1h0m.5-19.5h0m0 4.5h0m0 .5h0m0 3h0m0 1h0m0 1h0m0 .5h0m0 .5h0m0 .5h0m0 .5h0m0 1h0m0 .5h0m0 1h0m0 .5h0m0 .5h0m0 .5h0m0 .5h0m0 .5h0m0 .5h0m0 .5h0m0 .5h0m0 .5h0m0 .5h0m0 .5h0m.5-27.5h0m0 .5h0m0 9.5h0m0 8.5h0m0 .5h0m0 1h0m0 2h0m0 1h0m0 .5h0m0 2h0m0 .5h0m0 .5h0m0 .5h0m0 .5h0m.5-12.5h0m0 .5h0m0 .5h0m0 5.5h0m0 1.5h0m.5-16h0m0 9h0m0 .5h0m0 5.5h0m0 3h0m0 2.5h0m.5-15.5h0m0 7h0m0 2.5h0m0 2h0m0 2.5h0m0 .5h0m.5-5h0m0 2h0m0 3h0m0 .5h0m0 4h0m.5-12h0m0 10h0m.5-22h0m0 3h0m0 1.5h0m0 7h0m0 4.5h0m0 .5h0m0 1.5h0m0 1.5h0m0 1h0m0 1h0m0 .5h0m0 1h0m.5-19.5h0m0 1h0m0 3.5h0m0 2.5h0m0 2.5h0m0 .5h0m0 .5h0m0 .5h0m0 1h0m0 .5h0m0 1.5h0m0 1h0m0 .5h0m0 1h0m0 1.5h0m0 .5h0m0 .5h0m0 .5h0m.5-9h0m0 1h0m0 3.5h0m0 1h0m0 2.5h0m0 .5h0m.5-9h0m0 4.5h0m0 4h0m.5-12h0m0 10h0m0 2h0m0 2h0m.5-13.5h0m0 1h0m0 8h0m0 2h0m0 1h0m0 1.5h0m0 .5h0m.5-23.5h0m0 3.5h0m0 1h0m0 3.5h0m0 2h0m0 3h0m0 1.5h0m0 .5h0m0 2.5h0m0 .5h0m0 .5h0m0 .5h0m.5-10h0m0 .5h0m0 1h0m0 2h0m0 .5h0m0 1h0m0 .5h0m0 .5h0m0 2h0m0 .5h0m0 .5h0m0 .5h0m.5-10.5h0m0 3h0m0 3.5h0m0 1h0m0 .5h0m0 .5h0m0 2h0m0 1h0m.5-9h0m0 6h0m0 1h0m0 1h0m.5-14h0m0 8h0m0 .5h0m0 .5h0m0 .5h0m0 .5h0m0 2.5h0m0 2h0m.5-26.5h0m0 16h0m0 3h0m0 1.5h0m.5-4h0m0 1h0m0 1h0m0 1.5h0m0 .5h0m0 1h0m.5-19.5h0m0 1h0m0 8.5h0m0 .5h0m0 8h0m.5-16h0m0 10.5h0m0 2h0m0 2h0m0 1h0m0 .5h0m0 .5h0m0 .5h0m.5-4h0m0 2.5h0m0 .5h0m0 .5h0m0 .5h0m0 1.5h0m.5-35h0m0 24.5h0m0 4.5h0m0 .5h0m0 4h0m0 .5h0m0 .5h0m0 .5h0m.5-22h0m0 6h0m0 6.5h0m0 1.5h0m0 2h0m0 1h0m0 .5h0m0 1.5h0m0 1h0m0 .5h0m0 .5h0m0 .5h0m0 .5h0m0 .5h0m.5-19h0m0 6.5h0m0 4h0m0 2h0m0 .5h0m0 1h0m0 .5h0m0 3h0m0 .5h0m.5-21.5h0m0 4.5h0m0 7h0m0 1.5h0m0 1h0m0 .5h0m0 .5h0m.5-22.5h0m0 8.5h0m0 2.5h0m0 3.5h0m0 2h0m0 3h0m0 1h0m0 .5h0m0 1h0m0 2h0m.5-9h0m0 1.5h0m0 3.5h0m0 2h0m0 .5h0m0 1h0m0 2.5h0m.5-20h0m0 1.5h0m0 7.5h0m0 3h0m0 1.5h0m0 .5h0m0 1h0m0 2h0m0 .5h0m0 1h0m.5-5h0m0 .5h0m0 2h0m0 .5h0m0 .5h0m.5-9.5h0m0 2h0m0 4h0m0 1.5h0m0 .5h0m0 .5h0m0 3.5h0m.5-9.5h0m0 1h0m0 10h0m0 1h0m0 .5h0m0 .5h0m0 .5h0m.5-25h0m0 5.5h0m0 10h0m0 .5h0m0 4.5h0m0 .5h0m0 .5h0m0 1.5h0m0 .5h0m0 1.5h0m.5-12.5h0m0 4.5h0m0 1h0m0 1h0m0 .5h0m0 3.5h0m0 .5h0m0 .5h0m0 2h0m20.5-20h0m0 9h0m0 2.5h0m0 .5h0m0 3.5h0m0 1h0m.5-19.5h0m0 5.5h0m0 1h0m0 5h0m0 1h0m0 .5h0m0 .5h0m0 .5h0m0 1h0m0 .5h0m0 .5h0m0 .5h0m0 .5h0m0 .5h0m0 .5h0m0 .5h0m0 .5h0m0 .5h0m.5-17.5h0m0 1.5h0m0 3.5h0m0 3h0m0 1.5h0m0 .5h0m0 1h0m0 1.5h0m0 .5h0m0 .5h0m0 .5h0m0 .5h0m0 .5h0m0 .5h0m0 .5h0m0 .5h0m0 1h0m0 .5h0m.5-6.5h0m0 7h0m0 .5h0m.5-8.5h0m0 1h0m0 1h0m0 1.5h0m.5-8.5h0m0 9h0m0 .5h0m0 3.5h0m0 1h0m0 .5h0m.5-11.5h0m0 2.5h0m0 1.5h0m0 2h0m0 1.5h0m0 3.5h0m0 .5h0m0 2h0m.5-15.5h0m0 1h0m0 2.5h0m0 .5h0m0 .5h0m0 3h0m0 4h0m0 .5h0m0 .5h0m.5-13h0m0 7.5h0m0 3h0m0 1h0m0 1h0m0 .5h0m0 1.5h0m.5-7h0m0 1h0m0 6h0m.5-3h0m.5-19h0m0 14.5h0m0 .5h0m0 4.5h0m0 1h0m.5-12h0m0 .5h0m0 4.5h0m0 1h0m0 1h0m.5-9.5h0m0 2h0m0 1.5h0m0 .5h0m.5-9.5h0m0 3.5h0m0 3.5h0m0 .5h0m0 .5h0m0 7.5h0m.5-9h0m0 2h0m0 7h0m0 .5h0m0 1h0m0 .5h0m0 .5h0m.5-23h0m0 14h0m0 2h0m0 5h0m0 2h0m.5-9.5h0m0 2.5h0m0 .5h0m0 .5h0m0 1.5h0m0 1h0m0 1h0m0 1h0m0 .5h0m0 .5h0m.5-16h0m0 1h0m0 1.5h0m0 7.5h0m0 5h0m0 .5h0m.5-7h0m0 3.5h0m0 2h0m0 .5h0m.5-7h0m0 3.5h0m0 .5h0m0 .5h0m0 1h0m0 .5h0m0 2.5h0m0 1h0m.5-22.5h0m0 1.5h0m0 6.5h0m0 8.5h0m0 .5h0m0 .5h0m0 .5h0m0 .5h0m0 .5h0m0 1h0m0 .5h0m0 1.5h0m0 .5h0m.5-22.5h0m0 4h0m0 4.5h0m0 1.5h0m0 .5h0m0 1.5h0m0 4.5h0m0 2.5h0m0 .5h0m0 .5h0m0 .5h0m0 1.5h0m0 1.5h0m0 .5h0m0 .5h0m.5-17h0m0 2h0m0 1h0m0 3.5h0m0 2.5h0m0 1h0m0 2.5h0m0 .5h0m0 1h0m0 1.5h0m0 1h0m0 .5h0m0 .5h0m.5-21h0m0 1.5h0m0 2.5h0m0 3h0m0 1h0m0 1h0m0 1.5h0m0 1.5h0m0 .5h0m0 1h0m0 .5h0m0 1.5h0m0 2.5h0m0 .5h0m0 .5h0m0 .5h0m0 1h0m.5-19.5h0m0 2h0m0 .5h0m0 2.5h0m0 5h0m0 .5h0m0 .5h0m0 .5h0m0 1h0m0 1h0m0 .5h0m0 .5h0m0 .5h0m0 .5h0m0 .5h0m0 .5h0m0 .5h0m0 .5h0m0 .5h0m0 .5h0m.5-18h0m0 8h0m0 1h0m0 .5h0m0 3h0m0 1.5h0m0 2h0m0 1.5h0m0 .5h0m.5-14.5h0m0 1.5h0m0 7.5h0m0 2.5h0m.5-19.5h0m0 13h0m0 .5h0m0 .5h0m0 3.5h0m0 1h0m0 1h0m.5-13h0m0 5.5h0m0 .5h0m0 1h0m0 1.5h0m0 .5h0m.5-16h0m0 14.5h0m0 .5h0m0 .5h0m0 1h0m0 4.5h0m0 .5h0m.5-12.5h0m0 3h0m0 .5h0m0 2.5h0m0 .5h0m0 2h0m0 1h0m0 .5h0m0 2h0m0 .5h0m.5-20.5h0m0 .5h0m0 7h0m0 2h0m0 2.5h0m0 3.5h0m0 1h0m0 .5h0m0 1h0m0 1h0m0 .5h0m0 .5h0m0 2.5h0m0 1.5h0m.5-19h0m0 12.5h0m0 1h0m0 1.5h0m0 1h0m0 .5h0m0 1h0m0 .5h0m.5-20h0m0 1.5h0m0 6.5h0m0 .5h0m0 2h0m0 1h0m0 .5h0m0 .5h0m0 5.5h0m0 1.5h0m0 1h0m.5-28.5h0m0 5.5h0m0 3h0m0 .5h0m0 2h0m0 1.5h0m0 .5h0m0 .5h0m0 2.5h0m0 .5h0m0 .5h0m0 .5h0m0 .5h0m0 1.5h0m0 .5h0m0 .5h0m.5-10.5h0m0 1.5h0m0 3.5h0m0 2.5h0m0 1.5h0m0 .5h0m0 1.5h0m0 8h0m.5-17.5h0m0 5h0m0 9h0m0 3h0m0 .5h0m0 .5h0m.5-29h0m0 9.5h0m0 5.5h0m0 2h0m0 1.5h0m0 .5h0m0 3h0m0 1.5h0m.5-3.5h0m0 1.5h0m0 .5h0m0 .5h0m0 .5h0m0 .5h0m.5-4.5h0m0 1h0m0 4.5h0m.5-10h0m0 8h0m0 1h0m.5-3h0m0 1h0m.5-7.5h0m0 6h0m0 2.5h0m0 .5h0m.5-4.5h0m0 5.5h0m.5-5h0m0 3.5h0m0 .5h0m.5-18.5h0m0 3.5h0m0 4h0m0 1h0m0 1.5h0m0 .5h0m0 2h0m0 1h0m0 1h0m0 .5h0m0 1.5h0m0 1h0m0 .5h0m0 .5h0m0 .5h0m.5-25.5h0m0 9h0m0 1.5h0m0 1h0m0 1.5h0m0 1h0m0 1h0m0 1h0m0 .5h0m0 .5h0m0 .5h0m0 2h0m0 .5h0m0 1h0m0 1h0m0 1h0m0 1h0m0 .5h0m0 .5h0m0 .5h0m.5-29h0m0 .5h0m0 11.5h0m0 3h0m0 7h0m0 .5h0m0 .5h0m0 .5h0m0 1.5h0m0 .5h0m0 .5h0m0 .5h0m0 1h0m0 1h0m.5-28h0m0 17.5h0m0 1.5h0m0 2.5h0m0 .5h0m0 2h0m0 1h0m0 .5h0m0 1.5h0m0 .5h0m.5-16.5h0m0 5h0m0 1h0m0 2.5h0m0 .5h0m0 .5h0m0 4h0m.5-14h0m0 7.5h0m0 2.5h0m0 1h0m.5-10h0m0 2.5h0m0 .5h0m0 1.5h0m0 2.5h0m0 1h0m0 .5h0m0 2h0m0 .5h0m.5-9.5h0m0 1h0m0 1.5h0m0 1h0m0 1.5h0m0 3h0m0 .5h0m0 .5h0m0 .5h0m.5-16h0m0 1.5h0m0 3.5h0m0 1h0m0 2h0m0 3.5h0m0 1h0m0 2h0m.5-14.5h0m0 1.5h0m0 2h0m0 1.5h0m0 2.5h0m0 3h0m0 1h0m0 2h0m0 .5h0m0 .5h0m.5-20h0m0 12h0m0 1h0m0 .5h0m0 2.5h0m0 .5h0m0 .5h0m0 .5h0m0 .5h0m0 1h0m0 .5h0m0 .5h0m.5-19h0m0 2.5h0m0 1h0m0 5.5h0m0 1.5h0m0 1h0m0 2h0m0 .5h0m0 .5h0m0 .5h0m0 .5h0m0 .5h0m0 .5h0m0 .5h0m0 .5h0m0 .5h0m0 .5h0m0 .5h0m.5-19h0m0 6.5h0m0 1h0m0 5h0m0 .5h0m0 1h0m0 .5h0m0 .5h0m0 2.5h0m0 .5h0m.5-10h0m0 10.5h0m0 1.5h0m0 2.5h0m0 1h0m.5-6h0m0 .5h0m0 1h0m0 1h0m0 .5h0m0 1h0m0 .5h0m.5-28h0m0 8h0m0 7h0m0 11.5h0m0 .5h0m0 .5h0m.5-5h0m0 4h0m0 3.5h0m.5-9h0m0 .5h0m0 .5h0m0 2.5h0m0 3h0m0 1h0m0 1h0m.5-13.5h0m0 6h0m0 2h0m0 1h0m0 1h0m0 .5h0m0 1.5h0m0 .5h0m0 .5h0m0 3h0m28-13.5h0m0 10.5h0m0 .5h0m0 1h0m.5-9h0m0 8.5h0m0 .5h0m0 .5h0m0 .5h0m0 .5h0m0 1h0m.5-5h0m0 .5h0m0 .5h0m0 3.5h0m0 .5h0m0 1h0m.5-9.5h0m.5-19.5h0m0 13.5h0m0 1.5h0m0 5h0m0 .5h0m0 .5h0m0 .5h0m0 4.5h0m0 .5h0m.5-16.5h0m0 1h0m0 3h0m0 8.5h0m0 2h0m.5-6.5h0m0 6h0m0 .5h0m0 .5h0m0 .5h0m0 1.5h0m0 .5h0m0 1h0m0 .5h0m0 1h0m0 1.5h0m.5-11h0m0 4h0m0 1h0m0 .5h0m0 2h0m0 2.5h0m0 1h0m.5-15h0m0 5.5h0m0 2h0m0 1h0m0 1.5h0m0 .5h0m0 1h0m0 .5h0m0 1.5h0m0 .5h0m0 .5h0m0 .5h0m0 .5h0m.5-17.5h0m0 1.5h0m0 1.5h0m0 1h0m0 3.5h0m0 .5h0m0 .5h0m0 .5h0m0 .5h0m0 .5h0m0 .5h0m0 1h0m0 .5h0m0 2h0m0 .5h0m0 .5h0m0 .5h0m0 .5h0m0 .5h0m0 .5h0m0 .5h0m.5-12h0m0 .5h0m0 .5h0m0 .5h0m0 .5h0m0 .5h0m0 .5h0m0 2h0m0 .5h0m0 1h0m0 .5h0m0 .5h0m0 1.5h0m0 .5h0m0 .5h0m0 .5h0m0 .5h0m0 .5h0m0 .5h0m.5-10.5h0m0 7h0m0 1h0m0 1.5h0m.5-7h0m0 1h0m0 10.5h0m.5-9.5h0m0 3h0m0 2h0m0 .5h0m0 1h0m0 2h0m0 1.5h0m.5-22.5h0m0 20h0m0 1h0m.5-22.5h0m0 4.5h0m0 8h0m0 4.5h0m0 1h0m0 2h0m0 .5h0m0 2h0m.5-16.5h0m0 1h0m0 7h0m0 4h0m0 1h0m0 .5h0m0 3h0m.5-15.5h0m0 4h0m0 2h0m0 1h0m0 1.5h0m0 .5h0m0 .5h0m0 2.5h0m.5-13.5h0m0 2h0m0 .5h0m0 2h0m0 5.5h0m0 .5h0m0 1h0m0 .5h0m0 .5h0m0 .5h0m0 .5h0m0 .5h0m0 1h0m.5-25h0m0 10h0m0 1.5h0m0 3h0m0 1.5h0m0 1h0m0 1h0m0 2h0m0 1.5h0m0 .5h0m0 .5h0m0 1h0m0 .5h0m0 .5h0m0 .5h0m.5-21h0m0 4.5h0m0 1.5h0m0 1.5h0m0 2.5h0m0 .5h0m0 .5h0m0 1h0m0 .5h0m0 .5h0m0 .5h0m0 .5h0m0 1h0m0 1.5h0m0 3h0m0 .5h0m0 .5h0m.5-26h0m0 8h0m0 .5h0m0 2.5h0m0 2.5h0m0 1.5h0m0 .5h0m0 .5h0m0 1h0m0 1h0m.5-22h0m0 12h0m0 3.5h0m0 4h0m0 .5h0m0 1h0m0 1h0m0 .5h0m0 5.5h0m.5-17.5h0m0 9h0m0 4.5h0m0 5.5h0m0 1h0m0 .5h0m0 .5h0m.5-22h0m0 8h0m0 7h0m0 1.5h0m0 1h0m0 .5h0m0 1.5h0m0 .5h0m0 1.5h0m.5-5h0m0 6h0m.5-20h0m0 10h0m0 .5h0m0 1h0m0 3.5h0m0 1.5h0m0 1.5h0m0 1.5h0m.5-9h0m.5 2.5h0m.5-10h0m0 1.5h0m0 1h0m.5 5.5h0m0 .5h0m0 1h0m0 3h0m.5-17.5h0m0 13.5h0m0 .5h0m0 .5h0m0 .5h0m0 1h0m0 1.5h0m.5-10h0m0 4.5h0m0 3h0m0 .5h0m0 .5h0m0 1.5h0m0 .5h0m0 .5h0m.5-8.5h0m0 1.5h0m0 2h0m0 .5h0m0 1.5h0m0 2h0m0 1h0m.5-22h0m0 3h0m0 1h0m0 15.5h0m0 1h0m0 1.5h0m.5-12.5h0m0 2h0m0 3.5h0m0 .5h0m0 1h0m0 1h0m.5-29.5h0m0 1h0m0 2.5h0m0 5h0m0 11h0m0 3h0m0 2h0m0 1h0m0 .5h0m0 1.5h0m0 .5h0m0 .5h0m0 2h0m.5-38h0m0 3.5h0m0 .5h0m0 .5h0m0 .5h0m0 2h0m0 1h0m0 1.5h0m0 3h0m0 4.5h0m0 1h0m0 .5h0m0 .5h0m0 2h0m0 1h0m0 4h0m0 2.5h0m0 1h0m0 1h0m0 .5h0m0 .5h0m0 1h0m0 1h0m0 .5h0m0 1h0m0 1h0m0 1.5h0m0 .5h0m.5-27.5h0m0 5h0m0 .5h0m0 1h0m0 2.5h0m0 2h0m0 .5h0m0 2h0m0 2.5h0m0 1.5h0m0 1h0m0 .5h0m0 1.5h0m0 .5h0m0 2h0m0 1.5h0m0 .5h0m0 .5h0m0 .5h0m0 .5h0m0 1h0m.5-34h0m0 4h0m0 9h0m0 5h0m0 .5h0m0 6h0m0 2h0m0 2h0m0 1h0m0 1h0m0 .5h0m0 .5h0m0 1h0m0 .5h0m0 .5h0m.5-20.5h0m0 15h0m0 2h0m0 .5h0m0 .5h0m0 3.5h0m0 3.5h0m0 2h0m.5-21.5h0m0 14h0m0 3h0m0 2.5h0m0 .5h0m.5-15.5h0m0 12.5h0m0 1.5h0m0 .5h0m0 1.5h0m0 1h0m.5-17h0m0 7.5h0m0 3h0m0 2.5h0m0 4h0m.5-19.5h0m0 10.5h0m0 .5h0m0 4.5h0m.5-11h0m0 1.5h0m0 .5h0m0 4.5h0m0 2h0m.5-13.5h0m0 6h0m0 3.5h0m0 2.5h0m0 2h0m0 1.5h0m0 1h0m0 1h0m0 3h0m0 .5h0m.5-23.5h0m0 12.5h0m0 4h0m0 4h0m0 1h0m0 .5h0m0 1.5h0m0 .5h0m.5-20.5h0m0 1.5h0m0 5.5h0m0 4.5h0m0 2.5h0m0 3.5h0m0 1.5h0m0 1h0m.5-10.5h0m0 3h0m0 5.5h0m.5-12.5h0m0 6.5h0m0 .5h0m0 1h0m0 1h0m0 2.5h0m0 .5h0m0 .5h0m0 .5h0m0 .5h0m.5-26h0m0 7h0m0 2.5h0m0 1.5h0m0 4.5h0m0 5h0m0 1h0m0 .5h0m0 1h0m.5-1h0m0 1h0m0 1.5h0m0 .5h0m0 1h0m0 1h0m.5-27.5h0m0 13h0m0 3.5h0m0 .5h0m0 4h0m0 .5h0m0 2h0m0 1h0m0 .5h0m0 .5h0m0 .5h0m0 .5h0m0 .5h0m0 .5h0"/>
<path fill="#CD8500" d="M80.8 452.9L80.8 422.6L81.3 422.6L81.8 422.6L82.3 422.6L82.8 424.3L83.3 424.6L83.8 424.6L84.3 424.9L84.8 422.6L85.3 422.7L85.8 427.2L86.3 427.9L86.8 422.6L87.3 422.6L87.8 431.4L88.3 431.9L88.8 432.7L89.3 432.9L89.8 430.5L90.3 430.7L90.8 435.3L91.3 435.5L91.8 430.7L92.3 430.9L92.8 429.3L93.3 429.5L93.8 431.9L94.3 431.9L94.8 432.3L95.3 432.2L95.8 430.6L96.3 430.5L96.8 431.9L97.3 431.8L97.8 431.3L98.3 431.2L98.8 433.9L99.3 433.8L99.8 433.1L100.3 432.7L100.8 431L101.3 430.3L101.8 427L102.3 426.3L102.8 428.9L103.3 428.2L103.8 426L104.3 425.6L104.8 427.2L105.3 427L105.8 425.6L106.3 425.5L106.8 422.6L107.2 422.6L107.2 452.9ZM132.5 452.9L132.5 421.3L133 421.4L133.5 424.4L134 424.6L134.5 422.7L135 422.8L135.5 426L136 426.2L136.5 422.8L137 421.6L137.5 417.2L138 416.1L138.5 416.3L139 416.1L139.5 417.6L140 417.3L140.5 414.9L141 414.6L141.5 414.8L142 414.5L142.5 417.9L143 417.6L143.5 415.8L144 415.5L144.5 418L145 417.8L145.5 416.5L146 416.2L146.5 415.1L147 415.5L147.5 415.5L148 415.9L148.5 420.3L149 420.7L149.5 415.3L150 415.1L150.5 415.6L151 415.4L151.5 413.6L152 413.4L152.5 414.5L153 414.8L153.5 414.3L154 414.7L154.5 416.2L155 416.6L155.5 418.2L156 418.6L156.5 413.6L157 414L157.5 418.6L158 419L158.5 420.8L159 420.8L159.5 419.7L160 419.7L160.5 422.7L160.8 422.7L160.8 452.9ZM184.1 452.9L184.1 418L184.6 417.9L185.1 421.8L185.6 421.7L186.1 423.2L186.6 423.1L187.1 418.8L187.6 418.6L188.1 417.3L188.6 416.9L189.1 416.9L189.6 416.9L190.1 417.9L190.6 417.5L191.1 416.9L191.6 416.9L192.1 417.8L192.6 418L193.1 418.4L193.6 418.5L194.1 418.4L194.6 418.5L195.1 416.9L195.6 416.9L196.1 418.5L196.6 419.7L197.1 424.8L197.6 425.9L198.1 427.3L198.6 427.7L199.1 425.4L199.6 425.9L200.1 427.3L200.6 427.8L201.1 430.5L201.6 430.9L202.1 430.5L202.6 430.5L203.1 431.7L203.6 431.7L204.1 430.7L204.6 430.7L205.1 428.6L205.6 428.6L206.1 429.4L206.6 428.8L207.1 421.9L207.6 421.4L208.1 432.2L208.6 431.6L209.1 427.8L209.6 427.6L210.1 426.7L210.6 426.5L211.1 423.3L211.6 423.1L212.1 427.4L212.1 452.9ZM236.3 452.9L236.3 424.9L236.8 425L237.3 424L237.8 424L238.3 426.3L238.8 426.5L239.3 425.6L239.8 425.7L240.3 424L240.8 424L241.3 427.5L241.8 427.9L242.3 425.4L242.8 425.8L243.3 428.5L243.8 428.9L244.3 425.9L244.8 426.5L245.3 429L245.8 429.6L246.3 430.9L246.8 431.4L247.3 433.5L247.8 434.1L248.3 432.1L248.8 432.9L249.3 433.7L249.8 434.4L250.3 436.9L250.8 437.7L251.3 437.8L251.8 438.3L252.3 443.4L252.8 444L253.3 438.4L253.8 436.9L254.3 440L254.8 438.6L255.3 434L255.8 432.7L256.3 431L256.8 429.7L257.3 426.3L257.8 424.9L258.3 427.2L258.8 427L259.3 427.4L259.8 427.3L260.3 428.3L260.8 428.2L261.3 425.4L261.8 425.3L262.3 424L262.8 424L262.8 452.9ZM289.9 452.9L289.9 424.7L290.4 424.4L290.9 425.7L291.4 425.1L291.9 424.3L292.4 422.3L292.9 422.4L293.4 420.1L293.9 412.6L294.4 412.6L294.9 414.2L295.4 415.4L295.9 422.4L296.4 424.3L296.9 422.4L297.4 422.9L297.9 421.5L298.4 421.6L298.9 422.6L299.4 422.7L299.9 420.2L300.4 420.3L300.9 422.8L301.4 422.9L301.9 413.7L302.4 413.6L302.9 422.8L303.4 422.7L303.9 423.9L304.4 423.8L304.9 427.6L305.4 427.5L305.9 421.8L306.4 421.6L306.9 425.9L307.4 425.7L307.9 424.3L308.4 424.1L308.9 419.8L309.4 418.6L309.9 419.4L310.4 418.1L310.9 412.6L311.4 412.6L311.9 417.3L312.4 418.4L312.9 418.8L313.4 419.9L313.9 419.6L314.4 420.8L314.9 420.7L315.4 421L315.9 422.4L316.4 422.6L316.9 423.5L317.4 423.7L317.9 423L318.4 423.1L318.6 423.2L318.6 452.9ZM337.7 452.9L337.7 428.2L338.2 428.2L338.7 423.1L339.2 423.1L339.7 422.3L340.2 421L340.7 419.9L341.2 416.9L341.7 416.1L342.2 416.1L342.7 414.4L343.2 415.4L343.7 420.6L344.2 422.9L344.7 425.9L345.2 426.1L345.7 421.6L346.2 421.8L346.7 425.3L347.2 425.5L347.7 414.1L348.2 414.1L348.7 422.9L349.2 422.9L349.7 419.6L350.2 419.6L350.7 423.6L351.2 423.6L351.7 423.4L352.2 423.3L352.7 426.3L353.2 426.2L353.7 420.8L354.2 420.6L354.7 421.8L355.2 421.6L355.7 421.4L356.2 421.5L356.7 420.9L357.2 421.3L357.7 419.4L358.2 419.7L358.7 422.1L359.2 422.3L359.2 452.9ZM384.6 452.9L384.6 422.4L385.1 422.6L385.6 420.7L386.1 421.1L386.6 422.2L387.1 422.6L387.6 420.6L388.1 420.6L388.6 423.4L389.1 422.3L389.6 424.3L390.1 423.2L390.6 421.2L391.1 420.5L391.6 415.5L392.1 414.8L392.6 418.3L393.1 417.9L393.6 414.4L394.1 415.3L394.6 422.6L395.1 423.2L395.6 412.6L396.1 412.6L396.6 417.9L397.1 417.2L397.6 412.6L398.1 412.6L398.6 412.6L399.1 413.1L399.6 415.7L400.1 416.5L400.6 417.2L401.1 417.8L401.6 419.6L402.1 419.9L402.6 416.4L403.1 415.4L403.6 418.6L404.1 417.6L404.6 412.7L405.1 412.6L405.6 415.5L406.1 415.9L406.6 414.6L407.1 415L407.6 415.9L408.1 416.2L408.6 414.1L409.1 414.5L409.6 414.8L410.1 415.1L410.6 416.5L411.1 416.9L411.4 417L411.4 452.9ZM439.5 452.9L439.5 427.7L440 427.7L440.5 425.2L441 425.2L441.5 426.4L442 426.4L442.5 424.8L443 424.8L443.5 424.5L444 424.5L444.5 424.5L445 424.9L445.5 427L446 427.4L446.5 429.8L447 430.2L447.5 426.5L448 426.7L448.5 430.3L449 430.4L449.5 427.4L450 427.5L450.5 423.5L451 423.7L451.5 430.4L452 429.8L452.5 427.3L453 426.7L453.5 424L454 423.4L454.5 423.3L455 422.4L455.5 421.7L456 420.8L456.5 419.7L457 418.8L457.5 418.3L458 418.3L458.5 418.3L459 418.3L459.5 420.2L460 420.4L460.2 420.4L460.2 452.9ZM492.2 452.9L492.2 418.8L492.7 418.6L493.2 416.9L493.7 416.9L494.2 416.9L494.7 416.9L495.2 416.9L495.7 416.9L496.2 416.9L496.7 416.9L497.2 423.1L497.7 424.5L498.2 424.7L498.7 426.2L499.2 423.2L499.7 423.3L500.2 424.6L500.7 424.7L501.2 423.4L501.7 423.5L502.2 428.9L502.7 429.1L503.2 425.4L503.7 425.3L504.2 429.1L504.7 429L505.2 429.8L505.7 429.7L506.2 426.4L506.7 426.3L507.2 426L507.7 425.9L508.2 421.8L508.7 421.8L509.2 427.1L509.7 427.1L510.2 429.4L510.7 429.4L511.2 427L511.7 427L512.2 424.9L512.7 424.9L513.2 424.8L513.7 424.9L514.2 424.4L514.7 424.4L515.2 426.8L515.7 426.9L516.2 425.6L516.7 425.6L517.2 422.7L517.7 422.8L518.2 428.8L518.7 428.9L519.2 425.2L519.7 425.2L520 425.3L520 452.9Z"/>
<path class="d" stroke="#CD8500" d="M81 408h0m0 3h0m0 4h0m0 2h0m0 1h0m0 1h0m0 2.5h0m0 1h0m0 1h0m0 .5h0m.5-13h0m0 2.5h0m0 .5h0m0 .5h0m0 2.5h0m0 .5h0m0 1.5h0m0 .5h0m0 .5h0m0 .5h0m0 .5h0m0 1.5h0m0 .5h0m.5-12h0m0 3h0m0 3.5h0m0 2h0m0 1h0m0 1.5h0m0 .5h0m0 1h0m.5-15h0m0 1.5h0m0 5.5h0m0 2.5h0m0 1h0m0 2h0m0 .5h0m.5-14.5h0m0 5h0m0 .5h0m0 1h0m0 7h0m0 .5h0m0 1h0m0 .5h0m0 .5h0m0 .5h0m0 .5h0m0 1h0m0 .5h0m0 .5h0m.5-14.5h0m0 3h0m0 1h0m0 .5h0m0 1.5h0m0 1h0m0 .5h0m0 .5h0m0 .5h0m0 1h0m0 1h0m0 .5h0m0 .5h0m0 .5h0m0 .5h0m0 .5h0m0 .5h0m0 1h0m.5-10h0m0 3h0m0 .5h0m0 3h0m0 .5h0m0 .5h0m0 .5h0m0 .5h0m0 .5h0m0 .5h0m0 1h0m.5-23.5h0m0 7h0m0 6.5h0m0 .5h0m0 .5h0m0 .5h0m0 .5h0m0 1h0m0 1h0m0 1.5h0m0 .5h0m0 .5h0m0 .5h0m0 2h0m0 .5h0m.5-16.5h0m0 4.5h0m0 2h0m0 .5h0m0 1h0m0 5.5h0m0 .5h0m0 .5h0m0 .5h0m0 1h0m0 .5h0m.5-23.5h0m0 5h0m0 1.5h0m0 4.5h0m0 5h0m0 .5h0m0 .5h0m0 .5h0m0 .5h0m0 .5h0m0 1h0m.5-25.5h0m0 9h0m0 4.5h0m0 1.5h0m0 3.5h0m0 .5h0m0 1h0m0 .5h0m0 .5h0m0 2.5h0m0 3h0m0 .5h0m0 .5h0m0 .5h0m0 .5h0m0 2h0m0 1h0m.5-19.5h0m0 3.5h0m0 4.5h0m0 2.5h0m0 1h0m0 .5h0m0 2h0m0 1h0m0 .5h0m0 .5h0m0 .5h0m0 1h0m0 .5h0m0 .5h0m0 .5h0m0 .5h0m0 1h0m0 .5h0m.5-21h0m0 1.5h0m0 1.5h0m0 2h0m0 1h0m0 1.5h0m0 .5h0m0 .5h0m0 1h0m0 4h0m0 .5h0m0 2.5h0m0 .5h0m0 2h0m0 1h0m0 .5h0m.5-24.5h0m0 6.5h0m0 10h0m0 1.5h0m.5-9.5h0m0 .5h0m0 5.5h0m0 .5h0m0 1h0m0 1.5h0m0 1.5h0m0 1.5h0m0 5.5h0m0 .5h0m.5-15h0m0 6.5h0m0 2.5h0m0 1.5h0m0 .5h0m0 .5h0m0 1.5h0m0 .5h0m0 .5h0m0 .5h0m0 .5h0m0 .5h0m0 .5h0m0 .5h0m0 .5h0m0 .5h0m.5-12.5h0m0 3.5h0m0 .5h0m0 1.5h0m0 1h0m0 1h0m0 1.5h0m0 1h0m0 1h0m0 .5h0m0 1h0m0 .5h0m.5-24.5h0m0 11.5h0m0 2h0m0 .5h0m0 2h0m0 .5h0m0 .5h0m0 .5h0m0 .5h0m0 2.5h0m0 .5h0m0 1h0m0 .5h0m0 .5h0m0 .5h0m0 .5h0m0 .5h0m.5-12.5h0m0 2.5h0m0 1h0m0 4.5h0m0 1.5h0m0 1h0m0 1h0m0 1h0m.5-9h0m0 1h0m0 .5h0m0 2h0m0 1h0m0 .5h0m0 1h0m0 .5h0m0 .5h0m.5-6.5h0m0 2h0m0 1.5h0m0 1h0m.5-8.5h0m0 15h0m.5-25h0m0 10.5h0m0 4h0m0 3h0m0 1h0m0 .5h0m.5-12.5h0m0 .5h0m0 1h0m0 3.5h0m0 3h0m0 1h0m0 2h0m0 .5h0m0 1h0m0 .5h0m0 .5h0m0 .5h0m0 .5h0m.5-22h0m0 8h0m0 3h0m0 .5h0m0 1.5h0m0 3h0m0 .5h0m0 .5h0m0 .5h0m0 .5h0m0 .5h0m0 .5h0m0 .5h0m0 .5h0m0 .5h0m0 .5h0m0 1h0m.5-15h0m0 4.5h0m0 1.5h0m0 1.5h0m0 2.5h0m0 2.5h0m0 .5h0m.5-5h0m0 2h0m0 1.5h0m0 .5h0m0 .5h0m0 1.5h0m0 .5h0m.5-10h0m0 3.5h0m0 5.5h0m0 1.5h0m0 1h0m.5-22.5h0m0 16.5h0m0 .5h0m0 2h0m0 1.5h0m0 1h0m0 1h0m.5-11h0m0 5.5h0m0 4.5h0m.5-5.5h0m0 1h0m0 2h0m.5-20.5h0m0 7.5h0m0 8h0m0 .5h0m0 2h0m0 2.5h0m0 .5h0m.5-14.5h0m0 1h0m0 .5h0m0 2h0m0 4.5h0m0 2.5h0m0 3h0m0 .5h0m0 1h0m0 .5h0m0 1h0m.5-22.5h0m0 6.5h0m0 1h0m0 .5h0m0 1h0m0 1h0m0 1h0m0 .5h0m0 .5h0m0 .5h0m0 2.5h0m0 .5h0m0 1h0m0 1h0m0 .5h0m0 .5h0m0 1h0m0 .5h0m0 .5h0m0 1h0m0 .5h0m0 .5h0m0 .5h0m.5-13.5h0m0 4.5h0m0 1h0m0 4h0m0 .5h0m0 .5h0m0 1h0m0 .5h0m0 1h0m0 .5h0m.5-4h0m0 .5h0m0 1h0m.5 0h0m.5-12h0m0 9h0m0 6.5h0m.5-12h0m0 11.5h0m.5-8h0m0 1h0m0 5h0m0 .5h0m0 .5h0m0 1h0m.5-19.5h0m0 1h0m0 2.5h0m0 .5h0m0 5.5h0m0 3h0m0 1.5h0m0 .5h0m0 1h0m0 .5h0m0 .5h0m0 .5h0m0 .5h0m0 .5h0m.5-34.5h0m0 23h0m0 .5h0m0 .5h0m0 .5h0m0 1h0m0 3h0m0 1h0m0 .5h0m0 .5h0m0 1h0m0 .5h0m0 .5h0m0 .5h0m0 .5h0m0 .5h0m.5-18.5h0m0 4h0m0 3.5h0m0 .5h0m0 .5h0m0 .5h0m0 .5h0m0 .5h0m0 .5h0m0 .5h0m0 .5h0m0 1h0m0 .5h0m0 .5h0m0 .5h0m0 3h0m.5-23.5h0m0 2h0m0 2h0m0 2h0m0 1h0m0 1h0m0 1h0m0 .5h0m0 .5h0m0 .5h0m0 .5h0m0 .5h0m0 1.5h0m0 1h0m0 .5h0m0 1h0m0 .5h0m0 .5h0m0 .5h0m0 .5h0m0 .5h0m0 .5h0m0 .5h0m0 .5h0m0 .5h0m0 .5h0m0 .5h0m.5-22.5h0m0 8h0m0 4.5h0m0 1.5h0m0 1.5h0m0 1.5h0m0 1h0m0 .5h0m0 1h0m0 .5h0m0 .5h0m0 1h0m0 .5h0m.5-9.5h0m0 4h0m0 3.5h0m0 1.5h0m0 2h0m0 1h0m.5-21.5h0m0 3.5h0m0 6.5h0m0 2.5h0m0 1.5h0m0 .5h0m0 .5h0m0 1h0m0 .5h0m0 1.5h0m0 .5h0m.5-15.5h0m0 3h0m0 2.5h0m0 .5h0m0 2h0m0 1.5h0m0 .5h0m0 .5h0m0 1.5h0m0 1h0m0 .5h0m0 .5h0m0 .5h0m0 .5h0m0 .5h0m0 .5h0m.5-19h0m0 12h0m0 1h0m0 2h0m0 2.5h0m.5-4.5h0m0 .5h0m.5-17.5h0m0 2h0m0 7h0m0 6h0m0 4.5h0m.5-18.5h0m0 .5h0m0 9.5h0m0 .5h0m0 2h0m0 1.5h0m0 .5h0m0 3.5h0m0 1h0m0 1h0m0 .5h0m0 1h0m.5-16h0m0 5h0m0 3.5h0m0 1h0m0 1.5h0m0 .5h0m0 2h0m0 .5h0m0 2h0m25.5-26h0m0 16.5h0m0 5.5h0m.5-13.5h0m0 2.5h0m0 1.5h0m0 2h0m0 3h0m0 .5h0m0 2.5h0m0 1.5h0m0 1h0m0 1h0m.5-8.5h0m0 1h0m0 7.5h0m0 1h0m0 .5h0m.5-18.5h0m0 .5h0m0 5h0m0 2.5h0m0 1h0m0 5.5h0m0 3h0m.5-16.5h0m0 4.5h0m0 .5h0m0 4h0m0 1.5h0m0 3.5h0m0 1h0m.5-11h0m0 3h0m0 2.5h0m0 6h0m0 2h0m0 1.5h0m.5-15.5h0m0 4.5h0m0 3.5h0m0 2.5h0m0 2h0m0 1.5h0m0 .5h0m0 1h0m.5-29h0m0 4.5h0m0 8.5h0m0 6h0m0 1.5h0m0 1.5h0m0 .5h0m0 1.5h0m0 .5h0m0 .5h0m0 .5h0m0 .5h0m0 1h0m0 .5h0m0 .5h0m.5-22h0m0 4.5h0m0 2.5h0m0 4h0m0 1h0m0 .5h0m0 1h0m0 .5h0m0 .5h0m0 .5h0m0 .5h0m0 .5h0m0 .5h0m0 2h0m0 .5h0m0 .5h0m.5-17.5h0m0 3.5h0m0 3.5h0m0 .5h0m0 3h0m0 1h0m0 .5h0m0 4h0m0 .5h0m0 .5h0m0 .5h0m.5-21h0m0 2h0m0 3.5h0m0 4h0m0 1h0m0 1.5h0m0 1h0m0 1h0m0 1.5h0m.5-10h0m0 5.5h0m0 3h0m.5-5h0m0 2.5h0m0 2h0m0 .5h0m0 .5h0m.5-14h0m0 1h0m0 7h0m0 3.5h0m0 1.5h0m0 2.5h0m.5-24h0m0 11.5h0m0 3h0m0 6h0m0 1.5h0m0 .5h0m.5-7.5h0m0 5h0m0 1h0m0 3h0m.5-10h0m0 .5h0m0 .5h0m0 3h0m.5-1.5h0m0 2.5h0m.5 1.5h0m.5-9h0m0 .5h0m0 5.5h0m0 .5h0m0 2h0m0 .5h0m0 .5h0m0 1h0m0 .5h0m0 .5h0m0 .5h0m0 .5h0m.5-23h0m0 .5h0m0 3.5h0m0 3.5h0m0 1h0m0 1.5h0m0 2.5h0m0 .5h0m0 1.5h0m0 1h0m0 .5h0m0 .5h0m0 .5h0m0 1h0m0 .5h0m0 1h0m0 1h0m0 .5h0m0 .5h0m0 .5h0m0 .5h0m0 .5h0m.5-9.5h0m0 2h0m0 2h0m0 3.5h0m0 1h0m0 .5h0m0 .5h0m.5-16.5h0m0 6.5h0m0 2h0m0 1h0m0 1.5h0m0 2.5h0m0 .5h0m.5-20.5h0m0 9h0m0 6h0m0 5.5h0m0 2h0m0 .5h0m.5-13.5h0m0 5h0m0 2.5h0m0 5h0m0 1h0m0 .5h0m.5-28.5h0m0 1.5h0m0 2.5h0m0 5h0m0 8.5h0m0 1h0m0 6h0m0 .5h0m0 1.5h0m0 1h0m.5-34.5h0m0 4.5h0m0 1.5h0m0 .5h0m0 2h0m0 .5h0m0 .5h0m0 1h0m0 1h0m0 .5h0m0 .5h0m0 .5h0m0 3h0m0 8.5h0m0 1h0m0 2h0m0 1h0m0 1.5h0m0 2.5h0m0 .5h0m0 .5h0m.5-35h0m0 8.5h0m0 .5h0m0 4h0m0 1h0m0 1h0m0 7h0m0 1h0m0 4.5h0m0 .5h0m0 1.5h0m0 .5h0m0 4h0m.5-30h0m0 2h0m0 2h0m0 1h0m0 1h0m0 .5h0m0 3h0m0 10h0m0 4h0m0 1h0m0 2.5h0m0 2.5h0m.5-16.5h0m0 2.5h0m0 2.5h0m0 5.5h0m0 .5h0m0 5.5h0m.5-6.5h0m0 6.5h0m.5-4.5h0m0 2h0m0 1h0m0 .5h0m0 4h0m0 .5h0m0 2h0m.5-26.5h0m0 5.5h0m0 2h0m0 .5h0m0 7.5h0m0 5.5h0m0 1h0m0 1h0m0 .5h0m0 .5h0m.5-14h0m0 8h0m0 .5h0m0 2h0m0 2h0m0 1.5h0m0 .5h0m.5-9h0m.5-13h0m0 9.5h0m0 3h0m0 .5h0m0 .5h0m0 .5h0m0 1h0m0 .5h0m0 .5h0m0 1h0m0 1h0m0 .5h0m0 .5h0m.5-12h0m0 1h0m0 .5h0m0 .5h0m0 1.5h0m0 2h0m0 .5h0m0 2h0m0 1h0m0 .5h0m0 1.5h0m0 1h0m0 .5h0m.5-8.5h0m0 1h0m0 1h0m0 2.5h0m0 3.5h0m.5-15h0m0 2.5h0m0 1h0m0 .5h0m0 4h0m0 3h0m0 2h0m.5-5h0m0 4h0m0 1.5h0m.5-12h0m0 10h0m0 2h0m.5-10.5h0m0 6.5h0m0 4.5h0m.5-8.5h0m0 7h0m.5-1.5h0m0 1h0m.5-11.5h0m0 13h0m0 .5h0m0 1h0m.5-7h0m0 1h0m0 2h0m0 5h0m0 .5h0m0 1h0m0 .5h0m.5-12.5h0m0 1.5h0m0 2h0m0 1.5h0m0 3.5h0m0 .5h0m0 1h0m0 2h0m.5-13h0m0 7h0m0 1h0m0 .5h0m0 3h0m0 .5h0m0 .5h0m0 .5h0m.5-16h0m0 5.5h0m0 5.5h0m0 .5h0m0 .5h0m.5-7h0m0 2h0m0 8h0m0 .5h0m0 1.5h0m.5-16.5h0m0 4.5h0m0 7h0m0 2.5h0m0 1.5h0m0 1h0m.5-10h0m0 7h0m0 2h0m0 .5h0m0 .5h0m.5-8h0m0 3h0m0 1h0m0 3h0m0 1.5h0m.5-4.5h0m0 3.5h0m0 2.5h0m.5-6.5h0m.5-4.5h0m0 2h0m0 1.5h0m0 1.5h0m0 .5h0m0 1h0m0 1.5h0m0 .5h0m0 .5h0m0 .5h0m0 .5h0m.5-14h0m0 1h0m0 1h0m0 1h0m0 .5h0m0 3h0m0 .5h0m0 .5h0m0 2h0m0 .5h0m0 .5h0m0 1h0m0 .5h0m0 .5h0m0 .5h0m0 .5h0m0 .5h0m.5-14h0m0 9.5h0m0 3h0m0 .5h0m23-12.5h0m.5 1.5h0m0 2h0m0 4.5h0m.5-3.5h0m0 3h0m0 .5h0m0 1h0m0 1h0m0 2h0m0 .5h0m.5-4.5h0m0 1.5h0m0 1.5h0m0 3h0m.5-10h0m0 1h0m0 1h0m0 .5h0m0 1h0m0 2h0m0 .5h0m0 1.5h0m0 .5h0m0 .5h0m0 .5h0m0 1h0m0 1.5h0m0 1h0m0 .5h0m.5-19.5h0m0 1h0m0 1h0m0 1h0m0 4h0m0 2.5h0m0 .5h0m0 2h0m0 .5h0m0 .5h0m0 1.5h0m0 .5h0m0 .5h0m0 .5h0m0 .5h0m0 .5h0m0 .5h0m0 .5h0m0 .5h0m0 1h0m.5-16h0m0 4.5h0m0 1.5h0m0 .5h0m0 .5h0m0 .5h0m0 1.5h0m0 1h0m0 .5h0m0 1h0m0 1h0m0 .5h0m0 1h0m0 1h0m0 .5h0m0 .5h0m.5-19.5h0m0 3h0m0 2h0m0 1h0m0 1.5h0m0 1h0m0 .5h0m0 .5h0m0 .5h0m0 1.5h0m0 1h0m0 .5h0m0 1h0m0 .5h0m0 .5h0m.5-14.5h0m0 2.5h0m0 .5h0m0 1.5h0m0 .5h0m0 1h0m0 2h0m0 .5h0m0 1.5h0m0 1.5h0m0 1.5h0m.5-20h0m0 10h0m0 .5h0m0 1.5h0m0 4.5h0m0 1h0m0 .5h0m0 .5h0m0 .5h0m0 .5h0m.5-9h0m0 3.5h0m0 3h0m0 1h0m.5-.5h0m0 2h0m.5-16.5h0m0 14.5h0m0 .5h0m0 2.5h0m.5-11h0m0 2.5h0m0 1.5h0m0 .5h0m0 1h0m0 1h0m0 1h0m0 .5h0m0 1h0m0 1.5h0m0 .5h0m.5-13h0m0 2h0m0 1.5h0m0 2h0m0 5.5h0m0 .5h0m0 .5h0m0 .5h0m.5-9h0m0 2.5h0m0 4h0m.5 0h0m1-8h0m0 3h0m0 5h0m0 1h0m0 .5h0m0 1h0m0 1h0m.5-11.5h0m0 2h0m0 2.5h0m0 2.5h0m0 .5h0m0 2h0m0 2h0m.5-7.5h0m0 1h0m0 1.5h0m0 .5h0m0 .5h0m0 1h0m0 3h0m.5-20h0m0 9.5h0m0 4h0m0 1h0m0 .5h0m0 .5h0m0 .5h0m0 .5h0m0 .5h0m0 .5h0m0 .5h0m0 .5h0m0 1h0m0 .5h0m.5-17.5h0m0 5.5h0m0 3h0m0 1h0m0 2h0m0 1h0m0 1h0m0 1.5h0m0 .5h0m0 .5h0m0 .5h0m0 .5h0m.5-10h0m0 1.5h0m0 1h0m0 .5h0m0 2h0m0 .5h0m0 1h0m0 1.5h0m.5-20h0m0 20h0m0 1.5h0m.5-8.5h0m0 1h0m0 2h0m0 .5h0m0 3h0m0 1.5h0m0 1.5h0m0 1h0m.5-11h0m0 4h0m0 2h0m0 2.5h0m0 3.5h0m0 1.5h0m0 2.5h0m0 1h0m0 .5h0m.5-12.5h0m0 8h0m0 2h0m.5-10h0m0 3.5h0m0 4.5h0m0 1h0m0 .5h0m0 1h0m0 1h0m0 1h0m0 .5h0m0 .5h0m0 1h0m.5-13.5h0m0 6.5h0m0 .5h0m0 2h0m0 .5h0m0 1h0m0 .5h0m0 .5h0m0 1h0m.5-12h0m0 4.5h0m0 3h0m0 3h0m0 .5h0m0 1h0m0 1h0m.5-6.5h0m0 1.5h0m0 1h0m.5-21h0m0 17h0m0 .5h0m0 1h0m0 1.5h0m0 1.5h0m0 .5h0m0 .5h0m0 .5h0m0 2h0m.5-17h0m0 3h0m0 2h0m0 1h0m0 1.5h0m0 2h0m0 2h0m0 1.5h0m0 .5h0m0 .5h0m0 3h0m.5-5h0m0 4.5h0m0 2.5h0m.5-4h0m.5-14.5h0m0 8.5h0m0 6.5h0m0 1.5h0m0 2.5h0m.5-10h0m0 3.5h0m0 .5h0m0 1.5h0m0 1.5h0m0 .5h0m0 1h0m0 1.5h0m.5-17.5h0m0 3h0m0 1h0m0 12h0m0 .5h0m0 .5h0m0 .5h0m0 .5h0m0 1h0m.5-14.5h0m0 3.5h0m0 5h0m0 .5h0m0 1h0m0 1.5h0m0 1.5h0m.5-7h0m0 1.5h0m0 1h0m0 .5h0m0 2h0m0 1h0m0 .5h0m0 1.5h0m.5-18.5h0m0 7h0m0 4.5h0m0 2h0m0 1h0m.5-9h0m0 5h0m0 6.5h0m.5-8h0m0 7h0m.5-9h0m0 5.5h0m0 1.5h0m.5-17h0m0 14.5h0m0 1.5h0m0 1.5h0m0 1h0m0 .5h0m.5-29h0m0 9.5h0m0 3h0m0 .5h0m0 .5h0m0 2h0m0 .5h0m0 .5h0m0 .5h0m0 .5h0m0 .5h0m0 .5h0m0 1h0m0 .5h0m0 .5h0m0 .5h0m0 .5h0m0 .5h0m0 7h0m.5-25h0m0 4.5h0m0 .5h0m0 3.5h0m0 1.5h0m0 .5h0m0 .5h0m0 2h0m0 .5h0m0 .5h0m0 .5h0m0 1h0m0 .5h0m0 .5h0m0 .5h0m0 .5h0m0 .5h0m.5-13.5h0m0 3h0m0 1h0m0 2h0m0 1h0m0 .5h0m0 1h0m0 1h0m0 .5h0m0 1h0m0 .5h0m0 1h0m0 .5h0m0 2.5h0m0 4.5h0m0 .5h0m0 .5h0m0 1h0m.5-28.5h0m0 8h0m0 11h0m0 1h0m0 1h0m0 .5h0m0 1.5h0m0 .5h0m0 2.5h0m0 .5h0m0 1h0m0 .5h0m0 .5h0m0 .5h0m0 .5h0m0 .5h0m.5-23h0m0 1.5h0m0 .5h0m0 9.5h0m0 1.5h0m0 4h0m0 1h0m0 2.5h0m0 .5h0m0 .5h0m0 .5h0m.5-42.5h0m0 15h0m0 11h0m0 3h0m0 2.5h0m0 2h0m0 1h0m0 1h0m0 1h0m0 .5h0m0 .5h0m0 .5h0m.5-37h0m0 27.5h0m0 4.5h0m0 .5h0m0 2.5h0m0 1h0m0 1.5h0m.5-11.5h0m0 4.5h0m0 4.5h0m0 2h0m.5-14h0m0 6.5h0m0 1.5h0m0 1h0m0 1.5h0m0 1h0m.5-23.5h0m0 19h0m0 3.5h0m25-12.5h0m0 7.5h0m0 3.5h0m0 3.5h0m.5-11h0m0 .5h0m0 1.5h0m0 .5h0m0 .5h0m0 .5h0m0 2h0m0 2.5h0m0 .5h0m0 .5h0m0 1h0m0 .5h0m.5-24h0m0 3h0m0 4.5h0m0 7h0m0 .5h0m0 3h0m0 1h0m0 1.5h0m0 .5h0m0 .5h0m0 .5h0m0 .5h0m0 .5h0m0 .5h0m.5-10.5h0m0 .5h0m0 3.5h0m0 1h0m0 2.5h0m0 .5h0m0 .5h0m0 .5h0m0 .5h0m0 .5h0m0 2h0m0 1h0m.5-13.5h0m0 1.5h0m0 6h0m0 .5h0m0 3.5h0m0 .5h0m0 .5h0m0 .5h0m.5-9h0m0 1h0m0 1h0m0 .5h0m0 .5h0m0 1.5h0m0 1h0m0 .5h0m0 1.5h0m0 .5h0m0 .5h0m0 1h0m0 .5h0m.5-22.5h0m0 4h0m0 4.5h0m0 3h0m0 3.5h0m0 .5h0m0 .5h0m0 .5h0m0 .5h0m0 .5h0m0 .5h0m0 1h0m0 .5h0m0 .5h0m0 .5h0m0 .5h0m0 .5h0m.5-20h0m0 2.5h0m0 .5h0m0 6.5h0m0 1h0m0 3h0m0 2.5h0m0 .5h0m0 1.5h0m0 1h0m0 .5h0m0 .5h0m.5-6h0m0 3h0m0 1h0m.5-7h0m0 1h0m0 4.5h0m0 1h0m0 2h0m0 2h0m.5-11.5h0m0 .5h0m0 3.5h0m0 .5h0m0 .5h0m0 1h0m0 3h0m.5-7.5h0m0 4h0m0 2.5h0m0 .5h0m0 1h0m.5-8h0m0 4h0m0 3.5h0m.5-11.5h0m0 4.5h0m0 4.5h0m0 .5h0m0 2.5h0m0 3h0m.5-22h0m0 8h0m0 7h0m0 1.5h0m0 1.5h0m0 .5h0m0 .5h0m0 1h0m0 .5h0m0 .5h0m0 .5h0m0 1h0m.5-24h0m0 2.5h0m0 2.5h0m0 10.5h0m0 2h0m0 1.5h0m0 1h0m0 .5h0m0 .5h0m.5-14h0m0 5.5h0m0 4h0m0 2.5h0m0 1.5h0m0 1h0m.5-27h0m0 16.5h0m0 1.5h0m0 1.5h0m0 .5h0m0 2h0m0 2.5h0m0 1h0m0 1h0m0 2.5h0m0 .5h0m0 .5h0m.5-18.5h0m0 5h0m0 1h0m0 1h0m0 .5h0m0 1h0m0 .5h0m0 1.5h0m0 .5h0m0 2h0m0 1.5h0m0 1h0m0 1h0m0 .5h0m0 .5h0m0 .5h0m.5-8h0m0 3h0m0 3.5h0m0 1h0m0 .5h0m.5-23.5h0m0 17.5h0m0 8h0m.5-16h0m0 12.5h0m0 1.5h0m.5-9h0m0 2h0m0 6h0m0 1.5h0m0 .5h0m0 1h0m0 1.5h0m0 .5h0m.5-15h0m0 2h0m0 7h0m0 2h0m0 1.5h0m0 .5h0m0 .5h0m0 .5h0m.5-34h0m0 2h0m0 10.5h0m0 6h0m0 3.5h0m0 3h0m0 .5h0m0 .5h0m0 .5h0m0 .5h0m0 .5h0m0 2.5h0m0 .5h0m0 .5h0m0 .5h0m0 1h0m0 .5h0m0 .5h0m0 .5h0m0 .5h0m.5-20.5h0m0 10h0m0 2.5h0m0 1h0m0 1h0m0 1h0m0 1.5h0m0 1.5h0m0 .5h0m0 .5h0m0 1h0m0 .5h0m0 .5h0m0 .5h0m.5-13h0m0 8.5h0m0 2h0m0 1h0m0 1.5h0m.5-11h0m0 10.5h0m0 3h0m0 1h0m.5-11h0m0 2.5h0m0 1.5h0m0 3h0m0 .5h0m0 2.5h0m.5-17h0m0 11.5h0m0 2h0m0 1h0m0 .5h0m.5 3.5h0m.5 0h0m0 3h0m0 2.5h0m.5-10.5h0m0 5.5h0m0 2h0m0 1.5h0m0 1.5h0m.5-21h0m0 6h0m0 4h0m0 3.5h0m0 1h0m0 1h0m0 3h0m.5-27h0m0 6h0m0 4h0m0 1h0m0 5h0m0 .5h0m0 .5h0m0 1h0m0 1h0m0 .5h0m0 .5h0m0 2h0m0 .5h0m0 .5h0m0 .5h0m0 .5h0m.5-18.5h0m0 4.5h0m0 1.5h0m0 3h0m0 1h0m0 2h0m0 1h0m0 1h0m0 .5h0m0 .5h0m0 .5h0m0 .5h0m0 .5h0m0 1h0m0 1h0m0 .5h0m0 1h0m0 .5h0m.5-26.5h0m0 4.5h0m0 2h0m0 2h0m0 2.5h0m0 3.5h0m0 1.5h0m0 1.5h0m0 .5h0m0 .5h0m0 .5h0m0 .5h0m0 .5h0m0 .5h0m0 .5h0m0 .5h0m0 .5h0m0 .5h0m0 1h0m0 .5h0m0 .5h0m0 .5h0m0 .5h0m0 .5h0m.5-18h0m0 2h0m0 .5h0m0 1h0m0 1.5h0m0 .5h0m0 1h0m0 1.5h0m0 6.5h0m0 .5h0m0 1.5h0m0 1.5h0m.5-16.5h0m0 .5h0m0 7h0m0 .5h0m0 1.5h0m.5-3h0m0 1.5h0m1-16h0m0 6.5h0m0 3.5h0m0 .5h0m.5-21h0m0 10h0m0 2.5h0m0 4.5h0m0 3h0m0 .5h0m0 .5h0m0 .5h0m.5-8.5h0m0 1h0m0 2.5h0m0 1h0m0 2h0m0 1h0m0 1h0m.5-20h0m0 3.5h0m0 4h0m0 6h0m0 4h0m0 1h0m0 1.5h0m0 1h0m.5-28.5h0m0 21h0m0 2h0m0 2h0m0 2h0m0 2h0m.5-6h0m0 3h0m.5-10h0m0 6h0m0 2h0m0 2h0m0 1.5h0m0 1h0m.5-15.5h0m0 10h0m0 1.5h0m0 1h0m0 .5h0m0 1.5h0m0 1h0m0 .5h0m0 1h0m.5-11h0m0 .5h0m0 .5h0m0 1h0m0 3.5h0m0 1h0m0 1.5h0m0 .5h0m.5-20h0m0 7h0m0 1h0m0 1.5h0m0 .5h0m0 .5h0m0 2.5h0m0 .5h0m0 .5h0m0 1h0m0 .5h0m0 1.5h0m0 1.5h0m0 .5h0m0 .5h0m.5-20.5h0m0 7.5h0m0 3.5h0m0 1h0m0 3h0m0 1.5h0m0 1.5h0m0 .5h0m0 1h0m0 1h0m.5-11.5h0m0 5h0m0 4.5h0m27.5-4.5h0m0 .5h0m0 4.5h0m1-18.5h0m0 6.5h0m0 11.5h0m1-16h0m0 4.5h0m0 .5h0m0 4.5h0m0 .5h0m0 .5h0m0 2h0m0 1h0m0 .5h0m0 .5h0m0 1h0m0 1.5h0m.5-21h0m0 2.5h0m0 4h0m0 .5h0m0 1h0m0 2h0m0 .5h0m0 .5h0m0 2h0m0 1.5h0m0 .5h0m0 .5h0m0 .5h0m0 .5h0m0 .5h0m0 .5h0m0 .5h0m0 .5h0m.5-28h0m0 5.5h0m0 .5h0m0 1h0m0 4h0m0 1h0m0 4.5h0m0 1.5h0m0 1.5h0m0 .5h0m0 .5h0m0 1h0m0 .5h0m0 1h0m0 .5h0m0 .5h0m0 .5h0m0 .5h0m0 .5h0m0 .5h0m0 .5h0m0 .5h0m0 1h0m.5-37.5h0m0 2h0m0 .5h0m0 2.5h0m0 .5h0m0 1.5h0m0 4h0m0 1.5h0m0 .5h0m0 .5h0m0 .5h0m0 5h0m0 2.5h0m0 2h0m0 4.5h0m0 .5h0m0 1h0m0 .5h0m0 2h0m0 .5h0m0 .5h0m0 1.5h0m0 .5h0m.5-33.5h0m0 1h0m0 .5h0m0 .5h0m0 1h0m0 2.5h0m0 .5h0m0 1.5h0m0 2.5h0m0 .5h0m0 .5h0m0 .5h0m0 2.5h0m0 3.5h0m0 1.5h0m0 4.5h0m0 .5h0m0 .5h0m0 1h0m0 3.5h0m0 1.5h0m0 2.5h0m.5-29.5h0m0 3.5h0m0 4h0m0 .5h0m0 3h0m0 .5h0m0 6h0m0 1h0m0 3.5h0m.5-6.5h0m0 2h0m0 3h0m0 2h0m0 4h0m.5-5.5h0m0 5.5h0m1 7h0m0 1.5h0m.5-18h0m0 6.5h0m0 4h0m0 2h0m0 2.5h0m0 .5h0m0 1.5h0m0 1h0m.5-4h0m0 .5h0m.5 1h0m.5-4h0m0 1h0m0 .5h0m0 1h0m.5-16.5h0m0 3.5h0m0 9h0m0 4h0m.5-10h0m0 2.5h0m0 2h0m0 3h0m0 3h0m0 .5h0m0 1h0m0 .5h0m.5-14h0m0 .5h0m0 3h0m0 2h0m0 4h0m0 2.5h0m0 1h0m0 .5h0m.5-7.5h0m0 3h0m0 2h0m.5-22h0m0 17.5h0m0 .5h0m0 1.5h0m0 2.5h0m0 3h0m.5-23h0m0 1.5h0m0 14h0m0 .5h0m0 4.5h0m0 .5h0m0 .5h0m0 1.5h0m.5-19.5h0m0 2h0m0 4h0m0 .5h0m0 2.5h0m0 1h0m0 .5h0m0 3h0m0 1.5h0m0 1.5h0m.5-28h0m0 13.5h0m0 2.5h0m0 3.5h0m0 1.5h0m0 .5h0m.5-13h0m0 3.5h0m0 4h0m0 .5h0m0 4h0m0 1h0m0 8h0m0 1h0m.5-13h0m0 5.5h0m0 .5h0m0 4.5h0m0 1h0m0 1h0m.5-22.5h0m0 1.5h0m0 7h0m0 10.5h0m0 1.5h0m0 1.5h0m.5-7h0m0 1h0m0 3.5h0m0 1h0m0 2h0m0 .5h0m0 1h0m.5-9.5h0m0 4.5h0m0 5h0m0 2.5h0m.5-15.5h0m0 12.5h0m0 1.5h0m0 1h0m0 1.5h0m.5-10.5h0m0 .5h0m0 6.5h0m0 2h0m.5-23h0m0 9.5h0m0 4h0m0 3.5h0m0 2h0m.5-7h0m0 1.5h0m0 1h0m0 3.5h0m.5 4h0m.5-23h0m0 13.5h0m0 2.5h0m0 .5h0m0 1h0m0 3.5h0m0 .5h0m0 1.5h0m0 1h0m.5-11.5h0m0 1h0m0 3h0m0 .5h0m0 1.5h0m0 1h0m0 .5h0m0 2h0m0 .5h0m0 .5h0m.5-14.5h0m0 1h0m0 .5h0m0 6.5h0m0 .5h0m0 1.5h0m0 1.5h0m0 .5h0m0 1h0m0 1h0m0 .5h0m.5-17.5h0m0 2h0m0 3h0m0 5h0m0 1h0m.5-5.5h0m0 4h0m.5-9h0m0 3h0m0 1.5h0m0 1h0m0 4h0m0 .5h0m.5-27.5h0m0 2.5h0m0 .5h0m0 .5h0m0 .5h0m0 2.5h0m0 1h0m0 1h0m0 3.5h0m0 8.5h0m0 2h0m.5-21h0m0 1h0m0 1.5h0m0 1h0m0 1.5h0m0 .5h0m0 .5h0m0 1h0m0 12h0m0 1.5h0m.5-23.5h0m0 4h0m0 .5h0m0 1h0m0 2h0m0 1.5h0m0 1h0m0 1h0m0 4.5h0m0 4h0m0 1h0m0 3h0m0 1h0m0 1.5h0m0 .5h0m0 .5h0m0 2h0m0 .5h0m0 .5h0m.5-20.5h0m0 1h0m0 2h0m0 1h0m0 5.5h0m0 1h0m0 1.5h0m0 1h0m0 1h0m0 2h0m0 .5h0m0 .5h0m0 .5h0m0 1h0m0 1h0m0 1h0m.5-29h0m0 10h0m0 7.5h0m0 1h0m0 .5h0m0 .5h0m0 2.5h0m0 3.5h0m0 .5h0m0 1h0m0 1.5h0m0 1h0m.5-14h0m0 1h0m0 3h0m0 4h0m0 1h0m0 .5h0m0 1h0m0 1h0m0 .5h0m0 .5h0m0 .5h0m0 1h0m0 .5h0m0 .5h0m.5-15h0m0 3.5h0m0 1h0m0 .5h0m0 .5h0m0 5h0m0 .5h0m0 3h0m0 .5h0m0 .5h0m.5-15.5h0m0 2.5h0m0 2h0m0 4.5h0m0 2h0m0 1h0m0 3h0m0 .5h0m.5-11h0m0 7h0m0 1h0m0 2h0m0 2h0m.5-16h0m0 2.5h0m0 7.5h0m0 1.5h0m0 .5h0m0 .5h0m0 2h0m0 .5h0m0 .5h0m0 1h0m.5-23h0m0 .5h0m0 18h0m0 3.5h0m.5-12h0m0 13h0m.5-7.5h0m0 6h0m0 1.5h0m0 2.5h0m.5-14.5h0m0 1.5h0m0 3.5h0m0 .5h0m0 2.5h0m0 1h0m0 1.5h0m0 .5h0m0 1.5h0m0 1.5h0m.5-8.5h0m0 1h0m0 3h0m0 1h0m0 1.5h0m0 1h0m.5-14h0m0 8h0m0 1.5h0m0 2h0m0 2h0m19-1.5h0m0 8h0m.5-17h0m0 3.5h0m0 2.5h0m0 3.5h0m0 1h0m0 3h0m0 1h0m0 2h0m.5-6h0m0 1.5h0m0 .5h0m0 2.5h0m0 1h0m.5-7h0m0 1h0m0 .5h0m0 .5h0m0 .5h0m0 .5h0m0 2.5h0m0 2.5h0m.5-21h0m0 6h0m0 2h0m0 1h0m0 1h0m0 1h0m0 1.5h0m0 .5h0m0 1h0m0 1h0m0 .5h0m.5-25h0m0 17.5h0m0 3h0m.5-6h0m0 .5h0m0 2.5h0m0 3h0m0 1h0m.5-6h0m0 1h0m0 1h0m.5-11h0m0 9.5h0m0 .5h0m0 .5h0m0 .5h0m.5-31.5h0m0 .5h0m0 4h0m0 5h0m0 2h0m0 2h0m0 6h0m0 3.5h0m0 3.5h0m0 3h0m0 .5h0m0 1.5h0m.5-31.5h0m0 .5h0m0 1.5h0m0 3h0m0 1h0m0 1.5h0m0 2h0m0 .5h0m0 1.5h0m0 1.5h0m0 .5h0m0 .5h0m0 4h0m0 4h0m0 3.5h0m0 1h0m0 .5h0m0 2h0m0 2.5h0m0 .5h0m0 .5h0m.5-29.5h0m0 1.5h0m0 1h0m0 .5h0m0 2h0m0 .5h0m0 1h0m0 1h0m0 .5h0m0 .5h0m0 .5h0m0 1h0m0 .5h0m0 1.5h0m0 13h0m0 1.5h0m0 .5h0m0 .5h0m0 .5h0m0 1.5h0m.5-18.5h0m0 6h0m0 2.5h0m0 2h0m0 1h0m0 .5h0m0 2.5h0m0 .5h0m0 1.5h0m0 .5h0m0 1h0m0 .5h0m0 .5h0m.5-10h0m0 3h0m0 2h0m0 .5h0m0 .5h0m0 .5h0m0 1h0m0 1h0m0 1h0m0 3h0m0 2h0m0 3h0m.5-17.5h0m0 7h0m0 2.5h0m0 2h0m0 2.5h0m0 1h0m0 .5h0m0 .5h0m0 1.5h0m0 .5h0m.5-18h0m0 2h0m0 2h0m0 6.5h0m0 3h0m0 2h0m0 1h0m0 .5h0m0 .5h0m0 .5h0m.5-4h0m0 1h0m0 2h0m0 1.5h0m0 1h0m.5-21h0m0 6.5h0m0 7h0m0 3h0m.5-14h0m0 1h0m0 3.5h0m0 4.5h0m0 3.5h0m0 1.5h0m.5-20.5h0m0 2.5h0m0 1.5h0m0 1h0m0 .5h0m0 .5h0m0 11h0m0 7.5h0m.5-34h0m0 5h0m0 3.5h0m0 1h0m0 .5h0m0 1h0m0 3h0m0 1h0m0 .5h0m0 2.5h0m0 3.5h0m0 3h0m0 3h0m0 .5h0m0 3h0m0 1.5h0m0 .5h0m0 .5h0m0 .5h0m.5-31.5h0m0 13.5h0m0 6h0m0 5h0m0 1h0m0 4.5h0m0 .5h0m0 1h0m.5-17h0m0 3.5h0m0 1h0m.5-12h0m0 9h0m0 1.5h0m0 5h0m0 1h0m0 3h0m.5-19.5h0m0 7.5h0m0 7h0m0 2.5h0m0 1h0m0 1h0m0 1h0m0 1h0m0 1h0m.5-23h0m0 5h0m0 7h0m0 2.5h0m0 1h0m0 .5h0m0 .5h0m0 .5h0m0 .5h0m0 .5h0m0 .5h0m0 .5h0m0 .5h0m.5-22h0m0 1h0m0 3.5h0m0 .5h0m0 .5h0m0 2.5h0m0 1h0m0 2h0m0 .5h0m0 .5h0m0 .5h0m0 2h0m0 .5h0m0 .5h0m0 .5h0m0 1h0m0 .5h0m0 .5h0m0 .5h0m0 .5h0m0 .5h0m0 .5h0m0 .5h0m0 .5h0m0 .5h0m0 .5h0m.5-13.5h0m0 2.5h0m0 .5h0m0 .5h0m0 1h0m0 1h0m0 .5h0m0 .5h0m0 2h0m0 .5h0m0 .5h0m0 .5h0m0 .5h0m0 .5h0m0 1.5h0m0 .5h0m0 .5h0m0 2h0m.5-1.5h0m0 1h0m1-7h0m0 8h0m.5 .5h0m0 2.5h0m.5 .5h0m0 .5h0m.5-8.5h0m0 1.5h0m0 1.5h0m.5-3.5h0m.5-1.5h0m0 2.5h0m0 .5h0m.5-19.5h0m0 12h0m0 1h0m0 2.5h0m0 3h0m0 2h0m.5-5.5h0m0 6h0m0 .5h0m0 .5h0m.5-6h0m0 4.5h0m0 .5h0m0 1h0m0 .5h0m.5-15h0m0 8.5h0m0 1.5h0m0 3h0m0 2h0m.5-11.5h0m0 2.5h0m0 3h0m0 1.5h0m0 1h0m0 1h0m.5-12h0m0 1h0m0 1.5h0m0 3h0m0 4.5h0m0 1h0m0 .5h0m0 2.5h0m.5-7.5h0m0 .5h0m0 1.5h0m0 1h0m0 .5h0m0 1.5h0m0 .5h0m.5-8.5h0m0 2.5h0m0 1.5h0m0 3h0m0 .5h0m0 1h0m25.5 0h0m.5-9h0m0 4.5h0m0 1.5h0m0 5.5h0m0 .5h0m0 .5h0m.5-17h0m0 5.5h0m0 3.5h0m0 1h0m0 1h0m0 1h0m0 1h0m0 .5h0m0 1.5h0m0 .5h0m.5-14h0m0 5h0m0 2h0m0 6.5h0m0 .5h0m.5-10h0m0 1.5h0m0 4h0m0 1.5h0m0 2.5h0m.5-7h0m0 .5h0m0 .5h0m0 2h0m0 2h0m0 .5h0m0 .5h0m0 2h0m0 1h0m0 .5h0m.5-15.5h0m0 5h0m0 1h0m0 1h0m0 1h0m0 1h0m0 .5h0m0 .5h0m0 .5h0m0 .5h0m0 1.5h0m0 1h0m0 .5h0m0 .5h0m0 .5h0m0 .5h0m.5-22.5h0m0 2h0m0 9h0m0 3h0m0 .5h0m0 .5h0m0 .5h0m0 2.5h0m0 .5h0m0 1.5h0m0 1.5h0m.5-13.5h0m0 1h0m0 5.5h0m0 .5h0m0 .5h0m0 2.5h0m0 .5h0m0 .5h0m.5-25h0m0 7.5h0m0 4.5h0m0 3h0m0 1h0m0 1.5h0m0 2.5h0m0 1h0m0 2h0m0 1h0m0 .5h0m0 1.5h0m.5-14.5h0m0 6h0m0 3h0m0 2h0m0 .5h0m0 1h0m0 1.5h0m0 .5h0m.5-11.5h0m0 5h0m0 2h0m0 3.5h0m0 2.5h0m.5-11.5h0m0 1h0m0 .5h0m0 1.5h0m0 .5h0m0 .5h0m0 6.5h0m0 1.5h0m.5-11h0m0 3.5h0m0 2h0m0 1.5h0m.5-14.5h0m0 10.5h0m0 2.5h0m0 1h0m0 .5h0m.5-16h0m0 3h0m0 3.5h0m0 1h0m0 2.5h0m0 4.5h0m.5-9.5h0m0 .5h0m0 1h0m0 .5h0m0 2h0m0 2h0m0 .5h0m.5-4h0m0 .5h0m0 2.5h0m0 .5h0m0 1h0m.5-22.5h0m0 1h0m0 .5h0m0 3h0m0 2h0m0 14.5h0m0 5h0m.5-29h0m0 1h0m0 1h0m0 .5h0m0 .5h0m0 .5h0m0 .5h0m0 .5h0m0 1h0m0 .5h0m0 2h0m0 .5h0m0 .5h0m0 1h0m0 6.5h0m0 3h0m0 1.5h0m0 1h0m0 1h0m0 1h0m0 1h0m0 1h0m0 .5h0m0 .5h0m.5-26h0m0 1.5h0m0 .5h0m0 2.5h0m0 3h0m0 1h0m0 1h0m0 .5h0m0 1h0m0 5.5h0m0 .5h0m0 3h0m0 1h0m0 .5h0m0 2h0m0 1.5h0m0 .5h0m0 .5h0m.5-19h0m0 10h0m0 .5h0m0 1.5h0m0 2h0m0 .5h0m0 1h0m0 1.5h0m0 .5h0m0 .5h0m0 1h0m0 3.5h0m.5-.5h0m.5-29h0m0 16.5h0m0 1h0m0 .5h0m0 3.5h0m0 .5h0m0 9h0m.5-33.5h0m0 1.5h0m0 5h0m0 1.5h0m0 1h0m0 2.5h0m0 2.5h0m0 1h0m0 .5h0m0 .5h0m0 1h0m0 2.5h0m0 1h0m0 1h0m0 .5h0m0 .5h0m0 .5h0m0 .5h0m0 .5h0m0 .5h0m0 .5h0m.5-14h0m0 7h0m0 1h0m0 1.5h0m0 1h0m0 1.5h0m0 1.5h0m.5-9.5h0m0 6h0m0 5.5h0m.5-8h0m0 3h0m0 5.5h0m0 2h0m.5-23.5h0m0 .5h0m0 .5h0m0 1.5h0m0 1.5h0m0 11h0m0 1h0m0 2h0m.5-23h0m0 5h0m0 .5h0m0 1h0m0 1.5h0m0 .5h0m0 .5h0m0 .5h0m0 .5h0m0 .5h0m0 2.5h0m0 6.5h0m0 2.5h0m0 1.5h0m.5-23.5h0m0 1h0m0 3.5h0m0 1h0m0 2.5h0m0 .5h0m0 3.5h0m0 2h0m0 5h0m0 1h0m0 .5h0m0 .5h0m0 3h0m0 1h0m0 .5h0m.5-13h0m0 2.5h0m0 4.5h0m0 2h0m0 1.5h0m0 .5h0m0 1h0m0 1h0m0 1.5h0m0 .5h0m0 1h0m.5-21h0m0 14.5h0m0 1.5h0m0 1h0m0 1h0m0 2h0m0 .5h0m0 .5h0m0 .5h0m.5-12h0m0 6h0m0 1h0m0 2.5h0m0 .5h0m0 .5h0m0 1.5h0m0 .5h0m0 .5h0m.5-12h0m0 1.5h0m0 2.5h0m0 3.5h0m0 1h0m0 1h0m0 1h0m0 .5h0m.5-12.5h0m0 6.5h0m0 1.5h0m0 2.5h0m0 .5h0m0 1.5h0m0 1.5h0m.5-5.5h0m0 3.5h0m0 .5h0m0 2h0m.5-21h0m0 7.5h0m.5-1h0m0 1.5h0m0 8h0m.5-9.5h0m0 2.5h0m0 2h0m0 .5h0m0 2h0m0 .5h0m0 .5h0m0 1h0m0 .5h0m0 1.5h0m0 1h0m.5-21.5h0m0 3h0m0 3.5h0m0 1h0m0 2h0m0 1.5h0m0 .5h0m0 1h0m0 2h0m0 .5h0m0 1h0m0 .5h0m0 .5h0m0 .5h0m0 .5h0m0 .5h0m0 .5h0m0 1h0m0 .5h0m0 1h0m.5-26h0m0 1h0m0 .5h0m0 .5h0m0 .5h0m0 1.5h0m0 .5h0m0 .5h0m0 .5h0m0 11.5h0m0 .5h0m0 .5h0m0 1.5h0m0 .5h0m0 .5h0m0 2.5h0m0 .5h0m0 1.5h0m.5-26.5h0m0 3h0m0 1h0m0 .5h0m0 .5h0m0 2h0m0 .5h0m0 8h0m0 5h0m0 2.5h0m.5-9.5h0m0 1.5h0m0 4.5h0m0 .5h0m0 2.5h0m0 1h0m0 1h0m.5-21.5h0m0 7h0m0 2h0m0 3h0m0 1.5h0m0 2h0m0 .5h0m0 .5h0m0 1.5h0m0 .5h0m0 1.5h0m0 .5h0m0 .5h0m0 .5h0m0 1h0m0 .5h0m0 1h0m.5-22h0m0 4h0m0 .5h0m0 .5h0m0 6.5h0m0 1.5h0m0 3.5h0m0 1h0m0 2h0m0 1.5h0m0 .5h0m0 .5h0m.5-10h0m0 .5h0m0 1.5h0m0 1h0m0 2.5h0m0 2h0m0 .5h0m.5-10h0m0 7.5h0m0 2.5h0m0 .5h0m.5-15h0m0 5.5h0m0 .5h0m0 1.5h0m0 2.5h0m0 3h0m0 3h0m.5-13h0m0 11.5h0m0 1h0m0 .5h0m.5-14h0m0 7h0m0 .5h0m0 .5h0m0 1.5h0m0 .5h0m0 2h0m.5-13.5h0m0 7.5h0m0 .5h0m0 .5h0m0 1.5h0m0 .5h0m0 .5h0m0 .5h0m0 1h0m0 .5h0m0 1.5h0m0 1h0m.5-15h0m0 .5h0m0 3.5h0m0 1.5h0m0 3.5h0m0 .5h0m0 1h0m0 1.5h0m0 1h0m0 1.5h0m.5-17.5h0m0 3h0m0 4.5h0m0 .5h0m0 1.5h0m0 1h0m0 .5h0m0 1.5h0m0 .5h0m0 .5h0m0 2.5h0m0 .5h0m0 .5h0m.5-.5h0m28 5.5h0m0 1h0m0 5.5h0m0 1h0m.5-21h0m0 .5h0m0 2h0m0 .5h0m0 4h0m0 2h0m0 2h0m0 1.5h0m0 5h0m0 .5h0m0 2h0m0 .5h0m0 .5h0m.5-19.5h0m0 1.5h0m0 4.5h0m0 5.5h0m0 .5h0m0 .5h0m0 .5h0m0 .5h0m0 .5h0m0 .5h0m0 .5h0m0 1.5h0m0 .5h0m.5-13h0m0 2.5h0m0 2.5h0m0 4h0m0 .5h0m0 3.5h0m0 .5h0m0 .5h0m0 .5h0m.5-10h0m0 2h0m0 2.5h0m0 2h0m0 2.5h0m0 1h0m.5-15h0m0 1h0m0 2.5h0m0 .5h0m0 .5h0m0 4.5h0m0 .5h0m0 1h0m0 .5h0m0 1h0m0 1h0m0 .5h0m0 .5h0m.5-27h0m0 7.5h0m0 1h0m0 .5h0m0 7h0m0 1h0m0 .5h0m0 .5h0m0 1h0m0 1.5h0m0 .5h0m0 .5h0m0 .5h0m0 1h0m0 .5h0m0 .5h0m0 .5h0m0 1.5h0m0 .5h0m.5-7.5h0m0 .5h0m0 .5h0m0 .5h0m0 .5h0m0 2.5h0m0 .5h0m0 .5h0m.5-10.5h0m0 5.5h0m0 2h0m0 1h0m0 4h0m.5-19.5h0m0 4h0m0 2.5h0m0 .5h0m0 3.5h0m0 2h0m0 .5h0m0 1h0m0 1.5h0m0 1h0m0 1h0m0 .5h0m0 .5h0m0 1h0m.5-19h0m0 2.5h0m0 1h0m0 5h0m0 .5h0m0 1.5h0m0 1.5h0m0 .5h0m0 .5h0m0 .5h0m0 2h0m0 1.5h0m0 .5h0m0 .5h0m0 .5h0m.5-15h0m0 4h0m0 3h0m0 4h0m0 1.5h0m0 .5h0m0 1h0m0 .5h0m0 .5h0m0 .5h0m0 1h0m0 .5h0m.5-30.5h0m0 18h0m0 3h0m0 4h0m0 2h0m0 1h0m0 2h0m0 .5h0m0 .5h0m.5-21h0m0 9.5h0m0 2.5h0m0 1h0m0 3h0m0 1h0m0 1.5h0m0 .5h0m0 2h0m0 .5h0m0 2h0m0 .5h0m0 .5h0m.5-10.5h0m0 5h0m0 3h0m0 .5h0m0 1h0m.5-26h0m0 13h0m0 1.5h0m0 1h0m0 3h0m0 .5h0m0 .5h0m0 .5h0m0 1.5h0m0 2h0m0 .5h0m.5-25.5h0m0 12h0m0 2.5h0m0 .5h0m0 .5h0m0 .5h0m0 1h0m0 1.5h0m0 .5h0m0 .5h0m0 .5h0m0 .5h0m0 1h0m0 .5h0m0 1h0m0 .5h0m0 .5h0m0 1h0m.5-13h0m0 5h0m0 .5h0m0 .5h0m0 .5h0m0 3.5h0m0 1.5h0m0 .5h0m0 1.5h0m0 2.5h0m.5-10h0m0 1.5h0m0 4.5h0m0 .5h0m.5-14.5h0m0 9.5h0m0 1h0m0 .5h0m0 1.5h0m0 1h0m0 1.5h0m0 .5h0m0 2h0m0 1h0m.5-14.5h0m0 2.5h0m0 1.5h0m0 1.5h0m0 2h0m0 .5h0m0 .5h0m0 2.5h0m0 .5h0m.5-15.5h0m0 9h0m0 2h0m0 5h0m.5-19h0m0 6.5h0m0 3h0m0 1.5h0m0 .5h0m0 1h0m0 1h0m0 .5h0m0 .5h0m0 .5h0m.5-4h0m0 1h0m0 1.5h0m0 1h0m0 6.5h0m.5-31.5h0m0 11.5h0m0 4.5h0m0 1h0m0 3h0m0 2.5h0m0 3.5h0m0 2h0m0 .5h0m0 .5h0m0 1h0m0 .5h0m0 1.5h0m.5-35.5h0m0 28h0m0 2.5h0m0 2.5h0m0 .5h0m0 1.5h0m.5-16h0m0 6h0m0 .5h0m0 3h0m0 1.5h0m0 2.5h0m.5-17h0m0 4.5h0m0 .5h0m0 6h0m0 1h0m0 1.5h0m0 .5h0m0 2h0m.5-25h0m0 10.5h0m0 .5h0m0 6.5h0m0 .5h0m0 1h0m0 2h0m0 .5h0m0 .5h0m0 .5h0m0 .5h0m.5-13.5h0m0 4.5h0m0 1h0m0 .5h0m0 2h0m0 1.5h0m0 .5h0m0 .5h0m0 2h0m0 1h0m.5-26.5h0m0 12h0m0 5.5h0m0 2.5h0m0 .5h0m0 .5h0m0 .5h0m0 2h0m0 .5h0m0 .5h0m0 1h0m.5-23h0m0 15h0m0 1h0m0 1h0m0 3h0m0 1h0m0 .5h0m0 1h0m0 .5h0m.5-8h0m0 2h0m0 3h0m.5-18.5h0m0 5h0m0 2.5h0m0 .5h0m0 2h0m0 2.5h0m0 .5h0m0 .5h0m0 .5h0m0 2.5h0m0 1h0m.5-20h0m0 2h0m0 3h0m0 3h0m0 2h0m0 .5h0m0 .5h0m0 .5h0m0 .5h0m0 .5h0m0 .5h0m0 1h0m0 1h0m0 1h0m0 .5h0m0 1h0m0 .5h0m0 .5h0m0 .5h0m0 .5h0m0 .5h0m0 .5h0m.5-17.5h0m0 6.5h0m0 1h0m0 .5h0m0 1.5h0m0 1.5h0m0 1.5h0m0 1h0m0 .5h0m0 1.5h0m0 1h0m0 1h0m.5-3.5h0m0 2h0m.5-16.5h0m0 12.5h0m.5-9.5h0m0 7h0m0 6h0m0 1h0m.5-7.5h0m0 3.5h0m0 1h0m0 1.5h0m0 .5h0m0 .5h0m0 .5h0m0 1.5h0m.5-17.5h0m0 .5h0m0 2.5h0m0 3h0m0 3h0m0 2h0m0 2h0m0 .5h0m0 .5h0m0 1h0m0 1h0m0 .5h0m0 .5h0m0 .5h0m.5-13.5h0m0 1h0m0 2h0m0 4h0m0 2.5h0m0 .5h0m0 1.5h0m0 .5h0m0 .5h0m0 1h0m33-17.5h0m0 4.5h0m0 4.5h0m0 1h0m0 .5h0m0 1h0m0 1.5h0m0 .5h0m0 1.5h0m.5-19.5h0m0 2h0m0 2h0m0 .5h0m0 1.5h0m0 1h0m0 .5h0m0 2h0m0 .5h0m0 1.5h0m0 1h0m0 .5h0m0 .5h0m0 2h0m0 1h0m0 1.5h0m0 .5h0m.5-20h0m0 11.5h0m0 1h0m0 3h0m0 .5h0m0 2h0m0 .5h0m0 1h0m0 .5h0m.5-11.5h0m0 2.5h0m0 4h0m0 2h0m0 2.5h0m.5-17.5h0m0 4h0m0 11.5h0m.5-8h0m0 2h0m0 1h0m0 4.5h0m0 .5h0m0 1h0m0 .5h0m0 1h0m.5-19.5h0m0 13h0m0 1.5h0m0 .5h0m0 .5h0m0 1.5h0m0 .5h0m0 .5h0m0 1h0m0 .5h0m0 .5h0m.5-19.5h0m0 2h0m0 .5h0m0 5.5h0m0 .5h0m0 4h0m0 3.5h0m0 .5h0m0 .5h0m0 .5h0m0 .5h0m0 .5h0m0 .5h0m.5-10.5h0m0 3.5h0m0 1.5h0m0 2h0m0 1h0m0 .5h0m0 .5h0m0 .5h0m0 1h0m.5-3h0m0 3h0m0 5h0m0 1h0m0 .5h0m.5-18.5h0m0 6.5h0m0 7h0m0 .5h0m0 .5h0m0 1.5h0m0 .5h0m0 1h0m0 1h0m.5-13.5h0m0 3h0m0 4h0m0 1.5h0m0 1h0m0 3h0m0 1.5h0m0 1h0m0 .5h0m0 .5h0m.5-22.5h0m0 3h0m0 7.5h0m0 6.5h0m0 .5h0m0 .5h0m0 1h0m0 .5h0m0 .5h0m0 1h0m.5-24.5h0m0 13.5h0m0 3h0m0 .5h0m0 1h0m0 .5h0m0 .5h0m0 2.5h0m0 .5h0m0 .5h0m0 1h0m.5-9h0m0 .5h0m0 7.5h0m.5-.5h0m.5-4h0m.5-4h0m0 3h0m0 4h0m0 1.5h0m0 .5h0m0 .5h0m.5 5h0m.5-11h0m.5-7h0m0 7h0m0 4.5h0m0 3h0m.5-3.5h0m0 1h0m0 3h0m0 .5h0m.5-14.5h0m0 12h0m0 5h0m.5-23.5h0m0 24.5h0m.5-18h0m0 10h0m0 2.5h0m.5-.5h0m0 .5h0m0 .5h0m0 1.5h0m0 3.5h0m.5-5.5h0m0 2.5h0m0 3.5h0m.5-14.5h0m0 4h0m0 2h0m0 1.5h0m0 2.5h0m0 .5h0m0 .5h0m.5-8h0m0 1.5h0m0 2.5h0m0 1h0m.5-13h0m0 10h0m.5-6h0m0 1.5h0m0 1h0m0 1h0m0 1.5h0m0 2.5h0m0 3.5h0m.5-18h0m0 1.5h0m0 5.5h0m0 1.5h0m0 2h0m0 2h0m0 .5h0m0 1.5h0m.5-19h0m0 4.5h0m0 6h0m0 .5h0m0 8h0m0 2.5h0m0 1.5h0m0 1.5h0m.5-17h0m0 1.5h0m0 1.5h0m.5 8h0m0 4.5h0m0 .5h0m0 .5h0m.5-11h0m0 1.5h0m0 7h0m0 1h0m0 1h0m0 3h0m0 .5h0m.5-26.5h0m0 4.5h0m0 11.5h0m0 1.5h0m0 1h0m0 .5h0m0 1.5h0m0 .5h0m0 1h0m0 .5h0m0 1.5h0m.5-21.5h0m0 4.5h0m0 6h0m0 2.5h0m0 .5h0m0 .5h0m0 1.5h0m0 .5h0m0 1h0m0 1h0m0 .5h0m0 .5h0m0 .5h0m0 .5h0m0 .5h0m0 .5h0m.5-24h0m0 8.5h0m0 3h0m0 2.5h0m0 1h0m0 1.5h0m0 2h0m0 1h0m0 2h0m0 .5h0m0 .5h0m.5-20.5h0m0 3.5h0m0 9h0m0 1h0m0 2h0m0 1.5h0m0 1h0m0 1h0m.5 0h0m.5-11h0m0 4h0m0 6.5h0m.5-24.5h0m0 2.5h0m0 7h0m0 10h0m0 .5h0m0 .5h0m0 .5h0m0 1.5h0m.5-8.5h0m0 2h0m0 1.5h0m0 1.5h0m0 .5h0m0 1.5h0m0 2.5h0m0 1h0m0 .5h0m.5-10.5h0m0 3h0m0 3h0m0 .5h0m0 .5h0m0 2.5h0m0 2h0m0 .5h0m.5-18.5h0m0 4h0m0 1h0m0 2h0m0 7h0m0 1h0m0 1h0m0 1h0m0 .5h0m0 1.5h0m0 .5h0m0 .5h0m.5-8.5h0m0 .5h0m0 2.5h0m0 1.5h0m0 .5h0m0 .5h0m0 1h0m0 2h0m.5-20.5h0m0 .5h0m0 3.5h0m0 3.5h0m0 3h0m0 2.5h0m0 .5h0m0 1h0m0 1h0m0 .5h0m0 1h0m0 1h0m.5-21.5h0m0 14h0m0 5.5h0m0 .5h0m0 1h0m0 1.5h0m.5-6.5h0m0 .5h0m0 2h0m0 1.5h0m.5-9.5h0m0 3.5h0m0 2.5h0m0 .5h0m0 2h0m0 .5h0m0 6h0m.5-3h0m0 2h0m0 1h0m.5-13h0m0 1.5h0m0 6.5h0m0 1.5h0m0 3.5h0m.5-17h0m0 12h0m0 1h0m0 .5h0m0 .5h0"/>
</g>
<path stroke="#555" stroke-width="0.8" fill="none" d="M35.2 21.6V121.3M31 121.3H35.2M31 101.4H35.2M31 81.4H35.2M31 61.5H35.2M31 41.5H35.2M31 21.6H35.2"/><text x="25.6" y="124.5" text-anchor="middle" class="tk">0</text><text x="25.6" y="104.6" text-anchor="middle" class="tk">1</text><text x="25.6" y="84.6" text-anchor="middle" class="tk">2</text><text x="25.6" y="64.7" text-anchor="middle" class="tk">3</text><text x="25.6" y="44.7" text-anchor="middle" class="tk">4</text><text x="25.6" y="24.8" text-anchor="middle" class="tk">5</text>
<path stroke="#555" stroke-width="0.8" fill="none" d="M36.6 196.1V303.2M32.4 303.2H36.6M32.4 285.3H36.6M32.4 267.5H36.6M32.4 249.6H36.6M32.4 231.8H36.6M32.4 213.9H36.6M32.4 196.1H36.6"/><text x="26.3" y="306.4" text-anchor="middle" class="tk">0</text><text x="26.3" y="288.5" text-anchor="middle" class="tk">1</text><text x="26.3" y="270.7" text-anchor="middle" class="tk">2</text><text x="26.3" y="252.8" text-anchor="middle" class="tk">3</text><text x="26.3" y="235" text-anchor="middle" class="tk">4</text><text x="26.3" y="217.1" text-anchor="middle" class="tk">5</text><text x="26.3" y="199.3" text-anchor="middle" class="tk">6</text>
<path stroke="#555" stroke-width="0.8" fill="none" d="M35.3 353.5V452.9M31.1 452.9H35.3M31.1 438.7H35.3M31.1 424.5H35.3M31.1 410.3H35.3M31.1 396.1H35.3M31.1 381.9H35.3M31.1 367.7H35.3M31.1 353.5H35.3"/><text x="25.4" y="456.1" text-anchor="middle" class="tk">0</text><text x="25.4" y="441.9" text-anchor="middle" class="tk">1</text><text x="25.4" y="427.7" text-anchor="middle" class="tk">2</text><text x="25.4" y="413.5" text-anchor="middle" class="tk">3</text><text x="25.4" y="399.3" text-anchor="middle" class="tk">4</text><text x="25.4" y="385.1" text-anchor="middle" class="tk">5</text><text x="25.4" y="370.9" text-anchor="middle" class="tk">6</text><text x="25.4" y="356.7" text-anchor="middle" class="tk">7</text>
<path stroke="#555" stroke-width="0.7" fill="none" d="M67.2 122.1V125.1M96.5 122.1V125.1M121.4 122.1V125.1M146.8 122.1V125.1M174.6 122.1V125.1M199.5 122.1V125.1M222.5 122.1V125.1M249.2 122.1V125.1M276.5 122.1V125.1M305.5 122.1V125.1M328.6 122.1V125.1M347.7 122.1V125.1M373.2 122.1V125.1M398.3 122.1V125.1M425.5 122.1V125.1M451.9 122.1V125.1M476.7 122.1V125.1M507.8 122.1V125.1M534.2 122.1V125.1"/><text x="67.2" y="135.9" text-anchor="middle" class="tk">1</text><text x="96.5" y="135.9" text-anchor="middle" class="tk">2</text><text x="121.4" y="135.9" text-anchor="middle" class="tk">3</text><text x="146.8" y="135.9" text-anchor="middle" class="tk">4</text><text x="174.6" y="135.9" text-anchor="middle" class="tk">5</text><text x="199.5" y="135.9" text-anchor="middle" class="tk">6</text><text x="222.5" y="135.9" text-anchor="middle" class="tk">7</text><text x="249.2" y="135.9" text-anchor="middle" class="tk">8</text><text x="276.5" y="135.9" text-anchor="middle" class="tk">9</text><text x="305.5" y="135.9" text-anchor="middle" class="tk">10</text><text x="328.6" y="135.9" text-anchor="middle" class="tk">11</text><text x="347.7" y="135.9" text-anchor="middle" class="tk">12</text><text x="373.2" y="135.9" text-anchor="middle" class="tk">13</text><text x="398.3" y="135.9" text-anchor="middle" class="tk">14</text><text x="425.5" y="135.9" text-anchor="middle" class="tk">15</text><text x="451.9" y="135.9" text-anchor="middle" class="tk">16</text><text x="476.7" y="135.9" text-anchor="middle" class="tk">18</text><text x="507.8" y="135.9" text-anchor="middle" class="tk">19</text><text x="534.2" y="135.9" text-anchor="middle" class="tk">20</text>
<path stroke="#555" stroke-width="0.7" fill="none" d="M68.1 304V307M97.4 304V307M121.4 304V307M147.2 304V307M175 304V307M199.5 304V307M222.6 304V307M249.5 304V307M276.5 304V307M304.6 304V307M328.1 304V307M346.8 304V307M372.3 304V307M397.4 304V307M424.6 304V307M450.8 304V307M475.5 304V307M506.4 304V307M532.7 304V307"/><text x="68.1" y="318.3" text-anchor="middle" class="tk">1</text><text x="97.4" y="318.3" text-anchor="middle" class="tk">2</text><text x="121.4" y="318.3" text-anchor="middle" class="tk">3</text><text x="147.2" y="318.3" text-anchor="middle" class="tk">4</text><text x="175" y="318.3" text-anchor="middle" class="tk">5</text><text x="199.5" y="318.3" text-anchor="middle" class="tk">6</text><text x="222.6" y="318.3" text-anchor="middle" class="tk">7</text><text x="249.5" y="318.3" text-anchor="middle" class="tk">8</text><text x="276.5" y="318.3" text-anchor="middle" class="tk">9</text><text x="304.6" y="318.3" text-anchor="middle" class="tk">10</text><text x="328.1" y="318.3" text-anchor="middle" class="tk">11</text><text x="346.8" y="318.3" text-anchor="middle" class="tk">12</text><text x="372.3" y="318.3" text-anchor="middle" class="tk">13</text><text x="397.4" y="318.3" text-anchor="middle" class="tk">14</text><text x="424.6" y="318.3" text-anchor="middle" class="tk">15</text><text x="450.8" y="318.3" text-anchor="middle" class="tk">16</text><text x="475.5" y="318.3" text-anchor="middle" class="tk">18</text><text x="506.4" y="318.3" text-anchor="middle" class="tk">19</text><text x="532.7" y="318.3" text-anchor="middle" class="tk">20</text>
<path stroke="#555" stroke-width="0.7" fill="none" d="M67.2 453.7V456.7M96.5 453.7V456.7M121.4 453.7V456.7M146.8 453.7V456.7M174.6 453.7V456.7M199.5 453.7V456.7M222.5 453.7V456.7M249.2 453.7V456.7M276.5 453.7V456.7M305.5 453.7V456.7M328.6 453.7V456.7M347.7 453.7V456.7M373.2 453.7V456.7M398.3 453.7V456.7M425.5 453.7V456.7M451.9 453.7V456.7M476.7 453.7V456.7M507.8 453.7V456.7M534.2 453.7V456.7"/><text x="67.2" y="467.3" text-anchor="middle" class="tk">1</text><text x="96.5" y="467.3" text-anchor="middle" class="tk">2</text><text x="121.4" y="467.3" text-anchor="middle" class="tk">3</text><text x="146.8" y="467.3" text-anchor="middle" class="tk">4</text><text x="174.6" y="467.3" text-anchor="middle" class="tk">5</text><text x="199.5" y="467.3" text-anchor="middle" class="tk">6</text><text x="222.5" y="467.3" text-anchor="middle" class="tk">7</text><text x="249.2" y="467.3" text-anchor="middle" class="tk">8</text><text x="276.5" y="467.3" text-anchor="middle" class="tk">9</text><text x="305.5" y="467.3" text-anchor="middle" class="tk">10</text><text x="328.6" y="467.3" text-anchor="middle" class="tk">11</text><text x="347.7" y="467.3" text-anchor="middle" class="tk">12</text><text x="373.2" y="467.3" text-anchor="middle" class="tk">13</text><text x="398.3" y="467.3" text-anchor="middle" class="tk">14</text><text x="425.5" y="467.3" text-anchor="middle" class="tk">15</text><text x="451.9" y="467.3" text-anchor="middle" class="tk">16</text><text x="476.7" y="467.3" text-anchor="middle" class="tk">18</text><text x="507.8" y="467.3" text-anchor="middle" class="tk">19</text><text x="534.2" y="467.3" text-anchor="middle" class="tk">20</text>
<text transform="translate(8.4 84.2) rotate(-90)" class="yl" style="font-size:6.4px" textLength="26.6" lengthAdjust="spacing">-<tspan dx="1.3">log</tspan><tspan font-size="4.5" dy="1.9">10</tspan><tspan dy="-1.9">(</tspan><tspan font-style="italic">p</tspan>)</text>
<text transform="translate(7.5 263.3) rotate(-90)" class="yl" style="font-size:6.6px" textLength="28.3" lengthAdjust="spacing">-<tspan dx="1.3">log</tspan><tspan font-size="4.6" dy="2">10</tspan><tspan dy="-2">(</tspan><tspan font-style="italic">p</tspan>)</text>
<text transform="translate(8.6 416.7) rotate(-90)" class="yl" style="font-size:6.5px" textLength="27.6" lengthAdjust="spacing">-<tspan dx="1.3">log</tspan><tspan font-size="4.5" dy="1.9">10</tspan><tspan dy="-1.9">(</tspan><tspan font-style="italic">p</tspan>)</text>
<text x="298" y="8.1" text-anchor="middle" class="ti" style="font-size:8px">Bentazone_2019</text>
<text x="298" y="182.4" text-anchor="middle" class="ti" style="font-size:8.5px">Bentazone_2020</text>
<text x="298" y="340.9" text-anchor="middle" class="ti" style="font-size:8px">Bentazone_2021</text>
<text x="4.9" y="7.7" class="pl" style="font-size:8.7px">A</text>
<text x="5.6" y="178" class="pl" style="font-size:9.2px">B</text>
<text x="2.6" y="343.4" class="pl" style="font-size:9.5px">C</text>
<text x="298" y="152.2" text-anchor="middle" class="xl">Chromosome</text>
<text x="298" y="484" text-anchor="middle" class="xl">Chromosome</text>
</svg>
</body></html>
